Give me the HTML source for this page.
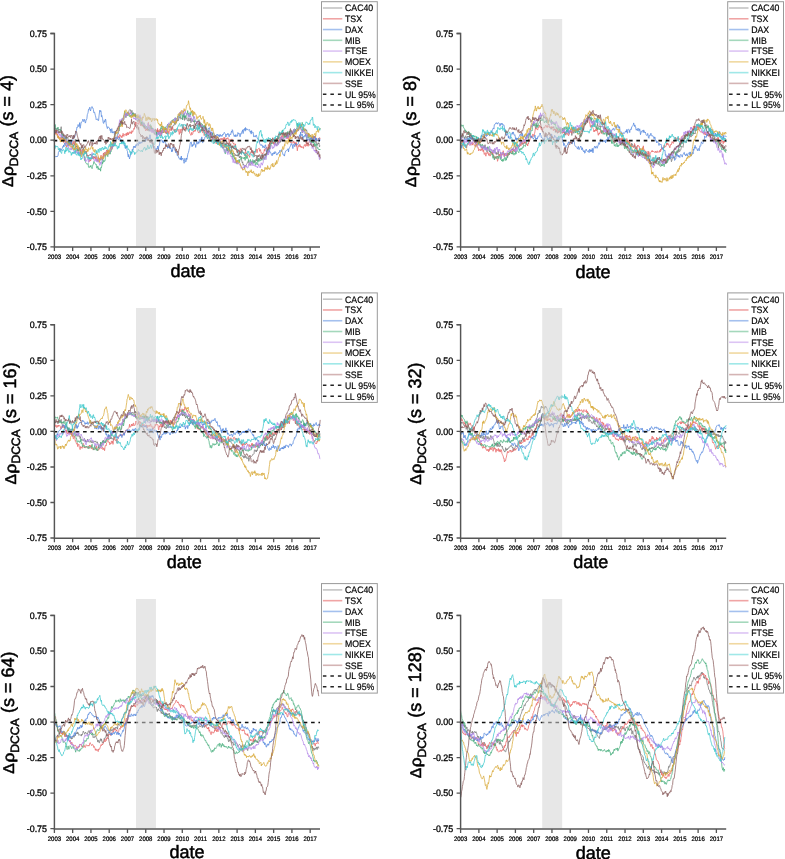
<!DOCTYPE html>
<html><head><meta charset="utf-8"><title>DCCA</title>
<style>html,body{margin:0;padding:0;background:#fff;}svg{display:block;}
text{font-family:"Liberation Sans",Arial,sans-serif;text-rendering:geometricPrecision;fill:#000;stroke:#000;stroke-width:0.3px;}
.big{stroke-width:0.5px;}</style></head>
<body><svg width="785" height="859" viewBox="0 0 785 859">
<rect width="785" height="859" fill="#fff"/>
<g transform="translate(0.00,0.00)">
<g fill="none" stroke-width="0.75" stroke-linejoin="round"><path stroke="#7a7a7a" d="M54.4,128.4l0.4,1.5 0.4-0.1 0.4-1.9 0.4,2.9 0.4-1.1 0.4,0.1 0.4,0.3 0.4-2 0.4,0.9 0.4,0.1 0.4,0.8 0.4-0.9 0.4,0.6 0.4,0.2 0.4-0.1 0.4-0.8 0.4-2.2 0.4,7 0.4,4.2 0.4-1.4 0.4,1.4 0.4-1 0.4,2.5 0.4-2.6 0.4,1.6 0.4-2.7 0.4,3.3 0.4-1.6 0.4,4.2 0.4-3.8 0.4,0.4 0.4,0.3 0.5-1.4 0.4,2.2 0.4,3 0.4-2.2 0.4,2.8 0.4,0.8 0.4,0.5 0.4-2.1 0.4,2.3 0.4-3 0.4-1.5 0.4,0.4 0.4,0.3 0.4-0.4 0.4,2.6 0.4,0.8 0.4,1.3 0.4,0.2 0.4-2.5 0.4-3.3 0.4,4.1 0.4,2.3 0.4,1.1 0.4-1.1 0.4,2.8 0.4,2.3 0.4-0.2 0.4-1 0.4,1.2 0.4-3.6 0.4,2.4 0.4-0.8 0.4,2 0.4-3.4 0.4-0.3 0.4,0.6 0.4,1 0.4,2.1 0.4-0.9 0.4,0.5 0.4-3 0.4,5.1 0.4-2.1 0.4,2.6 0.4-0.8 0.4,0.3 0.4,0.7 0.4-1.9 0.4,4.8 0.4-1.1 0.4,0.3 0.4,1.1 0.4-1 0.4,0.4 0.4-0.8 0.4-0.3 0.4,0.7 0.4-1.3 0.4,0.8 0.4-0.3 0.4,1.5 0.4,2.7 0.4-1.2 0.4-1.4 0.5,2.1 0.4-1.6 0.4,1.3 0.4-1.2 0.4,0.2 0.4-0.2 0.4-0.2 0.4-1 0.4,0.8 0.4,2.8 0.4,1 0.4,0.3 0.4-0.6 0.4,1.5 0.4-2 0.4-0.4 0.4,0.3 0.4,0.9 0.4,0 0.4-2.4 0.4,0.3 0.4-0.6 0.4,2.6 0.4-2.4 0.4,0.1 0.4-1.4 0.4-3.3 0.4,2.3 0.4-1.5 0.4,2.2 0.4-1 0.4-0.3 0.4-2.3 0.4,1.9 0.4-0.1 0.4-2.3 0.4-1.7 0.4-0.5 0.4,1.7 0.4-0.7 0.4,1.4 0.4-0.5 0.4-2.9 0.4-0.3 0.4-1.3 0.4,1.8 0.4-3.1 0.4,1 0.4,0.1 0.4-0.6 0.4-2.8 0.4-3.6 0.4-0.3 0.4-5.5 0.4-3.2 0.4,2.5 0.4,0.3 0.4-2.1 0.4-1.4 0.4,0.7 0.4-1.3 0.4,0.5 0.4-2.4 0.4,1.4 0.5,1.9 0.4-3.6 0.4-2.1 0.4-1.7 0.4-1.2 0.4,3.1 0.4-1.5 0.4-0.9 0.4-1.6 0.4,0.2 0.4-2.6 0.4,1.2 0.4-1.2 0.4-1.8 0.4-0.7 0.4-0.7 0.4-1.9 0.4,3.7 0.4-2 0.4-2.7 0.4,2.4 0.4,0.5 0.4-1.9 0.4,0 0.4-2.3 0.4-1.3 0.4-0.5 0.4-0.6 0.4,0.3 0.4,1.5 0.4,1.2 0.4,0.1 0.4-2.2 0.4,2.6 0.4,1.1 0.4-1.4 0.4,2.6 0.4-0.9 0.4,1.3 0.4-1.9 0.4-0.5 0.4,3.7 0.4-2.3 0.4,1.8 0.4-1.1 0.4,5.6 0.4-0.3 0.4,1.1 0.4-1.5 0.4-1.2 0.4,2.1 0.4-1.6 0.4,3.3 0.4,0 0.4,0.7 0.4,2 0.4-3.8 0.4,2.1 0.4-0.2 0.4,2.5 0.4-0.6 0.4,0.2 0.4,0.1 0.4,2.6 0.4-3.4 0.5,3.6 0.4,0 0.4-0.7 0.4,0.8 0.4,1.4 0.4-2.1 0.4,1.1 0.4,1.5 0.4-1.2 0.4-0.5 0.4,2.4 0.4-1.2 0.4,0.7 0.4-3.4 0.4,1.9 0.4-0.7 0.4-0.3 0.4,1 0.4-0.9 0.4,3.1 0.4-1.8 0.4,0.1 0.4,3.5 0.4,1.1 0.4-2 0.4-0.9 0.4-2.6 0.4,1.3 0.4,4.1 0.4-0.4 0.4-1.3 0.4-2.8 0.4,2.3 0.4,1.5 0.4-1.1 0.4,1.4 0.4-0.6 0.4,0.2 0.4-1.5 0.4,1.4 0.4-3.1 0.4,4.2 0.4-2.7 0.4-0.4 0.4,1.6 0.4-0.3 0.4-1.3 0.4,0.1 0.4-1.9 0.4,2.2 0.4,0 0.4-0.2 0.4,0.4 0.4,1.8 0.4-1.3 0.4-4.6 0.4-0.3 0.4-1.3 0.4-0.1 0.4,1 0.4-0.3 0.4-0.9 0.4,2 0.4-1.3 0.5-1 0.4,1.5 0.4,3.2 0.4-3.1 0.4,1 0.4-2.5 0.4-0.3 0.4,0.4 0.4-1.1 0.4-1.5 0.4,1.2 0.4,0.1 0.4-2.8 0.4,1.3 0.4-2.2 0.4,0.5 0.4-1.6 0.4,1.2 0.4-1.3 0.4,0.8 0.4-3.1 0.4,0.8 0.4-0.9 0.4,0.1 0.4-0.6 0.4,2.4 0.4-0.7 0.4-0.5 0.4,0.1 0.4,0.7 0.4-1.7 0.4-2.8 0.4,0 0.4,5.2 0.4,0.9 0.4-4.5 0.4,2.8 0.4,0.6 0.4-0.2 0.4-1.3 0.4-0.4 0.4,3.3 0.4-0.1 0.4,0 0.4,0.6 0.4-3.4 0.4,2.2 0.4,0.8 0.4,0.3 0.4-2.8 0.4,4.5 0.4-1 0.4-1 0.4-1.4 0.4,0.3 0.4,1.9 0.4-0.1 0.4,0.5 0.4-1.5 0.4,3.2 0.4,1.4 0.4,0.5 0.4-1.7 0.4,1.2 0.4,0.8 0.5,0 0.4-0.7 0.4-1.2 0.4-1 0.4,2 0.4,4 0.4-4.2 0.4,2.1 0.4,0.7 0.4-1.7 0.4-0.1 0.4,0.4 0.4-1.2 0.4-0.6 0.4,0.9 0.4,0.1 0.4,1.7 0.4,0.8 0.4,0.3 0.4-1.1 0.4-2 0.4,1.7 0.4,3.7 0.4,0.8 0.4,3.4 0.4-3.9 0.4,2.2 0.4,0.9 0.4-2.4 0.4,1 0.4,1.2 0.4,0.8 0.4-1 0.4,0.9 0.4-2.1 0.4,2.4 0.4-0.5 0.4-0.4 0.4-0.5 0.4,2.4 0.4,5.2 0.4-0.1 0.4,0.9 0.4,1.5 0.4-4.3 0.4-0.2 0.4,2.5 0.4-3.1 0.4,4.4 0.4-1.9 0.4-0.4 0.4,1.8 0.4-0.6 0.4,1.6 0.4,0.2 0.4-0.1 0.4-2.1 0.4,0.4 0.4,1.9 0.4,1.8 0.4-1.5 0.4,0.1 0.4,3.5 0.4-2.5 0.5,2.1 0.4,1.4 0.4-1.2 0.4,0.2 0.4-1.3 0.4-0.1 0.4,2 0.4-1.3 0.4-0.9 0.4-0.5 0.4,5.9 0.4-3.4 0.4,0.7 0.4,1.3 0.4,2.7 0.4-5.2 0.4,4.1 0.4-2.8 0.4,1.4 0.4,2.4 0.4,0.5 0.4-1 0.4-2.2 0.4,3.4 0.4,0.5 0.4,1.2 0.4-1.8 0.4,0.4 0.4,0.4 0.4-0.4 0.4,1.1 0.4,1.7 0.4-1.5 0.4,0 0.4,0.3 0.4,1.2 0.4-0.7 0.4,0.9 0.4-1.8 0.4,1.7 0.4-2.2 0.4,2.9 0.4,1.2 0.4-2 0.4,0.1 0.4,1.1 0.4-0.8 0.4,2.9 0.4,2.3 0.4,1.3 0.4-1.1 0.4,3.4 0.4-0.9 0.4,0.3 0.4,1 0.4,2.3 0.4-2 0.4-0.6 0.4,0.5 0.4-1 0.4-0.7 0.4-0.8 0.4-1.2 0.4-0.2 0.5-1.5 0.4,2.8 0.4-0.8 0.4,0.8 0.4,2.4 0.4-1.1 0.4-1 0.4,0.3 0.4-2.1 0.4,1.2 0.4-1.6 0.4,0.2 0.4,1.6 0.4,0.3 0.4-0.4 0.4-2.5 0.4,1.8 0.4,0.1 0.4-2.2 0.4-0.9 0.4,1.8 0.4-4.9 0.4,2.8 0.4,2.4 0.4-3.2 0.4,0.9 0.4,0.3 0.4-0.1 0.4,1 0.4-2.4 0.4-1.2 0.4,2.5 0.4-0.3 0.4-4.3 0.4,0.8 0.4,2.2 0.4-3.5 0.4,2.2 0.4,0.1 0.4-0.1 0.4-0.8 0.4,0 0.4-1.6 0.4,2.2 0.4-2.7 0.4,1.8 0.4-0.7 0.4-2.1 0.4-0.9 0.4,1.6 0.4-0.7 0.4-1.8 0.4-1.6 0.4-3.5 0.4,3.2 0.4-3.9 0.4-0.6 0.4-0.7 0.4-3.9 0.4,2.5 0.4-2.1 0.4,3.9 0.4-0.5 0.4-1.9 0.4,2.9 0.5-1.2 0.4-0.3 0.4-1.1 0.4,2.9 0.4-0.3 0.4,1.4 0.4-0.2 0.4-3.6 0.4,0.3 0.4,2.3 0.4-3.6 0.4,1.3 0.4,0.6 0.4-1.1 0.4-2 0.4,2.5 0.4-4 0.4,0.1 0.4,1.6 0.4-1.6 0.4,1.6 0.4-1.2 0.4-0.6 0.4,0.1 0.4-2.5 0.4-2.3 0.4,1.6 0.4-2.4 0.4,1.8 0.4,0.2 0.4-0.2 0.4-2.3 0.4,4.9 0.4-4.3 0.4,0.7 0.4,0 0.4-0.3 0.4-2.3 0.4,4.3 0.4-2.4 0.4,3.6 0.4-1.2 0.4-0.5 0.4-1.3 0.4-0.7 0.4-0.5 0.4,1.7 0.4-3.2 0.4,0.5 0.4-1.7 0.4,1 0.4,3.2 0.4-4.5 0.4,1.2 0.4,1.7 0.4-0.9 0.4,0.3 0.4-1.4 0.4-1.6 0.4,2.4 0.4-0.3 0.4-2.1 0.4-1.7 0.4,0.9 0.5,0.5 0.4-1 0.4,2.6 0.4,0.4 0.4-0.8 0.4,3.5 0.4-3.2 0.4,1.8 0.4-0.7 0.4-2.5 0.4,1.3 0.4,0.8 0.4,0.2 0.4-1.7 0.4,0.2 0.4,1.6 0.4-0.8 0.4,1.8 0.4,3.5 0.4,0.9 0.4-0.3 0.4-2.6 0.4,3.9 0.4,0.2 0.4-1 0.4-0.6 0.4-0.8 0.4,4 0.4-1.5 0.4-0.1 0.4,0.4 0.4,1.2 0.4-2.9 0.4,1.4 0.4-0.1 0.4,4.1 0.4-0.5 0.4,0.6 0.4,1 0.4-1.6 0.4,0 0.4,3 0.4,0.6 0.4,0.8 0.4-2.1 0.4-0.5 0.4,1.3 0.4-1.1 0.4,3.9 0.4-1.1 0.4,0.2"/>
<path stroke="#e86a6a" d="M54.4,134.2l0.4,0.7 0.4-0.7 0.4-1.2 0.4,1.2 0.4-4.2 0.4,3.3 0.4,1.5 0.4-0.8 0.4,4.1 0.4-2.3 0.4,0.7 0.4,0.6 0.4,0.9 0.4,0.8 0.4-1.5 0.4,1.3 0.4,0.7 0.4-0.2 0.4-1.1 0.4,2.5 0.4-0.5 0.4-0.8 0.4,3.3 0.4-2.6 0.4-0.9 0.4,0.2 0.4,3.9 0.4-0.8 0.4,2.5 0.4,2.4 0.4-1.6 0.4,0.5 0.5-2 0.4-1.9 0.4,1.8 0.4,1.8 0.4-1.2 0.4-1.7 0.4,1.2 0.4-1.4 0.4,2.9 0.4-1.5 0.4-3.3 0.4,2.2 0.4,2.3 0.4-2.5 0.4,0.4 0.4,0.1 0.4-2.4 0.4,3.2 0.4,0.6 0.4,2 0.4-0.2 0.4,0.8 0.4,1.2 0.4,0.3 0.4,0 0.4,2.5 0.4-3.2 0.4,2.4 0.4-0.2 0.4,0.5 0.4,0.5 0.4-0.5 0.4-0.1 0.4-0.7 0.4,2.1 0.4-0.2 0.4-2.4 0.4,0.2 0.4,2.1 0.4,0 0.4-0.7 0.4-0.4 0.4,2.1 0.4-1.3 0.4,1.5 0.4-2 0.4,1.4 0.4,0.8 0.4,2.3 0.4-0.3 0.4,0.7 0.4,1.8 0.4-0.1 0.4,0.2 0.4,3.5 0.4,0.2 0.4-2 0.4,1.5 0.4-1 0.4-0.6 0.4-1.2 0.4-0.5 0.4-1.1 0.4,1.5 0.5,1.1 0.4-2.5 0.4,0.6 0.4,1 0.4-1.3 0.4,1.9 0.4-1.5 0.4,2.6 0.4-0.6 0.4,1.9 0.4-2.9 0.4-0.7 0.4-1 0.4,2.5 0.4-1 0.4,0.1 0.4,0.8 0.4,0.4 0.4-2.6 0.4-1.8 0.4,0.7 0.4,0.6 0.4,2.9 0.4-1.9 0.4-1.8 0.4-2.2 0.4,3.8 0.4-4.6 0.4-0.1 0.4-0.5 0.4,1.6 0.4,0.8 0.4-2.6 0.4-1.7 0.4,2.2 0.4-1.7 0.4,2 0.4,0 0.4,0.7 0.4-1.6 0.4-0.6 0.4-0.2 0.4-0.5 0.4,0.8 0.4-2 0.4-2.1 0.4,1.5 0.4,0.7 0.4-1.5 0.4-4.6 0.4-0.2 0.4-0.3 0.4-1.6 0.4-0.4 0.4-0.6 0.4,0.8 0.4,0.4 0.4-0.5 0.4-0.5 0.4-1.9 0.4-2.1 0.4,1.9 0.4-1.9 0.4,0.2 0.5,1.5 0.4-3.3 0.4,0.1 0.4,0.1 0.4,1.8 0.4,0.6 0.4-1 0.4,1.5 0.4-2.6 0.4,1.2 0.4-3.1 0.4,2.4 0.4,0.7 0.4-2.1 0.4,0.2 0.4-0.6 0.4-0.1 0.4,1.7 0.4,0.5 0.4-3.1 0.4,2.3 0.4-1.2 0.4-1.9 0.4,2.9 0.4-1.9 0.4,0.6 0.4-0.7 0.4-1.4 0.4,1.4 0.4,0.4 0.4-1.5 0.4,1.7 0.4-3 0.4,1.4 0.4,0.2 0.4-1.4 0.4-1.3 0.4-1.1 0.4,0.9 0.4-3.1 0.4-0.9 0.4-3.4 0.4,2.5 0.4,1.8 0.4-4.1 0.4,1.8 0.4-0.2 0.4,0.3 0.4-0.5 0.4,1 0.4-4.5 0.4,0.4 0.4,2.1 0.4,1.9 0.4,1.4 0.4-0.4 0.4-1.8 0.4,0.1 0.4,2.6 0.4-1.3 0.4,0.4 0.4,0.8 0.4,1.1 0.4,0.5 0.4,0.5 0.5,0.8 0.4,1.7 0.4-1.4 0.4,0.2 0.4,0.3 0.4,0.6 0.4-2 0.4-1 0.4-5.1 0.4,3.5 0.4-0.3 0.4-0.4 0.4,0.6 0.4,1.2 0.4-0.5 0.4-0.5 0.4,4.9 0.4,0.7 0.4-1.5 0.4,0.8 0.4-0.8 0.4,0.9 0.4,0.5 0.4-0.3 0.4-1.7 0.4,0.5 0.4,0.6 0.4,0.2 0.4,0.5 0.4-0.8 0.4,1.2 0.4-3.3 0.4,2.9 0.4,1.2 0.4-2.1 0.4,2 0.4-1.9 0.4-1.4 0.4,4.2 0.4,2.8 0.4-2.3 0.4-1.1 0.4-3.5 0.4-0.8 0.4,3.4 0.4-0.8 0.4,1.3 0.4-3.6 0.4,1.8 0.4,0.5 0.4,0.8 0.4,1.5 0.4-2.5 0.4-2.6 0.4,2.1 0.4,2.6 0.4,0.2 0.4-2.1 0.4,0.5 0.4,2.9 0.4-2.2 0.4-3.4 0.4-0.6 0.4,0.1 0.5,2.4 0.4-1.6 0.4-0.4 0.4,0 0.4-2.2 0.4,3.1 0.4-0.3 0.4,0.7 0.4,1.2 0.4-1.3 0.4,2.8 0.4-3.7 0.4,0.5 0.4,0 0.4,1.2 0.4-0.1 0.4,0.2 0.4-0.2 0.4-1.4 0.4,1.4 0.4,1.5 0.4,2.4 0.4-2.6 0.4-2.9 0.4,2.5 0.4,1.8 0.4-2.6 0.4-1.4 0.4,0.9 0.4-3.4 0.4-2.4 0.4,2.4 0.4-0.3 0.4,0.1 0.4,1.9 0.4,1.4 0.4-0.4 0.4-1.9 0.4,1.7 0.4-2.6 0.4,2.2 0.4-0.6 0.4,0.2 0.4,0.1 0.4,0 0.4,0.6 0.4-0.4 0.4,4.4 0.4,0.4 0.4,0.7 0.4,1.1 0.4-1.2 0.4-1.9 0.4,2.5 0.4-0.6 0.4-0.8 0.4-2.5 0.4,0.9 0.4-0.4 0.4-0.1 0.4-1.3 0.4,1.3 0.4-2.8 0.4,0.4 0.4-1.5 0.5,0.9 0.4,0.2 0.4,2.7 0.4,1.2 0.4-0.1 0.4,0.8 0.4-1.6 0.4-1.1 0.4,1.4 0.4-1.9 0.4,0 0.4,1.4 0.4-2.5 0.4,2.2 0.4,1.7 0.4-0.2 0.4-0.8 0.4,0.4 0.4,3.5 0.4-2.6 0.4-2.9 0.4,1.5 0.4,2.2 0.4,1.3 0.4,2.2 0.4-2.1 0.4,0.5 0.4,0.5 0.4,2.2 0.4-4.7 0.4,1 0.4,3.3 0.4-0.4 0.4,0.2 0.4,2.2 0.4,0.7 0.4-1.6 0.4,0.8 0.4-0.1 0.4-2 0.4,1.5 0.4-0.3 0.4,0.1 0.4-0.5 0.4,0.2 0.4,2.3 0.4-0.8 0.4,1.8 0.4,1.9 0.4-0.9 0.4-2.4 0.4,0.9 0.4,0.3 0.4-2.7 0.4,1.1 0.4,0.3 0.4-1.1 0.4,0.6 0.4-1.7 0.4,1.1 0.4-0.3 0.4-0.9 0.4,1.7 0.4-1.4 0.5-0.1 0.4,3 0.4-3.2 0.4-0.9 0.4,2.1 0.4-2.1 0.4,2.2 0.4,0.7 0.4-0.2 0.4-2 0.4,0.9 0.4-0.2 0.4,0.1 0.4-1.3 0.4,1.6 0.4,1 0.4,1.9 0.4,1.3 0.4-4.1 0.4,2.1 0.4,0.6 0.4-1 0.4,0.1 0.4-2.2 0.4,0.9 0.4,2.7 0.4,0.8 0.4,0.5 0.4-0.9 0.4,3.3 0.4,1.1 0.4-0.4 0.4-3 0.4,5.6 0.4-1.2 0.4,2.3 0.4,1.6 0.4-0.8 0.4-1.7 0.4,0.3 0.4-0.1 0.4,1.2 0.4-0.7 0.4,1.5 0.4-3.4 0.4,1.2 0.4,0.1 0.4,1.1 0.4,0 0.4-0.8 0.4,2.9 0.4-1.1 0.4,0.4 0.4,1.7 0.4-1.4 0.4,2.8 0.4,0.8 0.4-4.5 0.4-0.3 0.4,2.6 0.4-1.2 0.4,1.9 0.4-1 0.4,1.6 0.5,0.1 0.4,0 0.4,0.8 0.4,1.2 0.4-2.4 0.4-2.7 0.4-0.2 0.4,0.6 0.4-3.1 0.4,1.8 0.4,0.2 0.4,1.9 0.4-1.5 0.4,2.5 0.4,0.4 0.4-0.5 0.4-1 0.4-1.6 0.4-0.9 0.4-1.6 0.4-0.2 0.4,3.2 0.4,0.5 0.4-3.4 0.4-0.5 0.4-0.2 0.4-0.3 0.4-0.3 0.4,3.1 0.4,0.2 0.4-1.9 0.4,1.9 0.4,1.9 0.4-0.5 0.4,0 0.4,1.2 0.4-0.9 0.4,0.4 0.4-0.7 0.4-1.3 0.4-2.2 0.4,1.8 0.4-2.6 0.4-0.2 0.4,0.4 0.4-0.5 0.4-1.3 0.4,4.1 0.4-1 0.4-1.9 0.4-3.6 0.4,1.5 0.4,2.1 0.4-2.3 0.4-4 0.4-0.6 0.4,1.1 0.4,0.8 0.4-2.7 0.4,1.6 0.4,0.3 0.4,0.4 0.4-0.4 0.4,1.2 0.4,0.6 0.5-2.8 0.4-0.7 0.4,0.5 0.4-1.7 0.4-0.1 0.4,0.6 0.4,0 0.4-1.7 0.4,0.5 0.4,2.8 0.4-1.2 0.4,1.3 0.4-2 0.4,0.8 0.4-3.4 0.4,2.2 0.4,0 0.4-3.3 0.4,2.2 0.4-3.7 0.4,0.4 0.4,2.7 0.4-2.4 0.4-0.6 0.4,1.2 0.4,0.3 0.4,0.7 0.4,0 0.4-1.4 0.4,0.6 0.4-0.2 0.4,3.2 0.4-2.6 0.4,2.1 0.4,0 0.4-3 0.4,4.8 0.4-1.3 0.4,2.3 0.4-0.2 0.4,1.6 0.4-0.4 0.4,0.7 0.4-0.4 0.4,0.8 0.4-0.3 0.4-0.5 0.4-0.1 0.4-1.5 0.4,2.8 0.4,0 0.4-1.8 0.4,2.6 0.4-1.8 0.4,3.9 0.4-4 0.4,4.2 0.4,4 0.4-2.8 0.4-1.4 0.4-1.2 0.4,1.5 0.4-0.2 0.4-2.4 0.5,0.6 0.4,2.3 0.4-1.1 0.4,1.6 0.4-1.1 0.4,0.6 0.4,0 0.4-0.2 0.4,1.5 0.4-2.2 0.4-1.1 0.4,0.2 0.4-1.1 0.4,2.2 0.4-0.3 0.4-2.2 0.4-4.4 0.4,6.5 0.4-3.3 0.4,1.8 0.4,1.7 0.4-3.4 0.4-0.2 0.4-2.4 0.4,0.2 0.4-1.3 0.4,2.3 0.4,1.4 0.4,0.6 0.4-2.9 0.4-3.5 0.4,2.4 0.4-0.3 0.4-0.9 0.4,0.4 0.4-2.6 0.4,2.1 0.4-2.3 0.4-0.1 0.4,3.3 0.4,1.6 0.4-0.8 0.4,0.9 0.4-0.7 0.4-0.4 0.4-1.2 0.4-0.5 0.4,1.1 0.4-1.4 0.4,0 0.4,1.1"/>
<path stroke="#5588dd" d="M54.4,156l0.4,0.9 0.4,0.1 0.4-0.5 0.4,0.3 0.4-0.1 0.4-0.7 0.4,0.7 0.4-0.7 0.4-0.1 0.4-3.4 0.4-1.1 0.4-0.2 0.4,0.2 0.4-3.2 0.4,0.7 0.4,1.8 0.4-1.3 0.4,0.8 0.4-1.4 0.4-0.9 0.4-1.3 0.4,0.6 0.4-2.2 0.4,1.8 0.4-2.7 0.4-1.2 0.4,1.7 0.4,0.9 0.4-0.9 0.4-1.4 0.4-2.1 0.4,2.8 0.5,0.3 0.4,2.2 0.4-1.5 0.4-2.5 0.4,0 0.4,0.6 0.4-1.6 0.4-0.9 0.4,0.2 0.4,3.2 0.4-2.4 0.4-0.1 0.4-0.6 0.4-1.3 0.4-3.5 0.4-0.4 0.4,0.8 0.4,1.4 0.4-2.2 0.4-0.3 0.4-0.6 0.4-2.7 0.4-1.5 0.4-3.3 0.4,0.4 0.4-1.3 0.4-1.8 0.4,1.1 0.4,1.2 0.4-0.8 0.4-3.4 0.4,5.7 0.4-1.7 0.4-2.7 0.4-1.8 0.4,0.1 0.4-0.7 0.4-0.7 0.4-1.7 0.4,1.8 0.4,0.7 0.4-1.3 0.4-0.9 0.4,1.8 0.4,1.9 0.4-0.9 0.4-2.6 0.4,0.1 0.4-1.2 0.4-3.9 0.4-0.8 0.4-1.4 0.4-3 0.4,0.4 0.4-1.3 0.4-1.2 0.4,2.5 0.4,1.2 0.4-1.6 0.4-2.1 0.4-0.5 0.4-0.3 0.4,1.5 0.4-0.1 0.5,1.7 0.4,3 0.4-0.6 0.4,0.2 0.4,1.9 0.4,1.5 0.4,1.4 0.4,2.6 0.4,0.4 0.4-0.8 0.4-0.1 0.4,0.2 0.4,1.5 0.4-0.5 0.4-4.4 0.4-2.9 0.4-2.8 0.4,1.6 0.4-1.1 0.4,0 0.4,6 0.4-1.3 0.4,1.7 0.4,1.5 0.4,3.2 0.4,1.5 0.4,0.1 0.4-2.9 0.4,1.3 0.4,0 0.4-2.8 0.4,0.9 0.4,3.9 0.4,2 0.4,1.7 0.4,1.1 0.4-1.9 0.4,0.2 0.4,0.3 0.4,0.8 0.4,0.1 0.4,1.2 0.4,1.4 0.4-1.7 0.4,3.8 0.4-3.4 0.4-0.8 0.4,2.1 0.4,2.4 0.4-1 0.4,0.5 0.4-1.1 0.4,0.7 0.4,5.2 0.4-0.4 0.4,0.6 0.4,1.7 0.4-1.9 0.4,0.8 0.4-0.2 0.4-0.8 0.4,1.8 0.4-0.1 0.4,0.8 0.5-0.3 0.4-2.1 0.4,0.9 0.4,2.6 0.4,0.5 0.4-1.7 0.4,3.4 0.4-1.6 0.4-0.4 0.4,0.2 0.4,0.3 0.4,1.3 0.4-0.6 0.4,3.3 0.4-0.5 0.4,3.3 0.4,0.2 0.4-2.9 0.4,2.1 0.4-1.5 0.4,4.4 0.4,1 0.4,3.9 0.4,1.5 0.4-2.6 0.4,2.4 0.4,2.1 0.4-1.7 0.4-1.3 0.4-0.9 0.4-3 0.4,0.7 0.4,0.8 0.4-4.3 0.4,1.2 0.4-0.4 0.4-3.6 0.4,1.1 0.4-0.3 0.4-1 0.4,1.7 0.4-2.2 0.4-0.6 0.4-0.8 0.4,1.9 0.4-2.7 0.4,0.1 0.4,0.5 0.4,1.4 0.4-2.4 0.4-1.5 0.4,2.4 0.4-1.8 0.4,0.1 0.4,1.3 0.4-1.8 0.4,0.8 0.4,0.5 0.4-1.6 0.4-0.9 0.4,0.7 0.4,0.7 0.4-0.5 0.4,0.2 0.4-0.8 0.5,0.9 0.4-2.8 0.4,1.5 0.4-3.4 0.4,2 0.4-1.3 0.4-0.7 0.4,3.2 0.4-1.2 0.4-1.2 0.4,0.8 0.4-0.8 0.4-3.2 0.4,3.7 0.4,0.1 0.4,3 0.4-1 0.4,3.4 0.4,0.3 0.4,0.8 0.4,1.5 0.4,1.1 0.4-1.3 0.4-0.1 0.4,2.2 0.4-0.4 0.4,1.6 0.4,0.4 0.4-0.2 0.4-1.4 0.4,0.7 0.4-3 0.4,1.5 0.4,2.2 0.4-3.9 0.4,0 0.4-2 0.4-2.9 0.4-0.8 0.4-0.3 0.4,0.3 0.4-0.5 0.4,0.6 0.4,2.1 0.4-1.8 0.4,0.1 0.4,2.4 0.4-1 0.4-1.9 0.4,0.9 0.4,1.1 0.4,0.7 0.4,1.4 0.4,0.3 0.4-0.2 0.4,0.8 0.4,3.1 0.4-1.3 0.4,0.8 0.4-2.3 0.4,0.5 0.4,2.3 0.4-0.8 0.4,1.2 0.5-0.6 0.4,1.3 0.4,2.5 0.4-2.1 0.4,1.6 0.4-4.3 0.4,1.1 0.4-1.1 0.4,0.8 0.4,1 0.4,1.7 0.4,0.1 0.4,2 0.4-1.4 0.4,0.2 0.4,2.1 0.4,1.9 0.4-0.4 0.4,0.9 0.4,1 0.4,1.4 0.4-0.4 0.4,0.4 0.4,1.2 0.4-1.8 0.4,2 0.4-3.8 0.4,4.2 0.4-2 0.4,0.7 0.4-0.6 0.4,1.3 0.4,1.9 0.4,1.8 0.4-1.6 0.4-3.4 0.4,2.5 0.4,1.1 0.4-0.2 0.4-3.7 0.4,1.5 0.4-2.1 0.4-2.7 0.4-1.5 0.4-0.8 0.4-1.8 0.4-1.9 0.4-1.5 0.4-3.1 0.4-1.8 0.4,0.2 0.4-0.4 0.4,2.7 0.4,2 0.4-2.1 0.4,1.3 0.4-1.7 0.4,0.3 0.4-2.5 0.4,2.1 0.4-0.2 0.4,0.7 0.4,2.8 0.4-2.9 0.4-1.6 0.5-1.7 0.4,1.3 0.4,1.6 0.4-0.6 0.4-1.8 0.4,1.5 0.4-3.8 0.4,1.1 0.4,1.3 0.4,0.2 0.4-3.3 0.4,1.6 0.4-3.5 0.4,4.5 0.4,1.3 0.4,0 0.4-3.3 0.4,0.7 0.4-0.5 0.4-0.9 0.4-1.9 0.4,0.1 0.4-0.7 0.4,0.4 0.4-1.1 0.4-1.2 0.4-3.2 0.4-0.6 0.4-2 0.4,0.4 0.4-1 0.4-0.2 0.4,1.8 0.4,2.8 0.4,0 0.4,0.2 0.4,0.6 0.4-1.4 0.4,3.2 0.4,0.1 0.4-2.5 0.4,0.6 0.4,0.4 0.4,0.4 0.4,2.7 0.4,1.6 0.4,0.6 0.4-0.5 0.4-2.6 0.4,1 0.4-2.5 0.4,0.9 0.4-0.6 0.4,1.3 0.4,0.5 0.4-1.5 0.4,2 0.4-1.7 0.4-0.8 0.4,1.7 0.4,0.5 0.4-1.1 0.4,0.7 0.4,0.2 0.5-2.1 0.4,0.6 0.4-0.4 0.4-1.3 0.4-0.7 0.4,0.8 0.4,0.3 0.4,0.5 0.4,3.1 0.4-2.3 0.4-0.7 0.4,0.7 0.4,0 0.4-1.6 0.4,0.9 0.4,0.9 0.4,1.8 0.4-1.6 0.4-1.1 0.4-0.1 0.4,0.7 0.4-2.1 0.4-1.4 0.4,1.3 0.4-2.8 0.4,0.8 0.4,2.5 0.4,1.4 0.4,1.2 0.4,1 0.4-1.5 0.4-0.2 0.4,1.8 0.4-2.1 0.4,1.8 0.4-0.3 0.4-0.1 0.4,0.1 0.4-3.6 0.4,0.8 0.4,0.6 0.4-0.7 0.4,2.4 0.4,1.1 0.4-0.1 0.4-3.1 0.4,0.7 0.4-0.8 0.4-2 0.4,0.2 0.4-1.8 0.4,3.8 0.4-3 0.4-1.5 0.4,0.6 0.4-1.3 0.4,2.8 0.4-3.7 0.4,2.8 0.4-0.6 0.4-1.1 0.4,0.9 0.4,0.1 0.4-0.3 0.5,0.8 0.4,0 0.4-0.3 0.4-0.3 0.4,2.5 0.4,0.5 0.4-1.5 0.4,3.1 0.4-3.5 0.4,1.6 0.4,0.7 0.4-0.2 0.4-0.4 0.4,4.4 0.4,0.1 0.4-0.7 0.4-0.3 0.4,1.3 0.4-0.9 0.4-1.2 0.4,0.2 0.4,1.8 0.4,0.8 0.4,1 0.4,0 0.4,1.2 0.4,0.3 0.4,0.6 0.4,2.3 0.4,1.1 0.4,0.6 0.4-0.1 0.4,0.9 0.4-1.1 0.4,0.5 0.4,0.2 0.4,2.3 0.4-1.3 0.4-0.3 0.4,1.8 0.4,0.2 0.4-1.4 0.4-1.8 0.4,0.2 0.4,2.9 0.4,4 0.4-1.3 0.4,3.5 0.4-0.7 0.4-1.3 0.4,0 0.4-2.1 0.4,2.3 0.4-1.8 0.4,1.5 0.4,0.6 0.4,0 0.4,1.4 0.4,1.1 0.4,0.7 0.4-0.3 0.4-2.5 0.4,1.3 0.4-0.8 0.4-1.2 0.5,1.7 0.4-2.4 0.4,0.6 0.4-0.3 0.4,1.6 0.4,0.5 0.4,1.1 0.4-1.3 0.4-0.1 0.4,0.3 0.4-1.5 0.4-0.5 0.4,0.6 0.4-2.2 0.4-0.3 0.4,0.8 0.4,1 0.4-0.3 0.4-1.9 0.4,1.7 0.4,1.2 0.4,1.7 0.4,0.8 0.4-0.1 0.4-0.4 0.4,1.5 0.4-2.6 0.4-1.4 0.4-1 0.4-0.1 0.4-0.7 0.4-0.2 0.4-0.1 0.4,0 0.4-1.4 0.4,3.4 0.4-2.7 0.4-0.7 0.4-1.3 0.4-0.6 0.4-0.9 0.4-1.5 0.4-0.9 0.4,1.4 0.4-0.3 0.4,1.5 0.4,2.6 0.4-4.1 0.4,0 0.4,0.1 0.4,2 0.4-1.5 0.4-2 0.4,1.8 0.4-0.4 0.4,0.7 0.4-0.2 0.4-0.3 0.4,0.4 0.4-1.1 0.4-1.2 0.4-2.9 0.4-3 0.4-2.2 0.5,1.7 0.4-4.4 0.4,3.3 0.4,0.2 0.4-1.1 0.4-0.5 0.4,2.2 0.4,2.9 0.4-2.7 0.4,0.2 0.4,0.7 0.4-1.8 0.4-0.1 0.4,0.6 0.4-1.8 0.4,2.3 0.4,3.1 0.4,1.5 0.4-1.8 0.4,0.7 0.4,0 0.4-0.2 0.4,0.4 0.4-0.9 0.4,1.6 0.4-2.6 0.4,0.9 0.4-0.4 0.4-1.2 0.4,1.8 0.4,0.6 0.4-1.5 0.4,1.6 0.4-1.7 0.4-1.8 0.4,0.2 0.4-0.1 0.4,0.1 0.4,3.7 0.4-2.5 0.4,2.8 0.4-2.5 0.4,2.4 0.4-0.1 0.4,0.1 0.4,0.5 0.4-0.4 0.4-2.7 0.4,2.7 0.4,0.1 0.4-1.3"/>
<path stroke="#4cb080" d="M54.4,125.1l0.4,2.7 0.4-3.3 0.4,3.2 0.4,0.5 0.4,1.3 0.4-1.2 0.4,0.1 0.4,0.1 0.4-1.5 0.4,3.8 0.4,0.8 0.4,0.9 0.4,0.3 0.4-2.3 0.4-1.1 0.4,2.2 0.4-1.2 0.4,1.6 0.4,5.8 0.4-3.7 0.4,1.3 0.4-1.2 0.4,2 0.4,1.4 0.4,2.5 0.4-1.7 0.4-1.7 0.4,0.3 0.4,1.2 0.4,0.6 0.4,1.3 0.4,2.2 0.5-0.9 0.4,1.3 0.4,0.6 0.4-1.3 0.4,2.1 0.4,1.2 0.4-1.4 0.4,0.1 0.4-0.6 0.4,1 0.4,0.1 0.4,0 0.4,3.9 0.4-1.8 0.4,0 0.4-1.8 0.4,5 0.4-1.5 0.4-0.5 0.4-1 0.4,1.5 0.4,0.1 0.4,1.1 0.4,1.8 0.4-1.2 0.4-1.1 0.4,0.6 0.4,0.5 0.4,2.5 0.4,1.1 0.4-1 0.4,2.8 0.4-4.4 0.4,4.2 0.4-3.3 0.4,1.8 0.4-2.2 0.4,1.9 0.4,0.9 0.4,1.1 0.4-1.2 0.4,1.5 0.4,4.7 0.4-3.9 0.4,4.7 0.4,1.4 0.4,0.2 0.4,0.8 0.4,0.6 0.4,0 0.4-0.3 0.4-0.6 0.4,3.8 0.4,0.4 0.4,0 0.4-0.7 0.4-1 0.4,1.2 0.4-1.8 0.4,2.1 0.4,0.3 0.4,1 0.4-2.1 0.4-2 0.5-0.3 0.4-2.8 0.4,1.2 0.4,0 0.4,1.1 0.4,0.2 0.4,0.4 0.4-0.4 0.4,4 0.4-0.2 0.4,0.1 0.4-2 0.4,3.7 0.4-1.9 0.4,1.1 0.4,1.1 0.4-0.8 0.4-0.6 0.4,2.7 0.4-4.1 0.4,0.6 0.4-2 0.4-3.7 0.4,1.8 0.4-4.2 0.4,2.6 0.4-0.1 0.4-1.6 0.4,0.9 0.4-0.4 0.4-3.5 0.4-2.1 0.4-1 0.4,0.7 0.4-1.1 0.4,0.2 0.4,2.5 0.4-4.4 0.4,2 0.4-0.5 0.4,0 0.4-1.7 0.4,2.1 0.4-3.2 0.4,0.8 0.4-1.4 0.4-2 0.4-1.2 0.4,0.1 0.4-1 0.4-3.1 0.4,2.9 0.4-1.2 0.4-2.5 0.4,1.9 0.4-1.4 0.4,0 0.4-3.1 0.4-0.8 0.4-1.9 0.4-2.8 0.4-0.7 0.4,0.4 0.4-4 0.5-1.3 0.4-1.4 0.4-0.3 0.4-2.8 0.4,0.5 0.4-1.3 0.4-3.3 0.4-0.7 0.4-0.9 0.4,1.3 0.4,0.7 0.4-4 0.4-0.3 0.4-2.8 0.4-2.2 0.4,0.8 0.4,0.5 0.4,1.4 0.4-0.8 0.4,0.7 0.4-0.5 0.4,0.7 0.4-1.8 0.4,3.1 0.4,0.3 0.4,0.7 0.4,0.3 0.4-1.9 0.4,0.5 0.4,1.5 0.4-1.2 0.4,0.6 0.4-2.4 0.4,2.6 0.4-0.8 0.4-2.6 0.4,2.3 0.4-0.1 0.4,0.7 0.4,0.6 0.4-2.1 0.4,3 0.4-0.3 0.4-0.6 0.4,2.6 0.4-1 0.4-1.3 0.4,1.7 0.4-2.3 0.4,0.8 0.4,1 0.4-1.7 0.4,0.4 0.4,3.6 0.4,1.2 0.4,1.4 0.4,1.6 0.4-1.8 0.4-0.9 0.4,1.7 0.4-0.2 0.4,3.9 0.4-4.5 0.4,1.5 0.4,1.1 0.5,0.9 0.4,1.7 0.4-0.5 0.4-1.1 0.4,1.5 0.4-0.2 0.4,0.8 0.4-1.2 0.4,0.1 0.4-0.4 0.4,3.5 0.4-2.7 0.4-1.9 0.4-1.1 0.4,0.5 0.4,2.2 0.4,1.7 0.4-1.5 0.4,0.5 0.4,2 0.4,1.2 0.4-0.1 0.4,0.1 0.4-0.1 0.4-1.1 0.4,0.2 0.4,1.9 0.4,2.9 0.4-3 0.4,3.9 0.4-1 0.4-1.5 0.4,0.8 0.4,0.1 0.4,0.3 0.4-2.8 0.4,0.2 0.4,0.1 0.4-0.3 0.4-4.2 0.4,1.5 0.4-3.2 0.4,0.8 0.4-0.8 0.4,3.2 0.4,3.3 0.4-0.1 0.4-0.4 0.4,0.2 0.4-5 0.4-0.1 0.4,3.2 0.4-3.3 0.4-0.5 0.4-0.5 0.4,0.4 0.4-2.3 0.4,1.6 0.4-0.5 0.4,0 0.4-0.4 0.4-0.2 0.4-1 0.4-1.9 0.5,2.7 0.4,0 0.4-2.1 0.4-0.5 0.4-1.8 0.4,1 0.4-1.8 0.4,0.4 0.4,1 0.4,0.9 0.4,2 0.4-5.8 0.4,3.1 0.4-0.7 0.4-1.5 0.4,0.9 0.4-1.5 0.4-1.6 0.4,1 0.4-0.2 0.4-2.8 0.4,0.8 0.4,1.1 0.4,1 0.4-4.6 0.4,2.1 0.4-0.2 0.4,0.5 0.4,0.9 0.4,4 0.4-5.2 0.4-0.7 0.4,2.7 0.4-3.6 0.4,4.5 0.4-1.5 0.4,1.9 0.4-2.4 0.4,1.1 0.4-3.1 0.4-0.1 0.4,0.2 0.4-3.1 0.4,3.1 0.4-0.6 0.4,3.4 0.4-1.9 0.4-0.7 0.4-1.5 0.4,2.8 0.4-2 0.4-2.2 0.4,1.8 0.4,0.2 0.4,2.7 0.4,0.8 0.4-0.3 0.4,0.5 0.4,3.5 0.4,2 0.4-0.7 0.4-0.7 0.4,0.8 0.4,0.6 0.4-0.3 0.5-0.4 0.4,0.9 0.4-1.5 0.4,0.9 0.4-0.5 0.4-1.7 0.4,3.2 0.4,0.3 0.4,2.8 0.4-0.7 0.4-0.7 0.4-1.2 0.4,0.4 0.4,1 0.4,1 0.4-0.4 0.4,1.1 0.4-0.1 0.4,2.3 0.4-2.4 0.4-0.8 0.4,1.4 0.4,0.1 0.4,3 0.4-1.4 0.4,3.1 0.4,2.8 0.4,1.3 0.4-1.2 0.4,1.2 0.4-1.1 0.4,1.3 0.4,2.9 0.4-1.7 0.4-0.8 0.4,1.8 0.4-1.4 0.4-2.8 0.4-0.8 0.4,2.7 0.4-0.6 0.4,2.8 0.4-0.6 0.4,3.5 0.4-0.5 0.4-2.2 0.4,1.8 0.4,1.6 0.4-2.2 0.4,1.1 0.4-1.6 0.4,4.1 0.4,0.9 0.4,1 0.4-0.5 0.4-1.2 0.4-1.3 0.4-0.1 0.4,3.9 0.4-0.9 0.4-1.6 0.4,0.6 0.4,0.1 0.4,1.9 0.5,2.5 0.4-1 0.4-0.3 0.4,1.7 0.4,0.4 0.4,1.9 0.4,2.8 0.4-0.1 0.4-3.4 0.4-0.1 0.4,0.6 0.4-2 0.4,2.1 0.4-1 0.4,1.7 0.4-1.6 0.4,0.6 0.4-2.3 0.4,1.7 0.4,1.9 0.4,2 0.4-1.3 0.4-2.1 0.4,4.1 0.4-1.1 0.4,3.8 0.4-0.1 0.4-2 0.4,2.3 0.4,1.5 0.4-1.6 0.4,2.3 0.4-1.5 0.4,4.5 0.4-1.6 0.4,2.1 0.4,1 0.4-3 0.4-1 0.4,1.4 0.4-0.9 0.4-1.3 0.4,3.1 0.4-2.7 0.4-0.2 0.4-1 0.4-1.4 0.4,2.1 0.4-1.6 0.4-0.2 0.4,0.6 0.4,0.5 0.4,0 0.4-1.2 0.4,1.2 0.4-1.5 0.4,3.3 0.4-2.3 0.4-3.5 0.4,2 0.4,2 0.4-3.3 0.4,1.7 0.4,1.8 0.5,0.4 0.4,2.2 0.4-0.6 0.4,0.7 0.4-0.9 0.4-1.2 0.4,3.6 0.4-1.7 0.4,2.5 0.4-2.7 0.4-1.3 0.4,0 0.4,0.1 0.4,2.8 0.4-1.4 0.4-0.7 0.4,1.3 0.4,2.2 0.4,0.8 0.4-1.8 0.4-0.8 0.4,1.7 0.4,0.9 0.4-0.6 0.4-4.2 0.4,1.2 0.4-2.9 0.4,3 0.4-0.6 0.4-0.5 0.4,0.3 0.4,0.1 0.4-1.5 0.4-0.6 0.4,1.7 0.4-1.3 0.4-0.5 0.4,0.2 0.4-0.7 0.4-0.8 0.4,0.5 0.4,1.9 0.4-3 0.4,0.7 0.4-0.4 0.4-1.2 0.4-1.1 0.4-1.7 0.4-3 0.4,1 0.4-1.7 0.4,1 0.4-0.3 0.4-0.4 0.4-1.9 0.4-1.4 0.4-0.4 0.4-2.9 0.4,1.1 0.4-2 0.4-0.8 0.4-2 0.4,0.3 0.4,0.1 0.4,1.5 0.5,0.4 0.4-0.2 0.4,1 0.4-1.5 0.4,0.8 0.4,0.1 0.4-1.7 0.4-1.6 0.4,1 0.4-2.2 0.4,1.5 0.4,0.1 0.4-3.2 0.4,0.3 0.4-0.8 0.4-1.3 0.4,1.4 0.4-1.9 0.4,0.2 0.4-1.1 0.4-2.5 0.4,4.4 0.4-1.3 0.4,2.5 0.4,0.7 0.4,1.3 0.4-1.6 0.4,1.1 0.4-1 0.4,2 0.4-1.6 0.4-1 0.4-2.6 0.4-1.3 0.4,4.2 0.4,1.2 0.4-2.4 0.4-0.2 0.4-3.1 0.4,0.4 0.4-1.1 0.4,2.9 0.4-1.4 0.4,0.1 0.4-0.1 0.4,2.3 0.4-0.6 0.4-0.8 0.4-3.3 0.4,2.3 0.4-2.3 0.4,2.2 0.4,0.6 0.4-1.4 0.4-1.8 0.4-0.2 0.4-1.2 0.4-4.7 0.4,4.1 0.4,0 0.4,3.6 0.4-1.6 0.4-0.7 0.4-0.6 0.5-0.6 0.4-1.8 0.4-0.6 0.4-0.4 0.4,1.2 0.4-3.4 0.4,2.4 0.4-0.4 0.4,2.2 0.4,3.1 0.4,0.5 0.4,0.8 0.4,1.6 0.4,1.7 0.4,2 0.4,0.5 0.4-1.1 0.4,1.8 0.4,0.9 0.4-2.1 0.4-0.2 0.4,2.1 0.4-0.5 0.4,1.9 0.4,1.8 0.4-1.9 0.4,2.9 0.4-1 0.4,1.2 0.4-0.7 0.4,1.1 0.4,0.1 0.4-2.4 0.4,2.6 0.4-1.4 0.4,0.8 0.4,3.3 0.4-2.5 0.4,1.7 0.4,1.2 0.4-2.2 0.4,0 0.4,4.1 0.4,0 0.4-0.7 0.4,1.7 0.4,0.1 0.4-0.3 0.4,0.8 0.4-0.8 0.4,1"/>
<path stroke="#b488e8" d="M54.4,130.2l0.4,0.4 0.4,1.6 0.4-0.2 0.4,0.3 0.4,0.6 0.4-1.5 0.4,2.2 0.4-2 0.4-0.1 0.4,1 0.4,0.3 0.4,2.7 0.4-0.5 0.4-1.2 0.4,2.2 0.4-0.3 0.4,1.5 0.4-2.6 0.4,1.2 0.4,0.8 0.4,0.2 0.4-0.7 0.4,1.7 0.4-1 0.4,0.7 0.4,0 0.4,3.4 0.4,1.4 0.4-2.7 0.4,1.7 0.4-1.8 0.4,4 0.5-0.1 0.4,4.3 0.4-0.6 0.4,1.1 0.4,0 0.4,1.7 0.4-0.3 0.4,0.1 0.4-2 0.4,2.4 0.4-2.3 0.4-2 0.4,2.2 0.4,0.7 0.4,1.7 0.4-0.2 0.4,3.1 0.4-0.7 0.4-0.1 0.4-1.5 0.4,2 0.4,0 0.4-0.6 0.4-1.6 0.4,3 0.4-1.2 0.4,0.3 0.4-0.9 0.4,2.2 0.4-2.1 0.4,1.9 0.4-0.3 0.4,0.3 0.4,1.1 0.4-1.1 0.4-0.6 0.4-3.3 0.4,4.2 0.4,0 0.4,1.5 0.4,0.3 0.4,0.9 0.4,2.4 0.4-1.2 0.4,1.2 0.4,2.4 0.4-1.4 0.4,0.3 0.4-0.3 0.4-1.4 0.4-0.7 0.4,1.2 0.4,3 0.4-1.5 0.4-2.6 0.4,0.1 0.4-0.9 0.4,1.8 0.4-2.1 0.4-0.4 0.4-1.2 0.4-3.2 0.4,4.7 0.4-0.8 0.5,1.2 0.4,1.3 0.4,1.6 0.4,1.1 0.4-1.2 0.4-1.3 0.4,1.7 0.4,0.4 0.4-2.6 0.4,3.5 0.4-0.9 0.4,0.9 0.4-0.3 0.4-2.2 0.4,2.7 0.4,1.8 0.4,1.3 0.4-1.7 0.4-1.9 0.4,2.5 0.4-2.6 0.4-0.5 0.4-4 0.4,0.4 0.4,0.3 0.4-0.7 0.4,0.4 0.4-3.3 0.4,0.7 0.4-1.2 0.4,0.1 0.4-1.7 0.4-0.6 0.4,2.2 0.4-1 0.4,0 0.4,2.2 0.4-1.6 0.4-0.1 0.4,0 0.4-0.7 0.4-0.1 0.4-0.8 0.4-2 0.4-1.9 0.4,0.8 0.4-0.3 0.4-2 0.4-2 0.4,0.5 0.4,1.9 0.4-3.2 0.4,0.1 0.4-0.9 0.4-0.2 0.4,0.1 0.4-1.2 0.4-3.3 0.4,0.2 0.4-1.1 0.4,0.1 0.4-1.9 0.4-2.3 0.4-5.6 0.5-3.2 0.4-3.4 0.4-1.3 0.4,1.7 0.4-0.5 0.4-1 0.4-0.9 0.4,0.3 0.4,1.1 0.4-2.4 0.4,2 0.4,0.5 0.4-3.2 0.4-1.5 0.4-2.7 0.4,2.1 0.4,1 0.4-2.3 0.4-1 0.4,1.8 0.4,1.4 0.4-2.3 0.4-0.7 0.4-0.6 0.4-0.1 0.4,2.4 0.4-1.6 0.4,1.3 0.4-2.4 0.4,2 0.4-1 0.4,1.8 0.4,1.1 0.4,0.5 0.4-0.1 0.4,0.8 0.4,1.3 0.4,0.7 0.4-1.3 0.4,1 0.4-0.7 0.4,2 0.4-2.2 0.4-1.5 0.4,3.3 0.4-2.1 0.4-2 0.4,0 0.4,2.5 0.4,1.2 0.4-1.9 0.4,0.4 0.4-3 0.4,1.7 0.4,1.5 0.4-0.5 0.4,1.4 0.4,0.4 0.4,1.2 0.4,0.8 0.4,3.4 0.4-0.9 0.4-0.3 0.4,2.4 0.4-1.5 0.5,0.4 0.4,1.6 0.4-0.1 0.4,2.7 0.4-1.5 0.4-0.5 0.4,0 0.4-3.8 0.4,5.4 0.4-0.7 0.4-1.6 0.4,3 0.4,1.6 0.4-2.4 0.4,3.2 0.4-1.1 0.4-0.5 0.4,2.8 0.4-1.7 0.4-2.4 0.4,4 0.4-4.4 0.4,2.3 0.4,0.9 0.4-0.2 0.4,2.2 0.4-0.3 0.4,2.3 0.4,0 0.4,1.4 0.4-1.5 0.4-2 0.4-1.1 0.4,2.2 0.4-2.2 0.4-0.2 0.4,3.6 0.4-3.7 0.4,1.1 0.4,1 0.4-0.1 0.4,1.8 0.4-4.4 0.4,0.5 0.4-1.7 0.4,1.7 0.4-0.7 0.4-1.2 0.4,1.8 0.4,0.1 0.4-2 0.4,1.1 0.4,0.6 0.4-0.6 0.4-1.8 0.4-1.6 0.4-3.2 0.4,1.1 0.4-1 0.4-1.8 0.4,1.9 0.4-0.3 0.4,0.8 0.4-1.9 0.5-0.9 0.4-0.8 0.4-1.1 0.4,1.8 0.4-0.8 0.4,0.1 0.4,0.6 0.4-0.3 0.4-0.3 0.4-3.6 0.4,4.5 0.4-3.4 0.4-1.2 0.4,0.7 0.4,0.2 0.4,1.3 0.4-1.2 0.4-1.4 0.4,0.3 0.4-1.2 0.4-1.5 0.4-0.7 0.4-2 0.4,1.1 0.4-1.9 0.4,1.1 0.4,0.5 0.4,1 0.4-2.9 0.4,0.4 0.4-1.4 0.4,1 0.4,2.4 0.4,1.7 0.4-2.6 0.4,0.5 0.4-2.7 0.4,2.6 0.4-0.1 0.4,1.3 0.4,0.5 0.4,0 0.4-1.5 0.4,3.6 0.4,0.3 0.4-0.7 0.4-2.1 0.4,2.8 0.4-2.4 0.4,1.7 0.4-0.2 0.4,3.4 0.4-1.9 0.4,3.6 0.4-0.3 0.4-1.1 0.4-1.4 0.4-2.8 0.4,2.3 0.4-1.4 0.4,1.8 0.4,0.5 0.4,2.2 0.4,0.1 0.4,1.3 0.5,1.5 0.4-3 0.4,1.3 0.4-0.6 0.4-0.9 0.4,0 0.4,3.4 0.4-0.3 0.4,0 0.4,2.2 0.4,0.2 0.4-1.4 0.4,2.9 0.4-2.8 0.4,2.1 0.4,0.4 0.4,0.8 0.4-1.2 0.4,1.7 0.4-0.3 0.4,1.8 0.4-0.6 0.4-0.3 0.4,1.2 0.4-0.2 0.4,2.8 0.4,0.2 0.4-2.1 0.4,3.3 0.4-1.3 0.4,1.4 0.4,0.1 0.4,2.4 0.4-1.9 0.4,0.1 0.4-3.1 0.4,0.3 0.4,3.1 0.4-0.5 0.4,1.6 0.4,1.9 0.4-2.4 0.4,0.9 0.4-0.1 0.4,2 0.4-2.4 0.4,1 0.4-0.5 0.4,2.9 0.4,1.9 0.4-2.2 0.4-0.9 0.4,2.3 0.4-2.5 0.4,0.8 0.4,0 0.4,4.2 0.4-4.6 0.4,4.6 0.4,0.5 0.4-1.4 0.4,0.9 0.4,3.1 0.4,0.4 0.5-1.3 0.4-1.6 0.4,5.5 0.4,0.7 0.4,1.1 0.4,0.6 0.4,0 0.4-0.8 0.4-2.8 0.4,2.3 0.4-0.5 0.4,2.6 0.4-0.8 0.4,2.2 0.4-2.7 0.4-2 0.4,2.8 0.4,0.7 0.4,0.9 0.4,0.7 0.4-0.1 0.4,2.2 0.4-1.2 0.4,1.5 0.4,2 0.4-2.1 0.4,5.3 0.4-2.7 0.4-1 0.4,3.7 0.4-0.8 0.4,1.5 0.4-2.7 0.4,2.6 0.4-1.5 0.4,0.3 0.4-0.9 0.4,2.6 0.4-1.5 0.4,0.7 0.4,1.1 0.4-0.1 0.4,0.5 0.4-0.6 0.4,2.2 0.4-0.4 0.4,2.6 0.4-0.6 0.4-0.5 0.4,2 0.4-1.4 0.4-0.9 0.4,1.3 0.4,0.2 0.4-3.3 0.4,1.8 0.4-1.6 0.4,0.6 0.4,1.2 0.4,0 0.4-1.3 0.4,2.2 0.4,0 0.4-0.1 0.5-1.1 0.4-3.1 0.4,1.4 0.4-1.9 0.4-1.2 0.4,0.4 0.4,1 0.4,0.6 0.4-2.4 0.4,4.2 0.4-3 0.4,1.7 0.4,1 0.4,0.1 0.4-1 0.4,0.5 0.4,0.9 0.4,0.6 0.4-1.4 0.4,1.2 0.4,0.7 0.4-0.3 0.4-0.3 0.4,1.6 0.4-1.7 0.4-0.3 0.4-2.2 0.4,1.9 0.4,0.5 0.4,1.7 0.4-0.6 0.4-2.5 0.4-2.1 0.4,1.4 0.4,0.1 0.4,1 0.4-2.4 0.4,0 0.4-4.9 0.4,1.6 0.4-1.9 0.4-1 0.4,0.5 0.4-1.2 0.4,3.8 0.4-3.3 0.4-1 0.4-1.1 0.4,0.2 0.4-3.9 0.4,4.3 0.4-1.3 0.4-3.7 0.4-0.3 0.4-0.7 0.4,0.2 0.4-2.3 0.4-1.4 0.4-0.2 0.4,0.5 0.4,2.9 0.4-0.3 0.4-1.5 0.4,1.4 0.4-0.9 0.5-3.6 0.4,2.7 0.4-1 0.4-2.4 0.4,1 0.4,0.9 0.4,1.3 0.4-1.4 0.4,0.4 0.4-0.3 0.4-2.2 0.4,0.6 0.4,0 0.4-3.7 0.4,1.1 0.4-2.9 0.4,1 0.4-2.3 0.4,1.7 0.4-0.4 0.4-0.6 0.4,1.5 0.4,0.8 0.4,1.1 0.4-0.1 0.4-1.3 0.4-0.9 0.4-0.7 0.4-0.1 0.4,1 0.4-0.6 0.4-3 0.4,1.3 0.4,0.3 0.4,1.5 0.4-4.3 0.4,1 0.4,1.7 0.4,0.1 0.4,0 0.4-0.6 0.4-3.5 0.4,0.3 0.4,0.8 0.4-2.3 0.4,2.2 0.4,0.3 0.4-0.7 0.4-3.1 0.4,0.1 0.4-1.5 0.4,2.7 0.4,1 0.4,0.2 0.4,0.6 0.4-1.8 0.4-1.9 0.4,0.8 0.4-0.2 0.4,1.2 0.4-0.7 0.4-4.4 0.4,0.2 0.4,1.2 0.5-3.5 0.4,0.2 0.4,0.7 0.4,1.2 0.4,2.6 0.4,3.6 0.4-1.4 0.4,0.6 0.4,0.8 0.4-1.6 0.4,2.6 0.4-0.1 0.4,0 0.4-0.2 0.4-0.1 0.4,4 0.4-3.2 0.4,3.4 0.4,0.7 0.4-0.1 0.4,1.2 0.4,0.7 0.4-0.2 0.4,1.7 0.4,1 0.4,1 0.4,0.6 0.4-1 0.4,0.7 0.4,3 0.4,2.2 0.4-1.4 0.4-1.3 0.4,1.6 0.4,2 0.4,1.7 0.4-1 0.4,1.4 0.4-1.5 0.4,2.8 0.4-1.2 0.4,1.1 0.4-2.1 0.4,3.4 0.4-1.1 0.4,0.7 0.4,2.8 0.4-0.5 0.4,3.6 0.4,0.2 0.4-2.2"/>
<path stroke="#d8aa3a" d="M54.4,129.7l0.4,3.5 0.4-1 0.4,0.1 0.4,0.6 0.4,0.3 0.4,1 0.4,2 0.4-0.4 0.4,2 0.4-1.7 0.4,2.7 0.4-1.1 0.4,2.3 0.4-0.6 0.4,2.7 0.4-3.3 0.4,3.2 0.4-1.2 0.4,1 0.4-3.1 0.4-1 0.4,0.7 0.4,1.2 0.4,1 0.4-0.7 0.4-0.8 0.4,0.2 0.4,1.8 0.4,0.9 0.4-0.2 0.4,0.5 0.4-0.9 0.5,1.1 0.4,1.6 0.4,0.7 0.4-0.4 0.4-0.7 0.4,0.8 0.4,2.6 0.4,0 0.4-0.8 0.4,0 0.4,0.9 0.4,0.2 0.4-1.2 0.4,3.1 0.4-0.8 0.4,0.9 0.4,0.6 0.4-1.3 0.4-0.7 0.4,2.5 0.4-7.8 0.4,0.8 0.4,1.5 0.4-1.4 0.4,0.8 0.4,3.9 0.4-2.8 0.4,0.8 0.4,3.2 0.4,0.7 0.4,0.8 0.4,0.1 0.4,0.9 0.4,2.8 0.4,2 0.4-0.8 0.4-2 0.4-3.4 0.4,3.2 0.4,0.6 0.4-0.8 0.4-4.3 0.4,3 0.4-0.8 0.4-2.6 0.4-1.6 0.4,2.5 0.4-0.5 0.4,0.8 0.4,1.6 0.4-2.3 0.4,2 0.4-3.6 0.4,1 0.4,0.5 0.4-0.3 0.4,0.2 0.4,0 0.4-1.8 0.4-1.1 0.4,0 0.4,1.2 0.4,1.7 0.4-1.9 0.5,4 0.4-0.7 0.4-0.1 0.4,1.8 0.4-3 0.4,1 0.4,0.8 0.4,0.6 0.4,2.5 0.4-0.9 0.4,0.1 0.4,1.3 0.4,1.5 0.4,1.5 0.4,1.9 0.4,2.9 0.4-3 0.4-1.4 0.4-1.5 0.4,1.1 0.4-0.7 0.4-0.5 0.4,2.3 0.4,0.2 0.4-1.9 0.4,2 0.4-1.7 0.4-3.2 0.4,0.5 0.4,0.4 0.4,0.2 0.4-1.8 0.4-1.5 0.4,0.3 0.4,3 0.4-3 0.4,0.8 0.4-3.3 0.4,3.8 0.4-0.3 0.4-2.4 0.4-0.4 0.4-2.3 0.4-2.8 0.4-1.7 0.4-1.2 0.4,2.5 0.4-0.4 0.4-1.6 0.4-3.4 0.4,1.2 0.4-1.9 0.4-2.5 0.4-1.1 0.4,0.3 0.4-3.1 0.4,0 0.4-0.4 0.4,1.6 0.4-2.1 0.4,0.4 0.4,0.8 0.4-1.7 0.4-3.9 0.5,0.3 0.4-0.4 0.4,0 0.4-0.4 0.4-0.2 0.4,0.2 0.4-3.2 0.4,1 0.4,2.3 0.4-5.8 0.4-1.1 0.4-2.4 0.4-2.3 0.4-0.3 0.4-4.3 0.4,1.1 0.4-1.3 0.4-0.7 0.4,0.5 0.4,0.7 0.4,2.3 0.4-1 0.4-0.2 0.4,1.6 0.4,0.2 0.4-0.3 0.4,2 0.4,0.2 0.4-0.1 0.4,1.8 0.4,0 0.4,0.9 0.4-2.8 0.4,1.7 0.4-1.7 0.4,1.4 0.4-2.5 0.4-0.3 0.4,2.3 0.4-2.1 0.4,0.2 0.4,0.2 0.4,0.3 0.4,2.9 0.4-1.3 0.4-0.6 0.4,2 0.4-3.6 0.4,1.4 0.4,2.3 0.4-0.3 0.4,0.6 0.4-0.9 0.4,0.9 0.4-0.4 0.4,2 0.4,0.8 0.4-0.6 0.4-0.4 0.4-3.1 0.4,1.5 0.4-1.4 0.4-0.3 0.4-3.1 0.4,1 0.5,1.1 0.4,2.1 0.4,3.3 0.4-3.3 0.4,0.1 0.4,2.6 0.4-0.6 0.4-3 0.4,2.1 0.4-1.4 0.4,2.3 0.4-2.2 0.4,1.7 0.4,0.7 0.4-1.9 0.4,2.7 0.4,1.3 0.4-2 0.4,0.3 0.4-2.1 0.4,0.2 0.4,0.9 0.4,0.4 0.4,1.1 0.4-2.6 0.4,0.6 0.4,1.1 0.4-0.2 0.4-0.9 0.4,0 0.4,1.8 0.4-1.1 0.4,3.5 0.4,0.7 0.4-0.5 0.4,1.4 0.4,0.7 0.4-1.1 0.4,2.1 0.4-1.9 0.4,0.9 0.4-3.4 0.4,4.8 0.4-0.4 0.4,0.1 0.4,2.9 0.4-3 0.4,6.2 0.4-3.1 0.4-1.6 0.4,1.8 0.4-1.4 0.4,0.5 0.4,0.6 0.4-0.3 0.4,1.8 0.4,0.5 0.4,0.3 0.4-3.5 0.4-1.8 0.4-1.8 0.4,0.6 0.4,1.3 0.4-2.9 0.5-0.4 0.4,1.8 0.4-1.7 0.4-2.7 0.4,1 0.4,1.3 0.4-2 0.4,2.3 0.4-0.9 0.4-0.4 0.4,0.7 0.4-1.2 0.4,2.2 0.4,0.3 0.4-3.4 0.4,0.8 0.4-2.5 0.4-1.9 0.4-2.6 0.4-0.4 0.4-0.4 0.4,2.5 0.4-0.7 0.4-2.6 0.4,1.2 0.4-0.8 0.4-2.3 0.4-0.4 0.4,2.4 0.4,1 0.4-0.4 0.4-2.3 0.4,0.9 0.4-3.3 0.4,2.4 0.4-1.2 0.4,0.1 0.4,0.5 0.4-1.9 0.4-2.9 0.4,0.1 0.4-1 0.4-0.1 0.4-0.6 0.4-3.3 0.4,2.4 0.4,2.4 0.4,2.5 0.4,1.6 0.4-1.8 0.4,3.6 0.4,0 0.4-0.6 0.4,1.9 0.4-2.3 0.4,5.6 0.4-0.4 0.4-4.3 0.4,3.4 0.4-2.6 0.4,0.6 0.4,1.7 0.4-0.3 0.4,0.6 0.4,2.8 0.5,1.9 0.4-2.7 0.4,0.9 0.4,0.2 0.4-0.5 0.4-1.4 0.4,0.6 0.4-0.2 0.4-1.2 0.4,3 0.4-0.3 0.4,1.7 0.4-0.6 0.4-0.8 0.4-0.4 0.4-1.4 0.4,1.3 0.4,4.5 0.4,1.2 0.4-3.7 0.4,3.6 0.4,3.1 0.4-2.7 0.4,1.5 0.4,0.3 0.4-3.1 0.4,0.6 0.4-0.3 0.4,2.1 0.4-0.1 0.4,1.7 0.4-2.7 0.4,1 0.4-0.1 0.4,3.6 0.4-0.3 0.4,0.2 0.4,3 0.4-1 0.4-2.1 0.4,1.8 0.4,2.7 0.4,0.1 0.4,5.3 0.4-1.7 0.4,2.5 0.4,0.5 0.4,0.2 0.4-1.5 0.4,1.1 0.4-2.9 0.4,0.4 0.4,1.8 0.4,0.5 0.4,3.2 0.4,0.7 0.4,2.8 0.4-1.5 0.4-2.1 0.4,0.8 0.4,2.5 0.4-2.2 0.4-2.1 0.4,0.2 0.5,1.2 0.4,3.6 0.4-0.1 0.4-0.6 0.4,1.5 0.4-2.3 0.4,2.6 0.4-2 0.4,0.6 0.4,0.8 0.4,1.3 0.4-1.6 0.4-0.2 0.4,1.2 0.4-0.6 0.4,3.9 0.4-5 0.4,3.6 0.4,1.7 0.4,2.9 0.4-0.9 0.4-0.6 0.4-0.9 0.4,0.3 0.4-1.8 0.4,0.1 0.4,2.4 0.4-0.5 0.4,3.8 0.4,0.9 0.4,0.8 0.4,0.3 0.4,1.9 0.4-1.8 0.4,5.1 0.4-2.6 0.4,0.8 0.4,1 0.4-1.5 0.4,2.5 0.4,0.1 0.4-1.1 0.4,0.3 0.4,1.5 0.4,0.1 0.4,2.3 0.4-0.2 0.4,1.4 0.4,1.2 0.4-0.1 0.4,1.9 0.4-1 0.4,0.9 0.4-0.6 0.4-0.3 0.4-1.2 0.4,1.8 0.4,1.1 0.4,1.6 0.4,0 0.4-1.5 0.4,1.6 0.4-0.3 0.4,3.7 0.5-4.7 0.4,1 0.4,0.8 0.4-1.4 0.4-1 0.4,0.6 0.4,0.9 0.4-2.5 0.4,3.1 0.4-0.7 0.4-0.1 0.4,1.3 0.4-1.8 0.4-0.2 0.4,2 0.4,0.9 0.4-0.9 0.4,2.1 0.4,0.4 0.4,0 0.4-2 0.4,1.8 0.4,1.3 0.4-1.6 0.4-1 0.4,2.2 0.4-3 0.4,2.5 0.4-0.4 0.4-0.3 0.4-1.9 0.4-0.7 0.4-2.1 0.4-1.4 0.4,1.3 0.4-0.9 0.4,2.2 0.4-1.4 0.4,0.3 0.4-0.7 0.4,1.4 0.4-3.7 0.4-0.5 0.4,2.2 0.4-0.1 0.4-0.2 0.4-1.5 0.4,2.1 0.4-4.1 0.4,0.9 0.4,2.4 0.4,0.1 0.4-1.2 0.4,1.9 0.4-0.4 0.4-0.9 0.4-2.1 0.4-1.7 0.4-0.2 0.4,0.1 0.4,2.1 0.4-3.4 0.4,2 0.4,1.8 0.4,0 0.5-1.7 0.4,0.1 0.4-2.8 0.4,2.2 0.4-1.6 0.4-2.7 0.4,3.3 0.4-1.2 0.4-0.8 0.4-1.8 0.4-1.5 0.4-1.5 0.4-0.4 0.4-2.3 0.4,2.1 0.4-4 0.4-0.3 0.4-0.1 0.4-1.1 0.4-1 0.4-2 0.4-1.4 0.4,2.9 0.4,0 0.4-2.2 0.4-2.7 0.4,1.1 0.4-4.8 0.4,0.4 0.4-0.8 0.4,0.5 0.4,2.6 0.4,0.2 0.4,0.5 0.4-4.4 0.4,2.5 0.4-2.9 0.4,2.9 0.4-4.1 0.4-2.2 0.4,3.2 0.4-0.5 0.4-1.5 0.4,0.2 0.4,1.2 0.4-1.4 0.4-2.3 0.4-1.1 0.4,3 0.4-1.4 0.4,0.1 0.4-2.5 0.4,1.3 0.4-2.2 0.4,2.3 0.4-4.5 0.4,2 0.4-1 0.4-1.7 0.4,0.4 0.4,0.6 0.4-1.1 0.4-2.7 0.4-1.9 0.5,1.1 0.4,0.7 0.4-0.1 0.4-1.5 0.4,2.2 0.4,0.5 0.4,0.6 0.4-0.4 0.4-0.2 0.4,0.1 0.4,2.8 0.4,0.2 0.4-0.6 0.4,0.6 0.4,0.6 0.4,2.4 0.4,0 0.4,0.1 0.4,0.1 0.4-0.4 0.4,0.1 0.4-0.3 0.4,3.6 0.4-2.9 0.4,2.7 0.4-1.2 0.4,1.1 0.4,0.2 0.4,0.6 0.4-1.8 0.4-1.3 0.4,4.2 0.4-2.3 0.4-0.6 0.4-0.3 0.4-0.7 0.4,0.1 0.4-1.3 0.4,3.2 0.4,0 0.4-4.9 0.4,0.1 0.4,0.5 0.4-0.6 0.4-1.8 0.4,1.5 0.4,1.2 0.4-3.6 0.4,0.9 0.4-0.1 0.4-1.6"/>
<path stroke="#3cc8cc" d="M54.4,147.8l0.4,0.6 0.4,0 0.4-2.8 0.4,1.5 0.4-0.6 0.4,0.5 0.4-0.4 0.4-0.2 0.4,0.7 0.4,2.9 0.4-0.2 0.4-1.4 0.4,1.5 0.4,1.6 0.4-0.8 0.4,1.5 0.4,0.8 0.4,0.5 0.4-2.5 0.4-1 0.4,0.6 0.4-1 0.4-0.2 0.4,0.9 0.4,0.7 0.4,2.7 0.4-3.5 0.4,1.7 0.4-4.8 0.4,4.1 0.4-0.9 0.4,0.2 0.5-2.5 0.4,0 0.4,3 0.4,1.4 0.4-0.6 0.4-1.1 0.4,1.6 0.4-0.2 0.4-0.1 0.4,3.4 0.4-1.9 0.4,0.8 0.4-2.1 0.4,1.1 0.4-1.1 0.4,1.2 0.4,0.5 0.4-1.9 0.4-1.6 0.4-0.8 0.4,4.5 0.4-0.1 0.4,1 0.4,0.4 0.4-1.1 0.4-0.7 0.4-1.4 0.4,3.2 0.4-1.8 0.4,2.2 0.4,0.3 0.4-1.1 0.4,2.1 0.4,2.9 0.4-1 0.4-0.9 0.4,0.6 0.4-2.3 0.4-0.6 0.4-1.3 0.4,0.4 0.4-1.8 0.4,1.3 0.4-3.2 0.4,0.8 0.4,1.9 0.4-1.2 0.4,2.3 0.4,2.7 0.4-0.3 0.4,0.6 0.4,0 0.4-1.4 0.4,2.8 0.4-1.9 0.4,1.6 0.4-1.6 0.4,1.8 0.4-0.8 0.4-0.8 0.4,1.4 0.4-4.3 0.4-0.1 0.4,0.2 0.5-1.5 0.4,1.4 0.4-1.2 0.4,0.8 0.4,1.1 0.4-0.3 0.4-1.8 0.4-3.1 0.4,2.6 0.4,0.1 0.4-0.3 0.4-1.7 0.4-1.9 0.4,0.9 0.4,2.6 0.4-3.8 0.4-0.5 0.4,0.9 0.4-0.6 0.4,2.5 0.4-3.1 0.4,0.3 0.4-0.6 0.4-0.6 0.4,2.6 0.4-1.1 0.4,1.1 0.4-1.8 0.4,0.8 0.4-2.4 0.4,1.1 0.4,1.3 0.4-1.4 0.4,0.9 0.4,1 0.4,0.5 0.4,0 0.4-1.7 0.4-1.8 0.4-0.5 0.4-1.2 0.4,1.1 0.4,1.4 0.4-5.5 0.4,2.3 0.4,1.9 0.4-1.2 0.4-0.8 0.4,2.2 0.4-0.8 0.4-0.3 0.4,1.2 0.4-0.8 0.4,1 0.4-2.5 0.4,1.2 0.4,1.3 0.4-0.9 0.4,0 0.4,1.5 0.4,2.4 0.4-0.8 0.4-2.5 0.4,2.2 0.5-0.5 0.4-4.2 0.4-0.1 0.4,0.6 0.4-0.7 0.4,0.9 0.4-2.6 0.4,2.3 0.4-1.2 0.4-0.9 0.4,2.5 0.4-2 0.4-1 0.4,3.2 0.4-1.1 0.4-0.4 0.4,3.6 0.4,1.7 0.4-1.3 0.4,0.3 0.4-1.7 0.4,2 0.4,0.3 0.4,1.7 0.4-0.4 0.4,1.1 0.4,0.1 0.4,2.1 0.4-1 0.4,3.6 0.4-1.2 0.4-1.8 0.4,0.4 0.4-1.6 0.4-0.9 0.4,1.9 0.4-0.1 0.4-0.1 0.4,1 0.4,2 0.4-2.1 0.4,0.8 0.4-0.3 0.4,0 0.4-0.6 0.4-1.5 0.4,0.4 0.4-0.8 0.4-1.1 0.4,0.5 0.4,1 0.4,0 0.4-0.4 0.4,0.3 0.4,0.6 0.4-0.2 0.4-0.9 0.4,0.4 0.4,1.3 0.4-1.4 0.4-1.2 0.4,0 0.4-1.6 0.4,0.3 0.4-0.9 0.5,0.9 0.4,2.3 0.4-1.3 0.4-0.8 0.4,1.6 0.4-1.7 0.4-2.9 0.4,0 0.4,3.4 0.4,0 0.4-1.3 0.4,1.2 0.4-1.4 0.4-1.2 0.4-1.2 0.4,1.5 0.4,2.2 0.4-1.6 0.4-1.6 0.4-1.9 0.4,0.2 0.4,0.4 0.4,0.6 0.4-0.2 0.4-0.7 0.4-2.5 0.4-1.1 0.4-2.3 0.4,0.5 0.4-1.4 0.4,2.1 0.4-2.3 0.4,0.7 0.4,1.1 0.4-1.8 0.4-0.9 0.4-1 0.4,1.5 0.4,1.8 0.4-1.4 0.4-0.6 0.4-1.3 0.4,3.1 0.4-1.3 0.4,2.4 0.4-1 0.4-0.3 0.4-0.2 0.4-0.6 0.4-0.7 0.4-0.5 0.4,3.7 0.4-2.3 0.4-1.1 0.4,0.5 0.4,0.2 0.4-3.9 0.4,1.4 0.4,0.8 0.4,3.9 0.4-2.1 0.4,0.6 0.4-1.3 0.4,0.2 0.5-4.1 0.4,1 0.4,1.3 0.4,0.8 0.4-3.8 0.4,2.3 0.4,0.1 0.4-1.4 0.4-0.2 0.4-3 0.4,1.9 0.4-0.5 0.4,1.8 0.4-1.2 0.4,0.7 0.4-3.7 0.4,1.5 0.4-2.9 0.4-0.1 0.4-1.7 0.4-0.6 0.4-0.4 0.4-0.6 0.4,2.9 0.4-0.6 0.4,0.4 0.4,0 0.4-2.2 0.4,0.4 0.4,3.9 0.4-1.7 0.4-0.2 0.4-2.2 0.4,0.5 0.4,0.1 0.4,0.3 0.4-0.4 0.4,1.4 0.4-1.4 0.4,3.9 0.4-0.9 0.4,1.3 0.4,0.7 0.4,0.6 0.4,1.3 0.4-2.5 0.4-0.3 0.4,1.3 0.4-1.9 0.4-2.6 0.4,4.1 0.4-1.3 0.4,1.4 0.4,1.1 0.4-1.7 0.4-0.8 0.4,2.1 0.4-1.9 0.4-2.7 0.4,2.8 0.4-0.3 0.4,0.2 0.4,1 0.4,0.2 0.4-0.7 0.5-2.4 0.4-1.6 0.4,5.5 0.4-0.8 0.4-2.3 0.4,1.8 0.4-2.8 0.4,3.2 0.4,2.9 0.4-2.9 0.4-0.1 0.4-0.5 0.4,1.4 0.4-4.3 0.4,1.4 0.4,0.7 0.4,3.2 0.4-0.9 0.4,2.3 0.4-0.9 0.4,3.3 0.4,0.1 0.4-1.4 0.4,2.4 0.4-1.2 0.4,1.2 0.4,2.6 0.4-0.7 0.4-1.5 0.4-0.2 0.4-0.1 0.4,1.9 0.4,0.9 0.4,1.7 0.4,0.1 0.4,0.9 0.4-0.1 0.4,0.2 0.4-2 0.4-0.7 0.4,3.6 0.4,1 0.4-0.5 0.4-1.1 0.4,0.6 0.4-2 0.4,0.5 0.4-0.1 0.4-1 0.4,2.5 0.4-0.5 0.4-0.1 0.4,2.4 0.4-1.5 0.4-0.5 0.4-0.1 0.4-2.1 0.4,1.5 0.4,1 0.4-0.6 0.4,5 0.4-3.1 0.4-1 0.4-0.4 0.5,0.3 0.4,0 0.4,1.2 0.4-0.6 0.4,0.6 0.4,0.7 0.4,1.6 0.4-2.8 0.4,1.7 0.4-1.8 0.4,2.6 0.4-0.9 0.4,0.7 0.4-0.7 0.4,0.8 0.4,0.5 0.4-1.6 0.4,4 0.4-1.1 0.4-0.8 0.4-0.8 0.4,1.2 0.4-0.5 0.4-0.6 0.4-0.8 0.4,2.4 0.4-1.6 0.4,2 0.4-1.6 0.4-0.3 0.4-0.4 0.4,1.2 0.4-2.3 0.4,1.8 0.4,1.2 0.4,0.8 0.4,1.5 0.4-1.1 0.4,1.6 0.4,2.6 0.4-0.6 0.4,0.8 0.4-0.6 0.4,0.1 0.4-1.5 0.4,1.9 0.4-1.1 0.4,2 0.4-4.2 0.4,1.8 0.4,0.9 0.4-0.9 0.4,1.4 0.4-0.8 0.4,2.4 0.4,0.2 0.4-1.4 0.4,0.6 0.4-0.7 0.4-0.5 0.4,0.6 0.4-0.9 0.4,0 0.4-2.2 0.5,1.5 0.4-1 0.4,3.6 0.4-0.1 0.4-1.5 0.4,0.4 0.4,0.1 0.4,0.3 0.4-0.3 0.4,1.7 0.4-1 0.4,1.1 0.4,1.6 0.4-1.6 0.4,0 0.4-3.1 0.4-1.6 0.4,1.3 0.4-2.7 0.4-1.6 0.4-3.6 0.4-0.6 0.4-2.9 0.4,2 0.4-1.2 0.4-1.2 0.4-4 0.4-1.4 0.4-3.4 0.4,0.5 0.4-0.4 0.4-1.6 0.4,2.2 0.4,3.9 0.4-2 0.4,3.4 0.4,0 0.4,0.6 0.4,3.6 0.4-1.7 0.4,2.3 0.4-1.7 0.4-1.7 0.4,3.5 0.4,0 0.4-1.4 0.4-2.7 0.4,1.7 0.4,0.1 0.4-0.2 0.4-2.7 0.4,1.2 0.4-0.3 0.4,0.7 0.4-0.2 0.4-0.7 0.4,2.7 0.4-1.2 0.4,0.7 0.4-0.3 0.4,0.8 0.4-0.6 0.4,1 0.4-0.4 0.4-1.7 0.5,0.6 0.4-2.5 0.4,2.3 0.4-3.7 0.4,0.3 0.4,0.3 0.4,0.6 0.4-1.2 0.4,1.2 0.4,1.1 0.4-0.6 0.4-2.2 0.4-3.6 0.4,3.2 0.4-2.5 0.4,2.5 0.4-2.3 0.4-0.2 0.4,0.3 0.4-2 0.4,2.1 0.4-1 0.4-0.4 0.4-1.3 0.4-1.2 0.4-0.5 0.4-0.2 0.4,0.4 0.4-2.2 0.4-1.9 0.4,0 0.4,0.3 0.4-1.2 0.4-1.7 0.4,0.5 0.4,1.5 0.4,1.9 0.4-1 0.4,0.2 0.4-2.8 0.4,0.2 0.4-1.2 0.4,1.3 0.4-2.4 0.4,0.2 0.4,1 0.4-1.4 0.4-0.6 0.4,0.9 0.4,0.1 0.4-0.3 0.4,0.2 0.4-0.1 0.4,0.7 0.4,0.6 0.4,1.8 0.4,2.3 0.4-0.7 0.4,1.1 0.4-1.9 0.4,2.7 0.4-4.3 0.4,2.9 0.4-1.6 0.5-1 0.4,4.2 0.4-1.4 0.4,1.5 0.4-0.5 0.4,0.1 0.4,3.5 0.4-2.7 0.4-3.4 0.4,0.7 0.4,0.4 0.4,1.3 0.4-1 0.4-1.9 0.4-0.4 0.4-1.3 0.4,0.6 0.4-0.2 0.4,1.1 0.4-0.2 0.4,1.4 0.4,0.4 0.4-1.6 0.4-0.2 0.4,1.3 0.4-3.1 0.4-1.4 0.4-0.3 0.4,0.1 0.4,0 0.4-2.3 0.4-0.4 0.4,4.4 0.4,4.1 0.4-1.4 0.4,0 0.4,0.6 0.4,3.3 0.4-2.4 0.4,0.3 0.4,0.5 0.4,1.1 0.4,1.1 0.4,1.5 0.4-3.8 0.4,0.5 0.4,0.2 0.4,0.2 0.4,1.4 0.4,1.7 0.4-2.1"/>
<path stroke="#8a5c5c" d="M54.4,130.9l0.4,0.3 0.4-1 0.4,2.9 0.4-2.9 0.4,2.4 0.4-2.2 0.4,0.4 0.4-0.6 0.4,0.4 0.4,2.5 0.4-0.2 0.4-1.5 0.4,1 0.4-0.2 0.4,0.9 0.4-0.8 0.4-2 0.4,3.2 0.4-2.4 0.4,2.5 0.4-0.8 0.4,0.6 0.4,2.8 0.4-1.6 0.4,0.9 0.4-0.3 0.4,0 0.4,1 0.4-0.2 0.4,2 0.4-3.5 0.4,0.8 0.5-1 0.4,2 0.4,0.9 0.4-0.9 0.4,0.6 0.4-1.4 0.4,1.2 0.4,0.9 0.4-2.5 0.4,0.7 0.4-0.4 0.4,1.7 0.4,2 0.4-2 0.4-1.9 0.4,3.7 0.4-3.3 0.4,1.6 0.4-2.6 0.4-0.6 0.4-3.1 0.4,1.1 0.4-0.2 0.4,1.5 0.4,2.7 0.4,0.8 0.4,2.1 0.4,0.1 0.4,2.4 0.4-0.5 0.4,2.5 0.4,0.1 0.4,1.1 0.4-1.2 0.4,2.6 0.4,2.2 0.4-3.4 0.4,3 0.4-2.7 0.4-0.1 0.4-0.5 0.4,1.7 0.4,1.4 0.4-1.2 0.4,0.8 0.4-0.8 0.4-1.3 0.4,0 0.4-0.8 0.4-0.6 0.4-1.9 0.4,0.1 0.4-1.3 0.4,2 0.4,0.6 0.4,2.4 0.4-1.7 0.4-2.1 0.4-0.1 0.4,0.9 0.4,0.6 0.4,3 0.4-3.7 0.4,0.9 0.5,0.9 0.4-0.5 0.4-1.1 0.4,1.2 0.4-1.1 0.4,1.3 0.4-1.4 0.4-0.9 0.4-0.6 0.4,3.2 0.4-3.4 0.4-0.9 0.4,0.6 0.4-1.4 0.4-1.5 0.4-1.2 0.4-0.2 0.4,2.7 0.4-3.4 0.4,3.8 0.4-1.8 0.4-2.4 0.4,2.2 0.4,1.9 0.4-0.1 0.4,0 0.4,0.9 0.4,0.2 0.4,1.5 0.4,1.1 0.4-1.7 0.4,3.1 0.4-0.4 0.4-1.8 0.4-2.2 0.4,2.5 0.4-0.8 0.4-4.6 0.4,1.2 0.4-0.9 0.4,2.1 0.4-0.1 0.4-1.4 0.4,1.7 0.4-1.3 0.4,1.4 0.4,0.2 0.4-0.7 0.4-0.8 0.4-0.3 0.4,1.8 0.4-2.2 0.4,1.2 0.4-0.6 0.4-1.2 0.4-5.3 0.4-0.1 0.4-1.2 0.4-0.2 0.4-0.2 0.4-2.2 0.4,0.4 0.4-1.9 0.4-0.3 0.5,0.6 0.4-3.6 0.4,0.3 0.4-0.3 0.4-2.2 0.4,2.4 0.4-2.8 0.4,3 0.4-1.6 0.4,2.7 0.4-2.3 0.4,0.4 0.4,0.9 0.4-0.8 0.4-1.6 0.4,3.6 0.4-0.9 0.4,0.2 0.4,0.4 0.4,3 0.4-0.3 0.4-0.4 0.4,0.1 0.4,0.8 0.4-0.3 0.4,0.7 0.4,0.3 0.4,0 0.4-1.5 0.4-2.9 0.4-0.5 0.4-4.4 0.4,4.6 0.4,0.4 0.4-2.2 0.4-0.2 0.4,0 0.4-0.6 0.4,2.9 0.4,0.7 0.4-0.3 0.4,1.7 0.4,0.8 0.4-0.2 0.4,1.5 0.4-3.5 0.4,0.6 0.4,1.5 0.4,2.7 0.4-2.3 0.4,4.6 0.4,1.7 0.4,0.1 0.4,0.3 0.4,1 0.4,1.8 0.4-1 0.4,0.3 0.4-1 0.4,3.7 0.4-1.8 0.4-0.6 0.4,1.5 0.4,1.2 0.4-1.5 0.5,1.3 0.4-1.4 0.4,1.2 0.4-1.3 0.4-0.9 0.4,2 0.4,1.9 0.4,0.2 0.4-1.4 0.4,1.8 0.4-0.5 0.4,1.3 0.4,0.9 0.4-0.2 0.4-1 0.4,0.7 0.4-3 0.4,3.1 0.4,1.5 0.4-1.4 0.4,0.8 0.4,4.9 0.4,1.2 0.4,3.2 0.4,0.7 0.4,0.4 0.4-4.1 0.4,3.7 0.4-2.9 0.4,0.8 0.4-0.7 0.4,1.9 0.4-1.5 0.4-1.1 0.4,0.1 0.4,5 0.4-2.4 0.4,1.7 0.4-0.3 0.4-1.7 0.4,3.7 0.4-2.9 0.4-0.8 0.4,0.2 0.4-2.1 0.4,0.6 0.4-2.8 0.4,1 0.4-1.4 0.4,0.8 0.4,0.2 0.4-4.2 0.4,2.1 0.4-1.6 0.4,2.1 0.4-0.5 0.4,0.4 0.4-0.4 0.4-2.7 0.4-0.1 0.4,1.3 0.4,2.4 0.4,0.8 0.4-5.2 0.5,1.4 0.4-1.1 0.4,1.1 0.4-0.5 0.4,1.5 0.4,0.7 0.4,1.4 0.4-3.4 0.4,1.6 0.4,1 0.4,1 0.4,0 0.4,3.5 0.4-0.8 0.4-1.5 0.4,3.2 0.4,0.3 0.4-1.4 0.4,4.3 0.4-3.5 0.4-2.7 0.4-0.2 0.4-3.4 0.4-0.8 0.4-3 0.4-1.9 0.4-4.1 0.4-2.1 0.4-1.7 0.4-2.1 0.4-1 0.4-1.5 0.4,2.5 0.4,0.4 0.4-1 0.4,1.9 0.4,0.2 0.4-0.3 0.4-2.1 0.4-2.2 0.4-2.6 0.4-0.8 0.4,2 0.4,0.5 0.4,1.6 0.4-0.7 0.4-1.9 0.4,0.9 0.4-1.7 0.4,2.9 0.4-0.8 0.4-0.1 0.4,0 0.4-0.7 0.4,0.6 0.4-0.7 0.4-0.4 0.4,1.5 0.4,2.7 0.4-3.2 0.4,2 0.4-2.1 0.4-2.1 0.4,0.5 0.4-0.6 0.5-1.7 0.4-0.3 0.4-0.6 0.4,0.5 0.4,0.4 0.4-0.4 0.4,3.6 0.4-3.2 0.4,1.2 0.4,2.3 0.4,1.2 0.4,0.7 0.4,1.5 0.4,2.3 0.4-3.9 0.4,1.6 0.4,0.4 0.4,2 0.4,0.1 0.4-1.2 0.4-0.4 0.4-2.3 0.4-0.8 0.4,2.4 0.4,2.1 0.4,0.7 0.4-0.2 0.4,1 0.4,0.1 0.4-2.2 0.4,0.9 0.4,0 0.4,1.5 0.4,0.2 0.4,0.4 0.4,4.2 0.4,0.6 0.4-2.3 0.4,2.2 0.4-1.3 0.4,0 0.4-0.1 0.4-0.8 0.4,1.6 0.4,0.4 0.4-2.2 0.4-0.6 0.4,2.3 0.4,1 0.4-0.2 0.4-0.6 0.4,0.2 0.4,0.1 0.4-0.6 0.4,2 0.4,1.5 0.4-1.4 0.4,0.5 0.4,2 0.4,1.3 0.4-0.3 0.4,0 0.4,0.7 0.4-0.7 0.5,1.3 0.4-1.1 0.4-1 0.4-0.7 0.4,2.4 0.4,0.4 0.4,0.1 0.4-0.6 0.4,1.1 0.4-2.5 0.4-1.1 0.4,2.8 0.4-1.2 0.4,1 0.4,1.8 0.4-2.7 0.4,0.2 0.4,2 0.4,0.9 0.4-0.2 0.4-2.2 0.4,4 0.4,1.1 0.4-2.9 0.4,1.7 0.4-1.6 0.4,0 0.4,2.1 0.4,0.8 0.4,0.4 0.4-1.3 0.4,0.7 0.4,0.9 0.4-0.7 0.4,0.2 0.4,0.3 0.4,2.9 0.4,1 0.4-2.5 0.4,0.1 0.4-0.5 0.4,2.1 0.4,2.1 0.4-3.3 0.4,1 0.4,0.7 0.4,0.5 0.4-2.6 0.4-2.5 0.4,0.4 0.4-0.5 0.4,0 0.4,1.3 0.4-0.3 0.4-0.6 0.4,1.1 0.4-0.5 0.4,2 0.4-2.5 0.4-1.1 0.4,0.7 0.4-0.2 0.4-0.4 0.4-1.5 0.5,0.9 0.4-0.6 0.4-0.6 0.4,0.9 0.4-0.2 0.4,3.4 0.4-1.9 0.4-0.4 0.4,3 0.4,1.9 0.4-1.9 0.4-0.3 0.4,1.7 0.4-0.4 0.4,2.9 0.4,1.8 0.4,0.1 0.4-1 0.4-0.1 0.4-0.2 0.4,0.6 0.4,0.1 0.4-0.6 0.4,2.1 0.4-0.7 0.4-1.3 0.4,1.5 0.4-2.1 0.4,0.2 0.4-0.2 0.4,2.1 0.4,2.1 0.4-0.5 0.4,0.8 0.4-1.2 0.4-3.2 0.4,3.5 0.4-1.4 0.4-1.5 0.4,0 0.4-1.4 0.4-0.1 0.4,0.9 0.4-0.3 0.4-0.9 0.4,0.1 0.4-2 0.4-1.1 0.4-1.9 0.4,0.8 0.4-2.3 0.4,1.6 0.4-3.9 0.4-2.2 0.4,1.6 0.4-3.3 0.4,0.7 0.4-1.6 0.4-1.2 0.4,2.3 0.4-2 0.4-1.6 0.4,1.4 0.4-0.1 0.4,0.5 0.5,1.9 0.4-1.3 0.4-0.6 0.4,0.9 0.4,0.9 0.4-2.8 0.4,2.9 0.4-1.6 0.4,0.6 0.4-4.8 0.4-0.3 0.4-1.7 0.4,0.3 0.4,0.4 0.4,0.2 0.4,0.2 0.4-0.1 0.4-1.8 0.4,1.1 0.4-0.5 0.4-0.4 0.4,2 0.4-0.8 0.4-2 0.4,1.3 0.4,0.4 0.4,1.8 0.4-2.7 0.4-0.2 0.4,2.4 0.4,1 0.4,0.3 0.4-3.7 0.4,0.4 0.4-0.2 0.4-0.1 0.4,0.2 0.4,2.1 0.4-2.1 0.4-3 0.4-1.5 0.4,2.7 0.4,0.1 0.4-0.9 0.4,2.8 0.4,0.2 0.4,0.1 0.4,0.5 0.4,3 0.4-1.3 0.4-0.6 0.4,1 0.4,2.8 0.4-2.9 0.4,1.4 0.4-0.3 0.4,1.2 0.4-1.6 0.4-0.5 0.4-0.2 0.4,2.5 0.4-1.1 0.4,0.8 0.4,1.1 0.5-0.3 0.4-2.8 0.4,0.2 0.4,2.8 0.4,0.1 0.4-2.4 0.4,3.2 0.4-0.7 0.4-0.1 0.4,2.2 0.4,0 0.4-0.6 0.4,0.1 0.4-0.4 0.4,0.9 0.4,1.4 0.4,0.4 0.4,0.1 0.4,0.2 0.4-1 0.4,1.1 0.4,0.6 0.4,0.2 0.4,0.3 0.4,0.1 0.4-0.1 0.4-1.2 0.4,1 0.4,0.8 0.4-0.9 0.4,1.5 0.4,0.8 0.4-0.6 0.4-2.4 0.4,2.8 0.4-0.3 0.4,0.3 0.4,0 0.4,0 0.4,0.9 0.4,3.3 0.4-1 0.4,1.4 0.4,3 0.4-0.6 0.4,0.3 0.4-2.6 0.4,2 0.4,3.3 0.4-2.2 0.4,3.9"/></g>
<line x1="53.65" y1="140.6" x2="320.0" y2="140.6" stroke="#111" stroke-width="1.55" stroke-dasharray="3.6 3.755"/>
<rect x="136.0" y="18.00" width="19.95" height="228.30" fill="#d3d3d3" fill-opacity="0.55"/>
<path d="M50.4,33.5H54.4V247.0H320.0" fill="none" stroke="#555" stroke-width="1.45"/>
<path d="M50.4,33.5H54.4M50.4,69.1H54.4M50.4,104.6H54.4M50.4,140.2H54.4M50.4,175.8H54.4M50.4,211.3H54.4M50.4,246.8H54.4M54.40,247.0V251.0M72.67,247.0V251.0M90.94,247.0V251.0M109.21,247.0V251.0M127.48,247.0V251.0M145.75,247.0V251.0M164.02,247.0V251.0M182.29,247.0V251.0M200.56,247.0V251.0M218.83,247.0V251.0M237.10,247.0V251.0M255.37,247.0V251.0M273.64,247.0V251.0M291.91,247.0V251.0M310.18,247.0V251.0" stroke="#555" stroke-width="1.3" fill="none"/>
<text transform="translate(47,36.75) scale(1,1.06)" text-anchor="end" font-size="8.9">0.75</text>
<text transform="translate(47,72.30) scale(1,1.06)" text-anchor="end" font-size="8.9">0.50</text>
<text transform="translate(47,107.85) scale(1,1.06)" text-anchor="end" font-size="8.9">0.25</text>
<text transform="translate(47,143.40) scale(1,1.06)" text-anchor="end" font-size="8.9">0.00</text>
<text transform="translate(47,178.95) scale(1,1.06)" text-anchor="end" font-size="8.9">-0.25</text>
<text transform="translate(47,214.50) scale(1,1.06)" text-anchor="end" font-size="8.9">-0.50</text>
<text transform="translate(47,250.05) scale(1,1.06)" text-anchor="end" font-size="8.9">-0.75</text>
<text transform="translate(54.40,258.9) scale(0.5,0.54)" text-anchor="middle" font-size="12" style="stroke-width:0.45px">2003</text>
<text transform="translate(72.67,258.9) scale(0.5,0.54)" text-anchor="middle" font-size="12" style="stroke-width:0.45px">2004</text>
<text transform="translate(90.94,258.9) scale(0.5,0.54)" text-anchor="middle" font-size="12" style="stroke-width:0.45px">2005</text>
<text transform="translate(109.21,258.9) scale(0.5,0.54)" text-anchor="middle" font-size="12" style="stroke-width:0.45px">2006</text>
<text transform="translate(127.48,258.9) scale(0.5,0.54)" text-anchor="middle" font-size="12" style="stroke-width:0.45px">2007</text>
<text transform="translate(145.75,258.9) scale(0.5,0.54)" text-anchor="middle" font-size="12" style="stroke-width:0.45px">2008</text>
<text transform="translate(164.02,258.9) scale(0.5,0.54)" text-anchor="middle" font-size="12" style="stroke-width:0.45px">2009</text>
<text transform="translate(182.29,258.9) scale(0.5,0.54)" text-anchor="middle" font-size="12" style="stroke-width:0.45px">2010</text>
<text transform="translate(200.56,258.9) scale(0.5,0.54)" text-anchor="middle" font-size="12" style="stroke-width:0.45px">2011</text>
<text transform="translate(218.83,258.9) scale(0.5,0.54)" text-anchor="middle" font-size="12" style="stroke-width:0.45px">2012</text>
<text transform="translate(237.10,258.9) scale(0.5,0.54)" text-anchor="middle" font-size="12" style="stroke-width:0.45px">2013</text>
<text transform="translate(255.37,258.9) scale(0.5,0.54)" text-anchor="middle" font-size="12" style="stroke-width:0.45px">2014</text>
<text transform="translate(273.64,258.9) scale(0.5,0.54)" text-anchor="middle" font-size="12" style="stroke-width:0.45px">2015</text>
<text transform="translate(291.91,258.9) scale(0.5,0.54)" text-anchor="middle" font-size="12" style="stroke-width:0.45px">2016</text>
<text transform="translate(310.18,258.9) scale(0.5,0.54)" text-anchor="middle" font-size="12" style="stroke-width:0.45px">2017</text>
<text x="188.1" y="276.8" text-anchor="middle" font-size="18" class="big">date</text>
<text transform="translate(13.00,187.07) rotate(-90)" font-size="15.5" class="big">&#916;</text>
<text transform="translate(13.00,176.00) rotate(-90) scale(1.12,1)" font-size="15.5" class="big">&#961;</text>
<text transform="translate(17.80,166.20) rotate(-90)" font-size="12.1" class="big">DCCA</text>
<text transform="translate(13.00,126.50) rotate(-90)" font-size="18" class="big">(s = 4)</text>
<rect x="321.5" y="1.7" width="55.8" height="109.5" fill="#fff" stroke="#999" stroke-width="1"/>
<line x1="322.9" x2="342.3" y1="8.00" y2="8.00" stroke="#c4c4c4" stroke-width="1.6"/>
<text transform="translate(345,11.40) scale(1,1.07)" font-size="8.75" style="stroke-width:0.18px">CAC40</text>
<line x1="322.9" x2="342.3" y1="18.77" y2="18.77" stroke="#f0a4a4" stroke-width="1.6"/>
<text transform="translate(345,22.17) scale(1,1.07)" font-size="8.75" style="stroke-width:0.18px">TSX</text>
<line x1="322.9" x2="342.3" y1="29.54" y2="29.54" stroke="#a4c0ee" stroke-width="1.6"/>
<text transform="translate(345,32.94) scale(1,1.07)" font-size="8.75" style="stroke-width:0.18px">DAX</text>
<line x1="322.9" x2="342.3" y1="40.31" y2="40.31" stroke="#a4d8bc" stroke-width="1.6"/>
<text transform="translate(345,43.71) scale(1,1.07)" font-size="8.75" style="stroke-width:0.18px">MIB</text>
<line x1="322.9" x2="342.3" y1="51.08" y2="51.08" stroke="#dcc4f4" stroke-width="1.6"/>
<text transform="translate(345,54.48) scale(1,1.07)" font-size="8.75" style="stroke-width:0.18px">FTSE</text>
<line x1="322.9" x2="342.3" y1="61.85" y2="61.85" stroke="#f0d8a0" stroke-width="1.6"/>
<text transform="translate(345,65.25) scale(1,1.07)" font-size="8.75" style="stroke-width:0.18px">MOEX</text>
<line x1="322.9" x2="342.3" y1="72.62" y2="72.62" stroke="#a0e8e8" stroke-width="1.6"/>
<text transform="translate(345,76.02) scale(1,1.07)" font-size="8.75" style="stroke-width:0.18px">NIKKEI</text>
<line x1="322.9" x2="342.3" y1="83.39" y2="83.39" stroke="#d4b4b4" stroke-width="1.6"/>
<text transform="translate(345,86.79) scale(1,1.07)" font-size="8.75" style="stroke-width:0.18px">SSE</text>
<line x1="322.9" x2="342.3" y1="94.16" y2="94.16" stroke="#222" stroke-width="1.5" stroke-dasharray="3.5 4"/>
<text transform="translate(345,97.56) scale(1,1.07)" font-size="8.75" style="stroke-width:0.18px">UL 95%</text>
<line x1="322.9" x2="342.3" y1="104.93" y2="104.93" stroke="#222" stroke-width="1.5" stroke-dasharray="3.5 4"/>
<text transform="translate(345,108.33) scale(1,1.07)" font-size="8.75" style="stroke-width:0.18px">LL 95%</text>
</g>
<g transform="translate(406.20,0.00)">
<g fill="none" stroke-width="0.75" stroke-linejoin="round"><path stroke="#7a7a7a" d="M54.4,139.2l0.4-3.5 0.4,1.2 0.4-1.1 0.4-2.6 0.4,4.4 0.4-0.9 0.4-1.4 0.4,1.3 0.4,1.9 0.4-1.1 0.4,1.3 0.4-2.2 0.4-0.8 0.4,1.7 0.4,0.2 0.4,1.1 0.4-2.5 0.4,0.9 0.4-0.2 0.4-0.9 0.4,1.2 0.4-0.2 0.4,1 0.4-0.7 0.4,0.9 0.4,1.1 0.4-1.7 0.4,1.7 0.4-3.2 0.4,1.7 0.4,0 0.4,0.6 0.5,0.7 0.4,1.1 0.4-2.1 0.4,0.9 0.4,0.3 0.4,0.5 0.4,0.9 0.4,1.2 0.4,1 0.4,0.3 0.4-2.2 0.4,1 0.4-0.8 0.4,1.7 0.4,0.1 0.4,0.9 0.4,1.7 0.4,0.7 0.4,1.1 0.4-0.3 0.4,1.2 0.4-1.3 0.4,1.5 0.4-1.2 0.4,0.8 0.4-2.7 0.4,0.9 0.4,1 0.4-2.6 0.4,3.6 0.4,0.1 0.4,1.2 0.4,1 0.4,1.6 0.4-5.2 0.4,0.9 0.4,1.3 0.4,0.5 0.4,0.8 0.4,1.3 0.4-1.3 0.4,2 0.4-0.5 0.4-0.5 0.4,1.2 0.4,0.6 0.4-1 0.4,2.7 0.4-5 0.4,0.3 0.4-0.5 0.4,1 0.4-0.3 0.4,2.6 0.4,0.3 0.4-1.1 0.4,2.3 0.4-2 0.4,0.9 0.4,0.8 0.4-1.8 0.4-1.6 0.4,4.7 0.4,0 0.5-0.3 0.4-0.9 0.4-0.6 0.4-1.6 0.4,2.6 0.4,0.1 0.4-0.6 0.4-1.5 0.4-0.4 0.4,1.6 0.4-0.4 0.4,1.8 0.4-0.2 0.4-1.6 0.4,0.6 0.4-0.7 0.4,0.2 0.4-0.2 0.4,1.5 0.4,1.6 0.4,1.1 0.4-2.7 0.4-1.2 0.4-0.6 0.4,1.8 0.4-1.9 0.4-1.9 0.4,0.7 0.4-1.8 0.4-0.4 0.4,0 0.4-1 0.4,1.3 0.4-0.8 0.4,1.4 0.4-2 0.4-2.1 0.4-0.1 0.4-0.8 0.4,0.5 0.4,2.8 0.4-0.4 0.4-1.4 0.4,0.1 0.4,0 0.4-2.1 0.4,0.7 0.4-0.8 0.4,0.1 0.4,0.4 0.4-0.7 0.4-1.1 0.4-1.7 0.4,1.4 0.4-0.6 0.4-1.2 0.4,3 0.4-0.5 0.4-0.8 0.4,1.2 0.4-1.1 0.4,0 0.4-2 0.4,2 0.5-3.9 0.4-1.1 0.4,0.6 0.4-2.3 0.4-1.7 0.4,1.1 0.4,0.3 0.4,1.5 0.4-3.2 0.4-0.2 0.4,0.4 0.4-2.1 0.4-3.7 0.4,1.1 0.4-2.4 0.4-1.1 0.4,0.1 0.4-1.4 0.4-1.7 0.4,0.7 0.4,0.8 0.4-3.5 0.4,1.4 0.4,0.6 0.4,1.5 0.4,1.9 0.4,1.7 0.4-2.8 0.4-1.3 0.4,1.9 0.4-4.8 0.4-2.2 0.4,1.7 0.4-3.3 0.4-1.2 0.4-1 0.4,1.1 0.4,2 0.4-1.2 0.4,1.8 0.4-4 0.4,0.2 0.4,0 0.4-0.5 0.4-0.1 0.4,0.1 0.4,3.1 0.4-1.8 0.4,1.2 0.4-0.4 0.4,1 0.4-0.4 0.4,1.9 0.4,1.5 0.4-3.4 0.4,2.3 0.4,0.7 0.4,3.3 0.4,0.8 0.4-0.9 0.4,1.5 0.4,1 0.4,0.7 0.4,0.8 0.4,1.2 0.5-0.2 0.4-2 0.4,0.8 0.4-0.4 0.4-0.6 0.4,0.7 0.4-1.1 0.4,1.8 0.4,1.4 0.4-0.6 0.4,3.3 0.4-2.6 0.4,0.7 0.4,1.2 0.4-0.3 0.4,1.9 0.4-2.2 0.4-0.4 0.4,0.2 0.4,1.2 0.4-1.3 0.4,1 0.4-3 0.4,1.4 0.4-1.5 0.4,1.7 0.4-0.4 0.4-0.1 0.4-1.4 0.4-0.5 0.4,3.6 0.4,0.9 0.4-0.9 0.4,3 0.4-2.7 0.4,2.7 0.4,0.6 0.4-1.6 0.4-3.8 0.4,2.3 0.4-0.6 0.4-1.1 0.4,0.9 0.4,1.6 0.4,0.7 0.4,0.6 0.4-3.3 0.4,0.9 0.4-1.4 0.4,1.7 0.4-0.3 0.4,3.7 0.4-2.4 0.4-3.7 0.4,1.1 0.4,0 0.4,2.8 0.4-1.9 0.4-2.2 0.4-0.5 0.4,2.6 0.4-1.8 0.4,0.9 0.4-0.7 0.5-0.3 0.4-0.6 0.4,3.2 0.4-1.1 0.4-3.2 0.4-0.7 0.4,3 0.4-1 0.4-1.1 0.4,1.8 0.4,0.2 0.4-2.1 0.4-2.2 0.4-0.4 0.4,0 0.4-1.2 0.4,0.1 0.4-1.7 0.4-1.7 0.4,2 0.4,0.9 0.4,1.1 0.4-1.3 0.4-2.5 0.4,0.3 0.4-1.2 0.4,1.7 0.4-2.9 0.4-0.2 0.4-1.4 0.4,1.2 0.4-0.1 0.4-1.1 0.4,1.3 0.4,1.9 0.4-1.6 0.4,1.9 0.4,2.2 0.4-1.3 0.4,0 0.4,1.2 0.4,2.4 0.4-1.9 0.4,0.2 0.4,2.4 0.4,1.1 0.4,0 0.4,0.2 0.4,1.7 0.4-1 0.4-1.9 0.4-2.6 0.4,2.9 0.4-0.5 0.4,0.4 0.4,0.7 0.4-1.2 0.4,0.5 0.4,1.6 0.4-2.1 0.4,0.8 0.4,0.2 0.4-0.4 0.4,0.2 0.4-0.3 0.5,0.7 0.4,2.4 0.4-1.5 0.4-1.2 0.4,0.8 0.4,2.8 0.4-0.9 0.4,2.3 0.4,0.6 0.4,3 0.4-4.6 0.4-1.1 0.4,2.3 0.4-1.8 0.4-0.9 0.4,0.1 0.4,2.2 0.4,0.1 0.4,1 0.4-0.4 0.4,5.2 0.4,0 0.4-0.6 0.4,0.9 0.4-1.2 0.4-0.4 0.4,0.3 0.4,3.6 0.4-1.1 0.4,0.2 0.4-1.7 0.4,1.2 0.4,2.1 0.4,0 0.4-1.7 0.4,0.7 0.4,1.5 0.4,0.7 0.4-1.7 0.4,0.1 0.4-1.7 0.4,0.8 0.4,2.1 0.4,0.9 0.4-0.6 0.4-1 0.4,0.7 0.4-1.6 0.4,0.5 0.4-1 0.4,1.1 0.4,3.3 0.4-4 0.4,2.4 0.4,0.8 0.4-0.1 0.4-0.2 0.4-0.2 0.4,1.3 0.4,0.5 0.4-3.2 0.4-0.7 0.4,3.1 0.4-0.3 0.5,0.6 0.4,2.4 0.4-1.3 0.4-0.2 0.4,2.4 0.4-0.3 0.4-0.4 0.4-3.2 0.4,2.3 0.4-0.9 0.4,1.1 0.4,1.7 0.4,0.4 0.4-0.7 0.4-2.3 0.4,2.9 0.4,1.6 0.4-1.6 0.4-0.7 0.4-0.3 0.4,5.1 0.4-1.5 0.4,1.1 0.4,1.5 0.4,0.7 0.4,1.5 0.4,0.9 0.4-2.1 0.4-1.2 0.4,1 0.4-1.4 0.4,2.1 0.4-1.4 0.4,1.3 0.4,0.6 0.4-1.2 0.4,1 0.4-0.1 0.4,1.4 0.4,0.8 0.4,2.1 0.4-1.6 0.4,0.9 0.4,1.1 0.4,1.1 0.4-0.2 0.4-2.2 0.4,1.3 0.4-1 0.4,1 0.4,1.4 0.4,0.7 0.4-1.7 0.4,1.7 0.4-0.1 0.4,0 0.4-1 0.4,0.7 0.4,0.4 0.4-2.9 0.4-0.9 0.4,0.7 0.4-0.6 0.4,3.7 0.5,0.9 0.4-1.4 0.4,0 0.4,1.3 0.4-0.9 0.4,2.6 0.4,0.2 0.4-0.2 0.4-0.4 0.4,1.3 0.4-2 0.4-1.6 0.4,4.2 0.4,0 0.4,0.8 0.4,0.4 0.4-0.4 0.4-0.9 0.4-1 0.4-0.5 0.4-0.7 0.4,0.6 0.4-2 0.4,0 0.4,0.7 0.4-0.4 0.4-0.3 0.4,0.3 0.4,1.2 0.4-1.5 0.4,1.3 0.4-0.6 0.4-0.8 0.4-2.4 0.4,0.7 0.4,0.3 0.4-2 0.4-0.4 0.4,0.9 0.4,0.1 0.4-0.1 0.4-0.2 0.4,3.3 0.4-1 0.4-1.6 0.4-1.5 0.4,0.1 0.4-1.1 0.4,1.7 0.4,0.2 0.4-1.7 0.4,0.2 0.4-2.1 0.4-1.6 0.4,1.6 0.4-3.1 0.4-1.1 0.4,0.4 0.4,1.9 0.4-3.1 0.4,1.7 0.4-2.5 0.4,2.4 0.4,0 0.4-0.8 0.5-0.6 0.4-1.8 0.4-2.1 0.4,0.3 0.4,0.4 0.4-0.1 0.4,0.5 0.4-3.4 0.4-3.4 0.4,1.3 0.4-0.2 0.4-0.5 0.4,0 0.4,1.3 0.4,0.4 0.4-2.9 0.4-0.4 0.4,1.1 0.4-0.5 0.4-0.8 0.4,0.2 0.4-1.2 0.4-0.5 0.4-1.4 0.4-0.6 0.4,0.5 0.4,0.8 0.4-1.7 0.4-0.7 0.4,0.8 0.4,0 0.4-0.9 0.4-2 0.4,1.4 0.4-0.7 0.4-0.4 0.4,1 0.4-2.7 0.4-0.6 0.4,0 0.4-1.5 0.4,0.1 0.4,0.6 0.4,0.4 0.4-1.7 0.4-1.6 0.4,0.4 0.4-1.3 0.4-1.2 0.4,1.3 0.4,0.4 0.4-3.4 0.4,0.5 0.4,0.6 0.4-2.8 0.4-0.9 0.4-0.3 0.4,0.2 0.4-0.7 0.4,1.9 0.4-0.8 0.4,2.1 0.4,1.9 0.4,1 0.5-0.4 0.4-0.8 0.4,1.5 0.4,0.1 0.4,1.4 0.4,1.3 0.4,0.5 0.4,0.6 0.4,0.1 0.4-0.4 0.4,0.4 0.4,2.7 0.4,0.1 0.4,0.2 0.4,1.9 0.4-0.4 0.4-2.1 0.4,1.9 0.4,1.5 0.4-1 0.4,1.1 0.4-0.1 0.4,5.7 0.4,1 0.4-1.4 0.4,0.1 0.4,0.2 0.4,1 0.4,0.9 0.4,1.4 0.4,3.2 0.4-2.2 0.4-1.1 0.4-0.7 0.4,0.8 0.4-2.1 0.4,1.1 0.4,0.4 0.4,0.3 0.4,1.4 0.4,2.2 0.4-1.4 0.4,1.6 0.4,1.3 0.4-2.8 0.4-0.5 0.4,2.6 0.4,0.5 0.4-0.5 0.4,0.5 0.4,1.5"/>
<path stroke="#e86a6a" d="M54.4,140.2l0.4,1.4 0.4,0.9 0.4-1.1 0.4-1.6 0.4,3.2 0.4-0.6 0.4-2.1 0.4,1.4 0.4-0.2 0.4,2.4 0.4,1.9 0.4-0.8 0.4,1.9 0.4-1.8 0.4,3.1 0.4-2.7 0.4-0.2 0.4-2.3 0.4,1.7 0.4-1 0.4-1.4 0.4,0.7 0.4-1.4 0.4,2.5 0.4,0.2 0.4,1 0.4-2.2 0.4-0.1 0.4-0.7 0.4,2.8 0.4-2.6 0.4,1.2 0.5,0.7 0.4,0.8 0.4-0.4 0.4,1.6 0.4-1.8 0.4,0.6 0.4-0.5 0.4-0.7 0.4,0.2 0.4,2.1 0.4,1.9 0.4-0.4 0.4,3.2 0.4-1.4 0.4,0.1 0.4-0.5 0.4,1.1 0.4,0.6 0.4-2.1 0.4,1.5 0.4-0.4 0.4-2.2 0.4,2.9 0.4,1 0.4-1.8 0.4,3 0.4,1.7 0.4-0.5 0.4-1.4 0.4,2.2 0.4,1.4 0.4-2.5 0.4-1 0.4,0.9 0.4-1.3 0.4-0.3 0.4,1.5 0.4,1.9 0.4-2.1 0.4,1.8 0.4,1 0.4-0.1 0.4-2.3 0.4-1.8 0.4,1.5 0.4-0.7 0.4,0.3 0.4-0.2 0.4,1.5 0.4,0.4 0.4,3.3 0.4-1.5 0.4,2.8 0.4-1 0.4-1.5 0.4,1.5 0.4-1.9 0.4-0.5 0.4,1.9 0.4,3.5 0.4-1.1 0.4-2.3 0.4-0.6 0.4-2.5 0.5-0.7 0.4,1.7 0.4-1.3 0.4,1.7 0.4,1.7 0.4-3.5 0.4,1 0.4-1.6 0.4,0 0.4-3.1 0.4,1.9 0.4,2.2 0.4,2.1 0.4-3.2 0.4,2.3 0.4-0.4 0.4-0.4 0.4,0.1 0.4,0.5 0.4,0.1 0.4-3.1 0.4,2.7 0.4-0.6 0.4-0.7 0.4-0.9 0.4-0.9 0.4,0.5 0.4-0.2 0.4-1.1 0.4-1 0.4,2.2 0.4,1.3 0.4-1.7 0.4-1.9 0.4-1.6 0.4,2.2 0.4-1.1 0.4-0.7 0.4,2.7 0.4-2.1 0.4-1 0.4,0.2 0.4-0.7 0.4,1.1 0.4-0.9 0.4-1 0.4-0.8 0.4-0.3 0.4-0.3 0.4-0.2 0.4,1 0.4-2.9 0.4-0.1 0.4,2 0.4-1.3 0.4-1.1 0.4-1.2 0.4,1.5 0.4-0.8 0.4-1.7 0.4-0.1 0.4-2.2 0.4,3.5 0.4,0 0.5,0.7 0.4-1.6 0.4,0.9 0.4,2.1 0.4-0.1 0.4-0.5 0.4,1.9 0.4-2.7 0.4,0.7 0.4-5 0.4,2.7 0.4-1.4 0.4-1.1 0.4-2.3 0.4-1.2 0.4,0.3 0.4,1.4 0.4,0.1 0.4-1.6 0.4-2 0.4,1.5 0.4,1.1 0.4-0.6 0.4-2.3 0.4-1.7 0.4-3.1 0.4-0.7 0.4,1.1 0.4-0.8 0.4,0.5 0.4,0.7 0.4,0.5 0.4-2.4 0.4-0.1 0.4,0.4 0.4-2.8 0.4,0.8 0.4,1 0.4-0.4 0.4,1.3 0.4,1.5 0.4-0.5 0.4,0.4 0.4,1.9 0.4-2 0.4-1.5 0.4-0.3 0.4,0.5 0.4,0.1 0.4-1.1 0.4-1.1 0.4-0.6 0.4-0.2 0.4,2.2 0.4-0.7 0.4,1.1 0.4-2.1 0.4,0 0.4,0.8 0.4,0.9 0.4,0 0.4,0.1 0.4,0.8 0.4-0.4 0.4-1 0.5-0.1 0.4,1.4 0.4-1.3 0.4,0.3 0.4,2.5 0.4,1.2 0.4-1.8 0.4,0.4 0.4,0.2 0.4,0.7 0.4,0.3 0.4-1.3 0.4,1 0.4,2 0.4-4 0.4,0.7 0.4,2.1 0.4-0.2 0.4,2.2 0.4-0.6 0.4-0.6 0.4-1.8 0.4-1.7 0.4,3.7 0.4-1 0.4-1 0.4,1.8 0.4,1.7 0.4-1.5 0.4,0.5 0.4-1.2 0.4,1.1 0.4-0.1 0.4,2.8 0.4,0.1 0.4-0.4 0.4-2.3 0.4,1.5 0.4-0.5 0.4,0 0.4,0.9 0.4-1.1 0.4,1.9 0.4,0.7 0.4-2 0.4-0.1 0.4-1.8 0.4,0.5 0.4-0.3 0.4-1.3 0.4,1.1 0.4,1.4 0.4-2.7 0.4-2.3 0.4-0.5 0.4-1.3 0.4,0.8 0.4,1.1 0.4,0.5 0.4,1.3 0.4,0.7 0.4,0.6 0.4-2.5 0.4,1.6 0.5-1 0.4-1.1 0.4,1.6 0.4,0.9 0.4-0.1 0.4,0.6 0.4-0.6 0.4,2.9 0.4-1.6 0.4,0.3 0.4-2.7 0.4,0.2 0.4,1.8 0.4-1.5 0.4-4.1 0.4,1.4 0.4-1.6 0.4-0.6 0.4-1.5 0.4,0.9 0.4,0.4 0.4-3 0.4-0.3 0.4-2.2 0.4-2 0.4,1.8 0.4-3.9 0.4,1.3 0.4,0.9 0.4,0.6 0.4,2.3 0.4,2.4 0.4-0.1 0.4,3.2 0.4,1 0.4-2 0.4,1.4 0.4,0 0.4-2.3 0.4,3 0.4,0.9 0.4,1 0.4,2.6 0.4-1.9 0.4,1.6 0.4-1.5 0.4,0.5 0.4-1.7 0.4,2.2 0.4-1.3 0.4-1.4 0.4,2.2 0.4,2.9 0.4,1.8 0.4-1.9 0.4-0.4 0.4,1.2 0.4-1.9 0.4,0.3 0.4-2.7 0.4,0.4 0.4,2.5 0.4,1 0.4-2.4 0.4,0.7 0.5-2 0.4,2.5 0.4-2 0.4-1.6 0.4,0 0.4-0.3 0.4,0.5 0.4-0.5 0.4,1.4 0.4,2.3 0.4-0.1 0.4,0.1 0.4-1.2 0.4-0.9 0.4-0.4 0.4,1.9 0.4,0.5 0.4,0.5 0.4-0.2 0.4,0.7 0.4-0.6 0.4,2 0.4-1.8 0.4,2.5 0.4,1.1 0.4-0.3 0.4-1.2 0.4-0.5 0.4,0.2 0.4,0 0.4,1.2 0.4,0.2 0.4,0.2 0.4-0.5 0.4,2.2 0.4-0.1 0.4-0.1 0.4-0.4 0.4-0.7 0.4,1.1 0.4,1.5 0.4,0.1 0.4,0.4 0.4-1.2 0.4,1.1 0.4-1.5 0.4,2.2 0.4,0.7 0.4-1.6 0.4-1.4 0.4,2.3 0.4-0.2 0.4,1 0.4,0.4 0.4-2.7 0.4,0.9 0.4,0.2 0.4,0.3 0.4,2.1 0.4-3.9 0.4,2.2 0.4,2 0.4-1.9 0.4-0.3 0.5,1.9 0.4,1 0.4-1.4 0.4,2.4 0.4,2.2 0.4-0.1 0.4,0 0.4,0.4 0.4-0.4 0.4,0.5 0.4-1 0.4,0.4 0.4,0.3 0.4-0.7 0.4-2.5 0.4,1 0.4,1 0.4,2.2 0.4,1.6 0.4-1.2 0.4,1.7 0.4-2.6 0.4-2.1 0.4,1.4 0.4-0.9 0.4,0.4 0.4,0.4 0.4,3.6 0.4,0.2 0.4,2.2 0.4-1.6 0.4-0.8 0.4-0.2 0.4-1.7 0.4,1.6 0.4,0.3 0.4-4.2 0.4,3.2 0.4,1.6 0.4-0.8 0.4,1.5 0.4-0.2 0.4,3.1 0.4-2.7 0.4,1.7 0.4-0.4 0.4,0.5 0.4,1.1 0.4-3.4 0.4,3.1 0.4-2.4 0.4,2.4 0.4,2.5 0.4-2.8 0.4-0.9 0.4-0.7 0.4-0.4 0.4-1.1 0.4,1.3 0.4-1.4 0.4,1.2 0.4-0.5 0.4,0.4 0.4,0.5 0.5,0 0.4,0 0.4-1 0.4,1.4 0.4-1.1 0.4,0.3 0.4,1 0.4-2 0.4,0.6 0.4,0.5 0.4,0.3 0.4-0.2 0.4,0.2 0.4-1.9 0.4,1.7 0.4-2.8 0.4,1.2 0.4-1.6 0.4-1.3 0.4,1.6 0.4-0.2 0.4-1.2 0.4,0.3 0.4-1.7 0.4-1.3 0.4,2.7 0.4-1.2 0.4-0.2 0.4,0.4 0.4-1 0.4-2.6 0.4,1.9 0.4-2.1 0.4,1.5 0.4-0.3 0.4-0.2 0.4,2.3 0.4-0.1 0.4,1.7 0.4-1.4 0.4-1.9 0.4-0.5 0.4,0.6 0.4-2.2 0.4-0.9 0.4,1.5 0.4,0 0.4,0.4 0.4-1.7 0.4-0.1 0.4-1 0.4-0.2 0.4-3.1 0.4,2.4 0.4-1.6 0.4-0.1 0.4,0.5 0.4-0.1 0.4-1 0.4,3.6 0.4-2.9 0.4-0.1 0.4,1.3 0.4,0.1 0.4-0.2 0.5,2.6 0.4-3.6 0.4-1.6 0.4,0.6 0.4-0.5 0.4-0.3 0.4-1 0.4-0.5 0.4,1.3 0.4,1.4 0.4,0 0.4,0.4 0.4-2.9 0.4-1.3 0.4,0.2 0.4,0.9 0.4-0.1 0.4-0.6 0.4-0.2 0.4-3.1 0.4,1.1 0.4-1 0.4-0.2 0.4,0.6 0.4,2.4 0.4-2.5 0.4,0.2 0.4-0.1 0.4,1.6 0.4-2.6 0.4-2.3 0.4,0.5 0.4-2.7 0.4,2.6 0.4-1.2 0.4-1 0.4,1.4 0.4-1.3 0.4-0.1 0.4,1.8 0.4-1.8 0.4,0.2 0.4,2 0.4-3.3 0.4,1.9 0.4-2.1 0.4,3.6 0.4,2.4 0.4-0.1 0.4,0.5 0.4,0.8 0.4-0.1 0.4-0.3 0.4-0.2 0.4,1.5 0.4-1 0.4,1 0.4-0.5 0.4,1.8 0.4,0 0.4-2.9 0.4,1.6 0.4,1.9 0.4-2.2 0.5-0.7 0.4,1 0.4,3 0.4-2.9 0.4,2.4 0.4-2.3 0.4,3.2 0.4-0.9 0.4,0.3 0.4-0.2 0.4,0.3 0.4,1.9 0.4,2.7 0.4-2.3 0.4,2.2 0.4-3.3 0.4,2.2 0.4-1.3 0.4,1.6 0.4-0.7 0.4-0.6 0.4,1.6 0.4,1.9 0.4-2.8 0.4,2 0.4-1.7 0.4,1.5 0.4-2.8 0.4-0.6 0.4,2.3 0.4-2.3 0.4,4 0.4,0.9 0.4,0.6 0.4,0.1 0.4-0.4 0.4-0.4 0.4,0.4 0.4-2.8 0.4,1.1 0.4-0.1 0.4,1.4 0.4,1.5 0.4-2.7 0.4,1.5 0.4-1.6 0.4,0.1 0.4,1 0.4-1.4 0.4,0.8 0.4-2"/>
<path stroke="#5588dd" d="M54.4,148.3l0.4-1.1 0.4-2.3 0.4,3.4 0.4-2.2 0.4-0.7 0.4,0.7 0.4-2.7 0.4-1.8 0.4-1.6 0.4-1.7 0.4,0.4 0.4,0.9 0.4-0.1 0.4-0.1 0.4-0.6 0.4,1.5 0.4-1.5 0.4-1.1 0.4,0.3 0.4,0.7 0.4,1.2 0.4-3.8 0.4,1.1 0.4,1.3 0.4,0.5 0.4-1.8 0.4,1 0.4,1.2 0.4,0.5 0.4,0.5 0.4-1.7 0.4-0.6 0.5,3.3 0.4-1.9 0.4,1.4 0.4-1.4 0.4,1.7 0.4,1.1 0.4-1.7 0.4,0.4 0.4,1.1 0.4,1.1 0.4-3 0.4,0.9 0.4,2.4 0.4-4.1 0.4,0.6 0.4-1.6 0.4,0.1 0.4-0.1 0.4,0.3 0.4-3.5 0.4,1.6 0.4-0.2 0.4-0.2 0.4-2.3 0.4,0.5 0.4,1 0.4,2.4 0.4-3.5 0.4-1.1 0.4,1.7 0.4,1.2 0.4,0.3 0.4-3 0.4,2.2 0.4-0.5 0.4-0.6 0.4,0 0.4-2.1 0.4,0.3 0.4,3 0.4-0.3 0.4-2 0.4-0.2 0.4-1.4 0.4-0.9 0.4,1.8 0.4-2.6 0.4-1.1 0.4-0.8 0.4-0.5 0.4,1.2 0.4-4.3 0.4,0 0.4-0.8 0.4-0.5 0.4,0.4 0.4-1.3 0.4,0.7 0.4-0.1 0.4,1 0.4-1.4 0.4-0.2 0.4,0.2 0.4,0.5 0.5,1 0.4,2 0.4-2.5 0.4,0.8 0.4-1.5 0.4,1 0.4,0.6 0.4-1.2 0.4,1.2 0.4,0.7 0.4-0.7 0.4,0.5 0.4,2.6 0.4,1.7 0.4,2.7 0.4-0.2 0.4,3.1 0.4,0.5 0.4-1.7 0.4,0.7 0.4-0.5 0.4,0.3 0.4,3.8 0.4-2.1 0.4,1.2 0.4,0.8 0.4,1.1 0.4-0.8 0.4-2.4 0.4-2.2 0.4,0 0.4-0.4 0.4-1.1 0.4,2 0.4-2.4 0.4,1.2 0.4,1.5 0.4,0.7 0.4-0.6 0.4,1.3 0.4,3.6 0.4-1.9 0.4,2.7 0.4-2.4 0.4,1.5 0.4-1.4 0.4,1.4 0.4,0 0.4-2.6 0.4-0.6 0.4-0.3 0.4-1.5 0.4,0.9 0.4-1.6 0.4,0.3 0.4,0.6 0.4,1.7 0.4-3 0.4,3.1 0.4,0 0.4,0.6 0.4-1.2 0.4,1 0.4-0.8 0.5,2.1 0.4-0.3 0.4-0.7 0.4,1.2 0.4-4 0.4,1 0.4,0.6 0.4-2.7 0.4,1.6 0.4-1.5 0.4,0.9 0.4-0.3 0.4-0.1 0.4,1.3 0.4,2.4 0.4,0.2 0.4-1.9 0.4,1.2 0.4,0.7 0.4,0.2 0.4,0.9 0.4-0.8 0.4-0.3 0.4-1.2 0.4-1.5 0.4,1.4 0.4,3.1 0.4-1.4 0.4,0.7 0.4-0.9 0.4,1.2 0.4-2.4 0.4-0.3 0.4,0.7 0.4-0.7 0.4-1.7 0.4-0.4 0.4-1.4 0.4,1.6 0.4,0.6 0.4,2.4 0.4,0.1 0.4,0.3 0.4,0.1 0.4,0 0.4,2.5 0.4-1.2 0.4-0.7 0.4,1.4 0.4-3.2 0.4-1.1 0.4-0.4 0.4,0.7 0.4,1.3 0.4-1.9 0.4,1.2 0.4,2.9 0.4-0.1 0.4-0.2 0.4-1.3 0.4,1.3 0.4-2.5 0.4,2.8 0.4-2.5 0.4-0.5 0.5-2.7 0.4,0.8 0.4,3 0.4-0.6 0.4,1 0.4-0.7 0.4,0.2 0.4,0.1 0.4-2.4 0.4,0.5 0.4,0.9 0.4,0.6 0.4-0.4 0.4,3.8 0.4-2.1 0.4,1.8 0.4-3.2 0.4,2.4 0.4-0.5 0.4-1.6 0.4,2.2 0.4-1.2 0.4-1.1 0.4-0.4 0.4-1 0.4,0.3 0.4,0.9 0.4,1.3 0.4,1.9 0.4,2.2 0.4,0 0.4,3 0.4-2.2 0.4,1.3 0.4,0.6 0.4,1.9 0.4,0.8 0.4-2.4 0.4,0.1 0.4-0.3 0.4-0.3 0.4-1.9 0.4-0.2 0.4-1.2 0.4,2 0.4-1.6 0.4,0.6 0.4-0.2 0.4,0 0.4-0.2 0.4,0 0.4-0.6 0.4,2.3 0.4-2.2 0.4-1.1 0.4,1 0.4-1.7 0.4,1.1 0.4,3.4 0.4,1.1 0.4,0.6 0.4,0.2 0.4,0.7 0.4-0.1 0.5,0.4 0.4,1.6 0.4-1 0.4-1.7 0.4,2.4 0.4,0.9 0.4-1.6 0.4-0.3 0.4-0.8 0.4-0.9 0.4,0.6 0.4,2.1 0.4,1.1 0.4-2.2 0.4,1.4 0.4,2 0.4-0.2 0.4,1 0.4-1.3 0.4,2.6 0.4-0.3 0.4-1.2 0.4-2.1 0.4-0.5 0.4,1.7 0.4,0.3 0.4,0.1 0.4,0.5 0.4-0.9 0.4-0.2 0.4,2.1 0.4-3.5 0.4,1.2 0.4,1.2 0.4-1.9 0.4,2 0.4-1.8 0.4,1.3 0.4-2.9 0.4,4 0.4,0.6 0.4-3.8 0.4-0.9 0.4-0.9 0.4-1.2 0.4,0.7 0.4,1.4 0.4-1.6 0.4-0.3 0.4,0.1 0.4,1.9 0.4-1.1 0.4-1.2 0.4-1.1 0.4-2.2 0.4,0.3 0.4,1.4 0.4-2.3 0.4-0.2 0.4-3 0.4,1.3 0.4,0.6 0.4,0 0.4,1.2 0.4-0.3 0.5,0 0.4-0.2 0.4-1.2 0.4,1.3 0.4-0.6 0.4-0.4 0.4,2.4 0.4-2.8 0.4-0.9 0.4,2 0.4-0.5 0.4-1.5 0.4-2.4 0.4,3 0.4-1.6 0.4,0.1 0.4-3.4 0.4-1.5 0.4-0.8 0.4-0.1 0.4-1.9 0.4,0.6 0.4-1.4 0.4-0.6 0.4,0.5 0.4-1.7 0.4,0.3 0.4,1.2 0.4,0.8 0.4-0.7 0.4-1.4 0.4-1.8 0.4-0.5 0.4,0.4 0.4,1.6 0.4-2.3 0.4-1.1 0.4,1.4 0.4-0.2 0.4,2.4 0.4,0.1 0.4-1.7 0.4,3.9 0.4,0.7 0.4,0.6 0.4-0.1 0.4,2.2 0.4-1.2 0.4,1 0.4,0.8 0.4-1.7 0.4,0.1 0.4,0.1 0.4,0.4 0.4-0.6 0.4-1.3 0.4,0.3 0.4-1 0.4,1.2 0.4-2.6 0.4,3.8 0.4-0.1 0.4-3.4 0.4-0.6 0.5,0.4 0.4,0.5 0.4,2.6 0.4-2.4 0.4-1.2 0.4,0.2 0.4,0.4 0.4-2.7 0.4-0.4 0.4-0.5 0.4-0.3 0.4-1 0.4-1.8 0.4,2.2 0.4,1.3 0.4-1.5 0.4,2 0.4,0 0.4,3.2 0.4-0.6 0.4-0.3 0.4,1.5 0.4-1.8 0.4-0.8 0.4,0.9 0.4,2.2 0.4-0.8 0.4-1.6 0.4,2.2 0.4,3.7 0.4-1.7 0.4-1.4 0.4,0.5 0.4-1.5 0.4-0.1 0.4,0.1 0.4,1.9 0.4-2.6 0.4,1.5 0.4-0.1 0.4,1.6 0.4-0.9 0.4,1.5 0.4,1.2 0.4,0.5 0.4,0.5 0.4-0.9 0.4-1.4 0.4,1.6 0.4,2.9 0.4,0.4 0.4-2.4 0.4-0.9 0.4,0.2 0.4,0.1 0.4-2.1 0.4,2.2 0.4,0.6 0.4,0 0.4-0.3 0.4,0.1 0.4,1.3 0.4-0.1 0.4,1.8 0.5-1.8 0.4-0.1 0.4,3.8 0.4,0.4 0.4-0.6 0.4,2.3 0.4-1.4 0.4,0.8 0.4-0.5 0.4,1.4 0.4,0.5 0.4,1.9 0.4-2 0.4,0.7 0.4,0.2 0.4,0 0.4-0.3 0.4,1.2 0.4,3.1 0.4,1 0.4-0.5 0.4-1.4 0.4,2.6 0.4-0.3 0.4,0.1 0.4,1 0.4-0.4 0.4,4.9 0.4-0.9 0.4,2.4 0.4-0.8 0.4,0.1 0.4,1.2 0.4-1.8 0.4-0.5 0.4-0.1 0.4-1.3 0.4,2.4 0.4-0.8 0.4,0.7 0.4,2.6 0.4-1.3 0.4-0.3 0.4,0.6 0.4-2.1 0.4,0.2 0.4-1.1 0.4,2.9 0.4-0.5 0.4,0.3 0.4,3.1 0.4-0.3 0.4-1.2 0.4,0.1 0.4-3.8 0.4,0.5 0.4-2.2 0.4,2 0.4,0.9 0.4-1.3 0.4,2 0.4-1.5 0.4,0.6 0.4,1.4 0.4-2.2 0.5-0.9 0.4,0 0.4,1.3 0.4,0.6 0.4,0.7 0.4-2.3 0.4-0.4 0.4-0.8 0.4-1 0.4-0.2 0.4,2.2 0.4-0.4 0.4,1.6 0.4-0.8 0.4,0.3 0.4-1.6 0.4,0.7 0.4,1.8 0.4-1.8 0.4-1.2 0.4-0.2 0.4-0.3 0.4-0.3 0.4,2.9 0.4-3.4 0.4,2.7 0.4,1.6 0.4-0.7 0.4-0.6 0.4-2.1 0.4-0.5 0.4,1.5 0.4-4.8 0.4,1.3 0.4-3.1 0.4,1.1 0.4-3 0.4,3 0.4-0.8 0.4,0.1 0.4,0.8 0.4,1.2 0.4,1.1 0.4-1.7 0.4-0.5 0.4,0.2 0.4,2.2 0.4-2 0.4-3.1 0.4,0.5 0.4-0.5 0.4-2.6 0.4-1.4 0.4,1.4 0.4,0.4 0.4,0.3 0.4-1.2 0.4-1.8 0.4-0.9 0.4-0.5 0.4-3.6 0.4,1.4 0.4-0.2 0.4,0.5 0.5-0.4 0.4-3.2 0.4,1.7 0.4-0.3 0.4-0.1 0.4-2 0.4-2 0.4,0.1 0.4-2.5 0.4,0 0.4,0 0.4,0.1 0.4,1.1 0.4-0.6 0.4,1.8 0.4,1.4 0.4-1.2 0.4,2.9 0.4-1.1 0.4,0.3 0.4,0 0.4,0.2 0.4,2.2 0.4-2.9 0.4,1.8 0.4,1.6 0.4-2.1 0.4,0.7 0.4-1.2 0.4-0.6 0.4,1.6 0.4-0.8 0.4-1.5 0.4-1.1 0.4,3 0.4,2.3 0.4,0.5 0.4-0.6 0.4-0.6 0.4,3.1 0.4-0.1 0.4,0.7 0.4-4.7 0.4,3.2 0.4-1.9 0.4-0.5 0.4,0.1 0.4,0.1 0.4,0 0.4,0.1 0.4,0.8"/>
<path stroke="#4cb080" d="M54.4,123.9l0.4,1.3 0.4,0 0.4,1.2 0.4-0.2 0.4-0.2 0.4-1.1 0.4,1.8 0.4,1.4 0.4,0.6 0.4,0.1 0.4,1.9 0.4-0.8 0.4,2.2 0.4-1.3 0.4,1 0.4,0.8 0.4-0.1 0.4,0.7 0.4-1.7 0.4,3.5 0.4-3.2 0.4,0.7 0.4,1.5 0.4-0.7 0.4,0.1 0.4-0.3 0.4,2.6 0.4,1.1 0.4-1.6 0.4,3.1 0.4-1.9 0.4-1.1 0.5,0.9 0.4-0.4 0.4,1.1 0.4-0.9 0.4,0 0.4,0.5 0.4,2.1 0.4-2.1 0.4,3 0.4,0.9 0.4,1.8 0.4-1.1 0.4,3.8 0.4-4.2 0.4,0.9 0.4,2.4 0.4,2.3 0.4-1.8 0.4,0.7 0.4,1.2 0.4-1.4 0.4-0.9 0.4,2 0.4,0.7 0.4,0.7 0.4-0.4 0.4,0.8 0.4-0.9 0.4,3.2 0.4-0.6 0.4-1.4 0.4-0.2 0.4,1 0.4-0.6 0.4-1.2 0.4-0.6 0.4,1.2 0.4,0 0.4,1.1 0.4,0.5 0.4,2.3 0.4,0.1 0.4-0.2 0.4,2.5 0.4,0.5 0.4-0.1 0.4-0.1 0.4,2.7 0.4,1.3 0.4-3.1 0.4,0.2 0.4,4.5 0.4-1.6 0.4,0 0.4-0.5 0.4-1.3 0.4,1.1 0.4,0.9 0.4-1.2 0.4-1.4 0.4,1.4 0.4,1.2 0.4-2.4 0.4-0.1 0.5-0.1 0.4,2.4 0.4,1.1 0.4-2.9 0.4,2.5 0.4,1.9 0.4-0.8 0.4,1.2 0.4-2.3 0.4,2.2 0.4-1.2 0.4-1.8 0.4,0 0.4-1 0.4,3.3 0.4-1.2 0.4-1.8 0.4,2.6 0.4-2.3 0.4-1.8 0.4,0.3 0.4-1.1 0.4-1.8 0.4-0.8 0.4,0.6 0.4-1 0.4,0.5 0.4-0.1 0.4-0.2 0.4,1.5 0.4-0.5 0.4-0.4 0.4,1.1 0.4-3.2 0.4,1.5 0.4,1.8 0.4,0.9 0.4-1.9 0.4,0.6 0.4,0.5 0.4-3.5 0.4,3.2 0.4-3.2 0.4-0.2 0.4-0.3 0.4,0.3 0.4,1.1 0.4,0.2 0.4,0.7 0.4-1.5 0.4-2.4 0.4,1.5 0.4-1.6 0.4,0.7 0.4-1.2 0.4,1.1 0.4,0 0.4-2 0.4-0.5 0.4,0.8 0.4-2.4 0.4-0.3 0.4,0.5 0.4,0.4 0.5,0.7 0.4-1.8 0.4-1.6 0.4,0 0.4-2.7 0.4,0.7 0.4-0.3 0.4,0.5 0.4-1.6 0.4-2.3 0.4-1.5 0.4-0.7 0.4-1.4 0.4,0.3 0.4-3 0.4-0.1 0.4-0.4 0.4,0.4 0.4-3.6 0.4-3.3 0.4,0.9 0.4,0.9 0.4-0.7 0.4-0.6 0.4,1.2 0.4,0.1 0.4-1.7 0.4-1.3 0.4,1.9 0.4,3.1 0.4-1 0.4-1.9 0.4,1.6 0.4-2 0.4-1.3 0.4-0.9 0.4-0.2 0.4-0.5 0.4-1.5 0.4-0.4 0.4,0.1 0.4,0.4 0.4,0.6 0.4-1 0.4-1.3 0.4,1.6 0.4-0.1 0.4,2.1 0.4,0.8 0.4-1.5 0.4,0.1 0.4,0.2 0.4-1.2 0.4,2.2 0.4-2 0.4-1.1 0.4,1.7 0.4-0.8 0.4,0.5 0.4,0.1 0.4-1.2 0.4,0.7 0.4,1.4 0.4,0.3 0.4-1.4 0.5-1.3 0.4,4.3 0.4-2.4 0.4-0.2 0.4,1.8 0.4,0.4 0.4-1.1 0.4,2.5 0.4-0.1 0.4-1.9 0.4,1.1 0.4,2.4 0.4,2.3 0.4-0.8 0.4-0.7 0.4,1.4 0.4,1 0.4,0.9 0.4-4 0.4,1.1 0.4,1.1 0.4,1.6 0.4-1.9 0.4,5.3 0.4-5 0.4,4.1 0.4-3.1 0.4,0.6 0.4-0.5 0.4,1 0.4-1.6 0.4,0.2 0.4-2.6 0.4,3.1 0.4,0 0.4-2.4 0.4-1 0.4,1.4 0.4,1.2 0.4-2.6 0.4,1.6 0.4,2.5 0.4-1.5 0.4,3.4 0.4,0.6 0.4-1.2 0.4-0.7 0.4-0.5 0.4-1.5 0.4,0.7 0.4-1.6 0.4-0.8 0.4,0.5 0.4,1.7 0.4-2.2 0.4,0 0.4,2.6 0.4-0.2 0.4,1.5 0.4,0.4 0.4,1.1 0.4-1.9 0.4-1 0.4-0.9 0.5,3.6 0.4,0 0.4-0.2 0.4,1.8 0.4-0.5 0.4-0.7 0.4,0.7 0.4,0.4 0.4,1.3 0.4,1.7 0.4-4.2 0.4,1.4 0.4-1.4 0.4-2.3 0.4-1.5 0.4,0.4 0.4-1.9 0.4-2.8 0.4-0.6 0.4-1.9 0.4,1.9 0.4-2.2 0.4-2.8 0.4,1.5 0.4-2.2 0.4,3.2 0.4-1.9 0.4-2.6 0.4-1.3 0.4-0.6 0.4,2.1 0.4-0.1 0.4,0.9 0.4,0.6 0.4-1.5 0.4-0.8 0.4,3.6 0.4-2.4 0.4,0.3 0.4,0.4 0.4,0.7 0.4,2.5 0.4-1.2 0.4,1 0.4,1.3 0.4,0.7 0.4,0.6 0.4,2.5 0.4-0.2 0.4,1.8 0.4,1.1 0.4-1.8 0.4,2.3 0.4-2.6 0.4,1.1 0.4-0.3 0.4,1.3 0.4,0.6 0.4-1.9 0.4,1.9 0.4-0.1 0.4,2.8 0.4-0.7 0.4-1.4 0.4,0.9 0.5,2.8 0.4-0.8 0.4-0.8 0.4,1.7 0.4-1.2 0.4-0.3 0.4-0.7 0.4,2 0.4,0.7 0.4,1.5 0.4-3.5 0.4,1.5 0.4-2 0.4,1.5 0.4-2.1 0.4,1.4 0.4-0.4 0.4,3.4 0.4,0.6 0.4-0.5 0.4,2.8 0.4,4.4 0.4-3.7 0.4,2 0.4,1.8 0.4-0.8 0.4-0.2 0.4,1.1 0.4,2.4 0.4-1 0.4-0.6 0.4,0.9 0.4,1.3 0.4-2.4 0.4-1.5 0.4,1.7 0.4,2.3 0.4-2 0.4,1.8 0.4-1.4 0.4-0.1 0.4,0.2 0.4-1.1 0.4-0.5 0.4-1.1 0.4,2.7 0.4-0.3 0.4-0.4 0.4-4.3 0.4,1.6 0.4,1.8 0.4,1.3 0.4-1 0.4,4.2 0.4,0.8 0.4-4.9 0.4,3.8 0.4,0.6 0.4-0.1 0.4-2 0.4,2.6 0.4,1.4 0.4,0 0.4,0.4 0.5,0.6 0.4-1.1 0.4-0.7 0.4-1.5 0.4,1.5 0.4,0.9 0.4,1.9 0.4,1.2 0.4-1.4 0.4-0.2 0.4,0.7 0.4-1.1 0.4,0.6 0.4-0.8 0.4,1.7 0.4-0.5 0.4-0.5 0.4-0.3 0.4,0.3 0.4,1.8 0.4,1 0.4,0.1 0.4-0.5 0.4-2 0.4,1.3 0.4-1.1 0.4,2.3 0.4-0.9 0.4-1.9 0.4,2.5 0.4-0.4 0.4-0.7 0.4,1.5 0.4-1.9 0.4,2.7 0.4,0.6 0.4-1.4 0.4-0.3 0.4,0.3 0.4,0.4 0.4,0.5 0.4-0.6 0.4,2 0.4,0.6 0.4,1.1 0.4-0.9 0.4,1.3 0.4-0.5 0.4-0.1 0.4,0.1 0.4-0.4 0.4,1.2 0.4,1 0.4,3.3 0.4-1.1 0.4-0.1 0.4,1.9 0.4,0.9 0.4-0.8 0.4-1.4 0.4,0 0.4-0.9 0.4-1.4 0.4-1.6 0.5,2.3 0.4,0.4 0.4-0.3 0.4,1.7 0.4-1.4 0.4-1.6 0.4-1.1 0.4-0.1 0.4,1.9 0.4,1.7 0.4,0 0.4,0.1 0.4-2.2 0.4,0.6 0.4,1.4 0.4,0.4 0.4,1.6 0.4,1.1 0.4-1 0.4-0.7 0.4,1.4 0.4-1.1 0.4-0.8 0.4,1.7 0.4,1.1 0.4-2.6 0.4-0.2 0.4-1.5 0.4,1.5 0.4-1.6 0.4-0.8 0.4,1.4 0.4-2.5 0.4,0.9 0.4-2.3 0.4,1.1 0.4-0.9 0.4-2.9 0.4,1.5 0.4-1.3 0.4-1.5 0.4-1.9 0.4,0.5 0.4,0.3 0.4-2.8 0.4,1.4 0.4-0.9 0.4-1.5 0.4,1.3 0.4-0.1 0.4,0.5 0.4,1.7 0.4,1.2 0.4-2.9 0.4,0.6 0.4-0.6 0.4-0.5 0.4,0.3 0.4-1.2 0.4-0.3 0.4-3 0.4,1.1 0.4-4 0.4,0 0.4,2.7 0.5-2.7 0.4-0.1 0.4-2.5 0.4,0.5 0.4,1.6 0.4-2.3 0.4-0.5 0.4-0.7 0.4-1 0.4-1.7 0.4-2.7 0.4,1.6 0.4,2.5 0.4-1.6 0.4-2.7 0.4,0.8 0.4-0.8 0.4,2 0.4-0.3 0.4-0.6 0.4-2.6 0.4,2.7 0.4-0.4 0.4-1.8 0.4,0.1 0.4-1.3 0.4,1.3 0.4,1.1 0.4-0.1 0.4-2.4 0.4-2.2 0.4,3.9 0.4-3.4 0.4-0.1 0.4-0.6 0.4-1.8 0.4,3.1 0.4-1.5 0.4,0.7 0.4-3.1 0.4-3 0.4,1.9 0.4-0.5 0.4-0.2 0.4-0.7 0.4-1.2 0.4,1.2 0.4,1.1 0.4,0.7 0.4-1.9 0.4,0 0.4,0.4 0.4,1.3 0.4-1 0.4,2.6 0.4-0.1 0.4,0.5 0.4,0.1 0.4-1.1 0.4-1.1 0.4-1.2 0.4,1 0.4-0.4 0.4,2.4 0.5-1.6 0.4,1.7 0.4-1.2 0.4-0.9 0.4,1.6 0.4-2.1 0.4,2.4 0.4,0.8 0.4,1.1 0.4,1.6 0.4-1.3 0.4,3.4 0.4-0.6 0.4,1.4 0.4,0.7 0.4-0.4 0.4,2.1 0.4,3.2 0.4-0.9 0.4-0.7 0.4,0.7 0.4,2.3 0.4,0.3 0.4,0.6 0.4-1.2 0.4,0.3 0.4-2.1 0.4-0.1 0.4,0.8 0.4,1.3 0.4,0.8 0.4,1.8 0.4,1 0.4-0.3 0.4,1.1 0.4,0.9 0.4,0.3 0.4,0.2 0.4,2.5 0.4-0.9 0.4,0.8 0.4,0.1 0.4-0.6 0.4-1.4 0.4,2.2 0.4,1.3 0.4,0.3 0.4-1.7 0.4,2.5 0.4,0.3 0.4-0.6"/>
<path stroke="#b488e8" d="M54.4,140.6l0.4-1.3 0.4-2.6 0.4,1.8 0.4,0.1 0.4,0.4 0.4,0.6 0.4,1.2 0.4-0.7 0.4,3.1 0.4-1.2 0.4-0.3 0.4-0.3 0.4,1.2 0.4-2.9 0.4,2.6 0.4-1.8 0.4,1.5 0.4-0.9 0.4,1.7 0.4-0.7 0.4,1.6 0.4-0.4 0.4,2.3 0.4-0.7 0.4-2.2 0.4-1.2 0.4,1.3 0.4,1.2 0.4-0.7 0.4-1.1 0.4-1.7 0.4,0.2 0.5-0.8 0.4,0.8 0.4,0.5 0.4,1.1 0.4-2 0.4,7 0.4-5.4 0.4,4.3 0.4-3 0.4,0.5 0.4,1.2 0.4,0.5 0.4-0.5 0.4-1.2 0.4,0.2 0.4,1.3 0.4,0.5 0.4,0.7 0.4,1.2 0.4-1.7 0.4,1.6 0.4,0 0.4,0.8 0.4-2.6 0.4,3.2 0.4,0.6 0.4-0.9 0.4,0.6 0.4-2.9 0.4,3.8 0.4-1.7 0.4,1.8 0.4-3.1 0.4,1.8 0.4,0 0.4,1.1 0.4,0.3 0.4,0.6 0.4,0 0.4-4.7 0.4,1.2 0.4,1.1 0.4,1.7 0.4-1.1 0.4,1.8 0.4-1.3 0.4,1.9 0.4-0.7 0.4,2.2 0.4-1.7 0.4,1.2 0.4-2.3 0.4-2 0.4,5.5 0.4-4.8 0.4,0.9 0.4-2.3 0.4,1.2 0.4-1.7 0.4,1.6 0.4,3.3 0.4-2.5 0.4,1.2 0.4-0.1 0.5-1.5 0.4,2.5 0.4,1.7 0.4-0.7 0.4,6.1 0.4-4.2 0.4-1 0.4,0.5 0.4-1.3 0.4-0.6 0.4,1.9 0.4,2.8 0.4-0.6 0.4-0.3 0.4-0.2 0.4-2.1 0.4,1.7 0.4-0.5 0.4-1.5 0.4-1.4 0.4-0.9 0.4-0.3 0.4,1.6 0.4-1.2 0.4-0.7 0.4-0.8 0.4,2.1 0.4-0.9 0.4-1.2 0.4,1.5 0.4-0.8 0.4-1.9 0.4,0 0.4,0 0.4,0.6 0.4,1.1 0.4-1.2 0.4,2.5 0.4,0.2 0.4-0.4 0.4-1.8 0.4,2.7 0.4-4.5 0.4,2.2 0.4,0.8 0.4-1 0.4-2.2 0.4-0.3 0.4,1.2 0.4-2.5 0.4-0.3 0.4-1.7 0.4-2.2 0.4,1.3 0.4-0.4 0.4-0.5 0.4,0.2 0.4-0.5 0.4,0.6 0.4-0.3 0.4-1.5 0.4-1.3 0.4,2.8 0.4-1.3 0.5,0.4 0.4-1 0.4-1.6 0.4-1.3 0.4,1.9 0.4-2.3 0.4,0.2 0.4-2.6 0.4-0.9 0.4-1 0.4-0.7 0.4-0.3 0.4,0.3 0.4-4 0.4-2.1 0.4,0.9 0.4-1.1 0.4,0.5 0.4,0.4 0.4-3.3 0.4-0.1 0.4-1.9 0.4,2.2 0.4,0 0.4-1 0.4-1 0.4-0.8 0.4-0.2 0.4,0.8 0.4-1.2 0.4,1.2 0.4-1.5 0.4-0.6 0.4,0.2 0.4-0.5 0.4-3.3 0.4-0.2 0.4,1.6 0.4-3.9 0.4,2.9 0.4-0.4 0.4-0.5 0.4,1.2 0.4-1.8 0.4-1.1 0.4-0.3 0.4,1.2 0.4,0.1 0.4,1.1 0.4,0.7 0.4,0.9 0.4,1.3 0.4-0.7 0.4,2.6 0.4-1 0.4,0.7 0.4,3.1 0.4-1.4 0.4-0.7 0.4-0.7 0.4-1.8 0.4,0.1 0.4,2.2 0.4,0.8 0.4,0.7 0.5,2.9 0.4-1.6 0.4,0.2 0.4-1.6 0.4,1.5 0.4-1.4 0.4,0.4 0.4,0.9 0.4,0.4 0.4-1.3 0.4,0.3 0.4,1.3 0.4-2.7 0.4,1.3 0.4-0.1 0.4,3.6 0.4,0.6 0.4-1.4 0.4,2.8 0.4-1.2 0.4,0.7 0.4-0.8 0.4,0.3 0.4,2.2 0.4-2.1 0.4,2.8 0.4,2.3 0.4-0.3 0.4-0.8 0.4,1.1 0.4-3 0.4,2.2 0.4,0.5 0.4-3 0.4,2.7 0.4,0.1 0.4-0.5 0.4,1 0.4,1 0.4-0.3 0.4-0.8 0.4,0.4 0.4-1.7 0.4-1 0.4,2.2 0.4,1.7 0.4-3.5 0.4,0.8 0.4-0.1 0.4,0.1 0.4-1 0.4-1.9 0.4,3.9 0.4-0.9 0.4,0.2 0.4,0.2 0.4,0.1 0.4-2.7 0.4-1.4 0.4,0.6 0.4-1.7 0.4,2.2 0.4,1.5 0.4-2.5 0.5-2.6 0.4,2 0.4-0.6 0.4-0.8 0.4,0.7 0.4,1.4 0.4-2.7 0.4,0.1 0.4,1.6 0.4-3.3 0.4,0.6 0.4-1.6 0.4,2.7 0.4-1.9 0.4-1.3 0.4-0.3 0.4-0.3 0.4-0.1 0.4-2.1 0.4,3.6 0.4-0.9 0.4-1.7 0.4-0.4 0.4-1 0.4,2.2 0.4,0.2 0.4-2.1 0.4-0.6 0.4,0.3 0.4-1 0.4,1.6 0.4-0.9 0.4,2.1 0.4-1.1 0.4,2.7 0.4-0.4 0.4,1.6 0.4-1.8 0.4,2.2 0.4,0.9 0.4-3.6 0.4,2.3 0.4,1.8 0.4-4.7 0.4,0.8 0.4,0.6 0.4-0.7 0.4-0.9 0.4,0.5 0.4,2.2 0.4-3.4 0.4,1 0.4,1.6 0.4,0.8 0.4,0 0.4-0.2 0.4,1.8 0.4,0.4 0.4-1.6 0.4,0.3 0.4,0.4 0.4-2 0.4,1.5 0.4,0.4 0.4,3 0.5-0.8 0.4,4.6 0.4,0 0.4,0.9 0.4-2.2 0.4,2.8 0.4-4.4 0.4,1.8 0.4,2.2 0.4-1.2 0.4,1.3 0.4-0.3 0.4-0.8 0.4,4 0.4-2.5 0.4-1.3 0.4-1.4 0.4,0.3 0.4,1.9 0.4,0.6 0.4-2.6 0.4,4.5 0.4-0.7 0.4-0.9 0.4,0.6 0.4,3.2 0.4-0.5 0.4-2.3 0.4,0.6 0.4,1.2 0.4-1.7 0.4-0.1 0.4,0.3 0.4,2.7 0.4,3.3 0.4,0.9 0.4,0.7 0.4,0.3 0.4-0.1 0.4-1.8 0.4,3.5 0.4-1.5 0.4,0.9 0.4-3 0.4,4.3 0.4-2.8 0.4,0.1 0.4,1.5 0.4-2.4 0.4,0.3 0.4,1.2 0.4,0 0.4-2 0.4,3.9 0.4-1.6 0.4,1.2 0.4-1.4 0.4,1.5 0.4,0.2 0.4,0.4 0.4,1.3 0.4,0 0.4,1 0.4,0.4 0.5,0.2 0.4,1.2 0.4,0.5 0.4,0.9 0.4-0.5 0.4,1.4 0.4-0.1 0.4,2.2 0.4,0.8 0.4,0.3 0.4,0 0.4,0.7 0.4-0.4 0.4-3.9 0.4,1.9 0.4-0.6 0.4,1.6 0.4-0.3 0.4,1.2 0.4-0.4 0.4,0.5 0.4,0.4 0.4-0.9 0.4,2.2 0.4,0.9 0.4-3.2 0.4-0.4 0.4,0.3 0.4,1 0.4,1.4 0.4-1.2 0.4,1.7 0.4,0.5 0.4,0.3 0.4-0.2 0.4,0.9 0.4-0.8 0.4-0.1 0.4-0.2 0.4-0.3 0.4,2.4 0.4-2.1 0.4,0.7 0.4,1.1 0.4-0.3 0.4,2.3 0.4-1.2 0.4-1.5 0.4,3.8 0.4,0.2 0.4,1.1 0.4,0.2 0.4-2 0.4-1.7 0.4,1.8 0.4,0.4 0.4,1.8 0.4-0.9 0.4,4.2 0.4,0.1 0.4-0.6 0.4,1.5 0.4-1 0.4-2.5 0.5,1.5 0.4-3 0.4-1.4 0.4-0.2 0.4-0.2 0.4-2.8 0.4,0.8 0.4,0 0.4,0.8 0.4-2.6 0.4,0.2 0.4,1.3 0.4,1.5 0.4,0.6 0.4,1 0.4-1.8 0.4-1.2 0.4,3.8 0.4-1.3 0.4,1.7 0.4-0.5 0.4,1.5 0.4-1.3 0.4-2.1 0.4-0.4 0.4,3.3 0.4-2.9 0.4,0.3 0.4-0.3 0.4,0.1 0.4-1.7 0.4-3.1 0.4,2.6 0.4-1.3 0.4,0 0.4-1.2 0.4-2.8 0.4,1.8 0.4,0.9 0.4-0.5 0.4-1.7 0.4,1.5 0.4-2.9 0.4,3.5 0.4-2.2 0.4,1.7 0.4-0.9 0.4-1.4 0.4-2.7 0.4-2 0.4,0.3 0.4,0 0.4-0.4 0.4,1.7 0.4-3.8 0.4,0.9 0.4-0.9 0.4,0.5 0.4-0.5 0.4-1.1 0.4,2.8 0.4-2.4 0.4,0.1 0.4-3.8 0.4,0.9 0.5-1.1 0.4-2.9 0.4-1.1 0.4,2.9 0.4-3.3 0.4,0.4 0.4-1.7 0.4-0.3 0.4-3.6 0.4,0 0.4,2.5 0.4,0.4 0.4-3.8 0.4,2.7 0.4-1.1 0.4-0.8 0.4-0.6 0.4,1.6 0.4-2.2 0.4,1.9 0.4-1.6 0.4-0.3 0.4,1.8 0.4-2.5 0.4-0.1 0.4-2.7 0.4,1.9 0.4-2 0.4,2.5 0.4,2.8 0.4-1.2 0.4-0.1 0.4,0.3 0.4,0.2 0.4-1.9 0.4-0.2 0.4,0.5 0.4-1.9 0.4,0.6 0.4-3.2 0.4,0.9 0.4-0.8 0.4-0.1 0.4-1.7 0.4,2.5 0.4,0.6 0.4,0.6 0.4-0.5 0.4,0.1 0.4,0 0.4,1 0.4-0.1 0.4,3.4 0.4-0.7 0.4,0.2 0.4,2 0.4-1.1 0.4,2 0.4-0.3 0.4-1.5 0.4-1.8 0.4,1.2 0.4,2 0.4-1.4 0.5,1.6 0.4-0.2 0.4-2.2 0.4,1.4 0.4-0.8 0.4,3.1 0.4-2.5 0.4,1.8 0.4-0.6 0.4,2.7 0.4,3.7 0.4-1.3 0.4-1.8 0.4,3.8 0.4-1.8 0.4,1.1 0.4-0.8 0.4,0.4 0.4,2.8 0.4-0.1 0.4-1.8 0.4,1.3 0.4,1.4 0.4,0.9 0.4-1.7 0.4,1.3 0.4,3.4 0.4,1 0.4,0.4 0.4,2 0.4-0.6 0.4-1.9 0.4,2.5 0.4,0.4 0.4,1.8 0.4-2.2 0.4-0.4 0.4,0.5 0.4,1.4 0.4,0.8 0.4,4.6 0.4-3.8 0.4,1.1 0.4,5.2 0.4-0.3 0.4,2.7 0.4,1.9 0.4-1 0.4-0.3 0.4,0 0.4,2.1"/>
<path stroke="#d8aa3a" d="M54.4,143.3l0.4-0.9 0.4,0.4 0.4,2.2 0.4-0.2 0.4-0.6 0.4,1.9 0.4,0.7 0.4,2.2 0.4-0.6 0.4,0.7 0.4,1.5 0.4-0.6 0.4-0.3 0.4-0.8 0.4,0.1 0.4,2.7 0.4,2.5 0.4-2.1 0.4,1.7 0.4-0.2 0.4,0.6 0.4,0.6 0.4-0.6 0.4-0.9 0.4,1.4 0.4-1.4 0.4-0.3 0.4,0.5 0.4-0.6 0.4-0.1 0.4,0 0.4-2.2 0.5-0.4 0.4-0.5 0.4-1.6 0.4-1 0.4-1.7 0.4,1 0.4-1.5 0.4-0.9 0.4,1 0.4-2 0.4-1.7 0.4,0.7 0.4,0.4 0.4-3.6 0.4,5.3 0.4-3.7 0.4,1.8 0.4,0.3 0.4-0.8 0.4-0.5 0.4-0.3 0.4-1.9 0.4-1.4 0.4-2.2 0.4,1.7 0.4-0.5 0.4,0.4 0.4-3.7 0.4-0.9 0.4,0.5 0.4,1.2 0.4,0.5 0.4,0.4 0.4-1 0.4-1.2 0.4,1.8 0.4-2.2 0.4,2 0.4,0.5 0.4,0.7 0.4-1.5 0.4,0.6 0.4,0.3 0.4,0.8 0.4-0.4 0.4-0.7 0.4,1.7 0.4-4.2 0.4,3.3 0.4-1.4 0.4-0.1 0.4,1.2 0.4-1.5 0.4,0.7 0.4-1.4 0.4,1.9 0.4,0 0.4-0.7 0.4,1.2 0.4-0.7 0.4,0.7 0.4,0.8 0.4,2.7 0.4,0.7 0.5-0.4 0.4-0.3 0.4,2.9 0.4,0.1 0.4,0.2 0.4,2.3 0.4-2.5 0.4,0.4 0.4,0.2 0.4-0.3 0.4,0.1 0.4,3.2 0.4,0.5 0.4,1.2 0.4-0.2 0.4,0.2 0.4-0.7 0.4,2.4 0.4-3.6 0.4,2.8 0.4,0.4 0.4-0.9 0.4,1.4 0.4,1.1 0.4-2.2 0.4,0.5 0.4,0.8 0.4-1.1 0.4-0.7 0.4-0.3 0.4,0.5 0.4-2.3 0.4,0.4 0.4-3.3 0.4,1.4 0.4-0.4 0.4,2.9 0.4-1 0.4-3.2 0.4,1.9 0.4-1 0.4,3.7 0.4-2.6 0.4-2.4 0.4,1.5 0.4-0.7 0.4-1.8 0.4-2.2 0.4,0.6 0.4-0.4 0.4-0.1 0.4-0.5 0.4,1.6 0.4-3.5 0.4,2.3 0.4-0.9 0.4-0.3 0.4,1.6 0.4-2.5 0.4,3.4 0.4-2.9 0.4-0.2 0.4-2.1 0.4,1.9 0.5-1.5 0.4-1.5 0.4,2 0.4-1.6 0.4-3.5 0.4-0.9 0.4,3.1 0.4-1.7 0.4-2.8 0.4,0.8 0.4-0.5 0.4,0.2 0.4,1.5 0.4-0.2 0.4-3 0.4-2.6 0.4-1.2 0.4-0.6 0.4-4.2 0.4-2.3 0.4-2.1 0.4-1.4 0.4-1.6 0.4-1.2 0.4,1 0.4-4.8 0.4,1.8 0.4,2 0.4,1.4 0.4-3.1 0.4-0.1 0.4,0.3 0.4-1.9 0.4,2.8 0.4-0.4 0.4,0.3 0.4-1.3 0.4,1.1 0.4-1.8 0.4-0.7 0.4,0.2 0.4,0.3 0.4-2.6 0.4,2.5 0.4-0.4 0.4,2.6 0.4,0.8 0.4,2.1 0.4,0.9 0.4-0.9 0.4,2.2 0.4-0.8 0.4,5.3 0.4-1 0.4-0.4 0.4,2.5 0.4-0.5 0.4,4.4 0.4-2.4 0.4-1.1 0.4-0.5 0.4-1.4 0.4-1.2 0.4-2.6 0.4,1.4 0.5-6 0.4,1.6 0.4-2.2 0.4,2.3 0.4-0.3 0.4,2.7 0.4-2.8 0.4,0.2 0.4,2.4 0.4,0.2 0.4,1.9 0.4-3.1 0.4,0.2 0.4-0.2 0.4,2.5 0.4-2.2 0.4,2.2 0.4-1.5 0.4,1.6 0.4,1.2 0.4-0.1 0.4,1.7 0.4-0.3 0.4-1.9 0.4,0.3 0.4,0.7 0.4,0 0.4,0.3 0.4,0.6 0.4,2.3 0.4-1.3 0.4-0.5 0.4,1.1 0.4-1.8 0.4,0.9 0.4,1.4 0.4,2 0.4,1.5 0.4,2 0.4-0.9 0.4-2.1 0.4,1.7 0.4-0.8 0.4,4.2 0.4,1.4 0.4-1.2 0.4,0.7 0.4,0.9 0.4,0.2 0.4,0.5 0.4-3 0.4,1.5 0.4,1.8 0.4,1.1 0.4,0.4 0.4-0.9 0.4-0.4 0.4-2 0.4,1.9 0.4,0.9 0.4-0.5 0.4,0.2 0.4-1.6 0.4,1.3 0.5,0.9 0.4,2.7 0.4-4 0.4-1.4 0.4,0.2 0.4,0 0.4,0.1 0.4-0.2 0.4-0.9 0.4-0.9 0.4,0.1 0.4-1.7 0.4,0.5 0.4,0.5 0.4-3.8 0.4,0.1 0.4-1.2 0.4-1 0.4-1.4 0.4,0.2 0.4-1.9 0.4-0.3 0.4-2.6 0.4,1 0.4,0.2 0.4-0.9 0.4,0.2 0.4-0.5 0.4-1.9 0.4,1.5 0.4-1.2 0.4-2.1 0.4,0.2 0.4,1 0.4,0.7 0.4,1.1 0.4,1.1 0.4,0.7 0.4-1.5 0.4,1.6 0.4-2.2 0.4,2.3 0.4-0.4 0.4,3.7 0.4-1 0.4,1.2 0.4-1 0.4,0.1 0.4,2 0.4,0.8 0.4-2.8 0.4,0.6 0.4-0.9 0.4,1.7 0.4-1.6 0.4-1 0.4,0.7 0.4,0 0.4,1.1 0.4,1.1 0.4,2.4 0.4,1.2 0.4-0.4 0.4,1.3 0.4-3 0.5-2 0.4-0.8 0.4,0.8 0.4,1.9 0.4,2 0.4-2.4 0.4-1.7 0.4-2.5 0.4,0.8 0.4,0.3 0.4-0.4 0.4,1 0.4-2.8 0.4,2.8 0.4,3.5 0.4,0.9 0.4-1 0.4,1.5 0.4-2.6 0.4,1.2 0.4,1.7 0.4,0.4 0.4,1.2 0.4,0.6 0.4-1.4 0.4-0.8 0.4-1.3 0.4,0.6 0.4-0.9 0.4,4.6 0.4-1.1 0.4,0.6 0.4-1.6 0.4,2.7 0.4,2.3 0.4-0.6 0.4,0.5 0.4-0.8 0.4,3.6 0.4-0.8 0.4-2.7 0.4,3.6 0.4,0.8 0.4-0.8 0.4-0.1 0.4,1.9 0.4-1.3 0.4,0.3 0.4,1.7 0.4,2.8 0.4,0.6 0.4,0.4 0.4,1.7 0.4,0.5 0.4-0.1 0.4-0.6 0.4,1.1 0.4-0.6 0.4,1.3 0.4-1.2 0.4,1.7 0.4,0.9 0.4,1.6 0.4-1.3 0.5-1.3 0.4,1.7 0.4,0.1 0.4-0.1 0.4,2.6 0.4-0.5 0.4-0.2 0.4,1.1 0.4,3.4 0.4-0.8 0.4,2.3 0.4,0.4 0.4-1.2 0.4-1.6 0.4-0.3 0.4,2.2 0.4-0.4 0.4,1.3 0.4-2.4 0.4,0.6 0.4-1.3 0.4,2.3 0.4,0.2 0.4,1.3 0.4-0.6 0.4-1.6 0.4,0.4 0.4-2.2 0.4,1.2 0.4-2.1 0.4,2.2 0.4,3.5 0.4-4.5 0.4,1.7 0.4-3.8 0.4,1.5 0.4,1.6 0.4-0.4 0.4,2.2 0.4,0.6 0.4,0.3 0.4,3.6 0.4-1.3 0.4,3 0.4-1.5 0.4,2 0.4,1 0.4,0.5 0.4-0.1 0.4-1.2 0.4,2.5 0.4-0.2 0.4,2.3 0.4-1.3 0.4,4.2 0.4-0.6 0.4,3.3 0.4,4.7 0.4-2 0.4,1.7 0.4-2 0.4,2.4 0.4,1.2 0.4-0.6 0.5,0.8 0.4,0.6 0.4,1.9 0.4-3.4 0.4,1.6 0.4,0.1 0.4,1.3 0.4-0.6 0.4,0.9 0.4-0.2 0.4,2.5 0.4,0.5 0.4,1.1 0.4-1.8 0.4,2 0.4-1.2 0.4,0.4 0.4,0.9 0.4-0.6 0.4,0.7 0.4-3.9 0.4-1.1 0.4,2.1 0.4,0.8 0.4-1.6 0.4-0.5 0.4,1.7 0.4-0.7 0.4-0.7 0.4,2.8 0.4-0.3 0.4-3.4 0.4,1.5 0.4,2.1 0.4-1.7 0.4-0.6 0.4-0.1 0.4-1.2 0.4,1.8 0.4-2.5 0.4,1.3 0.4-2.4 0.4,1.3 0.4,1.9 0.4-4 0.4,2.7 0.4,0.2 0.4-1.2 0.4-2.1 0.4,0.9 0.4-0.4 0.4-0.1 0.4-0.9 0.4,1.7 0.4-2 0.4-1.3 0.4-0.8 0.4,0.5 0.4-2.6 0.4,2 0.4-0.2 0.4-3.3 0.4,1.3 0.4-3.5 0.4-0.3 0.5-0.5 0.4,1.2 0.4-3.2 0.4,1.8 0.4-0.5 0.4-0.8 0.4-0.6 0.4,0.6 0.4-1.4 0.4,0.8 0.4-1.4 0.4-1.1 0.4,0 0.4-0.7 0.4,0.8 0.4-2.7 0.4,0.7 0.4-1.5 0.4,1.2 0.4-2.5 0.4,1.2 0.4-0.4 0.4,0.8 0.4-1.5 0.4,0.6 0.4-2.4 0.4,1.5 0.4,0 0.4-2.7 0.4-4.1 0.4-2.3 0.4-2.3 0.4-3.2 0.4-0.6 0.4-1.1 0.4,1.7 0.4-1.6 0.4-3.2 0.4,1.5 0.4-1.9 0.4,0.5 0.4-3.4 0.4-0.1 0.4-3.7 0.4,0.6 0.4-2 0.4-0.1 0.4-0.7 0.4-0.9 0.4,3 0.4-3.9 0.4-2.2 0.4,2.2 0.4-2.5 0.4,2.4 0.4-2.5 0.4,0.5 0.4-2.1 0.4-0.9 0.4-0.1 0.4,1.6 0.4-0.2 0.4-0.4 0.4-0.6 0.5-0.4 0.4,2.5 0.4-1.3 0.4-2.2 0.4,1.4 0.4-0.7 0.4,0.8 0.4,0.5 0.4,0.2 0.4,2.8 0.4,0.4 0.4,0.5 0.4,1.6 0.4,0.9 0.4,1.3 0.4,2.1 0.4-1.2 0.4,1.3 0.4,1.9 0.4-0.5 0.4,0.6 0.4-1.8 0.4,0.9 0.4-0.3 0.4-1.1 0.4,0.9 0.4-0.1 0.4,0.6 0.4,1.9 0.4-2.4 0.4,2.2 0.4-0.4 0.4-0.7 0.4-0.7 0.4,0.4 0.4,1.9 0.4-0.6 0.4,0.7 0.4,1.1 0.4-1.2 0.4,1.5 0.4-3.3 0.4,2.2 0.4-0.2 0.4-0.8 0.4-0.9 0.4,1.9 0.4-1.6 0.4-0.8 0.4,1.4 0.4-0.2"/>
<path stroke="#3cc8cc" d="M54.4,143.2l0.4-0.4 0.4,0.6 0.4-0.3 0.4,0.6 0.4-0.1 0.4,1.6 0.4-3.2 0.4,2 0.4,1.4 0.4,1.1 0.4-2.8 0.4,2.8 0.4,1.4 0.4-1.3 0.4-0.9 0.4-1.8 0.4,0.5 0.4-1.4 0.4,0.2 0.4-0.2 0.4-3.4 0.4-2 0.4-0.3 0.4-1.5 0.4-0.8 0.4,1.4 0.4-1.2 0.4,1.2 0.4,0 0.4,1.2 0.4-2.6 0.4,1.9 0.5-0.6 0.4,4.2 0.4-0.6 0.4-1 0.4,2.9 0.4-2.3 0.4,0.4 0.4-0.9 0.4-0.2 0.4-1.3 0.4,1.5 0.4-1.8 0.4,2.2 0.4,0.5 0.4,1.1 0.4-1.3 0.4,0.2 0.4-2.3 0.4-2.1 0.4-0.1 0.4-0.8 0.4-1.8 0.4-3.3 0.4,2 0.4-1.7 0.4,2 0.4,1.6 0.4-2 0.4,0.4 0.4,0 0.4,2.1 0.4-1.3 0.4,0.2 0.4-2.5 0.4-0.2 0.4,2.9 0.4-1.2 0.4,2.1 0.4,0.7 0.4-2.2 0.4,0.6 0.4-0.8 0.4,0.2 0.4-2 0.4,1.1 0.4,0.7 0.4,1.7 0.4,0.4 0.4-1.6 0.4,2.2 0.4,1.9 0.4-2.4 0.4-1.2 0.4,0.7 0.4-1.6 0.4-0.3 0.4-0.8 0.4-0.8 0.4,3.1 0.4-4.1 0.4-2.2 0.4,1.4 0.4,0.5 0.4,0.4 0.5-1 0.4,1.3 0.4-1.9 0.4-0.2 0.4,0.8 0.4-0.5 0.4,0.7 0.4-2.9 0.4,4.6 0.4-0.9 0.4-0.7 0.4-0.9 0.4,3.8 0.4,0 0.4-2.2 0.4,2.6 0.4,1.5 0.4-1.4 0.4-1.1 0.4,0.9 0.4,1.7 0.4,0.1 0.4-0.4 0.4-0.5 0.4-0.7 0.4-0.1 0.4,0.8 0.4,2.9 0.4,1.1 0.4,0.9 0.4-0.4 0.4,1.5 0.4,3.3 0.4-1.8 0.4,1.4 0.4,1.3 0.4-0.6 0.4,2.7 0.4-2.6 0.4,1.1 0.4-1.4 0.4,1.1 0.4,1.1 0.4,1.7 0.4-2.7 0.4,2.5 0.4-0.2 0.4,1.1 0.4,2.8 0.4,0.1 0.4,0.8 0.4-0.1 0.4,0.7 0.4,0.7 0.4-0.8 0.4,0.6 0.4,1.8 0.4-1.6 0.4,0.5 0.4-0.2 0.4,1.1 0.4,1.6 0.4-0.7 0.4,1.3 0.5,0.4 0.4,1.2 0.4,2.9 0.4-1.5 0.4,1 0.4,2 0.4,1.1 0.4,0.7 0.4,0.8 0.4,0.7 0.4-3.1 0.4,1.6 0.4-1.9 0.4-1.5 0.4,0.2 0.4-1.9 0.4-0.6 0.4-0.5 0.4,0 0.4-2.5 0.4-1.5 0.4,0 0.4,3 0.4-0.7 0.4-1.4 0.4-1.5 0.4,0.5 0.4-1.3 0.4-0.2 0.4-0.1 0.4-0.3 0.4-3.4 0.4-0.3 0.4,0.1 0.4-0.9 0.4-3.9 0.4,2.2 0.4,1.2 0.4-0.7 0.4-1.1 0.4-1.9 0.4,0 0.4,0 0.4-2.1 0.4,1.5 0.4-0.5 0.4-0.1 0.4,1.4 0.4,1.1 0.4-3.6 0.4,0.4 0.4-0.4 0.4,1.4 0.4-1 0.4-0.4 0.4-1.6 0.4,0.7 0.4-0.5 0.4,2.6 0.4-0.6 0.4-0.5 0.4,0.6 0.4,0.1 0.4-1.6 0.4,0.3 0.5-1.1 0.4,2.9 0.4,0.1 0.4,3.4 0.4-4.1 0.4,0.9 0.4,0.9 0.4-1.6 0.4-1.2 0.4,0.8 0.4,1.2 0.4-0.2 0.4-0.7 0.4,2.1 0.4-1.4 0.4-1.2 0.4-0.8 0.4-1.2 0.4-2.5 0.4,1.9 0.4-1.2 0.4-0.6 0.4,0 0.4,0.4 0.4,1.2 0.4-2.7 0.4,0.7 0.4,0.2 0.4,2 0.4-1.4 0.4-2.3 0.4,2.8 0.4,0.7 0.4-2.9 0.4-1.3 0.4-1.1 0.4,0.8 0.4-1.2 0.4-1.6 0.4-0.7 0.4,2.2 0.4,0.4 0.4-3.7 0.4,0.4 0.4-1.9 0.4,2.3 0.4-4.7 0.4-2.3 0.4,1.3 0.4,2.3 0.4,0.5 0.4-1.4 0.4,2.3 0.4,1.2 0.4-1.6 0.4,0.3 0.4,2.4 0.4-1.9 0.4-0.4 0.4-0.1 0.4,0.2 0.4,1.5 0.4,2.7 0.4,0.1 0.5,1 0.4,0.4 0.4-2.2 0.4,0.9 0.4-1 0.4,0.6 0.4,1.1 0.4-1.1 0.4-4.1 0.4,2 0.4-1.8 0.4-0.2 0.4,0.6 0.4,3.3 0.4-0.2 0.4-0.4 0.4-1.4 0.4,2.7 0.4-0.2 0.4-0.8 0.4,0.8 0.4-0.5 0.4,0.1 0.4,0.5 0.4-0.6 0.4,0.1 0.4-0.2 0.4,1 0.4-0.3 0.4-0.4 0.4,1.8 0.4-2 0.4,0.1 0.4-2.2 0.4,0.4 0.4,0.8 0.4-4 0.4-1 0.4,1.1 0.4-0.7 0.4,1.1 0.4-1.9 0.4,0.7 0.4,1.3 0.4-2.9 0.4-0.3 0.4-2.6 0.4-0.5 0.4-1 0.4,2.5 0.4-4 0.4,4.9 0.4-2.5 0.4-0.1 0.4-1.4 0.4,2.2 0.4,1 0.4-0.6 0.4,1.3 0.4-0.7 0.4,1.5 0.4,1.5 0.4-0.7 0.4,0.2 0.4,0.6 0.5-0.1 0.4-1.6 0.4,0.4 0.4,0 0.4-0.9 0.4,1.1 0.4-2.6 0.4,3.5 0.4,2.8 0.4-0.6 0.4,1.4 0.4-0.3 0.4-2.2 0.4,1.4 0.4,1 0.4-0.6 0.4,0.6 0.4,1.5 0.4,2.1 0.4,1.2 0.4-1.5 0.4,3.2 0.4,1.1 0.4-1.8 0.4,0 0.4,2.1 0.4,0.7 0.4-0.3 0.4-0.4 0.4-1 0.4,0.2 0.4,0.7 0.4,1 0.4-4.1 0.4,5 0.4-2.3 0.4,0.5 0.4-0.4 0.4,2 0.4-0.5 0.4-1.4 0.4-0.4 0.4-2.8 0.4,0.5 0.4,2.1 0.4-1 0.4,2.8 0.4-1.6 0.4-1 0.4,1.6 0.4-1.4 0.4,2.8 0.4,2.3 0.4-2.3 0.4,1 0.4-0.1 0.4,1.3 0.4,3 0.4,0.7 0.4-1.4 0.4,0.3 0.4,1.3 0.4-0.4 0.4,0.2 0.5,1.5 0.4,0.1 0.4,1.3 0.4,0 0.4,1.8 0.4-1.6 0.4,2.9 0.4,0.6 0.4-0.7 0.4,1.4 0.4-0.6 0.4,1.4 0.4-0.5 0.4-0.2 0.4-1.4 0.4-0.1 0.4,0.4 0.4,1.9 0.4-2.2 0.4,0.5 0.4,1.8 0.4,3.2 0.4-2.9 0.4-0.5 0.4-0.9 0.4-1 0.4,0.1 0.4-1.7 0.4,1.9 0.4,0.1 0.4,0.6 0.4,2.7 0.4-3.4 0.4,1.1 0.4,0.2 0.4-1.3 0.4,1.4 0.4-1.3 0.4,1.9 0.4,2.5 0.4-1.7 0.4-1.8 0.4,2.6 0.4-1.3 0.4,2.1 0.4-0.3 0.4,4 0.4,0.2 0.4-2.7 0.4,2.7 0.4-2.5 0.4-0.1 0.4,0.1 0.4,0 0.4-0.3 0.4,3.2 0.4,1 0.4,0.9 0.4-1.4 0.4,1.3 0.4-1.2 0.4,1.6 0.4-0.8 0.4-2.5 0.5-0.1 0.4,1.7 0.4-0.9 0.4-3.2 0.4,5 0.4,0.3 0.4-2.8 0.4,3.2 0.4-1.9 0.4-1.7 0.4,0.4 0.4,0.3 0.4,1.2 0.4,0.1 0.4,1.4 0.4-1.5 0.4,0.7 0.4-2.3 0.4,1.5 0.4-4.8 0.4,0.3 0.4-2.4 0.4-1.5 0.4-4.3 0.4-0.2 0.4-2.1 0.4-0.9 0.4-0.2 0.4-1.6 0.4,1.3 0.4-4.9 0.4,2.3 0.4-1 0.4-0.3 0.4-0.4 0.4-0.2 0.4,1.3 0.4-3.9 0.4,2.4 0.4-2.2 0.4,1.8 0.4-0.5 0.4-1.3 0.4,0.3 0.4-2.1 0.4,1.6 0.4,1.1 0.4-0.6 0.4,0.3 0.4,2.1 0.4,0.7 0.4-2.2 0.4,1.4 0.4,1 0.4-0.2 0.4-0.2 0.4,0.6 0.4,0.9 0.4-1.4 0.4-3 0.4,4.6 0.4,1 0.4-0.2 0.4,0.7 0.4,1.3 0.5,0.4 0.4-0.2 0.4,0 0.4-0.1 0.4-1.4 0.4-0.4 0.4-0.2 0.4-0.4 0.4,1 0.4-1.3 0.4-1.2 0.4,2.7 0.4,0.6 0.4-0.6 0.4-0.7 0.4-1.5 0.4,0.2 0.4-2.6 0.4,1.2 0.4-2 0.4-0.4 0.4-2.9 0.4,0.1 0.4-0.3 0.4,0.9 0.4,0 0.4,1.1 0.4-1.1 0.4-1.2 0.4-0.4 0.4-1.6 0.4,0.1 0.4-1.7 0.4-0.9 0.4,0.9 0.4-0.5 0.4-1.5 0.4,1.7 0.4,0 0.4,0.2 0.4-3.1 0.4-1.6 0.4-0.8 0.4,1.9 0.4,0 0.4-1.2 0.4,2.4 0.4-0.3 0.4-2 0.4,3.1 0.4-2 0.4-0.6 0.4,1.1 0.4-0.7 0.4-0.1 0.4,2.7 0.4,2.6 0.4,0.6 0.4-0.1 0.4-1.3 0.4-1.1 0.4-0.9 0.4,0.3 0.4-0.2 0.5,2.7 0.4-0.1 0.4,1.1 0.4,0 0.4-0.9 0.4,0.1 0.4-0.1 0.4-2.7 0.4,1.2 0.4-1.9 0.4,0.1 0.4,4.3 0.4-1.3 0.4,2.4 0.4,0.8 0.4-3.4 0.4,1.5 0.4,2.4 0.4,0.3 0.4,1.1 0.4-0.1 0.4-0.7 0.4,1 0.4-1.5 0.4-0.7 0.4,1.6 0.4,0.7 0.4,1 0.4-4.8 0.4,3.6 0.4-1.3 0.4,1.2 0.4,1.2 0.4-3 0.4,3.2 0.4-1 0.4,2 0.4-0.1 0.4,0.1 0.4,1.5 0.4-2.3 0.4,0.7 0.4-0.4 0.4,1.3 0.4,1.7 0.4-2.9 0.4,1.1 0.4-0.9 0.4,1.3 0.4,0.8 0.4,1.9"/>
<path stroke="#8a5c5c" d="M54.4,137.9l0.4-2.3 0.4,0.5 0.4,0.2 0.4-0.3 0.4-2 0.4,1.4 0.4-3 0.4-1.4 0.4-0.6 0.4,2.5 0.4,0.3 0.4-0.5 0.4-0.8 0.4-0.3 0.4,0.7 0.4,2.7 0.4-1.4 0.4-1.2 0.4,1.1 0.4-1.7 0.4,1.1 0.4,0.7 0.4,3.9 0.4-2.6 0.4-0.7 0.4,1.6 0.4,0.1 0.4,0.7 0.4,0.6 0.4,2.1 0.4-0.9 0.4,1.2 0.5,1.6 0.4-1.5 0.4,3.2 0.4,0.5 0.4-3.5 0.4,1.7 0.4,1.1 0.4-0.5 0.4-3.2 0.4,1.7 0.4,1.3 0.4-0.9 0.4-2.9 0.4,1.3 0.4,1.8 0.4,1.7 0.4-1.8 0.4-2.6 0.4,1 0.4,2.2 0.4-3.5 0.4,0.8 0.4,0.3 0.4-0.2 0.4-0.7 0.4-2 0.4-0.1 0.4,2 0.4-1.3 0.4,1.3 0.4,0.6 0.4,0.3 0.4-0.7 0.4,1.7 0.4,2.4 0.4,1.1 0.4-0.3 0.4,0.2 0.4-1.3 0.4-0.2 0.4-0.2 0.4,1.3 0.4-0.3 0.4,0.4 0.4-0.4 0.4,0 0.4-0.5 0.4,1.7 0.4-1.8 0.4,0.5 0.4,1.3 0.4-2.7 0.4-0.4 0.4,1.5 0.4-1 0.4-0.5 0.4,0.2 0.4-2.6 0.4,0.2 0.4,1.7 0.4-0.7 0.4,0.1 0.4-0.9 0.4,1.6 0.5-3 0.4,1.6 0.4,1.6 0.4-2 0.4-1.3 0.4,0.1 0.4-1.1 0.4,1 0.4,1.8 0.4-0.9 0.4,0.2 0.4-1.2 0.4,0.9 0.4-1.8 0.4-1 0.4-2.1 0.4-3 0.4,2 0.4,0.3 0.4,0.3 0.4-1.2 0.4,0 0.4-1.5 0.4-0.5 0.4-1.4 0.4-0.9 0.4,1 0.4-0.8 0.4-0.1 0.4,1 0.4,0.5 0.4,0.4 0.4-1 0.4-1.3 0.4,1.5 0.4-0.2 0.4,1.3 0.4-2.1 0.4,2.2 0.4,0 0.4-0.1 0.4-1 0.4-1.4 0.4,2.5 0.4,0.7 0.4-0.2 0.4,1.8 0.4-0.9 0.4-2 0.4,3.7 0.4-0.5 0.4,0.4 0.4-1.9 0.4,0.4 0.4,2.2 0.4-0.3 0.4-3.4 0.4,0.1 0.4,0.4 0.4-1.9 0.4-0.6 0.4-3.3 0.4,1.1 0.4-1.1 0.5-1.7 0.4-2.4 0.4-1.8 0.4-0.4 0.4-1.1 0.4-0.5 0.4,1.9 0.4-2.5 0.4,3.8 0.4-1.5 0.4,0.3 0.4,0 0.4,0.1 0.4,1.6 0.4,1.8 0.4-0.6 0.4-1.6 0.4-0.4 0.4-0.2 0.4-2.4 0.4,1.9 0.4,0.8 0.4-2.1 0.4,2.7 0.4-0.8 0.4-2 0.4,1.1 0.4-0.8 0.4,2.5 0.4-0.7 0.4-0.6 0.4,0.4 0.4,1.5 0.4-2.2 0.4-0.9 0.4,1.5 0.4,0.5 0.4,0.2 0.4,2.1 0.4,3.2 0.4,2.3 0.4-0.7 0.4,1.8 0.4,3.2 0.4,0.2 0.4-1 0.4,2.5 0.4,0.7 0.4,2.3 0.4-1 0.4-3.1 0.4,4.2 0.4-3.2 0.4-0.2 0.4,2 0.4,0.4 0.4-1.4 0.4-0.3 0.4,0.4 0.4-2.4 0.4,2.2 0.4-1.1 0.4,2.5 0.4-1.4 0.4,0.2 0.5,4.3 0.4-2.8 0.4,0.2 0.4,1.6 0.4,0.2 0.4,1.6 0.4-0.9 0.4,1.4 0.4,0.4 0.4,1.3 0.4,4.8 0.4-1.2 0.4,3.1 0.4-3.3 0.4,1.8 0.4-0.9 0.4,0 0.4,2.6 0.4-1.1 0.4,1.4 0.4-1.2 0.4,3.7 0.4,1.8 0.4-1.6 0.4,2.9 0.4,0.5 0.4-0.4 0.4,0.4 0.4-1.2 0.4-0.2 0.4-0.8 0.4-0.4 0.4-3.2 0.4-1.8 0.4,4.8 0.4-4.7 0.4,3.7 0.4,2.6 0.4-1.5 0.4,0.8 0.4-2.8 0.4-2.9 0.4,0.1 0.4-2.3 0.4-1.2 0.4-0.1 0.4,0.7 0.4-3.2 0.4,1.5 0.4-0.9 0.4,1.6 0.4-1.7 0.4,0.2 0.4-0.4 0.4,0.1 0.4-3.3 0.4,1.2 0.4-1.1 0.4-0.5 0.4,1.1 0.4-3.7 0.4,1.6 0.4,1.7 0.4-2 0.5,4 0.4-1.1 0.4-0.3 0.4-1.5 0.4,1.8 0.4-1.5 0.4,2 0.4-5.6 0.4-0.4 0.4,0.5 0.4,1.5 0.4-1.2 0.4-0.3 0.4-2.7 0.4-1.8 0.4-2.6 0.4,2.5 0.4-1.8 0.4-2.9 0.4-0.2 0.4-0.9 0.4-1.5 0.4,1 0.4-2.6 0.4-0.8 0.4-0.4 0.4,2.6 0.4-5.8 0.4,0 0.4,1.5 0.4-1.4 0.4,0.1 0.4-3 0.4,1.7 0.4-2.7 0.4-1.3 0.4,0.8 0.4,2.1 0.4-2.7 0.4-1 0.4-0.7 0.4,3.2 0.4,0.1 0.4,0 0.4,1.5 0.4-1.1 0.4,1.7 0.4-0.1 0.4-1.3 0.4,0.3 0.4,2.1 0.4,1 0.4-2.3 0.4,2.3 0.4-2.7 0.4,1.4 0.4,0.4 0.4,1.6 0.4-3.7 0.4,2.4 0.4,1.9 0.4,1.7 0.4,0.2 0.4,2.3 0.4-0.8 0.5,2.3 0.4-0.5 0.4-1.5 0.4,1 0.4,2.7 0.4,2.6 0.4-1.1 0.4,0.3 0.4,1.6 0.4,0.7 0.4,1.6 0.4-1.1 0.4,3.3 0.4,0.3 0.4-1.1 0.4,1 0.4,0 0.4-1.7 0.4,0.1 0.4,1.1 0.4-0.6 0.4,2.3 0.4-0.6 0.4,1.9 0.4,2.6 0.4,0.6 0.4,1.6 0.4-1.2 0.4,2.4 0.4-0.1 0.4-0.6 0.4-0.9 0.4-0.3 0.4-2.3 0.4,2.1 0.4,0.4 0.4-1.8 0.4-0.3 0.4-2.4 0.4,1.3 0.4,2.6 0.4-1.1 0.4,2.4 0.4,3.1 0.4-1.1 0.4-0.4 0.4-0.9 0.4,1.1 0.4-1.8 0.4,1.4 0.4,2.1 0.4-1.8 0.4-0.5 0.4-0.5 0.4,3.5 0.4-2.3 0.4,2.2 0.4,0.7 0.4-0.7 0.4-0.2 0.4,1.9 0.4-1.7 0.4,1.2 0.4,1.7 0.5,0.6 0.4,3.2 0.4-1.4 0.4,0.9 0.4,1.7 0.4,0.7 0.4-0.6 0.4,0.8 0.4-0.4 0.4,2.2 0.4-2.1 0.4-0.2 0.4,1.6 0.4,1.9 0.4-0.5 0.4-1.5 0.4,2.7 0.4-3.1 0.4-1.6 0.4-1 0.4-0.9 0.4,1.2 0.4-2.4 0.4-0.1 0.4,2.5 0.4,0.7 0.4,1.6 0.4-1.5 0.4-2.6 0.4,0.8 0.4,1.7 0.4-0.1 0.4,0.6 0.4-1 0.4-1.4 0.4,1.2 0.4,0.1 0.4,2.1 0.4-1.9 0.4,0.3 0.4,0.7 0.4,1.3 0.4-2 0.4,2.2 0.4,0.7 0.4-2.3 0.4,2 0.4-0.2 0.4-0.9 0.4-0.7 0.4,3 0.4,1.1 0.4,2.7 0.4-0.5 0.4,0.8 0.4,2.4 0.4-1.1 0.4-0.1 0.4-1 0.4,0 0.4,0.1 0.4-0.1 0.4,3.2 0.4-3.1 0.5-0.1 0.4,1.2 0.4-1.7 0.4,1.2 0.4-3 0.4,2.5 0.4-2.3 0.4-2.1 0.4,1.8 0.4-0.1 0.4,0 0.4,0.2 0.4-2.6 0.4,2.2 0.4,0.7 0.4,0 0.4,0.8 0.4-0.2 0.4,0.9 0.4,0.4 0.4,0.4 0.4-3.2 0.4,0.2 0.4,2 0.4-2.1 0.4,1.7 0.4-1.3 0.4-0.9 0.4,4.6 0.4,0 0.4-3 0.4-0.8 0.4-1.4 0.4-0.3 0.4-1.9 0.4,1.5 0.4,0.6 0.4,0.7 0.4-2.4 0.4-2.2 0.4,0.9 0.4,0.2 0.4-2.8 0.4,1.2 0.4-1.7 0.4-0.2 0.4,0.6 0.4,1.2 0.4-0.6 0.4-3.7 0.4,0.7 0.4-2.2 0.4,1.7 0.4-0.6 0.4-0.7 0.4-1.6 0.4,1 0.4-0.7 0.4-1 0.4,1.3 0.4-2 0.4,0.1 0.4,0.4 0.4-2.6 0.4,2.2 0.5-2.1 0.4-2.1 0.4,2.4 0.4-3.4 0.4-1.2 0.4,0.9 0.4-1.7 0.4,0 0.4-0.1 0.4,1.7 0.4-4.1 0.4,0.4 0.4,1 0.4-2.5 0.4,1.7 0.4-1.3 0.4-0.4 0.4,1.8 0.4-4.4 0.4,2 0.4,0.3 0.4,0.5 0.4,1.4 0.4,0.4 0.4-1.3 0.4-4 0.4,2.2 0.4-1.9 0.4-0.4 0.4-0.4 0.4-0.5 0.4-1 0.4,1.2 0.4-2 0.4-0.1 0.4-2.5 0.4-2.9 0.4-0.2 0.4-0.8 0.4-1.9 0.4,0.5 0.4-0.9 0.4,0.8 0.4,0.2 0.4,0 0.4-1.8 0.4,0.8 0.4,1.1 0.4,0 0.4,0.8 0.4,0.4 0.4,1 0.4-0.5 0.4-2 0.4,1.4 0.4,1.4 0.4-3.1 0.4,2.3 0.4,0.5 0.4-0.8 0.4,2.4 0.4,1.2 0.4-0.5 0.4,1.6 0.5,3.3 0.4,0.9 0.4,0.4 0.4,1.8 0.4-1.6 0.4,2.1 0.4-0.3 0.4,2.9 0.4-2.1 0.4,1.8 0.4,1.8 0.4-3.6 0.4,1.7 0.4-0.5 0.4,1.1 0.4-0.2 0.4-0.7 0.4,0.2 0.4,0.9 0.4,0.2 0.4,2 0.4,1.7 0.4-0.6 0.4-0.6 0.4,1.3 0.4-1.5 0.4-0.2 0.4,1 0.4,0.9 0.4,0.7 0.4-1.2 0.4-0.8 0.4,3.5 0.4,0.9 0.4-0.5 0.4,0.1 0.4,0.9 0.4,2.1 0.4-1.7 0.4,2.1 0.4,0.1 0.4-2.1 0.4,1.8 0.4,2.3 0.4-1.3 0.4,0.6 0.4-0.2 0.4-1.8 0.4-0.6 0.4,0.6 0.4-0.1"/></g>
<line x1="53.65" y1="140.6" x2="320.0" y2="140.6" stroke="#111" stroke-width="1.55" stroke-dasharray="3.6 3.755"/>
<rect x="136.0" y="19.00" width="19.95" height="227.30" fill="#d3d3d3" fill-opacity="0.55"/>
<path d="M50.4,33.5H54.4V247.0H320.0" fill="none" stroke="#555" stroke-width="1.45"/>
<path d="M50.4,33.5H54.4M50.4,69.1H54.4M50.4,104.6H54.4M50.4,140.2H54.4M50.4,175.8H54.4M50.4,211.3H54.4M50.4,246.8H54.4M54.40,247.0V251.0M72.67,247.0V251.0M90.94,247.0V251.0M109.21,247.0V251.0M127.48,247.0V251.0M145.75,247.0V251.0M164.02,247.0V251.0M182.29,247.0V251.0M200.56,247.0V251.0M218.83,247.0V251.0M237.10,247.0V251.0M255.37,247.0V251.0M273.64,247.0V251.0M291.91,247.0V251.0M310.18,247.0V251.0" stroke="#555" stroke-width="1.3" fill="none"/>
<text transform="translate(47,36.75) scale(1,1.06)" text-anchor="end" font-size="8.9">0.75</text>
<text transform="translate(47,72.30) scale(1,1.06)" text-anchor="end" font-size="8.9">0.50</text>
<text transform="translate(47,107.85) scale(1,1.06)" text-anchor="end" font-size="8.9">0.25</text>
<text transform="translate(47,143.40) scale(1,1.06)" text-anchor="end" font-size="8.9">0.00</text>
<text transform="translate(47,178.95) scale(1,1.06)" text-anchor="end" font-size="8.9">-0.25</text>
<text transform="translate(47,214.50) scale(1,1.06)" text-anchor="end" font-size="8.9">-0.50</text>
<text transform="translate(47,250.05) scale(1,1.06)" text-anchor="end" font-size="8.9">-0.75</text>
<text transform="translate(54.40,258.9) scale(0.5,0.54)" text-anchor="middle" font-size="12" style="stroke-width:0.45px">2003</text>
<text transform="translate(72.67,258.9) scale(0.5,0.54)" text-anchor="middle" font-size="12" style="stroke-width:0.45px">2004</text>
<text transform="translate(90.94,258.9) scale(0.5,0.54)" text-anchor="middle" font-size="12" style="stroke-width:0.45px">2005</text>
<text transform="translate(109.21,258.9) scale(0.5,0.54)" text-anchor="middle" font-size="12" style="stroke-width:0.45px">2006</text>
<text transform="translate(127.48,258.9) scale(0.5,0.54)" text-anchor="middle" font-size="12" style="stroke-width:0.45px">2007</text>
<text transform="translate(145.75,258.9) scale(0.5,0.54)" text-anchor="middle" font-size="12" style="stroke-width:0.45px">2008</text>
<text transform="translate(164.02,258.9) scale(0.5,0.54)" text-anchor="middle" font-size="12" style="stroke-width:0.45px">2009</text>
<text transform="translate(182.29,258.9) scale(0.5,0.54)" text-anchor="middle" font-size="12" style="stroke-width:0.45px">2010</text>
<text transform="translate(200.56,258.9) scale(0.5,0.54)" text-anchor="middle" font-size="12" style="stroke-width:0.45px">2011</text>
<text transform="translate(218.83,258.9) scale(0.5,0.54)" text-anchor="middle" font-size="12" style="stroke-width:0.45px">2012</text>
<text transform="translate(237.10,258.9) scale(0.5,0.54)" text-anchor="middle" font-size="12" style="stroke-width:0.45px">2013</text>
<text transform="translate(255.37,258.9) scale(0.5,0.54)" text-anchor="middle" font-size="12" style="stroke-width:0.45px">2014</text>
<text transform="translate(273.64,258.9) scale(0.5,0.54)" text-anchor="middle" font-size="12" style="stroke-width:0.45px">2015</text>
<text transform="translate(291.91,258.9) scale(0.5,0.54)" text-anchor="middle" font-size="12" style="stroke-width:0.45px">2016</text>
<text transform="translate(310.18,258.9) scale(0.5,0.54)" text-anchor="middle" font-size="12" style="stroke-width:0.45px">2017</text>
<text x="186.8" y="278.3" text-anchor="middle" font-size="18" class="big">date</text>
<text transform="translate(9.40,187.17) rotate(-90)" font-size="15.5" class="big">&#916;</text>
<text transform="translate(9.40,176.10) rotate(-90) scale(1.12,1)" font-size="15.5" class="big">&#961;</text>
<text transform="translate(14.20,166.30) rotate(-90)" font-size="12.1" class="big">DCCA</text>
<text transform="translate(9.40,126.60) rotate(-90)" font-size="18" class="big">(s = 8)</text>
<rect x="321.5" y="1.7" width="55.8" height="109.5" fill="#fff" stroke="#999" stroke-width="1"/>
<line x1="322.9" x2="342.3" y1="8.00" y2="8.00" stroke="#c4c4c4" stroke-width="1.6"/>
<text transform="translate(345,11.40) scale(1,1.07)" font-size="8.75" style="stroke-width:0.18px">CAC40</text>
<line x1="322.9" x2="342.3" y1="18.77" y2="18.77" stroke="#f0a4a4" stroke-width="1.6"/>
<text transform="translate(345,22.17) scale(1,1.07)" font-size="8.75" style="stroke-width:0.18px">TSX</text>
<line x1="322.9" x2="342.3" y1="29.54" y2="29.54" stroke="#a4c0ee" stroke-width="1.6"/>
<text transform="translate(345,32.94) scale(1,1.07)" font-size="8.75" style="stroke-width:0.18px">DAX</text>
<line x1="322.9" x2="342.3" y1="40.31" y2="40.31" stroke="#a4d8bc" stroke-width="1.6"/>
<text transform="translate(345,43.71) scale(1,1.07)" font-size="8.75" style="stroke-width:0.18px">MIB</text>
<line x1="322.9" x2="342.3" y1="51.08" y2="51.08" stroke="#dcc4f4" stroke-width="1.6"/>
<text transform="translate(345,54.48) scale(1,1.07)" font-size="8.75" style="stroke-width:0.18px">FTSE</text>
<line x1="322.9" x2="342.3" y1="61.85" y2="61.85" stroke="#f0d8a0" stroke-width="1.6"/>
<text transform="translate(345,65.25) scale(1,1.07)" font-size="8.75" style="stroke-width:0.18px">MOEX</text>
<line x1="322.9" x2="342.3" y1="72.62" y2="72.62" stroke="#a0e8e8" stroke-width="1.6"/>
<text transform="translate(345,76.02) scale(1,1.07)" font-size="8.75" style="stroke-width:0.18px">NIKKEI</text>
<line x1="322.9" x2="342.3" y1="83.39" y2="83.39" stroke="#d4b4b4" stroke-width="1.6"/>
<text transform="translate(345,86.79) scale(1,1.07)" font-size="8.75" style="stroke-width:0.18px">SSE</text>
<line x1="322.9" x2="342.3" y1="94.16" y2="94.16" stroke="#222" stroke-width="1.5" stroke-dasharray="3.5 4"/>
<text transform="translate(345,97.56) scale(1,1.07)" font-size="8.75" style="stroke-width:0.18px">UL 95%</text>
<line x1="322.9" x2="342.3" y1="104.93" y2="104.93" stroke="#222" stroke-width="1.5" stroke-dasharray="3.5 4"/>
<text transform="translate(345,108.33) scale(1,1.07)" font-size="8.75" style="stroke-width:0.18px">LL 95%</text>
</g>
<g transform="translate(0.00,291.20)">
<g fill="none" stroke-width="0.75" stroke-linejoin="round"><path stroke="#7a7a7a" d="M54.4,128.7l0.4,1.9 0.4,1 0.4-0.1 0.4-1.3 0.4-0.4 0.4,1.4 0.4,0 0.4,0.8 0.4,0.7 0.4-2.2 0.4-1 0.4,1.7 0.4-2.4 0.4,0.1 0.4,1.6 0.4-1.4 0.4-1 0.4,4.1 0.4-1.2 0.4,4.6 0.4-0.8 0.4-0.9 0.4,0.5 0.4,0.9 0.4,1.6 0.4-0.9 0.4-1 0.4,0.1 0.4-1.1 0.4,1.3 0.4,0.7 0.4,0.4 0.5,0.4 0.4,0.7 0.4,0.8 0.4-0.8 0.4,1.9 0.4-0.6 0.4,0.7 0.4,1.3 0.4-0.3 0.4,3.4 0.4-0.9 0.4,0.5 0.4-1.4 0.4,3.3 0.4-2.2 0.4-0.5 0.4-1.4 0.4-2 0.4,0.7 0.4,0.8 0.4-0.3 0.4,3.9 0.4-1.4 0.4,1.8 0.4,0.4 0.4-1 0.4-1.5 0.4,1.8 0.4,1 0.4-0.3 0.4-0.8 0.4,3 0.4-1.9 0.4,2.1 0.4,0.8 0.4,0.8 0.4-1 0.4,0.4 0.4,0.9 0.4,0.4 0.4-1 0.4-1.1 0.4-0.5 0.4,1.7 0.4,1.8 0.4-1.9 0.4,1.8 0.4-0.9 0.4,1.2 0.4-0.7 0.4-2.5 0.4,1.4 0.4,1.3 0.4,0 0.4,0.5 0.4-0.6 0.4,0.6 0.4-0.7 0.4-1.2 0.4,2.6 0.4-0.5 0.4-1.2 0.4,0.6 0.4,1.4 0.5-0.9 0.4-1.1 0.4,0 0.4,0.2 0.4,0.6 0.4-0.6 0.4-0.5 0.4,1.8 0.4,0.3 0.4-0.3 0.4-0.9 0.4,2.3 0.4,0.6 0.4,3.4 0.4-2.5 0.4-0.7 0.4-0.1 0.4,0.4 0.4-3.1 0.4,3.2 0.4-0.4 0.4,1.8 0.4-2.2 0.4-3 0.4-0.6 0.4-0.8 0.4,3.2 0.4-1.4 0.4-0.2 0.4-0.4 0.4,0.9 0.4-0.7 0.4-2.7 0.4-0.4 0.4,0.2 0.4,0.3 0.4-1.1 0.4,0.8 0.4-3.7 0.4,0.5 0.4,2.4 0.4-0.3 0.4,0.6 0.4,0.9 0.4-2.4 0.4,1.6 0.4,0.8 0.4-0.1 0.4-0.3 0.4,0.1 0.4,1.7 0.4-4 0.4-0.1 0.4,1.7 0.4-1.3 0.4,0.7 0.4-0.3 0.4-2.7 0.4-0.6 0.4-1.7 0.4-3.3 0.4,1.6 0.4,1.4 0.4-0.5 0.5,0.6 0.4-0.7 0.4,0.6 0.4-1.1 0.4-0.1 0.4-1.5 0.4,0.1 0.4-2.6 0.4-2.8 0.4-2 0.4-3 0.4,3.4 0.4-0.7 0.4-0.8 0.4-2.4 0.4,0.6 0.4-1.5 0.4,1.1 0.4-2.5 0.4,0.9 0.4-1.1 0.4-3.2 0.4-0.2 0.4,2.1 0.4,0.1 0.4-0.9 0.4-1.2 0.4,0.3 0.4-0.3 0.4,1 0.4,0.7 0.4-1.7 0.4,0.4 0.4-0.3 0.4-0.5 0.4,1.6 0.4-0.6 0.4-0.7 0.4-0.4 0.4,0.2 0.4,0.6 0.4-1.6 0.4,1.8 0.4-0.9 0.4,1.3 0.4,1 0.4-0.6 0.4,1 0.4-3 0.4,2.5 0.4-1.7 0.4,2.4 0.4,0.8 0.4,0 0.4,0.9 0.4-0.3 0.4,0.6 0.4-0.3 0.4,0.5 0.4-1 0.4,0.6 0.4,1.1 0.4,1 0.4-3.2 0.4,2.1 0.5-1.3 0.4-1.6 0.4,2.3 0.4-1.3 0.4,2.8 0.4-2.3 0.4,1.1 0.4-0.9 0.4,2.5 0.4,1.5 0.4-0.1 0.4-1 0.4,1.7 0.4,0.6 0.4,0.2 0.4-1.4 0.4,1.2 0.4-0.3 0.4-1.1 0.4,0 0.4-0.7 0.4,1 0.4-0.8 0.4,0.6 0.4,0.1 0.4-0.1 0.4,0.5 0.4-0.1 0.4,2.5 0.4-3.5 0.4,2.6 0.4-0.6 0.4-0.6 0.4-1.5 0.4,2.8 0.4-0.1 0.4,0.3 0.4,0.8 0.4-2 0.4,1 0.4,0.2 0.4-0.1 0.4,1.8 0.4-3.4 0.4-0.6 0.4,2.2 0.4,2.1 0.4,1.2 0.4,1.8 0.4-1.1 0.4-0.2 0.4,0.4 0.4,2 0.4-0.3 0.4-2.2 0.4-1.7 0.4,1.3 0.4,0.2 0.4-2.8 0.4,0.8 0.4,0.2 0.4,0 0.4-1 0.4-0.4 0.5-0.6 0.4,0 0.4-1.4 0.4,0.8 0.4-1.2 0.4-0.9 0.4-1.6 0.4-0.9 0.4,0 0.4,0 0.4,0.2 0.4,0.3 0.4-1.1 0.4,0.7 0.4,1.3 0.4-0.6 0.4,0.2 0.4-0.3 0.4-1.7 0.4,0.3 0.4-0.6 0.4-1.1 0.4-0.5 0.4,1.2 0.4-1.1 0.4,0.4 0.4-1.6 0.4-0.5 0.4-1.9 0.4,5.1 0.4-1.8 0.4,1.3 0.4-1 0.4-0.5 0.4,2.3 0.4-1.8 0.4,2.3 0.4,1.4 0.4-1.6 0.4,0.5 0.4-0.5 0.4-0.2 0.4,2.2 0.4-0.4 0.4,3.1 0.4-0.5 0.4-2.8 0.4,3.1 0.4,0 0.4,2.4 0.4-2.1 0.4,1.5 0.4-0.4 0.4,0.6 0.4,0.3 0.4-0.6 0.4-1.2 0.4-1.2 0.4-0.4 0.4,2.7 0.4,0.1 0.4,0.6 0.4-0.9 0.4,2.4 0.4-1 0.5,0.3 0.4,0.3 0.4-1.2 0.4,1.6 0.4-0.5 0.4,1.5 0.4,0.4 0.4-1.1 0.4,0.8 0.4,1.6 0.4,0 0.4-1.4 0.4,2.2 0.4-2.4 0.4-0.4 0.4,1.5 0.4,1.2 0.4,2.8 0.4,0.4 0.4,0.4 0.4-2.5 0.4,4.5 0.4,0.5 0.4-2.7 0.4-1.4 0.4,1.8 0.4,2.2 0.4,1.6 0.4,2.2 0.4-2.9 0.4-1.1 0.4,0.8 0.4,0.2 0.4-0.5 0.4,1.4 0.4,0 0.4-2.3 0.4,2.5 0.4-1.2 0.4,2.3 0.4,0.8 0.4,0 0.4,0.6 0.4,0 0.4-0.9 0.4,1.2 0.4,0.9 0.4-2.4 0.4,2.1 0.4,2.2 0.4-2.5 0.4-1.7 0.4,2.1 0.4,1.4 0.4-1.8 0.4-0.1 0.4,1.3 0.4-2.4 0.4,0.4 0.4,0.9 0.4-1.7 0.4,0.4 0.4,2.2 0.4,0.8 0.5-0.5 0.4,0 0.4,1.2 0.4,0.1 0.4-1.7 0.4,0.3 0.4,1.2 0.4-1.1 0.4-1.8 0.4,2.9 0.4,2.8 0.4-1 0.4-1.5 0.4,1.7 0.4-1.5 0.4-2.8 0.4-0.3 0.4,1.4 0.4,1.1 0.4,0.2 0.4-0.1 0.4,0.6 0.4,0.7 0.4,0.7 0.4,0.5 0.4,0.1 0.4-0.1 0.4,3.2 0.4-0.5 0.4,1.4 0.4-1.7 0.4,3.4 0.4-1.2 0.4,0.3 0.4-1.5 0.4-0.7 0.4,2.8 0.4-1.8 0.4,2.3 0.4-0.6 0.4,0.3 0.4,1.1 0.4-0.8 0.4,0.3 0.4,1.1 0.4,0.5 0.4,1.8 0.4,1 0.4,0.9 0.4,0.1 0.4,0.7 0.4-0.8 0.4,1.7 0.4,0.8 0.4-2.3 0.4,0.9 0.4,1.1 0.4-2 0.4,0.1 0.4,0.9 0.4,1.7 0.4-0.3 0.4,0.3 0.4-1.3 0.5,0.2 0.4,3.8 0.4-2.5 0.4,0.2 0.4-1.2 0.4-0.6 0.4-0.5 0.4-0.1 0.4-0.3 0.4-0.2 0.4-0.6 0.4-1.2 0.4,0.1 0.4-0.2 0.4-0.4 0.4-3.5 0.4-0.6 0.4,1.6 0.4-0.1 0.4-1 0.4,1.7 0.4-2 0.4,0.8 0.4-2.2 0.4-0.6 0.4-0.1 0.4-4 0.4,0.9 0.4-1.1 0.4,0.3 0.4-1 0.4,0.9 0.4,0.4 0.4-0.7 0.4,0 0.4,2.5 0.4-3.3 0.4,0 0.4,1.1 0.4,0 0.4-1.8 0.4-1.2 0.4-0.9 0.4-1.4 0.4,2.2 0.4-1.2 0.4-2.1 0.4,1.8 0.4,1 0.4-2.8 0.4,1.1 0.4-1 0.4-2.1 0.4,2.7 0.4-4.5 0.4,1.6 0.4,1.9 0.4-1.2 0.4,0.5 0.4-0.7 0.4,2.2 0.4-2 0.4-1.4 0.4,1.4 0.4-2.1 0.5,1.7 0.4-0.9 0.4-0.4 0.4-0.8 0.4-1 0.4-0.6 0.4-2.1 0.4-0.4 0.4,1.4 0.4-0.1 0.4-1.1 0.4,0.7 0.4,2.9 0.4-3.2 0.4-2.2 0.4-0.3 0.4-2.1 0.4,4.7 0.4-1 0.4-1.7 0.4,0.6 0.4-2.3 0.4,1 0.4,1.2 0.4-2.1 0.4-1 0.4-0.4 0.4-1 0.4-1.1 0.4-0.8 0.4,1 0.4-0.8 0.4,2.1 0.4-4.8 0.4,0.6 0.4-2.5 0.4,1.6 0.4-1.4 0.4-0.1 0.4-0.5 0.4,0.3 0.4,0.6 0.4-0.5 0.4,0.7 0.4-1.1 0.4,0.5 0.4-0.5 0.4,0.3 0.4,0.8 0.4,0.2 0.4,1.4 0.4-0.8 0.4,2.3 0.4,3.2 0.4-1.2 0.4,1.2 0.4,0.8 0.4,0.8 0.4-3.8 0.4-0.7 0.4,1.1 0.4,0.5 0.4,1.2 0.4-0.6 0.5,1.7 0.4,1.6 0.4,0.4 0.4-1 0.4,1.2 0.4-1.3 0.4,0.8 0.4,1.2 0.4-1.8 0.4-0.9 0.4,3.5 0.4,1.9 0.4-1.5 0.4,1.4 0.4-1.5 0.4,3.2 0.4,1.4 0.4-0.5 0.4-2.6 0.4,0.9 0.4,1.4 0.4,0.7 0.4-0.7 0.4,0 0.4-3.1 0.4,0.7 0.4-0.7 0.4,1.3 0.4,2.5 0.4-0.5 0.4,1.1 0.4,0.6 0.4-1.3 0.4,2.4 0.4,0.1 0.4-0.1 0.4,0.9 0.4-0.9 0.4,0.8 0.4-0.6 0.4,0.8 0.4-0.6 0.4,1.1 0.4,0.1 0.4-0.7 0.4-1.2 0.4-2.8 0.4,0.2 0.4,1.6 0.4-0.9 0.4,0.9"/>
<path stroke="#e86a6a" d="M54.4,133.7l0.4,1.4 0.4,0.6 0.4-2.1 0.4,0.4 0.4,0.2 0.4,2.2 0.4-0.7 0.4-1.4 0.4,1.2 0.4-1.7 0.4,1.2 0.4-0.4 0.4-0.2 0.4-0.1 0.4,1.4 0.4,2.3 0.4-0.4 0.4-2 0.4-0.9 0.4-0.2 0.4,2 0.4-2.7 0.4,0.2 0.4,2.3 0.4,1.1 0.4-0.3 0.4,1 0.4,1.8 0.4-0.5 0.4,2 0.4-2.7 0.4,3.9 0.5-0.8 0.4,0.6 0.4-3.3 0.4,1.7 0.4,2.1 0.4-0.4 0.4-0.2 0.4-2.1 0.4,3 0.4-1.4 0.4,0.8 0.4,0.9 0.4-0.2 0.4,1.4 0.4,3 0.4-0.3 0.4-1.5 0.4-1.3 0.4,3 0.4,2.4 0.4-0.6 0.4,2 0.4,1.1 0.4,0.6 0.4-1.2 0.4,3.5 0.4-1.7 0.4-0.6 0.4-0.3 0.4,3.4 0.4,0.4 0.4,1.8 0.4-3.1 0.4,1.3 0.4-0.6 0.4-0.3 0.4,1.5 0.4-2.7 0.4-1 0.4-1.3 0.4,1 0.4,3.6 0.4-0.6 0.4-0.8 0.4,1.5 0.4-0.5 0.4-0.2 0.4,0.2 0.4-1 0.4-0.2 0.4,0.3 0.4,1.3 0.4-0.3 0.4,1.1 0.4-3.8 0.4,0.8 0.4,1.1 0.4-1.3 0.4,1.2 0.4-1.4 0.4,3.5 0.4-1.3 0.4,1.1 0.4,1.1 0.5-0.3 0.4,0 0.4,0.4 0.4-0.4 0.4-2.2 0.4,0.7 0.4,1 0.4-0.4 0.4-2.6 0.4,2.4 0.4,1.9 0.4,0.6 0.4-1.5 0.4-0.2 0.4,0.4 0.4-1.4 0.4,0.7 0.4-1.7 0.4-0.4 0.4,1.3 0.4,0.2 0.4,0.4 0.4-0.4 0.4-1 0.4,2.6 0.4-0.8 0.4-1.2 0.4,0.9 0.4,1.9 0.4-3.7 0.4-1.6 0.4-0.2 0.4,0.6 0.4-3 0.4-0.3 0.4-0.9 0.4-1.5 0.4,1.2 0.4,0.2 0.4,1.2 0.4-0.6 0.4,2.7 0.4-1 0.4-0.9 0.4,1 0.4-2.8 0.4,0.2 0.4,1.6 0.4-1.7 0.4,3.2 0.4-4.1 0.4-0.4 0.4,0 0.4-2.8 0.4,1.8 0.4,1.8 0.4,0 0.4-1.3 0.4,0.2 0.4,3.5 0.4-3.3 0.4-1.4 0.4-2.3 0.4,0.1 0.5-0.7 0.4-0.5 0.4,0 0.4,0.6 0.4-0.5 0.4-0.9 0.4,1 0.4,1 0.4-0.8 0.4,0.2 0.4-1.9 0.4,0 0.4-0.9 0.4,1.5 0.4-1.7 0.4,0.1 0.4-2.4 0.4-0.3 0.4,1.2 0.4-0.4 0.4,0 0.4-0.8 0.4-1.3 0.4-0.4 0.4-0.4 0.4-0.3 0.4-3.3 0.4,2.9 0.4-0.2 0.4-0.1 0.4-1.5 0.4-1.3 0.4,2 0.4-1.6 0.4,1.2 0.4-2.4 0.4-0.2 0.4,2.7 0.4-0.9 0.4,0.4 0.4-0.2 0.4-2.5 0.4-1.6 0.4,0.6 0.4-0.1 0.4,2 0.4,1.2 0.4-0.2 0.4-1.7 0.4,0 0.4-0.1 0.4-1.6 0.4,0 0.4,2.2 0.4-0.9 0.4,2.4 0.4,1.3 0.4-0.2 0.4-3 0.4,3.1 0.4-1.4 0.4,0.1 0.4,0 0.4-0.1 0.4,1.4 0.5,0.9 0.4-1 0.4,0.1 0.4-1.2 0.4,2.3 0.4,0.9 0.4-2.6 0.4,0.8 0.4-0.7 0.4,1.1 0.4-0.4 0.4-0.9 0.4,1.2 0.4-2.7 0.4,0.4 0.4,1.5 0.4,0.7 0.4-0.5 0.4,2.9 0.4-1 0.4,1.2 0.4,0.3 0.4-2.7 0.4,1.3 0.4-2 0.4-1.7 0.4,2 0.4-1.8 0.4,0.4 0.4-0.4 0.4,0.3 0.4-0.2 0.4,0.4 0.4,4 0.4,1 0.4-2.6 0.4-1.4 0.4,1.2 0.4-2.9 0.4,0.8 0.4,0.8 0.4,1.2 0.4-3.1 0.4,2.2 0.4,0.9 0.4-1.6 0.4-0.2 0.4,0.1 0.4-1.5 0.4-0.3 0.4-0.5 0.4-1.6 0.4,2.2 0.4-2.1 0.4,0.5 0.4,2.3 0.4-1.7 0.4-2.3 0.4,2 0.4-0.3 0.4,2.2 0.4-2 0.4-0.7 0.4,0.6 0.5-2.1 0.4,3.3 0.4-0.3 0.4,0.7 0.4,0.1 0.4-2.1 0.4,3.3 0.4-1.1 0.4-0.2 0.4,0 0.4-0.3 0.4-0.5 0.4,0.2 0.4-2.7 0.4-3.3 0.4,1.1 0.4-1.8 0.4,0.8 0.4-3.4 0.4-1.1 0.4-0.4 0.4,0.9 0.4-3.4 0.4-0.5 0.4,1 0.4,1.7 0.4-1.1 0.4-0.9 0.4-1.2 0.4,0.7 0.4,0.4 0.4,1.5 0.4-2.2 0.4,1.1 0.4-0.1 0.4-3.3 0.4,1.9 0.4,0 0.4,0.5 0.4,1.4 0.4,0.9 0.4-1.5 0.4,2.3 0.4,0.8 0.4,1 0.4-0.3 0.4,2.4 0.4-1.2 0.4-0.8 0.4,1.2 0.4,3.3 0.4,2.1 0.4-1.4 0.4,0.5 0.4-0.2 0.4,1.4 0.4-2.2 0.4,2 0.4,0.5 0.4-1.2 0.4,3.2 0.4,0.1 0.4,1.3 0.4-0.5 0.4,3 0.5,0.2 0.4,1.5 0.4-4.1 0.4,3.5 0.4-0.6 0.4,2.1 0.4-0.2 0.4-0.7 0.4,0.9 0.4-1.6 0.4-0.6 0.4-0.2 0.4-0.1 0.4-1 0.4,1.8 0.4-1.5 0.4,0.5 0.4,1.1 0.4,0.3 0.4,1.9 0.4,1.7 0.4-0.5 0.4,1.3 0.4-0.6 0.4,1.6 0.4,2.4 0.4,0.3 0.4-0.7 0.4,0.5 0.4-0.7 0.4,0.2 0.4,0.5 0.4,1.4 0.4,0.6 0.4-0.3 0.4-1.2 0.4-0.5 0.4,0.2 0.4,1.3 0.4-0.8 0.4,1.9 0.4-1.4 0.4,0.2 0.4-2.2 0.4,0.3 0.4-1.3 0.4-0.4 0.4,2.8 0.4-2.4 0.4,0.1 0.4,2 0.4-0.8 0.4,0.8 0.4,1.2 0.4-0.9 0.4-1.7 0.4,2.2 0.4,0.9 0.4-1.2 0.4,1.9 0.4,0.6 0.4,1.9 0.4-1.5 0.4-0.4 0.5-0.6 0.4,1.7 0.4-0.1 0.4-0.9 0.4,0.5 0.4-1.4 0.4,1.5 0.4-1.3 0.4,2.1 0.4-1.1 0.4,0.6 0.4-1.5 0.4-1.3 0.4-0.8 0.4-0.8 0.4,3 0.4,1.2 0.4,1.3 0.4-2.2 0.4-2 0.4,0.6 0.4-0.5 0.4,2.2 0.4,0.6 0.4,0 0.4,0.2 0.4-1.5 0.4-2 0.4,0.1 0.4-0.2 0.4,0.1 0.4,2.2 0.4-1.1 0.4,1.6 0.4,0.1 0.4-1.3 0.4,0.1 0.4,0.1 0.4-0.7 0.4,1.2 0.4,0.8 0.4-0.3 0.4,3.1 0.4-2.3 0.4,0.7 0.4,0 0.4,2.1 0.4-1.4 0.4,3 0.4-1.5 0.4,2.4 0.4-2.4 0.4,0.7 0.4-1.3 0.4,1.9 0.4-0.4 0.4-0.6 0.4,0.7 0.4-1.2 0.4-0.9 0.4,1.3 0.4,0.4 0.4-0.3 0.4,1.5 0.5,0.4 0.4-0.5 0.4-1.1 0.4,1.7 0.4,0.9 0.4-1.1 0.4-0.8 0.4,1.3 0.4-2.9 0.4,1.7 0.4-1.8 0.4,2.6 0.4-0.7 0.4,0.9 0.4-1.4 0.4,0.7 0.4-0.7 0.4,0 0.4,2.7 0.4-0.2 0.4-4.5 0.4,0.9 0.4,2.8 0.4-0.5 0.4-2 0.4,1.3 0.4,0.6 0.4-1.3 0.4,0.3 0.4-0.2 0.4-0.8 0.4,0.8 0.4-2.2 0.4,1.3 0.4-3.8 0.4,1.7 0.4-2.5 0.4-0.6 0.4-2.1 0.4,2.8 0.4-1.3 0.4-0.7 0.4,0.1 0.4-0.2 0.4,0.3 0.4-2.3 0.4,2.8 0.4-2.4 0.4,2.6 0.4,1.1 0.4-0.6 0.4-0.6 0.4-0.7 0.4-3.2 0.4,0.4 0.4,1.1 0.4,0.8 0.4-1.8 0.4-1.3 0.4-0.4 0.4,1.8 0.4-2.4 0.4,0.8 0.4,0.2 0.4-0.1 0.5-0.3 0.4,0.7 0.4-2.1 0.4,2.6 0.4,0.7 0.4-3 0.4-1.8 0.4-0.9 0.4,0.2 0.4,0.6 0.4-0.5 0.4,0.4 0.4-0.4 0.4-0.3 0.4,1 0.4-0.7 0.4-1 0.4,0.6 0.4-3.6 0.4-0.5 0.4-3 0.4,2.3 0.4-1.7 0.4-0.2 0.4,2.4 0.4-0.6 0.4-2.8 0.4,1.9 0.4-1.7 0.4-0.2 0.4-1 0.4,0.1 0.4,0.7 0.4-0.7 0.4,1.2 0.4,0.9 0.4-1.5 0.4,2.9 0.4-2.9 0.4-1.6 0.4-0.8 0.4-0.2 0.4-1.5 0.4-0.4 0.4,1.9 0.4-0.6 0.4,1.6 0.4,1.1 0.4-1.2 0.4-1.4 0.4,0.8 0.4,0 0.4,4.4 0.4-3 0.4-1 0.4-0.8 0.4,3.2 0.4,1.4 0.4-0.1 0.4,1.8 0.4-0.9 0.4,2.5 0.4-0.1 0.4,1.7 0.5-1.8 0.4,0.7 0.4-0.1 0.4-0.4 0.4,3 0.4,0 0.4,0.7 0.4-0.4 0.4-0.9 0.4,0.3 0.4,0.9 0.4,1.8 0.4-0.3 0.4-2.5 0.4,1.5 0.4-1 0.4-0.2 0.4,1.1 0.4,1.2 0.4-0.3 0.4-0.2 0.4,1.1 0.4,0.1 0.4-0.3 0.4,2.7 0.4-2.5 0.4,1.3 0.4,0.6 0.4,0.1 0.4,2.1 0.4,0.1 0.4,0.4 0.4,2 0.4,0.6 0.4,1.3 0.4,1 0.4-1.2 0.4,2.5 0.4,0.5 0.4,0.5 0.4-0.6 0.4,0.5 0.4-2.5 0.4,0.9 0.4-1.8 0.4-2.2 0.4-0.4 0.4-0.1 0.4-0.3 0.4-1.7 0.4,0.4"/>
<path stroke="#5588dd" d="M54.4,146.3l0.4-0.6 0.4-0.2 0.4,2 0.4-1 0.4-2 0.4-0.8 0.4-1.2 0.4,1.5 0.4-2.7 0.4-0.3 0.4-1.2 0.4-0.5 0.4-0.2 0.4,0 0.4-0.7 0.4-0.1 0.4-0.9 0.4-0.2 0.4-0.5 0.4-2.3 0.4,0.3 0.4-1.4 0.4,0.4 0.4,1.3 0.4-0.8 0.4,2.4 0.4-0.5 0.4,1 0.4-2.8 0.4,1 0.4,0.6 0.4,2.4 0.5-2.3 0.4,3 0.4-2 0.4,2 0.4-0.8 0.4,0.4 0.4,0.8 0.4-1.1 0.4-0.4 0.4,3.1 0.4-0.7 0.4-2.2 0.4-0.4 0.4,0.6 0.4,0.9 0.4-1.3 0.4-0.3 0.4-1.6 0.4,0.3 0.4-1.8 0.4-1.7 0.4,4.3 0.4-3.7 0.4,0.6 0.4,3.2 0.4-2.1 0.4,0.8 0.4-2.4 0.4-1.4 0.4-0.3 0.4,0.2 0.4-1.1 0.4,0.5 0.4-0.4 0.4,0.5 0.4-0.3 0.4-0.2 0.4-2.1 0.4,0.4 0.4,1.1 0.4-0.6 0.4,0.4 0.4,1.4 0.4,1.6 0.4-0.1 0.4-1.6 0.4,1.1 0.4-0.6 0.4,0.8 0.4-2.3 0.4,1 0.4,1.8 0.4-0.9 0.4-1 0.4-0.6 0.4,0.2 0.4,0.9 0.4-2.9 0.4,1.1 0.4,1.3 0.4,0.4 0.4,1.9 0.4-0.4 0.4-0.6 0.5,1 0.4,0.7 0.4-0.5 0.4,1.6 0.4,2.2 0.4-2.1 0.4-1.2 0.4,0.8 0.4,2.7 0.4-3 0.4-1 0.4,0.7 0.4,3.5 0.4-0.9 0.4-2.8 0.4,1.8 0.4-1.4 0.4,2.9 0.4-1.5 0.4-1.2 0.4,4 0.4,0.1 0.4-0.5 0.4-0.9 0.4-1.6 0.4,2 0.4-1.3 0.4,2.4 0.4,1.6 0.4-0.7 0.4,1.4 0.4,1.2 0.4,1 0.4-1.3 0.4,2.4 0.4,0.7 0.4,1.2 0.4-3.1 0.4-0.3 0.4,2.4 0.4-1.8 0.4-0.1 0.4,0.6 0.4,0 0.4-5.1 0.4,2.7 0.4-0.7 0.4,1.9 0.4-0.4 0.4-1.1 0.4-0.8 0.4-0.2 0.4,0.4 0.4-0.7 0.4,0.3 0.4,0.9 0.4,1.7 0.4,2.4 0.4,0 0.4,1.1 0.4-1.1 0.4-0.2 0.4,1.9 0.4-1.1 0.5-1.1 0.4-0.2 0.4,0 0.4-2.4 0.4,2.1 0.4-1.3 0.4,1 0.4,2 0.4-2.1 0.4-0.8 0.4,0.1 0.4,0.2 0.4-2.3 0.4,2.7 0.4-2.3 0.4-0.6 0.4-1.1 0.4,0.2 0.4-1.1 0.4-0.9 0.4,1 0.4-0.9 0.4,2.7 0.4-0.7 0.4-1 0.4-1.3 0.4,2.4 0.4,0.5 0.4-1.7 0.4,1.2 0.4-0.5 0.4-0.2 0.4-0.2 0.4-1.2 0.4-0.7 0.4-0.1 0.4,2 0.4-1.2 0.4-0.1 0.4,1 0.4-2.3 0.4,0.1 0.4,0 0.4,1.6 0.4,0.8 0.4,0.5 0.4-1.7 0.4,0.5 0.4-0.2 0.4-1.4 0.4,0.8 0.4,0.5 0.4-2.9 0.4-1.8 0.4,0.4 0.4,1.9 0.4-0.7 0.4-0.6 0.4,0.7 0.4-0.4 0.4-0.9 0.4-0.7 0.4,2.3 0.4-0.2 0.4-0.7 0.5,1 0.4-1.8 0.4,0 0.4,0.7 0.4,1.9 0.4,2.3 0.4-1.1 0.4-0.4 0.4,1.9 0.4,0.8 0.4,1.6 0.4-0.8 0.4-3.6 0.4,3.2 0.4-2.6 0.4,1.6 0.4-1 0.4,0 0.4-1.5 0.4,2.9 0.4,1.8 0.4-1.2 0.4-1.1 0.4-1 0.4,0 0.4,1.9 0.4-0.3 0.4-0.3 0.4-0.6 0.4,1.3 0.4-0.4 0.4,3.1 0.4,0.3 0.4,1.8 0.4,1.3 0.4-2.2 0.4,2.1 0.4,2.3 0.4-2.6 0.4-1.4 0.4,1.7 0.4-0.6 0.4-2.9 0.4-0.1 0.4,0.8 0.4-0.8 0.4-1.3 0.4-1.4 0.4,2.4 0.4-0.1 0.4,0.1 0.4,0.2 0.4-2.4 0.4,1.9 0.4-0.7 0.4,0.2 0.4-0.7 0.4-0.4 0.4,0.2 0.4,0.1 0.4,0.5 0.4,1.7 0.4-0.4 0.4,0.6 0.5-2.5 0.4,0 0.4-1 0.4,2 0.4,0.1 0.4,0.1 0.4-0.5 0.4,0.4 0.4-2.6 0.4,0.8 0.4,0.6 0.4,1 0.4-0.3 0.4,0 0.4-1.1 0.4-1.5 0.4,0.7 0.4-2.3 0.4,1 0.4-0.7 0.4-0.9 0.4-1.5 0.4,1.4 0.4-1.3 0.4,1.3 0.4-1.2 0.4-1.5 0.4,0.3 0.4-1.4 0.4,1.2 0.4,0.4 0.4,0.8 0.4,0.3 0.4-0.1 0.4-0.2 0.4-1.2 0.4,3.9 0.4-2.2 0.4,0.4 0.4-0.5 0.4-1.3 0.4-0.2 0.4,3.3 0.4-1.8 0.4-1.3 0.4,0.2 0.4-0.2 0.4-2.9 0.4,0.7 0.4-0.1 0.4,0.8 0.4-1.3 0.4-0.2 0.4,0.4 0.4,0 0.4,2.1 0.4-3.7 0.4,1.8 0.4-0.7 0.4-0.5 0.4,1.6 0.4-0.5 0.4,1.1 0.4-1.9 0.4,0.5 0.5-0.7 0.4,0.9 0.4,0.7 0.4-2.1 0.4,2.2 0.4-1.3 0.4,2.6 0.4-1.5 0.4-1.6 0.4,0.8 0.4-1.2 0.4,1.5 0.4,0.5 0.4,1.4 0.4,0 0.4-1 0.4,0.9 0.4-1.6 0.4-0.3 0.4,1.7 0.4-0.6 0.4-0.9 0.4-0.6 0.4,0.4 0.4-0.4 0.4-0.7 0.4,0.1 0.4,2 0.4-1.2 0.4,0.7 0.4-1.2 0.4-0.1 0.4,1.8 0.4-1.4 0.4-0.8 0.4,0.9 0.4-1.9 0.4,0.7 0.4-1.6 0.4,0.4 0.4-0.2 0.4-0.2 0.4,1.1 0.4-1 0.4-0.9 0.4-0.8 0.4,1.4 0.4,1.7 0.4,0.6 0.4,0.9 0.4-1.4 0.4,1.4 0.4,2.9 0.4,0.5 0.4-0.4 0.4-0.5 0.4,1.1 0.4-1.1 0.4,2.9 0.4-0.3 0.4,3.3 0.4-1.1 0.4,2.9 0.4-4 0.5,1.7 0.4-2.4 0.4,1.4 0.4,1.1 0.4-0.5 0.4,1.2 0.4-1.4 0.4,0.1 0.4-2.5 0.4,2.4 0.4,0.9 0.4-0.9 0.4,4.2 0.4-1.5 0.4,1.1 0.4,0 0.4,1 0.4,0.9 0.4-0.9 0.4,0.4 0.4-0.6 0.4,0.2 0.4-0.9 0.4,0.1 0.4,2.5 0.4-0.4 0.4-1.6 0.4-0.7 0.4-1.5 0.4,1 0.4,0.3 0.4,0.9 0.4-1 0.4-1.1 0.4-0.7 0.4,0.9 0.4-1.8 0.4,1.1 0.4-1.9 0.4,3.8 0.4-1.5 0.4,0 0.4,3.1 0.4-0.4 0.4-0.3 0.4-0.6 0.4,0.1 0.4-1.9 0.4,0.5 0.4-0.2 0.4-1.4 0.4,1.3 0.4-1.7 0.4,1.8 0.4-1.8 0.4,1.7 0.4-1.7 0.4,0.2 0.4,0.2 0.4-1.2 0.4,2.9 0.4-2.7 0.4,1 0.4-0.8 0.5-1.7 0.4-0.2 0.4,1.8 0.4,0.7 0.4-0.5 0.4-1 0.4,2.5 0.4,0.4 0.4,0 0.4,1 0.4,1 0.4-0.6 0.4,1.9 0.4-1.1 0.4,2.4 0.4,0.6 0.4,0.7 0.4,1.6 0.4-0.7 0.4-2.2 0.4,1.6 0.4,0.5 0.4,0.2 0.4,1.2 0.4,0.9 0.4-1.6 0.4,0.6 0.4,2.9 0.4,0 0.4,0.9 0.4,1.4 0.4-1.5 0.4-1.8 0.4,2 0.4-0.8 0.4-0.8 0.4-0.3 0.4,0.8 0.4-2.3 0.4,4.2 0.4-1 0.4,1.7 0.4-0.9 0.4,1 0.4-2 0.4-0.9 0.4,2.5 0.4,0.3 0.4,1.7 0.4,1.1 0.4,0.1 0.4,1.2 0.4,0.5 0.4-2.9 0.4,0.5 0.4,0.3 0.4,1.4 0.4-0.7 0.4-2.7 0.4,1.1 0.4-0.4 0.4,0.6 0.4-3.1 0.4,2.6 0.4-1.3 0.5,2.6 0.4-0.4 0.4-1.1 0.4-0.9 0.4,0.5 0.4,1 0.4,3.4 0.4-1.8 0.4-0.7 0.4-3.1 0.4,1.7 0.4-0.5 0.4,4.3 0.4-1.4 0.4,1 0.4-1.5 0.4-1.1 0.4,0.9 0.4-0.3 0.4-1.4 0.4,1.8 0.4-1.6 0.4,1.7 0.4-1.3 0.4-1.9 0.4,2.3 0.4-1.7 0.4,1.3 0.4-2.7 0.4,0 0.4,0.2 0.4,0.2 0.4,0.9 0.4-0.8 0.4,0.6 0.4,1.3 0.4-1.9 0.4-0.3 0.4-1 0.4-0.5 0.4,0.7 0.4-0.4 0.4,2.1 0.4-1.5 0.4-0.3 0.4-0.4 0.4,0.1 0.4-2.7 0.4-0.8 0.4-0.8 0.4-2.3 0.4,0.8 0.4-0.9 0.4-1 0.4-0.1 0.4-2.1 0.4-1.1 0.4-3.7 0.4,1.8 0.4-3.3 0.4,0 0.4,0.4 0.4,1 0.4-1.7 0.5-1.2 0.4,1.6 0.4-1.9 0.4-1.8 0.4,2.8 0.4-0.8 0.4-1.4 0.4,0.9 0.4-1.6 0.4,1 0.4-2.1 0.4,3.5 0.4-3.3 0.4,2.7 0.4-0.4 0.4-2 0.4-1 0.4-0.5 0.4,1.2 0.4-0.2 0.4-0.7 0.4,0.6 0.4,1.5 0.4,1.4 0.4,0.1 0.4-1.1 0.4-1.5 0.4,1.1 0.4,0.5 0.4,2.1 0.4-2 0.4,0.5 0.4,0.4 0.4,0.4 0.4-2.6 0.4,1.2 0.4,0.8 0.4-1 0.4-0.7 0.4-0.8 0.4-0.8 0.4,2.4 0.4,0.1 0.4,0.7 0.4,0 0.4-1 0.4,0.7 0.4-1.7 0.4,0.3 0.4,1.8 0.4-0.9"/>
<path stroke="#4cb080" d="M54.4,124.9l0.4,0 0.4,2.3 0.4-0.9 0.4,0 0.4,0.4 0.4,0.2 0.4-1 0.4-0.1 0.4,2.6 0.4-0.1 0.4,1.3 0.4,1.9 0.4-0.5 0.4-0.7 0.4-0.6 0.4,2.2 0.4-1.3 0.4,0.5 0.4,0.3 0.4-0.7 0.4,0.8 0.4-0.8 0.4,1.5 0.4-2.6 0.4,2 0.4,1 0.4,0.5 0.4,0.7 0.4-3.3 0.4,1 0.4,2.6 0.4,1 0.5,3.5 0.4,1.9 0.4-2.8 0.4-1.4 0.4,1 0.4-0.3 0.4,1.4 0.4,1.2 0.4-0.5 0.4,0 0.4-1 0.4-0.8 0.4,1.7 0.4,0 0.4,0.7 0.4,0.4 0.4-1.1 0.4,3.1 0.4,2.4 0.4-0.4 0.4-0.2 0.4,3.3 0.4-0.4 0.4,2.9 0.4,1.6 0.4-0.6 0.4-1.3 0.4,0.8 0.4-0.3 0.4,1.3 0.4-0.1 0.4-1.6 0.4,0.9 0.4-2.6 0.4,4.6 0.4-0.8 0.4,0.1 0.4,3.6 0.4,0.4 0.4-0.9 0.4-0.7 0.4,0 0.4,0.3 0.4,2 0.4-0.5 0.4-0.5 0.4-0.6 0.4,1 0.4-0.5 0.4,1.1 0.4,0.1 0.4,1 0.4-2.5 0.4,0.4 0.4,0.7 0.4,0.9 0.4-0.8 0.4,0.7 0.4-0.1 0.4-0.7 0.4-1.5 0.4-1.6 0.4,2.6 0.4,1.4 0.5-0.4 0.4,2.3 0.4-1.9 0.4-2.8 0.4,1.2 0.4,1.2 0.4,1.5 0.4,0.9 0.4-1.6 0.4,1.9 0.4-0.6 0.4,0.6 0.4-2.9 0.4,0.5 0.4-0.8 0.4,0.3 0.4-1.3 0.4-1.1 0.4,1.1 0.4-4.1 0.4,1.3 0.4,0.7 0.4-1.8 0.4-1.6 0.4,1.3 0.4-1 0.4,1.7 0.4-0.1 0.4-1.1 0.4,0.4 0.4,1 0.4-2.3 0.4,0.7 0.4-2.7 0.4,0.6 0.4,0.4 0.4-1.9 0.4,0.5 0.4,1.4 0.4-1.5 0.4,1.1 0.4-2.3 0.4,0.9 0.4-4.1 0.4,0.2 0.4-0.2 0.4,2.3 0.4-3.5 0.4,0 0.4-0.2 0.4-0.7 0.4-0.5 0.4-1.3 0.4,0.2 0.4-1 0.4-0.4 0.4-1.3 0.4-0.9 0.4,0.8 0.4,1.4 0.4-2 0.4,0.6 0.4,0.6 0.4,2.5 0.5-0.9 0.4-2.9 0.4,2.7 0.4,0.1 0.4,0.2 0.4-1.5 0.4-2.4 0.4-0.4 0.4-1.4 0.4,0.2 0.4-1.1 0.4,3 0.4-2.3 0.4-1.8 0.4-2.3 0.4-1.9 0.4,0.3 0.4-0.9 0.4-0.8 0.4,1.9 0.4-1 0.4-0.6 0.4-1.3 0.4-0.7 0.4-1 0.4-0.8 0.4-0.4 0.4,2.6 0.4-2.4 0.4,1 0.4,0.7 0.4-1.1 0.4,1.8 0.4-0.8 0.4,1.2 0.4,0.1 0.4-0.8 0.4-0.1 0.4-0.5 0.4,2.5 0.4,0 0.4,0.2 0.4,1.3 0.4,0 0.4-2 0.4,1.2 0.4-0.5 0.4,1.1 0.4-1 0.4,1.5 0.4,0.7 0.4-1.5 0.4,2.2 0.4-1.4 0.4-0.3 0.4-0.3 0.4,1.3 0.4-1.1 0.4,1.1 0.4-0.9 0.4-2.7 0.4,0.8 0.4,0 0.4,0.7 0.4,1.5 0.5-1.2 0.4,1 0.4,0.8 0.4-0.6 0.4-1.4 0.4,1.6 0.4,2.9 0.4-2.1 0.4-0.5 0.4-1 0.4,0.1 0.4-0.2 0.4-1.2 0.4,0.1 0.4,0.2 0.4-0.5 0.4,1.2 0.4,0.8 0.4,2 0.4-0.4 0.4,0.1 0.4,1.9 0.4-1.2 0.4-0.8 0.4-1 0.4,1.2 0.4-0.6 0.4,0.3 0.4,0.4 0.4-1.2 0.4-0.9 0.4-1.9 0.4,2.3 0.4,0.3 0.4,0.6 0.4-0.2 0.4,3.4 0.4,0.4 0.4-1.1 0.4,0 0.4,1.2 0.4-0.9 0.4,0.7 0.4-0.2 0.4,0.8 0.4,0.3 0.4-0.2 0.4,0.3 0.4-1 0.4,0 0.4,1.5 0.4,0.1 0.4,0 0.4,0.2 0.4,1.1 0.4,0 0.4,1.6 0.4-3.1 0.4,0.7 0.4,2.5 0.4-0.6 0.4-0.4 0.4,0.6 0.4-0.3 0.5,0.6 0.4-0.4 0.4,0.6 0.4,1.1 0.4,1.6 0.4-1.3 0.4-1 0.4-2.2 0.4,2.4 0.4-0.5 0.4-0.6 0.4-0.2 0.4-0.7 0.4-1.5 0.4-1.4 0.4-1.8 0.4-0.5 0.4,0.9 0.4-0.9 0.4-3.2 0.4,1.4 0.4-3.1 0.4-0.9 0.4-1 0.4,0.7 0.4-1.2 0.4,0.8 0.4-2 0.4-2.9 0.4,1.1 0.4-0.9 0.4,2.7 0.4,0.3 0.4-1.4 0.4,2.3 0.4-1.8 0.4,0.2 0.4,1 0.4,2 0.4,0.8 0.4-0.1 0.4,2 0.4-2.2 0.4,0 0.4,0.8 0.4-0.5 0.4,0.4 0.4,0.4 0.4,1.2 0.4-1.5 0.4,5.7 0.4-0.8 0.4-0.3 0.4-0.4 0.4,1.2 0.4,1.9 0.4-0.2 0.4,0.3 0.4,2 0.4,0.6 0.4-0.9 0.4,2.9 0.4-3.3 0.4-0.1 0.4,1.2 0.5-1.7 0.4,3.4 0.4-3 0.4,1.1 0.4,2.7 0.4-1.2 0.4,1.4 0.4-1 0.4-0.2 0.4,3.4 0.4-0.6 0.4,0 0.4,0.8 0.4,1.1 0.4,0.2 0.4,0.7 0.4-0.5 0.4,3.7 0.4-2.4 0.4,1.3 0.4,0.4 0.4,0.3 0.4-0.3 0.4,1.3 0.4,1 0.4-1.1 0.4-0.8 0.4,1.5 0.4,0.7 0.4,1.7 0.4,0.3 0.4,3.8 0.4,0.3 0.4,2.9 0.4-1.2 0.4-1.1 0.4,2.9 0.4-0.8 0.4-1.6 0.4-1 0.4-1.4 0.4,1.2 0.4-0.1 0.4,0.8 0.4-1.4 0.4,0.2 0.4,0.3 0.4,0.6 0.4-1.8 0.4,0.4 0.4-1.9 0.4,1.4 0.4,0.1 0.4,0.5 0.4,2.2 0.4-1.1 0.4,0.6 0.4-2.3 0.4-1.7 0.4-0.5 0.4-0.3 0.4,2.4 0.4-0.1 0.4-0.7 0.5-0.8 0.4-1.2 0.4-0.8 0.4,1 0.4,0.4 0.4,0.5 0.4-0.8 0.4,2.2 0.4-0.5 0.4,1 0.4,0.6 0.4-0.2 0.4,3.5 0.4-4.7 0.4,3.5 0.4,0.2 0.4,1.6 0.4,2.3 0.4-0.8 0.4-1.1 0.4,1.8 0.4-0.3 0.4,1.8 0.4-1.3 0.4,0.5 0.4,0.3 0.4,0.9 0.4,1.7 0.4,1.1 0.4-1.6 0.4-0.7 0.4,3.4 0.4-1.1 0.4-0.1 0.4,2.4 0.4-2 0.4-0.2 0.4,2.1 0.4-0.2 0.4-1.4 0.4-1.1 0.4,0.1 0.4-3 0.4,1.5 0.4,1.5 0.4,2.1 0.4-4 0.4,1.1 0.4-3 0.4,0.6 0.4-0.7 0.4-0.3 0.4,0.9 0.4-2.3 0.4,0.7 0.4-1 0.4,1.5 0.4,1.1 0.4-0.5 0.4,0.6 0.4-0.2 0.4-1.3 0.4,0.8 0.4,1.1 0.5-0.1 0.4-1.6 0.4-1.1 0.4,2.1 0.4-0.5 0.4-0.1 0.4-0.5 0.4,0.5 0.4-3.3 0.4,1.7 0.4-3.3 0.4-0.2 0.4-0.3 0.4-0.2 0.4,2.8 0.4-2.5 0.4,0.4 0.4-0.1 0.4-0.1 0.4,0.7 0.4-1.3 0.4,2.3 0.4-1.2 0.4,0.6 0.4,2.1 0.4-0.6 0.4-1.9 0.4,2.2 0.4-0.1 0.4-2.7 0.4,1 0.4-3.5 0.4,1.5 0.4,0.7 0.4-2.1 0.4,1.9 0.4-2.1 0.4-0.2 0.4-0.6 0.4-1.1 0.4-1.9 0.4-1.1 0.4,2.9 0.4-2.4 0.4-2.1 0.4-0.5 0.4-0.5 0.4-1.5 0.4,2.3 0.4-0.5 0.4-2.4 0.4,1.2 0.4-2.6 0.4,1.7 0.4,0.2 0.4,0.2 0.4-1.7 0.4,1 0.4,1.7 0.4-4 0.4-0.7 0.4,1 0.4,0.5 0.4-2.6 0.4-0.7 0.5,1.1 0.4-0.2 0.4-1.1 0.4-0.4 0.4-0.5 0.4,1.5 0.4-0.3 0.4-1.5 0.4,0.7 0.4-1.4 0.4,1.7 0.4,0.1 0.4-1.1 0.4-1.2 0.4-1.8 0.4,0.9 0.4,1.3 0.4-0.6 0.4-1.6 0.4-1.3 0.4-0.9 0.4,0.1 0.4-0.4 0.4,0.3 0.4-0.1 0.4,1.8 0.4,0.5 0.4-1.4 0.4-0.2 0.4-1 0.4-0.3 0.4-2.2 0.4,1.2 0.4-0.9 0.4-1.2 0.4,1.8 0.4,0 0.4-1.7 0.4-0.9 0.4-3 0.4-0.9 0.4-0.1 0.4-0.2 0.4-0.8 0.4,2.9 0.4,0 0.4,1.8 0.4-2.1 0.4,1.1 0.4-0.4 0.4,1.4 0.4,1.1 0.4-2.8 0.4-1.1 0.4,4.5 0.4-4.7 0.4,2.7 0.4,0.9 0.4-1.4 0.4,1.6 0.4,1.7 0.4-1.7 0.4,1.7 0.4,1.2 0.5,1.9 0.4,0.5 0.4-1.5 0.4,2 0.4-1.2 0.4-1.2 0.4-1.2 0.4,0.8 0.4,0.4 0.4,4.2 0.4-2.3 0.4,3.3 0.4-1.9 0.4,0.9 0.4,1.2 0.4-1.9 0.4-1.4 0.4,0.3 0.4-0.9 0.4-0.2 0.4,1.7 0.4,0.7 0.4-1.5 0.4,3.4 0.4-2.4 0.4-0.2 0.4,3.1 0.4-1.9 0.4,1.7 0.4,1.4 0.4-0.8 0.4,3 0.4-2.6 0.4,1.5 0.4,0.9 0.4,0.6 0.4,0.3 0.4-0.2 0.4,1.1 0.4,1.6 0.4-0.4 0.4,0 0.4,2.5 0.4-0.7 0.4-0.1 0.4,0.2 0.4,2 0.4-1.2 0.4-1.7 0.4,2.2 0.4,0.3"/>
<path stroke="#b488e8" d="M54.4,145.9l0.4,0.7 0.4-0.6 0.4,0.8 0.4,0.6 0.4,2.1 0.4-3 0.4-0.5 0.4-1.1 0.4-1.4 0.4,0.1 0.4-0.3 0.4,2.4 0.4-2.1 0.4-1.5 0.4,1 0.4-0.5 0.4-0.7 0.4,0.3 0.4,1 0.4,0.1 0.4-0.8 0.4,0.6 0.4-1.8 0.4-0.1 0.4-0.6 0.4,0 0.4-1.6 0.4,1 0.4,2.3 0.4,1.6 0.4,1.4 0.4-1.5 0.5,0.6 0.4-2 0.4-0.3 0.4,1.1 0.4,0.8 0.4-0.7 0.4-3.6 0.4,1 0.4-1.4 0.4,1.4 0.4,1.3 0.4-0.6 0.4,2 0.4-1.6 0.4,1.9 0.4-2.2 0.4-0.6 0.4-1.6 0.4,2.3 0.4,0.1 0.4,0.7 0.4,1.4 0.4,1 0.4-1 0.4-3.3 0.4,1.1 0.4,3.2 0.4-3 0.4,1.1 0.4-0.6 0.4,0.7 0.4,0.5 0.4,0.4 0.4,0.2 0.4-1 0.4,1.7 0.4,0.7 0.4,0.5 0.4,0.9 0.4,1.5 0.4,0.9 0.4,0.7 0.4-2.3 0.4,1.6 0.4,2.9 0.4-0.1 0.4,1.6 0.4-3.3 0.4,0.3 0.4-2.1 0.4,1.4 0.4,0 0.4-0.7 0.4,0.6 0.4-1.7 0.4,0.8 0.4-1.4 0.4-0.2 0.4,0.2 0.4-1.1 0.4,1.7 0.4,1.9 0.4-0.5 0.4-0.8 0.5,2.4 0.4-0.3 0.4,1 0.4,1.1 0.4,1.1 0.4-1.8 0.4,3 0.4-0.4 0.4-1.6 0.4,0.6 0.4-0.7 0.4-0.9 0.4,0.8 0.4-0.1 0.4,0.6 0.4,1.9 0.4,0.5 0.4-0.5 0.4-0.8 0.4,2.3 0.4-3.9 0.4,0.6 0.4-1.2 0.4-0.9 0.4,1.4 0.4,1.2 0.4-3.2 0.4-1 0.4-1.5 0.4-2.1 0.4-0.3 0.4,1 0.4-0.3 0.4,1.2 0.4-0.5 0.4-1.7 0.4,1.4 0.4-1.1 0.4,1.4 0.4,0.1 0.4-1.7 0.4,1.2 0.4-1.5 0.4-2.9 0.4,0.1 0.4-1.4 0.4,0.7 0.4,0.7 0.4-2.7 0.4,0.9 0.4-1.6 0.4-0.6 0.4-1.5 0.4-0.3 0.4,1.5 0.4-3.2 0.4-0.8 0.4-0.5 0.4-1 0.4,1.4 0.4-0.6 0.4-0.4 0.4,1 0.4-0.3 0.5-2.2 0.4,2.1 0.4-0.5 0.4-1.2 0.4,1.8 0.4-1.2 0.4-1.5 0.4,2.3 0.4-1.2 0.4-1.8 0.4-2.7 0.4,0.6 0.4-0.8 0.4,0.3 0.4-3 0.4,0.6 0.4,0.8 0.4-1.3 0.4-1.5 0.4,0.2 0.4-1.3 0.4,0.8 0.4-0.1 0.4-1.5 0.4,2.4 0.4-1.5 0.4,0.2 0.4-2 0.4,0.7 0.4-0.7 0.4,2.4 0.4,1.2 0.4,0.4 0.4-0.4 0.4-1 0.4,0.8 0.4,1 0.4-1.4 0.4,1.9 0.4-1.2 0.4,0 0.4-0.2 0.4-0.6 0.4-0.1 0.4,0.1 0.4,0.4 0.4,0.6 0.4-1.5 0.4-2.9 0.4,0.9 0.4,1.1 0.4,2.2 0.4,2.7 0.4-1.7 0.4,0.6 0.4-0.4 0.4,0.2 0.4,1.7 0.4-1 0.4-0.4 0.4,0.9 0.4,1 0.4,2.1 0.4,0.7 0.4-3.8 0.5,1.5 0.4,3.8 0.4-3.7 0.4,0.8 0.4-2.4 0.4,1.4 0.4,1.8 0.4,0.8 0.4-0.4 0.4,0 0.4,0.2 0.4-0.1 0.4,1.2 0.4-1.7 0.4-0.5 0.4,0.3 0.4-1.9 0.4-0.9 0.4,1.6 0.4,1.3 0.4-1.9 0.4,1.8 0.4,0.7 0.4-1.9 0.4,1.8 0.4-1.7 0.4-1.8 0.4,0.1 0.4,3 0.4-2.4 0.4-0.4 0.4,0.9 0.4,0.6 0.4,1.1 0.4-0.4 0.4,0.3 0.4-1.4 0.4-0.2 0.4,0.6 0.4,1 0.4-2.5 0.4,0 0.4,0.1 0.4,2.5 0.4,0.8 0.4,3.3 0.4-2.4 0.4-0.2 0.4-1.3 0.4,0.5 0.4-1.7 0.4,0 0.4-0.3 0.4,2.5 0.4,0.5 0.4,0.7 0.4,2.6 0.4,0 0.4,0.4 0.4,1.3 0.4-0.5 0.4-1 0.4-0.4 0.4,0.7 0.5-0.2 0.4,0 0.4,0.7 0.4-1.7 0.4-0.3 0.4-0.3 0.4-0.3 0.4-1 0.4,1.2 0.4-2.1 0.4-3 0.4,0.9 0.4-2 0.4,1.1 0.4-1.2 0.4-0.4 0.4-1 0.4-2.8 0.4,2 0.4,0.3 0.4-1.6 0.4,2.1 0.4-1.6 0.4-1.4 0.4-0.6 0.4,1.6 0.4-3.1 0.4,0.3 0.4,0.8 0.4-0.9 0.4,0.6 0.4,1 0.4-1.4 0.4,1 0.4,1.1 0.4-0.8 0.4-0.7 0.4-0.6 0.4,2.6 0.4-0.8 0.4,0.6 0.4,0.5 0.4,0.5 0.4,0.9 0.4-2.9 0.4-0.1 0.4,1.6 0.4,1.2 0.4,1.5 0.4-0.2 0.4,2.7 0.4-0.7 0.4-1 0.4,3.2 0.4-1.9 0.4-1.1 0.4,2.4 0.4-0.1 0.4-0.1 0.4-0.9 0.4,2.9 0.4,1.3 0.4-0.2 0.4-0.6 0.4-0.5 0.5,0.3 0.4-0.6 0.4,0.9 0.4-1.3 0.4,2.4 0.4,0 0.4,0 0.4-1.6 0.4,2.9 0.4,0 0.4,0 0.4,1.5 0.4-0.4 0.4-1.7 0.4,0.9 0.4-1.8 0.4,2.7 0.4,2 0.4-0.6 0.4-1 0.4,0.4 0.4,1.4 0.4-1.2 0.4-1.6 0.4,2.8 0.4,1.4 0.4,0.7 0.4-0.9 0.4,3.4 0.4-2.5 0.4,0.8 0.4,0.9 0.4,1.2 0.4,0.5 0.4,0.8 0.4,0.8 0.4,0.8 0.4,1.1 0.4-0.4 0.4,0.3 0.4-0.4 0.4-2.3 0.4,0.3 0.4,2.2 0.4-0.4 0.4-0.6 0.4,0.7 0.4-1.5 0.4,0 0.4,2.7 0.4-1.7 0.4-0.2 0.4,1.1 0.4,0.6 0.4,1.2 0.4,1.4 0.4-0.3 0.4-1.8 0.4,2.3 0.4-1.1 0.4-2.1 0.4,0.7 0.4,1.6 0.4-1.9 0.5,2.1 0.4-0.4 0.4-2.5 0.4,1.9 0.4,0.9 0.4,0.6 0.4,1.7 0.4-0.1 0.4,2.4 0.4,0.3 0.4,1.6 0.4,0.6 0.4-1.1 0.4-1.5 0.4,1.7 0.4,0.1 0.4-1.8 0.4,2.3 0.4-2.1 0.4,0.1 0.4,0.5 0.4,0.3 0.4,1.9 0.4-1 0.4,0.3 0.4-1.3 0.4,0.8 0.4,0 0.4,0.8 0.4-0.4 0.4,1 0.4,3.1 0.4-1.9 0.4,1.1 0.4-0.1 0.4-1.9 0.4-3.2 0.4,3.6 0.4-1.2 0.4-1.5 0.4-1.5 0.4,1.9 0.4,2.1 0.4,0.5 0.4-2.2 0.4,2.5 0.4-1.6 0.4-1.5 0.4,1.9 0.4-2.9 0.4,3.1 0.4-0.3 0.4-0.7 0.4-2.3 0.4-0.4 0.4,1.6 0.4,2.7 0.4-0.4 0.4,1 0.4-2 0.4-2.7 0.4,0.5 0.4-0.7 0.4-1 0.5,2.5 0.4,0.8 0.4,2.2 0.4-1.2 0.4-0.5 0.4-1.2 0.4-0.2 0.4-1.4 0.4,0.9 0.4-0.2 0.4,1.1 0.4,0.4 0.4-1.3 0.4-0.1 0.4,1.6 0.4-2.4 0.4,0.4 0.4-0.8 0.4-0.5 0.4-1.8 0.4,3.3 0.4-4.1 0.4,1.7 0.4,0.8 0.4,0 0.4-1.8 0.4,2.5 0.4,2.6 0.4-3.7 0.4,0.3 0.4,0.6 0.4-1.7 0.4-2.5 0.4,1.2 0.4,1.9 0.4-0.9 0.4-3.7 0.4-1.2 0.4-2.3 0.4,0.5 0.4-1.9 0.4-0.6 0.4,0.9 0.4-2 0.4,1.9 0.4,0 0.4-1.2 0.4,0.1 0.4-3.2 0.4,0.6 0.4-0.8 0.4-1.4 0.4,1 0.4-0.6 0.4,0 0.4-0.7 0.4,2 0.4-3 0.4,1.6 0.4-0.8 0.4-1.1 0.4,1.4 0.4,0.4 0.4-2.6 0.4,1.6 0.5,2.5 0.4-4 0.4,1.4 0.4-1.5 0.4,0.2 0.4,0.4 0.4-2.5 0.4-2 0.4,2.3 0.4-1.3 0.4,1.7 0.4,0.7 0.4-0.3 0.4,0.2 0.4-1.6 0.4-0.4 0.4,0.6 0.4-1.8 0.4,1.7 0.4,0.2 0.4-0.5 0.4-2.2 0.4-0.9 0.4,0.3 0.4-0.9 0.4-1.1 0.4,0.7 0.4,0.7 0.4,0.4 0.4-1.7 0.4-2.5 0.4,0.9 0.4-1.9 0.4,2 0.4-0.7 0.4-1.4 0.4-0.5 0.4-1.3 0.4-0.8 0.4,1.8 0.4,3.2 0.4,0.5 0.4-2 0.4,0.4 0.4,1 0.4,1.1 0.4-2.5 0.4-0.2 0.4,1.1 0.4,3.2 0.4-3.4 0.4,1.6 0.4,1.3 0.4-0.3 0.4-0.5 0.4-1.8 0.4,1.2 0.4,2.9 0.4-0.7 0.4,1.9 0.4-3.4 0.4,2.2 0.4,0 0.4,0.5 0.5-0.6 0.4,3.2 0.4-0.4 0.4,1.4 0.4,0.6 0.4,1.7 0.4-2.6 0.4,1.7 0.4-0.8 0.4-0.3 0.4,2.2 0.4,0.4 0.4-0.8 0.4-0.6 0.4,0.7 0.4,3.5 0.4-1.2 0.4-1.1 0.4-1.5 0.4,3.3 0.4,0.6 0.4-1.6 0.4,0 0.4,1 0.4,1.6 0.4,0.2 0.4,0 0.4,1.5 0.4-1.5 0.4,2.1 0.4,4 0.4-2.2 0.4,5.6 0.4,0.1 0.4,1.5 0.4,1.3 0.4,2 0.4,0 0.4,1.2 0.4-0.4 0.4,0.9 0.4-0.1 0.4,0.8 0.4,1.6 0.4,2 0.4,1 0.4-0.6 0.4,1.2 0.4,1.2 0.4,2.7 0.4,0.5"/>
<path stroke="#d8aa3a" d="M54.4,148.1l0.4-1 0.4,5.1 0.4,1 0.4,0.8 0.4-1.3 0.4,0.9 0.4,1.7 0.4,2.6 0.4-0.3 0.4-0.3 0.4-1.9 0.4,0.4 0.4,0.2 0.4,0.3 0.4-1.5 0.4,3 0.4-2.4 0.4,0.6 0.4-0.2 0.4-1.4 0.4,1.5 0.4,0.4 0.4-1.2 0.4,2.5 0.4-2.1 0.4,0.4 0.4-1.9 0.4-1.2 0.4,1.9 0.4-0.8 0.4-1.5 0.4-0.7 0.5-1.5 0.4,0.1 0.4-1.6 0.4,0.9 0.4,0.6 0.4-1.2 0.4,0.6 0.4-3.3 0.4-1.4 0.4-0.3 0.4,0.3 0.4-3.4 0.4,0.1 0.4-1.5 0.4,0.7 0.4-1 0.4-2.2 0.4,1.8 0.4-3.9 0.4-2.9 0.4-0.1 0.4-1.4 0.4,1 0.4-2.3 0.4-1.3 0.4-2.2 0.4-2.1 0.4,0.3 0.4-1.9 0.4,2.6 0.4-1.8 0.4,0.3 0.4-0.7 0.4-0.2 0.4-0.9 0.4-1.9 0.4-1.3 0.4,1.8 0.4,0.9 0.4-3.7 0.4-0.5 0.4,0.5 0.4-0.3 0.4-0.5 0.4,2.2 0.4,1.6 0.4-1.1 0.4,1.4 0.4-0.6 0.4,1.8 0.4,1.1 0.4,1.6 0.4,1.1 0.4,1.2 0.4,1 0.4,3 0.4,1.4 0.4-3.4 0.4,1.8 0.4,0.1 0.4,1.3 0.4-1.5 0.4-0.2 0.4,2 0.5,1.8 0.4,0.2 0.4,0.2 0.4,0.8 0.4,0.8 0.4-1.3 0.4,0.5 0.4,0.9 0.4-1.6 0.4,1.4 0.4-1.3 0.4-1.2 0.4-0.1 0.4-3 0.4,0.1 0.4-1.7 0.4,0.2 0.4-0.2 0.4-1.4 0.4-0.6 0.4,0 0.4,0.1 0.4,0.5 0.4-2.3 0.4-0.3 0.4-0.5 0.4-1.7 0.4-1.9 0.4-3.1 0.4,0.1 0.4-0.9 0.4,0 0.4-1.7 0.4,1.9 0.4,1.2 0.4,2.9 0.4,0.6 0.4,5 0.4,1.2 0.4,2.1 0.4,1.2 0.4-2 0.4,1.2 0.4,3.7 0.4-0.8 0.4-0.3 0.4,0.5 0.4,1.1 0.4,0.9 0.4,2.4 0.4,1.3 0.4-1.1 0.4-1.8 0.4-1.1 0.4,2.4 0.4-1.5 0.4,1.4 0.4-2.2 0.4,1.1 0.4-2.5 0.4-1.1 0.4-2.6 0.4,1.7 0.4-3 0.5-0.2 0.4,1.1 0.4-0.2 0.4-1.7 0.4-0.4 0.4-2.8 0.4,0.8 0.4,0.4 0.4,0 0.4-2.1 0.4-0.2 0.4,1.1 0.4-3.1 0.4-0.1 0.4-3.2 0.4-0.5 0.4,1.5 0.4-2.7 0.4-3.1 0.4-2.4 0.4-3.7 0.4-0.6 0.4-2.2 0.4-1.8 0.4,1.4 0.4,1.1 0.4,1.6 0.4,1.6 0.4-2.8 0.4-0.2 0.4,0 0.4,1.7 0.4,0.3 0.4-1 0.4,0.9 0.4,0.7 0.4,0.7 0.4-0.2 0.4,3.4 0.4,0.3 0.4,2.5 0.4-1.1 0.4,1.6 0.4-0.1 0.4,0.5 0.4,5 0.4,1.9 0.4,0.2 0.4,1.4 0.4,1.8 0.4-2.3 0.4,0 0.4-0.4 0.4,0.1 0.4,1.6 0.4,0.2 0.4-2.4 0.4,0.5 0.4-0.2 0.4-1.8 0.4,0.5 0.4,1.5 0.4-1.5 0.4,1.4 0.4,0.3 0.5-0.2 0.4,1.3 0.4-2.4 0.4-2.8 0.4,1.8 0.4-0.6 0.4-3.3 0.4,1.6 0.4-1.5 0.4-1 0.4-0.3 0.4,0.6 0.4-0.9 0.4,1.2 0.4-2 0.4,1.1 0.4-1 0.4-0.3 0.4,1.8 0.4,1.5 0.4,1 0.4,0.1 0.4,0.8 0.4,0.3 0.4-0.5 0.4-0.6 0.4,3.1 0.4-2.1 0.4-1.1 0.4,2.6 0.4-1.5 0.4-0.3 0.4,1.5 0.4,1.1 0.4-1.7 0.4,1.6 0.4-1.8 0.4,2.7 0.4-1 0.4,1.8 0.4-1.3 0.4-0.2 0.4-0.1 0.4,0.6 0.4,0.2 0.4-1.3 0.4,2.5 0.4-2.6 0.4,2.8 0.4,1.1 0.4-1.7 0.4,3.3 0.4-1.6 0.4-1.9 0.4,1.2 0.4,2.7 0.4-0.6 0.4,3.1 0.4,0.1 0.4-2.1 0.4,2.1 0.4,1.3 0.4-1.1 0.4,2.1 0.5,0.2 0.4-1.2 0.4-0.2 0.4,0.2 0.4,1.1 0.4,0.8 0.4,1.4 0.4-3.3 0.4,0.1 0.4-4.9 0.4-2.3 0.4-0.8 0.4-0.8 0.4,0.6 0.4-2.7 0.4-1.3 0.4-3.8 0.4-0.4 0.4,0.4 0.4-3.9 0.4,0.2 0.4-0.7 0.4,0.7 0.4,0.1 0.4,1.3 0.4-1.7 0.4,2.1 0.4-1.6 0.4-2.4 0.4-0.9 0.4-2 0.4,2.8 0.4,1.3 0.4,2.4 0.4-0.4 0.4,1.9 0.4,0.9 0.4-0.2 0.4,0.3 0.4,2.3 0.4-2.1 0.4,1.1 0.4,0.1 0.4-2 0.4,1.9 0.4,3 0.4-0.3 0.4,1.3 0.4,0 0.4,0.6 0.4-0.6 0.4,0.4 0.4,1.5 0.4,0.6 0.4,2.7 0.4-1.8 0.4-1.5 0.4,0.6 0.4-0.2 0.4,0.6 0.4-0.5 0.4,1.1 0.4-1.1 0.4,2 0.4,0.8 0.5,3.3 0.4,0.9 0.4-0.8 0.4-1.9 0.4,0.9 0.4-0.7 0.4,0.1 0.4-0.5 0.4,2.2 0.4-2.4 0.4,0 0.4,1.1 0.4-2.7 0.4,4.2 0.4-1.4 0.4,1.8 0.4-1.2 0.4,0.3 0.4,1 0.4,0.5 0.4-1.5 0.4,2.6 0.4-2.1 0.4,0.9 0.4,1.3 0.4,1.9 0.4,0.5 0.4-0.2 0.4,1.1 0.4,1.4 0.4-2.5 0.4,0.6 0.4-1.4 0.4,4.3 0.4-0.8 0.4,0.6 0.4,3.1 0.4-0.2 0.4-0.4 0.4,0.5 0.4,2.9 0.4-1.6 0.4,0.7 0.4,1.5 0.4-0.5 0.4,0.1 0.4-3.6 0.4,2.2 0.4-0.2 0.4-0.9 0.4,1.7 0.4-0.5 0.4-0.9 0.4,3.6 0.4-1.4 0.4-0.7 0.4-0.5 0.4,2.6 0.4,0.4 0.4,0.1 0.4,0.2 0.4-0.3 0.4,0.4 0.4,1.9 0.5-1 0.4,1.8 0.4,0.6 0.4-0.8 0.4,1.5 0.4-0.3 0.4,0.9 0.4,0.1 0.4-0.8 0.4,3.5 0.4-1.1 0.4-0.5 0.4,0.2 0.4,0.7 0.4-0.7 0.4,1.2 0.4,3.1 0.4-0.2 0.4-0.3 0.4,1.8 0.4,0.5 0.4-1.9 0.4-0.3 0.4-0.3 0.4-1.3 0.4-0.7 0.4-1.1 0.4-0.2 0.4,2.9 0.4,1.8 0.4,1.9 0.4,1 0.4,0.9 0.4-1.8 0.4,0.3 0.4-1.9 0.4,3.8 0.4-1.5 0.4,0.6 0.4,3.2 0.4-0.7 0.4,0.6 0.4,1.9 0.4,0.4 0.4,0.2 0.4,0.9 0.4-1.2 0.4,2.9 0.4-1.4 0.4,1.9 0.4,1.6 0.4,0.1 0.4,1.9 0.4,0.1 0.4-0.2 0.4,2.9 0.4-1.7 0.4,2.2 0.4-1.1 0.4,2.7 0.4-0.2 0.4,1.4 0.4,0 0.4,1.3 0.5-1.1 0.4,2.5 0.4-0.6 0.4-0.2 0.4,1.6 0.4,2.5 0.4-1.9 0.4-1.7 0.4-1 0.4-0.4 0.4,3.4 0.4-1 0.4-2 0.4,0.5 0.4-0.6 0.4,1.6 0.4-2.7 0.4,2.1 0.4-0.4 0.4,3.4 0.4-1.2 0.4-1.3 0.4,1.3 0.4,0.3 0.4-1.5 0.4,1.3 0.4,0.8 0.4-0.6 0.4-0.8 0.4,0.2 0.4,0.6 0.4,0.3 0.4-1.3 0.4-0.7 0.4,2.6 0.4-2.8 0.4-0.1 0.4,1.5 0.4,0.5 0.4-1.8 0.4,1.4 0.4,4.4 0.4-1.3 0.4,1.4 0.4-0.3 0.4,0.6 0.4-0.2 0.4-1 0.4,0.1 0.4-3.3 0.4-0.8 0.4-2.7 0.4-4.5 0.4-2.4 0.4-4 0.4,0.4 0.4,0.2 0.4-1.4 0.4-1 0.4-0.2 0.4,1.3 0.4,0.3 0.4-0.7 0.4-0.8 0.4,0.9 0.5-1.1 0.4-2 0.4-0.1 0.4-1.8 0.4-4.4 0.4,0 0.4,1 0.4,0.8 0.4-2.1 0.4-1.5 0.4,0.1 0.4-2.3 0.4,0.2 0.4-1.6 0.4-1.1 0.4-3 0.4-1.3 0.4-1.6 0.4,1.1 0.4-2.5 0.4-0.7 0.4-0.5 0.4-2.9 0.4-1.5 0.4-1.1 0.4-3.5 0.4,0.9 0.4-2.5 0.4,0.3 0.4-2 0.4-0.4 0.4-2.2 0.4-1.4 0.4-3.2 0.4-0.8 0.4,1.1 0.4,0.6 0.4-1.1 0.4,1 0.4-2.7 0.4-0.5 0.4,1.4 0.4-0.9 0.4,1.1 0.4-1.2 0.4-1 0.4,1.1 0.4-1.8 0.4-2.4 0.4-0.8 0.4,0.6 0.4,1.2 0.4,0 0.4-2.8 0.4-1.5 0.4-0.6 0.4,1.7 0.4-3 0.4,0 0.4-0.8 0.4,0.2 0.4-2 0.4-2.7 0.4,0.3 0.5-0.2 0.4,1.2 0.4,0.4 0.4-0.1 0.4,2.8 0.4,0.2 0.4-1.3 0.4,0.6 0.4,2.4 0.4,1.6 0.4-3.9 0.4,5.2 0.4,2.6 0.4,0 0.4,1.8 0.4,2.8 0.4-1.5 0.4,1.9 0.4,3 0.4,3.1 0.4-0.7 0.4,1.6 0.4,1.1 0.4,0.5 0.4,0.1 0.4,1.3 0.4,1.5 0.4-2.1 0.4,2.6 0.4-0.6 0.4,0.7 0.4,1.8 0.4-0.6 0.4,3.3 0.4,0.9 0.4-0.2 0.4,0 0.4,0.7 0.4,0.2 0.4,0.1 0.4,0.1 0.4,2.5 0.4,0.5 0.4-2.2 0.4,3.9 0.4,2.3 0.4-2.5 0.4,0.9 0.4,1.6 0.4-2.2 0.4,0"/>
<path stroke="#3cc8cc" d="M54.4,145.1l0.4,0.4 0.4,1.2 0.4-2.8 0.4,1 0.4,1.3 0.4,2 0.4-0.1 0.4-1.3 0.4-0.1 0.4-0.2 0.4-0.7 0.4,0.3 0.4-1.3 0.4-0.1 0.4,0.3 0.4,0.3 0.4,1.3 0.4-1.8 0.4-0.1 0.4-1.6 0.4-1.7 0.4-2.5 0.4,1.7 0.4-2.6 0.4,0.5 0.4-1.1 0.4-0.1 0.4,0 0.4-2.3 0.4-2.4 0.4,0.6 0.4-1.4 0.5-1.1 0.4-1.4 0.4-0.2 0.4-2.3 0.4-2.5 0.4,4.2 0.4,0 0.4,2.6 0.4,1.6 0.4,1.2 0.4-0.3 0.4,0.5 0.4,3.8 0.4-5 0.4,0.3 0.4,0.2 0.4-2.2 0.4,1.5 0.4-1.6 0.4-1.6 0.4,1.4 0.4-2.7 0.4-0.7 0.4-0.5 0.4-0.1 0.4-1.6 0.4,1.5 0.4-2.1 0.4-3.1 0.4-2.8 0.4-2.7 0.4-3 0.4,3.3 0.4,0.4 0.4-1.3 0.4,0.1 0.4-2.4 0.4,1.6 0.4,0 0.4,2.2 0.4-3.9 0.4,3.9 0.4-1.1 0.4,1.6 0.4-0.1 0.4,0.9 0.4-1.9 0.4,2 0.4,1.6 0.4,0.3 0.4,2.1 0.4-1.3 0.4-1.2 0.4,1.8 0.4,0.7 0.4,2.6 0.4-2 0.4,2.5 0.4,0.9 0.4-0.7 0.4-0.2 0.4-1 0.4,3 0.4-1.2 0.5-2.9 0.4,1.6 0.4,1.7 0.4-0.8 0.4,1.1 0.4,2.2 0.4,2.7 0.4-1.6 0.4,2.2 0.4,0.3 0.4-0.2 0.4,0.2 0.4-1.6 0.4,1.7 0.4-0.6 0.4-0.5 0.4,0 0.4,0.3 0.4,0.2 0.4,0.6 0.4-2.1 0.4,2.4 0.4-1.1 0.4,2.4 0.4-2.5 0.4,3 0.4,0.2 0.4-1.7 0.4-0.2 0.4,0.6 0.4-0.1 0.4,2.6 0.4,1.7 0.4-3.7 0.4,4.1 0.4-0.2 0.4-0.3 0.4-0.5 0.4,0.3 0.4-0.4 0.4,3 0.4,0 0.4-0.6 0.4,2.2 0.4,0.1 0.4,0.4 0.4,1 0.4,1.2 0.4,0 0.4,0.4 0.4-0.3 0.4,0.4 0.4-1.3 0.4,0.1 0.4,0.1 0.4-1 0.4-0.5 0.4,4.5 0.4,1.4 0.4,3.9 0.4-0.1 0.4-0.9 0.4-1.6 0.4,1.6 0.5,0.9 0.4-1.1 0.4,0.5 0.4-0.4 0.4,2.1 0.4,1.2 0.4,1.2 0.4-0.7 0.4,0.4 0.4,0.9 0.4,0.8 0.4,0.2 0.4,1.4 0.4-1.1 0.4-2.2 0.4,0 0.4,1.4 0.4-3.3 0.4,0.5 0.4,0.2 0.4-1.3 0.4-3.1 0.4,2.6 0.4,1.1 0.4,0.3 0.4-1.3 0.4-1.1 0.4-0.9 0.4-2 0.4-2.3 0.4,0 0.4-2 0.4-1.2 0.4-0.1 0.4,2.1 0.4-0.9 0.4-2.6 0.4,1.2 0.4,0.9 0.4-1.9 0.4,0.3 0.4-1.1 0.4-1.3 0.4-1.6 0.4,2.1 0.4,0.1 0.4-1.5 0.4,0.4 0.4,0.8 0.4-2.4 0.4,1.3 0.4-3.2 0.4-0.5 0.4-1.9 0.4,1.3 0.4,0.6 0.4-2.1 0.4-1.8 0.4,1 0.4-0.5 0.4,0.6 0.4-0.2 0.4-1.9 0.4,0 0.4,1.5 0.5-1.4 0.4-0.9 0.4-1.7 0.4,0.9 0.4,0.6 0.4-1.5 0.4-0.4 0.4,0.5 0.4,0 0.4-0.1 0.4-1.4 0.4,0.8 0.4-1.8 0.4-2.5 0.4,2.2 0.4,0.6 0.4-0.2 0.4,0.6 0.4-1.8 0.4,1.9 0.4-0.2 0.4,1.1 0.4,1.9 0.4-3 0.4,0.4 0.4-1.7 0.4,0.6 0.4,0 0.4,0.1 0.4,2.2 0.4-0.5 0.4-2.4 0.4,2.4 0.4,2.4 0.4-2.3 0.4-1.8 0.4,1 0.4-1.7 0.4,0.6 0.4-1 0.4-0.4 0.4,2.2 0.4-0.9 0.4,0.3 0.4-0.8 0.4,0.5 0.4,0 0.4,0 0.4,0.6 0.4,1.2 0.4,0 0.4,0.9 0.4-0.3 0.4,1.8 0.4-2.8 0.4,1.3 0.4,0.1 0.4,2.6 0.4,0.8 0.4,0 0.4,0.1 0.4,0.7 0.4,1.4 0.4,1.7 0.5,0.1 0.4,1.2 0.4-0.5 0.4,0.2 0.4-1 0.4,1.9 0.4,0.6 0.4-0.4 0.4,0 0.4-0.1 0.4-1.5 0.4,1.5 0.4-2.1 0.4-0.6 0.4,1.3 0.4-1.8 0.4,3.1 0.4,0.5 0.4-2.6 0.4,1.5 0.4-0.6 0.4-2 0.4-0.8 0.4-0.8 0.4,0.4 0.4-0.2 0.4,1.8 0.4,0.1 0.4,0.2 0.4,0.8 0.4-2.1 0.4-2.5 0.4,1 0.4,1.7 0.4,0.1 0.4-1.5 0.4,0.9 0.4-2.7 0.4-1.4 0.4,0.3 0.4-0.2 0.4,0.1 0.4,2.1 0.4,0.8 0.4,0.8 0.4-2.2 0.4,3.7 0.4-2.2 0.4,0.1 0.4-0.3 0.4-3.3 0.4,1.1 0.4,0.5 0.4-1.3 0.4,0.5 0.4-0.7 0.4,0.5 0.4,1 0.4-0.5 0.4,2.5 0.4-0.3 0.4,1.2 0.4-2.8 0.4,0.2 0.4-0.9 0.5,0.3 0.4,0.6 0.4-1.4 0.4,0.9 0.4-3.2 0.4-0.7 0.4,0.8 0.4-0.9 0.4,0.4 0.4-1.9 0.4,2 0.4,3.5 0.4,0.5 0.4,1.5 0.4-1.4 0.4,0.6 0.4-0.4 0.4,0.5 0.4-0.5 0.4-1.5 0.4,2.8 0.4,0.2 0.4,4.5 0.4-1.7 0.4,0.6 0.4-1.4 0.4-0.9 0.4,0.3 0.4,0.8 0.4,0.4 0.4,2.3 0.4-2.4 0.4,1.5 0.4,1.4 0.4-1.1 0.4,1 0.4,0.2 0.4,1.3 0.4,0.7 0.4,3.4 0.4-1.1 0.4-2 0.4-0.8 0.4,1.1 0.4,1.9 0.4-0.2 0.4,2.9 0.4-0.5 0.4,2 0.4-1.3 0.4,1.6 0.4-1.5 0.4-0.9 0.4-1.3 0.4-1 0.4,0.9 0.4,0.9 0.4-1.9 0.4,3.3 0.4-2.2 0.4,1.8 0.4,0 0.4,1.1 0.4-0.5 0.5,0.8 0.4-1 0.4-0.1 0.4,0.3 0.4-0.8 0.4,1.3 0.4-1.2 0.4,2 0.4,2.1 0.4,2.9 0.4-2 0.4,0.6 0.4,1.5 0.4-2.1 0.4-0.6 0.4-0.7 0.4,1.4 0.4-0.8 0.4-0.9 0.4-0.7 0.4,1.9 0.4,0.8 0.4-0.6 0.4-1.8 0.4,1.4 0.4-0.5 0.4,0 0.4,0.4 0.4,0.2 0.4,1.7 0.4,1.2 0.4-1.1 0.4-0.1 0.4-0.5 0.4-3.7 0.4,1.8 0.4,2.6 0.4-3.3 0.4,1.2 0.4,0.2 0.4-2.7 0.4,0.9 0.4,0.3 0.4,1.6 0.4,1.7 0.4-0.2 0.4,2.2 0.4-1.2 0.4-3.6 0.4,2.7 0.4,1.2 0.4-2.8 0.4-1.1 0.4,2.1 0.4,0.9 0.4,1.6 0.4-2.2 0.4,0.7 0.4-1.1 0.4-0.1 0.4,1.3 0.4-0.5 0.4-1.1 0.4-2 0.5,1.3 0.4-0.8 0.4,0.2 0.4,0.1 0.4,0 0.4,1.3 0.4,0.4 0.4-1.3 0.4-1.3 0.4,0.1 0.4,0.7 0.4-0.5 0.4,0.6 0.4-1.1 0.4-0.6 0.4-0.8 0.4,0.9 0.4,0 0.4,1.7 0.4-0.3 0.4-0.6 0.4-1.3 0.4,0.1 0.4-0.2 0.4-1.5 0.4,0.4 0.4,0.2 0.4-0.6 0.4,0.3 0.4,1.1 0.4-1.1 0.4-1.1 0.4,0.1 0.4,0.6 0.4-2.1 0.4-4.9 0.4-0.8 0.4-1.8 0.4-2.8 0.4-4.3 0.4,2.8 0.4-2.9 0.4,0.2 0.4,1.4 0.4-2.7 0.4,2.3 0.4,0.6 0.4-0.2 0.4,0.7 0.4,1.6 0.4-1 0.4,1.7 0.4-1.9 0.4-2.6 0.4,0.9 0.4,2 0.4-0.7 0.4,1.1 0.4,1.1 0.4-1.4 0.4,1.4 0.4,0.8 0.4-0.7 0.4,0.8 0.4-1.9 0.5,2.3 0.4-1.5 0.4,1.4 0.4,2.2 0.4,1.1 0.4-2.5 0.4,0.9 0.4-0.4 0.4,0.2 0.4,0.8 0.4,0.8 0.4-2.2 0.4,2.3 0.4-0.9 0.4,0.4 0.4-1.9 0.4,0.4 0.4-1.2 0.4-1.6 0.4,3.3 0.4-1.6 0.4-1.1 0.4-0.1 0.4-2.9 0.4-2.2 0.4,1.9 0.4-1.8 0.4,4.1 0.4-3.2 0.4,3 0.4-2.3 0.4,0.6 0.4-0.4 0.4,1.6 0.4,0.2 0.4-1.2 0.4-0.8 0.4-0.7 0.4-2.1 0.4,1.1 0.4-0.6 0.4,0.7 0.4,0.4 0.4-0.5 0.4-0.7 0.4-1.8 0.4,0.9 0.4-0.1 0.4-1 0.4,2 0.4-1 0.4-0.4 0.4,1.1 0.4,1.6 0.4,0.7 0.4,2.7 0.4-1.9 0.4,1.4 0.4,0.8 0.4,0.9 0.4-1.1 0.4,0.6 0.4-0.3 0.4,2.3 0.5-0.3 0.4,2.4 0.4,1.5 0.4-1.1 0.4,1.4 0.4,2 0.4,1.5 0.4,0.6 0.4,3.2 0.4-1 0.4,1.4 0.4,0.4 0.4,1.5 0.4,1.6 0.4,3.2 0.4,2.4 0.4-0.9 0.4,1.7 0.4-4.3 0.4-1.1 0.4-2 0.4,2.4 0.4,0.3 0.4-1 0.4,1.9 0.4,0 0.4-1.1 0.4-1.1 0.4,1.8 0.4,0.4 0.4-0.3 0.4-0.6 0.4,1.9 0.4-1.3 0.4-0.6 0.4-1.3 0.4,0 0.4,0 0.4-0.2 0.4-2.6 0.4,1.6 0.4-0.4 0.4-0.8 0.4-0.2 0.4,2.2 0.4-3.3 0.4,1.1 0.4,1.2 0.4-0.9 0.4-0.4 0.4-1.5"/>
<path stroke="#8a5c5c" d="M54.4,129.7l0.4-0.3 0.4,2.7 0.4-2 0.4-2 0.4,1.5 0.4,0.8 0.4-0.5 0.4,1.4 0.4-1.7 0.4,1.6 0.4-2.2 0.4-0.9 0.4-1.3 0.4-2.4 0.4,0.8 0.4,0.6 0.4-2 0.4,1.9 0.4-2.1 0.4,1.9 0.4-0.1 0.4-0.2 0.4-0.3 0.4,3.2 0.4-1.6 0.4,1.6 0.4,1.9 0.4-1.9 0.4,1.4 0.4-1.1 0.4,0.8 0.4,0.4 0.5-0.2 0.4,0.6 0.4-2.5 0.4,1.1 0.4,1.3 0.4,2.6 0.4-3.2 0.4,1.7 0.4-1 0.4,1.6 0.4,0.5 0.4-0.3 0.4-2.5 0.4,1.6 0.4-0.3 0.4,0.9 0.4,0.1 0.4-2.4 0.4,0.6 0.4-3.5 0.4,3.7 0.4-3.2 0.4,0.1 0.4-2 0.4,1.8 0.4,0 0.4-0.2 0.4,0.6 0.4-0.1 0.4,1.5 0.4-0.1 0.4-3.1 0.4,4.4 0.4-0.8 0.4,2.6 0.4,2 0.4-0.4 0.4,0.6 0.4,1 0.4,0.9 0.4-1.6 0.4,0.6 0.4,0 0.4-0.1 0.4,2.4 0.4-0.9 0.4-1.2 0.4,1.7 0.4,0.5 0.4-1.9 0.4-0.1 0.4,1.6 0.4,0.1 0.4,0.2 0.4-1.9 0.4-0.5 0.4-0.6 0.4-0.2 0.4,1.5 0.4-3.6 0.4,0.8 0.4-0.2 0.4-1.1 0.4-0.2 0.5,1.5 0.4-1.9 0.4-0.3 0.4,1.1 0.4-1.1 0.4,1.4 0.4-1.1 0.4,0.2 0.4-0.4 0.4-0.8 0.4,1.1 0.4,0.4 0.4-0.8 0.4,2.1 0.4-0.7 0.4,1 0.4,0.7 0.4,0.5 0.4-0.1 0.4,1 0.4,1.1 0.4,1.9 0.4-1.3 0.4,1 0.4,1.1 0.4,1.9 0.4-2.3 0.4-4.4 0.4,1.9 0.4,0.6 0.4-3.1 0.4-0.3 0.4-2.2 0.4,0.9 0.4-1.3 0.4,0.2 0.4,0.7 0.4,2.4 0.4-2.2 0.4-0.4 0.4,0.3 0.4-0.1 0.4,0 0.4-2.1 0.4-1.4 0.4,0.6 0.4-0.7 0.4-2.7 0.4,0.1 0.4-1.1 0.4-1.6 0.4-0.8 0.4-1.1 0.4-0.2 0.4-0.4 0.4,1 0.4,0.7 0.4-0.2 0.4,1.6 0.4-1.9 0.4,3.6 0.4-0.4 0.4,1.4 0.4,0.5 0.5,0.7 0.4,1.6 0.4-1.1 0.4-0.6 0.4,0.1 0.4-3 0.4-0.4 0.4,1.6 0.4-0.2 0.4-0.6 0.4-1.8 0.4-2.2 0.4,0.9 0.4,1.7 0.4,0.8 0.4,1.5 0.4-2.6 0.4,0.7 0.4,1.6 0.4,1.6 0.4,0.2 0.4-3 0.4-1.4 0.4-0.7 0.4-2.6 0.4,0.6 0.4-0.3 0.4,1.2 0.4,0 0.4-4.2 0.4-0.2 0.4-1.5 0.4,3 0.4-2.7 0.4,0 0.4,0.3 0.4-1.8 0.4,3.2 0.4,0.8 0.4,4.3 0.4,1.7 0.4-0.3 0.4,2.9 0.4-0.4 0.4,2.6 0.4-0.9 0.4,0.3 0.4,0.7 0.4,2 0.4,0.8 0.4,1.6 0.4,1.2 0.4,1.4 0.4-0.6 0.4,0.1 0.4,0.7 0.4-0.3 0.4,0.6 0.4,0.3 0.4-0.1 0.4,0.5 0.4,2.4 0.4-1.1 0.4,2.1 0.4-0.1 0.5,2 0.4-0.4 0.4,0.5 0.4,1.2 0.4,0.2 0.4-1.5 0.4,3 0.4-0.7 0.4,1.2 0.4-1.2 0.4-0.3 0.4,0.5 0.4,1.8 0.4,0.9 0.4-0.9 0.4,0.5 0.4,0.7 0.4-0.4 0.4,1.4 0.4,0.9 0.4-0.9 0.4,5.2 0.4-0.1 0.4,1.1 0.4-0.2 0.4-2.2 0.4,1.3 0.4-0.3 0.4-0.1 0.4,2.8 0.4-1.5 0.4-2.6 0.4-2.8 0.4-0.8 0.4-0.6 0.4-1 0.4-1.6 0.4-1.4 0.4-0.7 0.4-3.4 0.4-1.9 0.4-0.8 0.4,0.1 0.4-2 0.4,0.1 0.4-2.5 0.4-2.9 0.4,0.6 0.4,2.5 0.4-1.4 0.4-1.1 0.4,0.1 0.4,1.6 0.4-1.9 0.4-0.3 0.4,1.4 0.4-0.1 0.4,1.3 0.4-2.6 0.4,1.9 0.4,0 0.4,2 0.4,0.2 0.4-0.6 0.5,0.4 0.4-2.7 0.4,0.1 0.4,1.6 0.4-3.1 0.4-1 0.4,0.9 0.4,0.1 0.4-1.3 0.4-1.1 0.4-1.3 0.4-1.9 0.4-1.1 0.4,0.1 0.4-1.2 0.4-1.5 0.4,1.5 0.4-0.7 0.4,1.4 0.4,0.6 0.4-1.9 0.4-0.8 0.4-2.4 0.4-1.4 0.4-4.4 0.4-2 0.4-2.8 0.4-1.5 0.4-0.6 0.4,1.7 0.4-0.7 0.4,0.6 0.4-1.7 0.4-1.4 0.4,0.7 0.4-1.8 0.4-3.1 0.4,0.8 0.4-0.8 0.4-0.7 0.4,0.1 0.4-0.3 0.4,1.7 0.4,0.7 0.4-0.5 0.4-0.9 0.4,2.1 0.4-1.3 0.4-1.9 0.4,2.4 0.4-1.2 0.4,2.2 0.4-1 0.4,0.8 0.4,0.3 0.4,2.8 0.4,1 0.4-0.7 0.4,2.1 0.4,0 0.4,0.2 0.4,1.3 0.4,1.3 0.4,2.5 0.4,1.5 0.5-0.8 0.4,1.2 0.4,2.9 0.4,1.3 0.4,2.2 0.4,1.4 0.4,0.5 0.4-1.2 0.4-1.6 0.4,4 0.4-1.6 0.4-0.3 0.4,2.8 0.4,0 0.4,0.7 0.4,1.1 0.4-1.4 0.4,0.9 0.4-1.6 0.4-0.2 0.4-1.5 0.4,1.4 0.4,1.5 0.4,1.8 0.4,1.1 0.4,1.9 0.4-0.8 0.4-1.7 0.4,1.5 0.4,1.1 0.4-0.7 0.4,1.5 0.4,0.5 0.4,2.9 0.4,0.7 0.4,0.8 0.4,0.1 0.4-1.1 0.4,1.2 0.4,1.1 0.4-1.1 0.4,1.3 0.4,1.4 0.4-1.3 0.4,2.5 0.4-1.2 0.4,0.3 0.4,0.7 0.4-0.8 0.4,0.7 0.4,0.1 0.4,0.5 0.4,1.8 0.4,0.4 0.4,0.8 0.4-1.3 0.4-0.1 0.4,0.7 0.4,0.9 0.4,0.3 0.4,2.8 0.4-0.4 0.4,4 0.4,0.6 0.5-0.2 0.4,1 0.4,1.7 0.4-1.2 0.4,4.5 0.4-0.7 0.4,2.9 0.4,1.2 0.4,1.1 0.4,1.1 0.4,1.4 0.4,0.2 0.4,0.2 0.4,1.9 0.4-2.1 0.4-0.3 0.4-3.3 0.4-3.1 0.4-0.3 0.4,1.2 0.4-0.5 0.4-0.7 0.4,1.3 0.4-0.8 0.4-2.5 0.4-0.3 0.4,0.2 0.4,1.4 0.4-2.8 0.4,3.3 0.4-0.6 0.4-1.6 0.4,3.1 0.4-1.1 0.4-1.6 0.4-1.9 0.4,2.7 0.4-0.3 0.4-1.5 0.4,1 0.4,1 0.4-0.3 0.4-0.3 0.4,0.5 0.4,0.5 0.4,2.1 0.4-1.2 0.4-0.2 0.4,0.5 0.4,1.4 0.4,0 0.4,2 0.4-0.5 0.4,2.7 0.4,0.2 0.4-0.1 0.4,1.2 0.4-0.7 0.4,0.1 0.4-0.1 0.4-1.3 0.4,0.3 0.4,0.4 0.4,1.9 0.5,0.2 0.4,0.3 0.4,0.5 0.4-1.1 0.4-1 0.4,2.4 0.4,0.4 0.4,3.5 0.4,0.5 0.4-0.2 0.4,0.2 0.4-0.4 0.4-1.8 0.4,0.3 0.4,3.3 0.4-1 0.4-1.1 0.4,1.7 0.4-0.4 0.4,0.9 0.4-2.4 0.4-1.1 0.4,1.6 0.4-0.5 0.4-4.3 0.4-0.1 0.4-1.8 0.4-0.9 0.4-1.7 0.4-0.2 0.4-1.9 0.4,2.2 0.4-0.3 0.4-1.4 0.4,2.4 0.4-1.9 0.4,0.7 0.4-1.6 0.4,2 0.4,0.7 0.4-4.1 0.4-2 0.4,2.9 0.4-3.8 0.4-0.4 0.4-0.1 0.4-1.4 0.4,0 0.4,1 0.4-1 0.4-0.2 0.4-1.3 0.4-0.9 0.4,1.9 0.4-2.7 0.4-2.4 0.4,1.1 0.4,0.2 0.4-1.7 0.4-0.3 0.4,1.5 0.4,0.8 0.4,2.4 0.4,1.2 0.4-1.1 0.5-1.9 0.4-1.9 0.4,0.8 0.4-1.3 0.4-1.6 0.4-0.8 0.4-2.1 0.4-0.2 0.4-2.1 0.4,0.1 0.4-2.5 0.4,0.6 0.4-1.7 0.4-1.8 0.4,0.1 0.4-2.4 0.4-1.6 0.4-1.1 0.4,1.1 0.4,0.1 0.4,0.6 0.4-0.3 0.4,1.3 0.4,1.8 0.4-2 0.4-1.2 0.4-3.7 0.4-0.8 0.4-2.2 0.4-1.3 0.4-0.7 0.4,0.1 0.4-1.7 0.4-0.7 0.4-0.4 0.4-1.5 0.4,0.2 0.4-3.7 0.4-0.1 0.4-1.1 0.4,0.1 0.4-1.3 0.4,0.1 0.4-3.2 0.4,0.1 0.4-0.5 0.4-0.7 0.4,0.1 0.4,0.3 0.4-2.5 0.4-0.4 0.4,1.2 0.4-4.8 0.4,1.8 0.4,2 0.4,2.6 0.4,2.1 0.4,1.3 0.4,2.6 0.4,0 0.4,1.8 0.4,1.5 0.4,2.3 0.4,0.3 0.5-2.1 0.4,1.6 0.4,2.4 0.4,0.1 0.4,2.8 0.4-2.2 0.4-0.3 0.4,1.6 0.4,0.5 0.4-0.1 0.4,0.9 0.4,0.8 0.4-0.3 0.4,1.2 0.4-0.6 0.4-0.2 0.4,0.8 0.4,3 0.4-1.6 0.4,4.7 0.4,1.1 0.4,0.9 0.4,0.2 0.4,2.9 0.4,1.1 0.4-0.8 0.4,1.7 0.4-0.6 0.4-1.6 0.4,0.4 0.4-1.2 0.4,0.7 0.4,0.7 0.4,2.7 0.4,2.9 0.4,0.3 0.4-1.7 0.4-0.3 0.4,2.5 0.4-0.8 0.4,1.2 0.4-4.1 0.4,0.1 0.4,1.3 0.4,0.4 0.4-1.9 0.4-4.7 0.4-0.1 0.4-2.2 0.4-2 0.4-3.9"/></g>
<line x1="53.65" y1="140.6" x2="320.0" y2="140.6" stroke="#111" stroke-width="1.55" stroke-dasharray="3.6 3.755"/>
<rect x="136.0" y="16.80" width="19.95" height="229.50" fill="#d3d3d3" fill-opacity="0.55"/>
<path d="M50.4,33.5H54.4V247.0H320.0" fill="none" stroke="#555" stroke-width="1.45"/>
<path d="M50.4,33.5H54.4M50.4,69.1H54.4M50.4,104.6H54.4M50.4,140.2H54.4M50.4,175.8H54.4M50.4,211.3H54.4M50.4,246.8H54.4M54.40,247.0V251.0M72.67,247.0V251.0M90.94,247.0V251.0M109.21,247.0V251.0M127.48,247.0V251.0M145.75,247.0V251.0M164.02,247.0V251.0M182.29,247.0V251.0M200.56,247.0V251.0M218.83,247.0V251.0M237.10,247.0V251.0M255.37,247.0V251.0M273.64,247.0V251.0M291.91,247.0V251.0M310.18,247.0V251.0" stroke="#555" stroke-width="1.3" fill="none"/>
<text transform="translate(47,36.75) scale(1,1.06)" text-anchor="end" font-size="8.9">0.75</text>
<text transform="translate(47,72.30) scale(1,1.06)" text-anchor="end" font-size="8.9">0.50</text>
<text transform="translate(47,107.85) scale(1,1.06)" text-anchor="end" font-size="8.9">0.25</text>
<text transform="translate(47,143.40) scale(1,1.06)" text-anchor="end" font-size="8.9">0.00</text>
<text transform="translate(47,178.95) scale(1,1.06)" text-anchor="end" font-size="8.9">-0.25</text>
<text transform="translate(47,214.50) scale(1,1.06)" text-anchor="end" font-size="8.9">-0.50</text>
<text transform="translate(47,250.05) scale(1,1.06)" text-anchor="end" font-size="8.9">-0.75</text>
<text transform="translate(54.40,258.9) scale(0.5,0.54)" text-anchor="middle" font-size="12" style="stroke-width:0.45px">2003</text>
<text transform="translate(72.67,258.9) scale(0.5,0.54)" text-anchor="middle" font-size="12" style="stroke-width:0.45px">2004</text>
<text transform="translate(90.94,258.9) scale(0.5,0.54)" text-anchor="middle" font-size="12" style="stroke-width:0.45px">2005</text>
<text transform="translate(109.21,258.9) scale(0.5,0.54)" text-anchor="middle" font-size="12" style="stroke-width:0.45px">2006</text>
<text transform="translate(127.48,258.9) scale(0.5,0.54)" text-anchor="middle" font-size="12" style="stroke-width:0.45px">2007</text>
<text transform="translate(145.75,258.9) scale(0.5,0.54)" text-anchor="middle" font-size="12" style="stroke-width:0.45px">2008</text>
<text transform="translate(164.02,258.9) scale(0.5,0.54)" text-anchor="middle" font-size="12" style="stroke-width:0.45px">2009</text>
<text transform="translate(182.29,258.9) scale(0.5,0.54)" text-anchor="middle" font-size="12" style="stroke-width:0.45px">2010</text>
<text transform="translate(200.56,258.9) scale(0.5,0.54)" text-anchor="middle" font-size="12" style="stroke-width:0.45px">2011</text>
<text transform="translate(218.83,258.9) scale(0.5,0.54)" text-anchor="middle" font-size="12" style="stroke-width:0.45px">2012</text>
<text transform="translate(237.10,258.9) scale(0.5,0.54)" text-anchor="middle" font-size="12" style="stroke-width:0.45px">2013</text>
<text transform="translate(255.37,258.9) scale(0.5,0.54)" text-anchor="middle" font-size="12" style="stroke-width:0.45px">2014</text>
<text transform="translate(273.64,258.9) scale(0.5,0.54)" text-anchor="middle" font-size="12" style="stroke-width:0.45px">2015</text>
<text transform="translate(291.91,258.9) scale(0.5,0.54)" text-anchor="middle" font-size="12" style="stroke-width:0.45px">2016</text>
<text transform="translate(310.18,258.9) scale(0.5,0.54)" text-anchor="middle" font-size="12" style="stroke-width:0.45px">2017</text>
<text x="184.3" y="277.0" text-anchor="middle" font-size="18" class="big">date</text>
<text transform="translate(15.50,193.27) rotate(-90)" font-size="15.5" class="big">&#916;</text>
<text transform="translate(15.50,182.20) rotate(-90) scale(1.12,1)" font-size="15.5" class="big">&#961;</text>
<text transform="translate(20.30,172.40) rotate(-90)" font-size="12.1" class="big">DCCA</text>
<text transform="translate(15.50,132.70) rotate(-90)" font-size="18" class="big">(s = 16)</text>
<rect x="321.5" y="1.7" width="55.8" height="109.5" fill="#fff" stroke="#999" stroke-width="1"/>
<line x1="322.9" x2="342.3" y1="8.00" y2="8.00" stroke="#c4c4c4" stroke-width="1.6"/>
<text transform="translate(345,11.40) scale(1,1.07)" font-size="8.75" style="stroke-width:0.18px">CAC40</text>
<line x1="322.9" x2="342.3" y1="18.77" y2="18.77" stroke="#f0a4a4" stroke-width="1.6"/>
<text transform="translate(345,22.17) scale(1,1.07)" font-size="8.75" style="stroke-width:0.18px">TSX</text>
<line x1="322.9" x2="342.3" y1="29.54" y2="29.54" stroke="#a4c0ee" stroke-width="1.6"/>
<text transform="translate(345,32.94) scale(1,1.07)" font-size="8.75" style="stroke-width:0.18px">DAX</text>
<line x1="322.9" x2="342.3" y1="40.31" y2="40.31" stroke="#a4d8bc" stroke-width="1.6"/>
<text transform="translate(345,43.71) scale(1,1.07)" font-size="8.75" style="stroke-width:0.18px">MIB</text>
<line x1="322.9" x2="342.3" y1="51.08" y2="51.08" stroke="#dcc4f4" stroke-width="1.6"/>
<text transform="translate(345,54.48) scale(1,1.07)" font-size="8.75" style="stroke-width:0.18px">FTSE</text>
<line x1="322.9" x2="342.3" y1="61.85" y2="61.85" stroke="#f0d8a0" stroke-width="1.6"/>
<text transform="translate(345,65.25) scale(1,1.07)" font-size="8.75" style="stroke-width:0.18px">MOEX</text>
<line x1="322.9" x2="342.3" y1="72.62" y2="72.62" stroke="#a0e8e8" stroke-width="1.6"/>
<text transform="translate(345,76.02) scale(1,1.07)" font-size="8.75" style="stroke-width:0.18px">NIKKEI</text>
<line x1="322.9" x2="342.3" y1="83.39" y2="83.39" stroke="#d4b4b4" stroke-width="1.6"/>
<text transform="translate(345,86.79) scale(1,1.07)" font-size="8.75" style="stroke-width:0.18px">SSE</text>
<line x1="322.9" x2="342.3" y1="94.16" y2="94.16" stroke="#222" stroke-width="1.5" stroke-dasharray="3.5 4"/>
<text transform="translate(345,97.56) scale(1,1.07)" font-size="8.75" style="stroke-width:0.18px">UL 95%</text>
<line x1="322.9" x2="342.3" y1="104.93" y2="104.93" stroke="#222" stroke-width="1.5" stroke-dasharray="3.5 4"/>
<text transform="translate(345,108.33) scale(1,1.07)" font-size="8.75" style="stroke-width:0.18px">LL 95%</text>
</g>
<g transform="translate(406.20,291.20)">
<g fill="none" stroke-width="0.75" stroke-linejoin="round"><path stroke="#7a7a7a" d="M54.4,132.7l0.4-1.4 0.4,0.8 0.4-1.2 0.4,1 0.4-0.3 0.4,0.4 0.4,1.3 0.4,0.1 0.4,1.4 0.4-0.1 0.4,0.3 0.4,0.4 0.4-0.2 0.4,3 0.4-2.4 0.4,1.1 0.4-0.5 0.4,3.2 0.4,0 0.4-0.1 0.4-0.4 0.4,1.2 0.4-2.3 0.4,2.2 0.4-1.7 0.4-0.5 0.4-0.4 0.4-1.7 0.4,1 0.4,3.1 0.4,0.3 0.5-1.3 0.4,0.9 0.4,1.1 0.4-1.4 0.4,2.9 0.4-1.8 0.4,0 0.4,0.3 0.4,1.2 0.4-0.3 0.4,0.6 0.4,1 0.4-0.3 0.4,1.7 0.4,1.5 0.4-0.8 0.4-1.6 0.4,0.1 0.4,2.7 0.4-2.8 0.4,0.2 0.4,1.6 0.4,1.5 0.4-1.1 0.4-1 0.4-0.2 0.4,3.1 0.4-1.2 0.4,1.1 0.4-3 0.4,1.2 0.4-1.3 0.4,0.9 0.4,0.1 0.4,2 0.4-0.5 0.4-2.2 0.4,1.8 0.4-0.3 0.4,1.6 0.4-1.4 0.4,0.1 0.4-1 0.4-1.8 0.4,0.5 0.4,1.7 0.4,0.7 0.4,0.1 0.4-0.6 0.4,0.4 0.4,1.9 0.4,0.9 0.4,3.2 0.4-0.8 0.4,1.6 0.4-0.2 0.4-0.5 0.4-0.9 0.4,2.9 0.4-0.7 0.4-2.6 0.4,3.8 0.5-1.5 0.4-1 0.4,2 0.4,0.2 0.4-0.1 0.4-2.5 0.4,2 0.4,0.6 0.4,0.4 0.4-0.1 0.4-0.7 0.4,2.9 0.4,0 0.4,1.6 0.4,0.7 0.4-0.3 0.4,1.1 0.4-0.8 0.4-3.6 0.4,0.6 0.4,2.1 0.4-1.3 0.4,0.9 0.4-1.5 0.4,0.5 0.4-0.5 0.4-1.1 0.4,0.3 0.4-0.5 0.4-1.1 0.4,0 0.4,0.4 0.4-1.3 0.4,0.9 0.4,0.9 0.4,0.7 0.4-0.7 0.4,4 0.4-1.9 0.4-0.7 0.4,0.7 0.4,0.2 0.4-2.4 0.4-1.5 0.4,0.1 0.4,1.1 0.4-0.5 0.4-0.2 0.4-0.3 0.4-2.7 0.4-1.1 0.4,0.1 0.4-1.5 0.4,0.4 0.4,2.8 0.4-0.6 0.4-1.5 0.4-1.6 0.4,1.7 0.4-1.1 0.4-0.4 0.4-2.6 0.5,2.1 0.4-1.2 0.4,0.8 0.4-1.8 0.4-0.7 0.4-0.2 0.4-0.7 0.4-1.2 0.4-3.2 0.4,2.4 0.4-1.2 0.4,0.8 0.4-0.9 0.4-0.5 0.4-0.4 0.4,0.1 0.4-0.3 0.4-2 0.4-1.9 0.4,0.8 0.4-2.8 0.4,0.7 0.4,0.6 0.4-0.5 0.4-2.7 0.4,0.9 0.4-0.1 0.4,1.5 0.4-2.6 0.4,0.1 0.4-0.1 0.4-1.3 0.4-2.1 0.4-1.7 0.4-0.2 0.4-0.6 0.4-3.9 0.4,0.6 0.4-0.7 0.4-0.8 0.4-2.5 0.4,2.9 0.4-1 0.4-2.3 0.4-1.1 0.4-2.3 0.4,0.3 0.4,0.8 0.4,0.6 0.4-1.4 0.4,1.1 0.4-0.5 0.4,2.1 0.4-2.5 0.4-0.2 0.4,0.8 0.4-1.4 0.4,1.9 0.4-0.4 0.4,1 0.4,1.3 0.4,1 0.5,1.8 0.4,1.2 0.4-1 0.4,1 0.4,0.6 0.4,1.1 0.4,0.4 0.4-1.7 0.4-0.6 0.4,1 0.4-1.2 0.4,1.5 0.4-1.3 0.4,2.4 0.4,0.3 0.4,0.3 0.4,1.4 0.4-0.2 0.4,2.7 0.4-0.6 0.4,1.2 0.4,0 0.4-1.5 0.4,0.1 0.4-1 0.4,1.1 0.4,1.3 0.4-1.1 0.4,0.3 0.4-1.3 0.4-0.3 0.4,1.3 0.4-2 0.4,1.9 0.4,0.3 0.4,0.4 0.4-1.1 0.4,0.5 0.4-0.2 0.4,1.2 0.4-1.6 0.4,1 0.4-2.6 0.4,4.3 0.4-0.4 0.4,0.1 0.4,1.6 0.4-1.6 0.4-2.4 0.4,4.7 0.4-1 0.4,0.2 0.4-1.8 0.4,0.2 0.4,0.1 0.4-1.2 0.4-1.4 0.4,2.4 0.4-2.4 0.4,2.1 0.4-1.5 0.4,0.5 0.5-0.3 0.4,0 0.4,0.5 0.4,0.5 0.4-2.4 0.4,1.4 0.4,0.6 0.4-1.7 0.4,2.5 0.4-0.2 0.4-0.2 0.4-2.3 0.4,2.6 0.4-2 0.4,1.1 0.4-2.8 0.4,1.5 0.4-1.2 0.4,0.7 0.4-1.8 0.4,2.1 0.4,1.6 0.4-3.2 0.4,0.9 0.4-0.5 0.4-2.2 0.4,2.1 0.4,0.4 0.4,0.9 0.4-0.5 0.4-1.2 0.4-0.4 0.4,0.2 0.4,1.5 0.4,0.1 0.4-2.3 0.4,1 0.4,0.2 0.4,2.8 0.4,0.7 0.4,0.6 0.4-2.1 0.4,0.2 0.4,0.4 0.4,0.8 0.4,0.6 0.4,1.5 0.4,0.2 0.4-0.2 0.4,0.5 0.4-1.8 0.4,0.6 0.4-1.3 0.4,2.2 0.4,1.1 0.4-0.9 0.4,0.5 0.4,0.6 0.4,1.1 0.4,1.3 0.4-1.3 0.4,1.3 0.5,0.6 0.4,0.1 0.4,1.7 0.4-2.7 0.4,0 0.4,0.3 0.4-1.3 0.4,0 0.4-1.7 0.4,1.3 0.4,2.4 0.4-2.1 0.4,1.4 0.4,1.8 0.4-1 0.4,0.5 0.4,1.4 0.4,2.2 0.4-1.6 0.4-2.1 0.4,0.8 0.4,1.1 0.4-2 0.4,0.1 0.4,0.7 0.4,0.7 0.4-0.7 0.4,0.5 0.4,1.4 0.4-2.1 0.4-0.4 0.4,0 0.4-0.5 0.4,1.7 0.4,0.9 0.4-0.2 0.4,0.9 0.4,1.3 0.4-1.3 0.4,2.1 0.4,0.6 0.4-0.3 0.4,1 0.4-1 0.4,1.4 0.4-0.7 0.4,1 0.4-0.4 0.4,1.5 0.4-1.7 0.4,0.6 0.4,0.2 0.4,1 0.4,0.2 0.4,0.9 0.4-0.3 0.4,0.6 0.4-0.6 0.4-0.7 0.4,1.4 0.4,2.2 0.4-1.7 0.4,0.3 0.5-0.3 0.4,1.6 0.4,1.3 0.4-1.6 0.4,2.5 0.4,0.4 0.4-3.1 0.4-1.3 0.4,2 0.4-0.7 0.4-0.9 0.4,0.8 0.4-1.1 0.4,2.6 0.4-1.1 0.4-0.9 0.4,1.5 0.4-1.3 0.4,1.8 0.4,0.6 0.4-0.7 0.4,1.5 0.4,0.7 0.4-1.9 0.4,1.4 0.4,4.7 0.4-0.8 0.4-1.9 0.4,0.4 0.4-0.1 0.4-1 0.4,2 0.4,0.8 0.4-1.7 0.4-0.4 0.4-1.3 0.4,0.5 0.4,0.4 0.4-0.2 0.4-1.3 0.4,0.8 0.4,1.1 0.4-1.4 0.4,3 0.4,1.9 0.4,0.5 0.4,0.3 0.4,1.2 0.4-0.9 0.4-1.9 0.4,1.9 0.4-2.9 0.4,0.9 0.4,2.9 0.4-0.4 0.4,2.2 0.4-3 0.4,0 0.4-0.7 0.4,0.3 0.4,1.5 0.4,0.2 0.5,0.6 0.4,0.1 0.4-2.1 0.4,1.5 0.4-2.3 0.4,0.8 0.4,0.4 0.4-0.8 0.4,0.7 0.4-1.7 0.4,0.8 0.4-0.6 0.4,1.6 0.4-0.7 0.4-0.7 0.4-0.9 0.4,1.1 0.4-0.4 0.4-1.3 0.4,0.7 0.4-1.1 0.4-1.1 0.4-2.4 0.4,1.5 0.4,0.2 0.4,0.4 0.4,1 0.4,0 0.4-1.4 0.4,1.2 0.4,0.6 0.4-1.8 0.4-0.2 0.4-0.8 0.4,2.5 0.4,0.5 0.4-0.9 0.4,2.6 0.4-2.9 0.4,0.5 0.4-0.5 0.4,1.5 0.4,0.8 0.4,0.2 0.4-1.2 0.4-1.6 0.4,2.9 0.4-4.2 0.4-0.4 0.4,0.2 0.4,2.5 0.4-1.5 0.4,0.1 0.4-1.5 0.4-2.2 0.4-0.1 0.4,0.4 0.4,0.9 0.4-2.4 0.4,1.5 0.4-3.2 0.4,2.9 0.5-2.4 0.4,1.2 0.4-2 0.4,1.8 0.4,0.2 0.4-3 0.4-0.5 0.4-1.7 0.4,1 0.4-3.2 0.4-0.2 0.4,0 0.4,0.8 0.4,0.5 0.4-0.1 0.4,1.5 0.4-1.8 0.4-2.9 0.4-0.1 0.4,0.8 0.4,0.8 0.4-3.5 0.4-0.3 0.4-0.1 0.4,0.9 0.4-0.3 0.4,2 0.4-1.4 0.4,0.8 0.4,0.9 0.4,0.5 0.4-2.1 0.4-0.7 0.4,0.9 0.4-0.8 0.4,0.2 0.4-1.3 0.4-1.1 0.4,0.5 0.4-1.8 0.4,3.5 0.4-1.2 0.4,0.8 0.4-1.2 0.4-0.8 0.4,2.5 0.4,0.3 0.4-0.5 0.4-0.6 0.4,2.1 0.4,0.2 0.4,0.4 0.4-1.6 0.4,1.1 0.4,1.5 0.4-1.2 0.4,0.8 0.4-2.2 0.4,0.7 0.4,1.9 0.4-1.1 0.4-0.5 0.5,1.3 0.4,0.5 0.4-0.7 0.4-0.9 0.4,0 0.4,0.9 0.4-0.8 0.4,2.4 0.4-1.1 0.4-2.8 0.4,0.8 0.4-1.1 0.4,1.5 0.4-1.4 0.4,1.2 0.4,0.1 0.4,1.2 0.4-1.8 0.4,0.8 0.4,0.8 0.4,0.4 0.4,2 0.4-1.1 0.4-0.8 0.4,0.5 0.4-1.2 0.4,0.6 0.4,1.5 0.4-0.1 0.4-0.3 0.4-1.2 0.4,0.4 0.4,2.1 0.4,1.1 0.4,0.7 0.4,0.4 0.4-0.8 0.4-0.1 0.4-1 0.4,1.5 0.4-1.4 0.4,0.1 0.4,1.4 0.4-1.1 0.4,1.2 0.4,1.3 0.4-2.3 0.4,1.7 0.4,0.6 0.4-1.1 0.4-1 0.4,2.7 0.4-1.9 0.4,0.3 0.4,1.7 0.4-0.5 0.4-1.1 0.4,1.4 0.4-1.1 0.4-0.4 0.4,1.2 0.4-0.5 0.5,1.9 0.4,1.3 0.4,0.1 0.4,1.3 0.4,4.1 0.4-2.2 0.4-1.2 0.4,2.3 0.4-1.2"/>
<path stroke="#e86a6a" d="M54.4,128.6l0.4-1.8 0.4,2.5 0.4,0 0.4-1.1 0.4,1.6 0.4,0.3 0.4,1.5 0.4-0.4 0.4,1.9 0.4-1.6 0.4,0.2 0.4,2 0.4,2 0.4-0.5 0.4,0 0.4,0.7 0.4-3.8 0.4-0.8 0.4,0.6 0.4,1.4 0.4-0.3 0.4-0.4 0.4,0.9 0.4-1.8 0.4,1.1 0.4,1.3 0.4,0.4 0.4,0.4 0.4,1.2 0.4-2 0.4,1.9 0.5,1.9 0.4-2.4 0.4,1.9 0.4,2 0.4,1.9 0.4-0.9 0.4,1.7 0.4,0.5 0.4,1.9 0.4,1.4 0.4,0 0.4,1.3 0.4-0.9 0.4,0.9 0.4-0.3 0.4,2.1 0.4,0.5 0.4,1.9 0.4,1.5 0.4,1.2 0.4-2.3 0.4,2.9 0.4,1.3 0.4,1.1 0.4-1.2 0.4-0.8 0.4,1.7 0.4-0.2 0.4-0.9 0.4-0.2 0.4,1.1 0.4,1.5 0.4,0 0.4,0.9 0.4,0.8 0.4-1.3 0.4-0.7 0.4,0.9 0.4,1.9 0.4-2.5 0.4,1.2 0.4-3.1 0.4,1.8 0.4-1.3 0.4,2 0.4-1.5 0.4-1.4 0.4,0.2 0.4,0.6 0.4,3.5 0.4-2.8 0.4,0 0.4-1.2 0.4,2 0.4-1.3 0.4,1.9 0.4,2.4 0.4-1.3 0.4-2 0.4,1.6 0.4-0.2 0.4-0.2 0.5-1.8 0.4,3 0.4-1.8 0.4,1.9 0.4-1.9 0.4,2.5 0.4-0.7 0.4-1.8 0.4,1.7 0.4,2.5 0.4,0.7 0.4,0.9 0.4,0.8 0.4,2.1 0.4-0.2 0.4,3.9 0.4-0.7 0.4-1.4 0.4,0.6 0.4-2.3 0.4-1.1 0.4-2.3 0.4-1.8 0.4-1.6 0.4,1.4 0.4-1.1 0.4,0.7 0.4-0.8 0.4-1 0.4,0.4 0.4-1 0.4,1.9 0.4,0.4 0.4-1.6 0.4,0.3 0.4,0.2 0.4,0.8 0.4-2.7 0.4-0.2 0.4-0.5 0.4,0.6 0.4,1.4 0.4-1.4 0.4,0.9 0.4-1.1 0.4-0.2 0.4-0.1 0.4-0.8 0.4-0.8 0.4-0.9 0.4-0.7 0.4-1.4 0.4-1.9 0.4-0.2 0.4,1.7 0.4-0.7 0.4-0.3 0.4,1.3 0.4-1.5 0.4-0.2 0.4-0.4 0.4,0.7 0.5-1 0.4-2.6 0.4,2.6 0.4-2 0.4,2.1 0.4-1.3 0.4-0.8 0.4,0.2 0.4-1.1 0.4-1 0.4,2.4 0.4-0.8 0.4,0.7 0.4-2.5 0.4-1.3 0.4,1.6 0.4-2.3 0.4,0.5 0.4,1.8 0.4,0.2 0.4-2 0.4-1.4 0.4-1.7 0.4-0.6 0.4,3.4 0.4-4.2 0.4,0.4 0.4,0.6 0.4-1.5 0.4-2 0.4-0.9 0.4,1.4 0.4-1.4 0.4-2.2 0.4-2 0.4-1.4 0.4-0.4 0.4-0.7 0.4,1 0.4-1.9 0.4,0.4 0.4,0.3 0.4,0.2 0.4-1.2 0.4-1.2 0.4,1.3 0.4-3.4 0.4,0.9 0.4-0.9 0.4-1 0.4,1.1 0.4,0.5 0.4,1.3 0.4-0.2 0.4,1.2 0.4-1.9 0.4-0.7 0.4-0.5 0.4-1 0.4,4 0.4-0.3 0.4,1.6 0.5-1.2 0.4-0.8 0.4-0.3 0.4,1.2 0.4-1.3 0.4,0.1 0.4,2.7 0.4-0.2 0.4-0.4 0.4,1.1 0.4-2 0.4-0.2 0.4-0.1 0.4-1.5 0.4,1.9 0.4-2 0.4-0.9 0.4,0.3 0.4-1.3 0.4,0.1 0.4,0.9 0.4-0.8 0.4,0.5 0.4-0.3 0.4,1.2 0.4-1.2 0.4-0.7 0.4,0.6 0.4-1.4 0.4-0.4 0.4-0.2 0.4,1.8 0.4-3.3 0.4,2.6 0.4,1 0.4-0.8 0.4-0.6 0.4,2.5 0.4-0.6 0.4,1.6 0.4,0.2 0.4,2 0.4-2 0.4-0.2 0.4-0.6 0.4-1.1 0.4-0.1 0.4-1.2 0.4-0.9 0.4,1.6 0.4-0.7 0.4,0.3 0.4-1.9 0.4,0.9 0.4,0.8 0.4,2 0.4-2 0.4,0.3 0.4-0.2 0.4-1.3 0.4,0.4 0.4-0.8 0.5-0.6 0.4,0.3 0.4-1.5 0.4,0.2 0.4-0.8 0.4,0.8 0.4-1.4 0.4,0.3 0.4-1.5 0.4-0.6 0.4,2.7 0.4-1.2 0.4,0.2 0.4-2.4 0.4,1.1 0.4,1.6 0.4-2.2 0.4,1.8 0.4-0.2 0.4,0.4 0.4-0.6 0.4-0.8 0.4,0.3 0.4,1.7 0.4-0.1 0.4,0.9 0.4-2.4 0.4-0.5 0.4,1 0.4,0.8 0.4-0.1 0.4-0.1 0.4,0.5 0.4-2 0.4,3 0.4,0.4 0.4-1.8 0.4,2.2 0.4-0.7 0.4,1.3 0.4,0.2 0.4,0.4 0.4,2.1 0.4-0.1 0.4,0.1 0.4,1 0.4-0.4 0.4,1 0.4-0.6 0.4-0.3 0.4-0.7 0.4,1.6 0.4,0.3 0.4-1.5 0.4,1.7 0.4,2.5 0.4-1.7 0.4-0.1 0.4-0.9 0.4-1.3 0.4,1.7 0.4,2.9 0.5,0.8 0.4-1.7 0.4-0.8 0.4-2 0.4,1.3 0.4-1.2 0.4,2.4 0.4,1.3 0.4,0.4 0.4,0.2 0.4-0.7 0.4,0 0.4,2.6 0.4,0.8 0.4-2.6 0.4,2.1 0.4,2.4 0.4-0.9 0.4,1.1 0.4-2.8 0.4,0.9 0.4-0.1 0.4-0.7 0.4,2 0.4-0.5 0.4,0.4 0.4,2.6 0.4-0.6 0.4,1.9 0.4-1.2 0.4-1.2 0.4-0.5 0.4,2.6 0.4,2.5 0.4-2.3 0.4,1.7 0.4,1.5 0.4,2.1 0.4,1.2 0.4-0.6 0.4-1.9 0.4,2.4 0.4,0.4 0.4,0.2 0.4,1.7 0.4,0.1 0.4,0.2 0.4-0.9 0.4,1.2 0.4-0.2 0.4-0.3 0.4,1.5 0.4-1 0.4-0.8 0.4-1.1 0.4,0.8 0.4,0.5 0.4,0.8 0.4-1.9 0.4,0.9 0.4,0.7 0.4,0.6 0.4-1.2 0.5-0.8 0.4-0.2 0.4,1.7 0.4-1.5 0.4-2.5 0.4,1.5 0.4-1.5 0.4,1.3 0.4-2 0.4,1.4 0.4-0.9 0.4,1 0.4,0.8 0.4-1 0.4-0.1 0.4,0.9 0.4-1.7 0.4,1.8 0.4-0.4 0.4,2.7 0.4-0.7 0.4,1 0.4,0 0.4-3 0.4,1.5 0.4,1 0.4,0.5 0.4,0.4 0.4,0.2 0.4-2.3 0.4-0.9 0.4-1.1 0.4,0.5 0.4,1.7 0.4,0.1 0.4-1.3 0.4,2.8 0.4,0.2 0.4,0.3 0.4,0.6 0.4,0.6 0.4,0.5 0.4,0.5 0.4,0.7 0.4,0 0.4,0.4 0.4-1.2 0.4-0.8 0.4,3.4 0.4-1 0.4,1 0.4,2 0.4,1.2 0.4-1.5 0.4-3.6 0.4,1.3 0.4-1.9 0.4-1.3 0.4,3.3 0.4-1 0.4-1.1 0.4,0.5 0.5,1 0.4-1.9 0.4,0.1 0.4-3 0.4,0.6 0.4,2.4 0.4-2.5 0.4,0.9 0.4-2.3 0.4,0.2 0.4-2.4 0.4,2.9 0.4-0.2 0.4-1.4 0.4,1.7 0.4-0.1 0.4,2 0.4-1.6 0.4,0.5 0.4-0.5 0.4,1.3 0.4-3.6 0.4,2.6 0.4,0.9 0.4-2.6 0.4,1.3 0.4,0.1 0.4-1.2 0.4-0.1 0.4-1.3 0.4,0.6 0.4,1.1 0.4,0.6 0.4,2 0.4,1.3 0.4,0.5 0.4,0.7 0.4-0.6 0.4-3.4 0.4,1.8 0.4-2.7 0.4,0.3 0.4-1.4 0.4,0 0.4,0.7 0.4,2.1 0.4-1 0.4,0.4 0.4-2.7 0.4,2.1 0.4-0.9 0.4-2 0.4-1.1 0.4,1.5 0.4-1.4 0.4-0.5 0.4-0.1 0.4,1.7 0.4,0.1 0.4,0.1 0.4-0.4 0.4,0 0.5-0.5 0.4,0.5 0.4-1.9 0.4-0.1 0.4-0.4 0.4-1.3 0.4-1.2 0.4-0.1 0.4-2.5 0.4-1 0.4-0.4 0.4-1.2 0.4-3.3 0.4,0.5 0.4,0 0.4-0.2 0.4-0.7 0.4-0.7 0.4,0.7 0.4,1.6 0.4-2.7 0.4,2.3 0.4-1.3 0.4-0.3 0.4,0.7 0.4,0.4 0.4-1.1 0.4,1.3 0.4-0.4 0.4,0.5 0.4,0.7 0.4,0.2 0.4,1.2 0.4,0.1 0.4-1 0.4,2.1 0.4,0.1 0.4-0.7 0.4,0.9 0.4,2.6 0.4-2.1 0.4-0.8 0.4,1.4 0.4-3.2 0.4-2.6 0.4,1.5 0.4,1 0.4-1 0.4,0.6 0.4-1.3 0.4-2.2 0.4,1.8 0.4-0.8 0.4,1.2 0.4-0.4 0.4-1.2 0.4,1.7 0.4,0.7 0.4-0.9 0.4,0.1 0.4,0.1 0.4,1 0.5,2.2 0.4,0.5 0.4,0.3 0.4-2.3 0.4,4.2 0.4-1 0.4-2.5 0.4,1.6 0.4-0.5 0.4,2.3 0.4,0.1 0.4,1.7 0.4-2 0.4,1.2 0.4-1.8 0.4-0.6 0.4,2.7 0.4-0.4 0.4,3.2 0.4,0.6 0.4,0.1 0.4-1 0.4,0.9 0.4-0.5 0.4-0.1 0.4-0.7 0.4,3.3 0.4-4 0.4-1.4 0.4,1.3 0.4,0.7 0.4,0.6 0.4,2.3 0.4,2 0.4-0.5 0.4,0.9 0.4,3.9 0.4,1.1 0.4-0.7 0.4,1.3 0.4,0.5 0.4,0.7 0.4,1.1 0.4,1.6 0.4,2 0.4-0.7 0.4-1.3 0.4-0.1 0.4-1 0.4,1.4 0.4-2.5 0.4,0.4 0.4-1 0.4,0.7 0.4-0.1 0.4-0.1 0.4,0.2 0.4-1.1 0.4,1 0.4,1 0.4,1 0.4-1.4 0.5,1 0.4,0.7 0.4,0.8 0.4-1.3 0.4,1.8 0.4-0.5 0.4,2.2 0.4-0.7 0.4,1.4"/>
<path stroke="#5588dd" d="M54.4,140l0.4,0.4 0.4,2.6 0.4,0.1 0.4-1.6 0.4,0.4 0.4-0.2 0.4-0.4 0.4,5.4 0.4-1.5 0.4,0.9 0.4-2.2 0.4,1.7 0.4,2 0.4,0.9 0.4-0.6 0.4,0.1 0.4-1.3 0.4-0.8 0.4-0.5 0.4-1 0.4-2.3 0.4,0.8 0.4,1.1 0.4-1.6 0.4,1.8 0.4-1 0.4-0.5 0.4,2.1 0.4,0.2 0.4,1.4 0.4-1.1 0.5-0.1 0.4-1.1 0.4,0.1 0.4-0.8 0.4,0.7 0.4,0.5 0.4,0.5 0.4-0.9 0.4,1 0.4-2.3 0.4,2 0.4-0.1 0.4-1.3 0.4,1.5 0.4-1.6 0.4,0.7 0.4-0.1 0.4,1.1 0.4-0.1 0.4-0.8 0.4-1.7 0.4-1 0.4,1.9 0.4,1.2 0.4-0.1 0.4-4.2 0.4,3.5 0.4-1.2 0.4,0 0.4,1.2 0.4,0.9 0.4-1.6 0.4-3.5 0.4,1.4 0.4,2.5 0.4-0.5 0.4-0.8 0.4,0.8 0.4-2.6 0.4-1.2 0.4,1.2 0.4-1 0.4-2.3 0.4,0.2 0.4,1.3 0.4-0.4 0.4-0.1 0.4-2.7 0.4,2 0.4-1.8 0.4,0.5 0.4-2.2 0.4-0.3 0.4,0.2 0.4-0.8 0.4-1.4 0.4-0.6 0.4,0.3 0.4-2.3 0.4-0.9 0.4,1.9 0.4,1.3 0.5-0.8 0.4,3 0.4,2.7 0.4,1.7 0.4-1.1 0.4,0.6 0.4-2.4 0.4,0.5 0.4,0.5 0.4-0.7 0.4-0.9 0.4,1.1 0.4,3.2 0.4,0.4 0.4,1.3 0.4,0 0.4,1.8 0.4,1.6 0.4,0.9 0.4,0.9 0.4,0.8 0.4,0.6 0.4-1.3 0.4,0.9 0.4,0.1 0.4-0.5 0.4,3.8 0.4-3.1 0.4,1.7 0.4,1.5 0.4,1.3 0.4-0.1 0.4,0.4 0.4,0.5 0.4,1.3 0.4-1.2 0.4,1.1 0.4,1.2 0.4-0.8 0.4-1.5 0.4-0.7 0.4,0.5 0.4,1 0.4,1.1 0.4-0.3 0.4,0.6 0.4,0.7 0.4-0.1 0.4,0.5 0.4-0.3 0.4,1.6 0.4,2.8 0.4-2 0.4,0 0.4-0.7 0.4-2.1 0.4,0 0.4,0.8 0.4-0.9 0.4-0.8 0.4,2.7 0.4-0.4 0.5-1 0.4,0.2 0.4-0.3 0.4,0.9 0.4,0.7 0.4,0.8 0.4-1.4 0.4-1.7 0.4,0.6 0.4-0.6 0.4-0.6 0.4-0.3 0.4,0.2 0.4-0.5 0.4-0.3 0.4-2.4 0.4,0.7 0.4-1.2 0.4-0.8 0.4-1.8 0.4,0 0.4-1.1 0.4,1 0.4-1.3 0.4,1.8 0.4-2.1 0.4-1.2 0.4,1 0.4-0.6 0.4,0.1 0.4,0.3 0.4-0.8 0.4,0.4 0.4-2.1 0.4-1.3 0.4-0.4 0.4-1.5 0.4-3.1 0.4,0.8 0.4-0.9 0.4-1.6 0.4-0.8 0.4-0.9 0.4,1.6 0.4-0.5 0.4,0 0.4-1.7 0.4,1.5 0.4,0.3 0.4-1.5 0.4,2.4 0.4-0.7 0.4-0.8 0.4-2 0.4-0.3 0.4,0.8 0.4,0.2 0.4,0.3 0.4,0.5 0.4-1 0.4-1.2 0.4-0.2 0.5,2.2 0.4-0.7 0.4,1.8 0.4,0.9 0.4-1.8 0.4,1.4 0.4-1.4 0.4-0.7 0.4-0.6 0.4,1.9 0.4,0.2 0.4-1 0.4-0.4 0.4,3.4 0.4-3.3 0.4-0.9 0.4,0.5 0.4-0.1 0.4,0.4 0.4-0.9 0.4,0.2 0.4,0.9 0.4,0 0.4-2.5 0.4-0.8 0.4,0.5 0.4-1.5 0.4,0.7 0.4-0.3 0.4,0 0.4,2 0.4,0.6 0.4-0.3 0.4,2.3 0.4,0.3 0.4-1.4 0.4,0.8 0.4,1.3 0.4,1.2 0.4-0.5 0.4-2.1 0.4-1.1 0.4,3 0.4-1.4 0.4,0.4 0.4-2.2 0.4,1.3 0.4-0.9 0.4,1 0.4,1.1 0.4,0.4 0.4,1.8 0.4-1.7 0.4-0.9 0.4-0.9 0.4,0.9 0.4-0.8 0.4-0.6 0.4,0.6 0.4-2.9 0.4,1.8 0.4-0.2 0.5-0.1 0.4-0.4 0.4,0.4 0.4-0.5 0.4,0.5 0.4,0.2 0.4-1.2 0.4,2 0.4-2.8 0.4,0.4 0.4-0.7 0.4-0.6 0.4,0.7 0.4-0.4 0.4-0.2 0.4,0.9 0.4-1.3 0.4,3.9 0.4-2.9 0.4,0.5 0.4-0.4 0.4,2.3 0.4-1.6 0.4,2.8 0.4,0 0.4-1.5 0.4,3.4 0.4-0.9 0.4,1 0.4,0.2 0.4,0.5 0.4-0.8 0.4,1.3 0.4,2.3 0.4-2.5 0.4,1.5 0.4-1.7 0.4,1.4 0.4,0.8 0.4-1.3 0.4,0.3 0.4-0.4 0.4,1.3 0.4,0 0.4,0.7 0.4-0.4 0.4,2.1 0.4-2.6 0.4,3.1 0.4-0.7 0.4-2.3 0.4,0 0.4,0 0.4,0.9 0.4,0.7 0.4-1.1 0.4-0.3 0.4,0.4 0.4,1 0.4-1.1 0.4,0.2 0.4-0.4 0.5-1.4 0.4,1 0.4,0.1 0.4-0.6 0.4,0.3 0.4-1.1 0.4,0.3 0.4,2.3 0.4-1.6 0.4,2.4 0.4,0.7 0.4-0.8 0.4,1.7 0.4-1.7 0.4,1.1 0.4-1.2 0.4,1.5 0.4-0.2 0.4,0.3 0.4-0.7 0.4,2 0.4-1 0.4,0.3 0.4-1.2 0.4-0.4 0.4,1.7 0.4,0.1 0.4,1.5 0.4-0.9 0.4-1.2 0.4,0.2 0.4-0.6 0.4,0.8 0.4-0.5 0.4,1.5 0.4,0.3 0.4-1.6 0.4-1.2 0.4-0.6 0.4,1.1 0.4-1.8 0.4,2.6 0.4-1.5 0.4,2.9 0.4-0.2 0.4-1.1 0.4,0.4 0.4,0.9 0.4-1.1 0.4-1.1 0.4,0.2 0.4-3 0.4,0.4 0.4,0.2 0.4-1.8 0.4-0.5 0.4,2 0.4-1.6 0.4-0.8 0.4,0.4 0.4-0.8 0.4,0.6 0.4-0.2 0.5,0.8 0.4-3.7 0.4,2.2 0.4,1.8 0.4-0.2 0.4-1.6 0.4,1.7 0.4-1.5 0.4,1.5 0.4-1.2 0.4-3 0.4,1.4 0.4,0.5 0.4,1.8 0.4-1 0.4-0.5 0.4,0.3 0.4,0.3 0.4-1.4 0.4,0.7 0.4,2.1 0.4-0.7 0.4-0.2 0.4,0.8 0.4-1.3 0.4,0.6 0.4,0.1 0.4,0.4 0.4,0.1 0.4,1 0.4,0.2 0.4-0.4 0.4-1.5 0.4-0.6 0.4,0 0.4,0.1 0.4,1.3 0.4-0.4 0.4-0.5 0.4,1.7 0.4,0 0.4,1.4 0.4-1.5 0.4-0.5 0.4,0.3 0.4-0.2 0.4,1.1 0.4-1.8 0.4,0.9 0.4,3.3 0.4-1.7 0.4,0.6 0.4,0.9 0.4-1.3 0.4,2.3 0.4-1.1 0.4-1.2 0.4-0.4 0.4-0.3 0.4-0.2 0.4-0.7 0.4,2.1 0.5-0.8 0.4,0.5 0.4,0.2 0.4-0.5 0.4-2.3 0.4,1.3 0.4-1.6 0.4-0.4 0.4-1 0.4,0.2 0.4,1.7 0.4,0 0.4,0.8 0.4-0.1 0.4-0.1 0.4-0.2 0.4-1.7 0.4,0.1 0.4,0.3 0.4,0.3 0.4-1.1 0.4,1.4 0.4,0.4 0.4-0.8 0.4-0.2 0.4,0.1 0.4,1.6 0.4-0.2 0.4,0.7 0.4-1.1 0.4,0.9 0.4-1 0.4,0.5 0.4,0.3 0.4-0.1 0.4,1.7 0.4-0.5 0.4,0.2 0.4-0.9 0.4-0.8 0.4-0.1 0.4,3.3 0.4-2.1 0.4,2.6 0.4-1.1 0.4,2.4 0.4,0.3 0.4,1.5 0.4,1.4 0.4,0.1 0.4-1 0.4,0 0.4,0.3 0.4-0.4 0.4,1.7 0.4,0.2 0.4,0.8 0.4,0.4 0.4-0.9 0.4,2.1 0.4,0 0.4,0.4 0.5-0.8 0.4-1.5 0.4,0.9 0.4-0.5 0.4,1 0.4-1.7 0.4,0.9 0.4,2.6 0.4-1.7 0.4,1.1 0.4-0.6 0.4-0.5 0.4,1.7 0.4,2.8 0.4,0.7 0.4,0.2 0.4-0.2 0.4-0.2 0.4,0.2 0.4-2.7 0.4-1.5 0.4,1.4 0.4,1.1 0.4-1.7 0.4,1.3 0.4,0 0.4,2.8 0.4-0.4 0.4,1.1 0.4,1.4 0.4-2.8 0.4,0.9 0.4-1.2 0.4,3 0.4,0.3 0.4-1.7 0.4-0.3 0.4-0.5 0.4,1.1 0.4-1 0.4,0 0.4,3.6 0.4-0.9 0.4,1.3 0.4-0.7 0.4,0.1 0.4-0.4 0.4,2.5 0.4-0.5 0.4,1.6 0.4-0.9 0.4,0.8 0.4,2 0.4,0 0.4,1.6 0.4,1.9 0.4,1.4 0.4,0.5 0.4,1.6 0.4-0.2 0.4-1 0.4,3.1 0.5-1.5 0.4-1.5 0.4-0.4 0.4-1 0.4-2.2 0.4-0.9 0.4-1.7 0.4,0.3 0.4-0.8 0.4-1.5 0.4-0.4 0.4,0.8 0.4-1 0.4-1.2 0.4-2.4 0.4,0.3 0.4-2.3 0.4-2 0.4-2.3 0.4-1.3 0.4-1.5 0.4-0.6 0.4,0.6 0.4-0.4 0.4-1.8 0.4-1.8 0.4-0.7 0.4,2.3 0.4-2 0.4-0.7 0.4-1.6 0.4,0.4 0.4,1.5 0.4,1.1 0.4-4.5 0.4,1.8 0.4-0.7 0.4-1.1 0.4,0.2 0.4,0.7 0.4,1.3 0.4,0.6 0.4-0.9 0.4-2.7 0.4,0.2 0.4-2.5 0.4-0.6 0.4-1.1 0.4-0.3 0.4-0.5 0.4,0.4 0.4,0.3 0.4-1 0.4-0.1 0.4,1.3 0.4,1.3 0.4,0.7 0.4,1.7 0.4,0.2 0.4-2.5 0.4,1.7 0.4-1 0.5,0.5 0.4,1.3 0.4-1.4 0.4-1.2 0.4,0.5 0.4,0.9 0.4,0.2 0.4,0 0.4-1.1"/>
<path stroke="#4cb080" d="M54.4,122.5l0.4,3.6 0.4-2.2 0.4,1.1 0.4-1 0.4,1.9 0.4,0.8 0.4,0.7 0.4,0.4 0.4,0.2 0.4,0.9 0.4,2 0.4-0.6 0.4,2.7 0.4-2.2 0.4,0.8 0.4-2 0.4,2.4 0.4,1.2 0.4,1.7 0.4,0.7 0.4,0.8 0.4,2.3 0.4-0.2 0.4,2 0.4,2.6 0.4-1.3 0.4,1.6 0.4,0.5 0.4-2.3 0.4,2.7 0.4-0.3 0.5,1.9 0.4-0.1 0.4,1.6 0.4,0.2 0.4,1.5 0.4-2.5 0.4,0.8 0.4,1 0.4-0.4 0.4-1.1 0.4,1.9 0.4,2 0.4-0.2 0.4-0.7 0.4,1.1 0.4-0.1 0.4,1 0.4,1.8 0.4-0.7 0.4,1.6 0.4-0.4 0.4,0 0.4-0.2 0.4-0.8 0.4,1.8 0.4-0.4 0.4-1.1 0.4-0.1 0.4,0.1 0.4-0.1 0.4,1.4 0.4,1.3 0.4-1.6 0.4,0.4 0.4-0.1 0.4-0.4 0.4,0.4 0.4,0.6 0.4,0.3 0.4,0.1 0.4-0.1 0.4-0.5 0.4,0.9 0.4-0.2 0.4-1.2 0.4,0.3 0.4-1.6 0.4,1.4 0.4-2.2 0.4,3.5 0.4-0.5 0.4,0.4 0.4-2.1 0.4,1.1 0.4-0.3 0.4-2.4 0.4,1.6 0.4-2.4 0.4,0.7 0.4-1.7 0.4-0.3 0.4-0.2 0.5,2 0.4,0.6 0.4-1.5 0.4,1.9 0.4-1.9 0.4-1.8 0.4,0.7 0.4-0.6 0.4,0.8 0.4-0.1 0.4,1.6 0.4-0.2 0.4-0.7 0.4-2.4 0.4,1.2 0.4,0.3 0.4-0.2 0.4,0.1 0.4,1.2 0.4,0.2 0.4-0.3 0.4-1.2 0.4-0.4 0.4,2 0.4-4.2 0.4,2.2 0.4,1 0.4-0.3 0.4,1.2 0.4-1.1 0.4,1.4 0.4-0.5 0.4-1.1 0.4-1 0.4,1.3 0.4-1.6 0.4,0.2 0.4,1.1 0.4-4 0.4,2.5 0.4-2.1 0.4,0.9 0.4-1.2 0.4,0.2 0.4,2.3 0.4-0.9 0.4,0.3 0.4-1.1 0.4,0 0.4,0.3 0.4-1.8 0.4-1.5 0.4,0.5 0.4,1.3 0.4-2.6 0.4,0.2 0.4-1.9 0.4,2.5 0.4-3.3 0.4,0.4 0.4,0.1 0.4-1.7 0.5-0.2 0.4-2.3 0.4,1.3 0.4-0.1 0.4,0.2 0.4-2.3 0.4,2.3 0.4-1.8 0.4-1.2 0.4,0.7 0.4,1 0.4-1.6 0.4-0.1 0.4,1.7 0.4-2.1 0.4,3 0.4-2.9 0.4,0.6 0.4,0.8 0.4-1.6 0.4-1.1 0.4,1.1 0.4,1.8 0.4-1.3 0.4,0.3 0.4,0.7 0.4-1.4 0.4-1.1 0.4-2 0.4,0.3 0.4-1.8 0.4,0.6 0.4-2 0.4,3.4 0.4-4.6 0.4,3.4 0.4,0.5 0.4-0.4 0.4-3.5 0.4,1.7 0.4-0.1 0.4,0.6 0.4-1.6 0.4,1.8 0.4-1.9 0.4-0.5 0.4-0.6 0.4-3.9 0.4,3.3 0.4,0 0.4,0.5 0.4-0.1 0.4-0.5 0.4,0.3 0.4-0.1 0.4-0.1 0.4,0.3 0.4,0.3 0.4-0.4 0.4-1 0.4,0.6 0.4-1.6 0.5-0.7 0.4-0.3 0.4,0.8 0.4,0.6 0.4-1.2 0.4,1.9 0.4-0.3 0.4,0.5 0.4-0.5 0.4,0.4 0.4-0.4 0.4,1.9 0.4,0.8 0.4-0.3 0.4-1.9 0.4-0.9 0.4,1.1 0.4,3.3 0.4-2.9 0.4,1.8 0.4-0.2 0.4-2.1 0.4-0.2 0.4-1.8 0.4,3.1 0.4-1.5 0.4,1.3 0.4,3.3 0.4-2.6 0.4,2.8 0.4-3.5 0.4,1.1 0.4-1.6 0.4,0.8 0.4,1.1 0.4,0.7 0.4-1.1 0.4,2.8 0.4,0 0.4-3.4 0.4-0.3 0.4,0 0.4,1.4 0.4-0.2 0.4,1.7 0.4-1.6 0.4,0.9 0.4-1 0.4,0.9 0.4-0.2 0.4-0.2 0.4,1.2 0.4-1.4 0.4,1.9 0.4-0.2 0.4,0.3 0.4-0.7 0.4-1 0.4,0.6 0.4-1.1 0.4-0.4 0.4-0.1 0.5-0.1 0.4,1.6 0.4,0 0.4-2.2 0.4-0.5 0.4,0.9 0.4,0.9 0.4,0.4 0.4,0 0.4-3.9 0.4-1.2 0.4,1.7 0.4-3.9 0.4,2.6 0.4-0.2 0.4-1.6 0.4,2.6 0.4-0.2 0.4-0.7 0.4,0.2 0.4-2.3 0.4-0.4 0.4,1.8 0.4,0.1 0.4-0.5 0.4,0 0.4,0.2 0.4,2.4 0.4,1.5 0.4-2.2 0.4-0.1 0.4,0.9 0.4-1 0.4-0.5 0.4,1.5 0.4-2.8 0.4-0.7 0.4-0.2 0.4,2.5 0.4-0.2 0.4,3.1 0.4-1.8 0.4-0.9 0.4,0.5 0.4,0.2 0.4,0.1 0.4,1.1 0.4,0.7 0.4-0.5 0.4-0.2 0.4,1.7 0.4,1.4 0.4-0.4 0.4-0.9 0.4,1.2 0.4,1.7 0.4-1.6 0.4-0.8 0.4,0.1 0.4,0.8 0.4-1 0.4,0.5 0.5,3.5 0.4,0.8 0.4,0.5 0.4,1.9 0.4,0.5 0.4-2.1 0.4-0.8 0.4,1.3 0.4,0.9 0.4,1 0.4,1.8 0.4-1.1 0.4,1.9 0.4,2.5 0.4-1.2 0.4,1.5 0.4-1.4 0.4,0.1 0.4,1.5 0.4,1.4 0.4,0.5 0.4-0.1 0.4,0 0.4,1.8 0.4-0.9 0.4,0 0.4,0.3 0.4,2.4 0.4,0.9 0.4,0.8 0.4-0.1 0.4-0.8 0.4,1.3 0.4,2.8 0.4,0 0.4-0.3 0.4-0.9 0.4-0.3 0.4,2.3 0.4,1.7 0.4,0.4 0.4-0.9 0.4,4.1 0.4,1.9 0.4,0 0.4,1.5 0.4-0.8 0.4,1.3 0.4,2.8 0.4-1 0.4,2.5 0.4,0.4 0.4,1.7 0.4-2.2 0.4-0.8 0.4-0.6 0.4-0.7 0.4-1.6 0.4-0.1 0.4,1.9 0.4-1.9 0.4-1.8 0.4,1.8 0.5-0.8 0.4-1.1 0.4-1 0.4,0.3 0.4,2.2 0.4-1.8 0.4-0.3 0.4-0.5 0.4-1.9 0.4,0.6 0.4,1 0.4-1.3 0.4,0.9 0.4,0.9 0.4-1.3 0.4,1.8 0.4-0.2 0.4,0 0.4,1.1 0.4,0.5 0.4-1.4 0.4,2.3 0.4-1.5 0.4,0.7 0.4,1.6 0.4-3.4 0.4,1.2 0.4,1.4 0.4-2 0.4,1.2 0.4,0.7 0.4,1.7 0.4-1.7 0.4-1.1 0.4,0.3 0.4,1.2 0.4-1 0.4,1 0.4-1.5 0.4,0.4 0.4,0.3 0.4,0 0.4,2.9 0.4-0.4 0.4,0.7 0.4,1.6 0.4,0.1 0.4,0.8 0.4-1.2 0.4-0.7 0.4,0.3 0.4-1.3 0.4-1.6 0.4-0.4 0.4-0.5 0.4-1.7 0.4,0.9 0.4,1.3 0.4-1.5 0.4-0.8 0.4-1.3 0.4,0 0.5-1.7 0.4,1.7 0.4-0.6 0.4-1.5 0.4-0.9 0.4,1.8 0.4,2.3 0.4,0.5 0.4-1.1 0.4-0.3 0.4,0.6 0.4-1.6 0.4,0 0.4-1.5 0.4-0.5 0.4,1.5 0.4-0.8 0.4,1.3 0.4-1.8 0.4,1.9 0.4-0.6 0.4-1.5 0.4-0.1 0.4-1 0.4,0.8 0.4-1.7 0.4,1.2 0.4-0.2 0.4,1.5 0.4-1.1 0.4,1.5 0.4,0.7 0.4-0.9 0.4-1.7 0.4,0.9 0.4,0.3 0.4,1.1 0.4-0.9 0.4,1.1 0.4,0.6 0.4-1.4 0.4,1.2 0.4-1 0.4-0.8 0.4,3.1 0.4-0.8 0.4-1 0.4,0.1 0.4-2.9 0.4,0.8 0.4-4.8 0.4,0.4 0.4-1.2 0.4-3.4 0.4-0.3 0.4,0.3 0.4-2.2 0.4,0.2 0.4-0.8 0.4-0.4 0.4-2.5 0.4,0.9 0.5-3.3 0.4-1.7 0.4-1.1 0.4-2.3 0.4,0.6 0.4-2.9 0.4-0.1 0.4-2.3 0.4,1 0.4-0.7 0.4-0.6 0.4,0 0.4-0.7 0.4,0.5 0.4-2.2 0.4,0 0.4,0 0.4-1.6 0.4,1.8 0.4-0.4 0.4,1.8 0.4-1.7 0.4,2.5 0.4,1.3 0.4,0.3 0.4-1 0.4,0.7 0.4,0.6 0.4-0.4 0.4,0.8 0.4,0.9 0.4-0.9 0.4,0.3 0.4-0.9 0.4-1.5 0.4-1.2 0.4,2 0.4,0.5 0.4-0.5 0.4-1.3 0.4-1.6 0.4,1.7 0.4,0 0.4,0.4 0.4-1.7 0.4-0.4 0.4-1.2 0.4,1.9 0.4,2.3 0.4-2 0.4-0.2 0.4-0.9 0.4,0.2 0.4-2.4 0.4,2.2 0.4,0.6 0.4,0.3 0.4,1.3 0.4,1.1 0.4-1.3 0.4,0.4 0.4-1.4 0.5,1.7 0.4,0.2 0.4,1.4 0.4,2.3 0.4-1.4 0.4-1.1 0.4,1.8 0.4-0.5 0.4,0 0.4-0.1 0.4,2.6 0.4-0.9 0.4,1.4 0.4-0.9 0.4,0.6 0.4-0.3 0.4,0.8 0.4-0.7 0.4,1.6 0.4,2.3 0.4,0.6 0.4-2.1 0.4,1.5 0.4,1.2 0.4,0.6 0.4,1.4 0.4,1.6 0.4-0.4 0.4,1.1 0.4,0.2 0.4-3 0.4,4.2 0.4-2.5 0.4-0.7 0.4,2.6 0.4,0.2 0.4,0.7 0.4,2.1 0.4-1.7 0.4-0.7 0.4,1.5 0.4,0.1 0.4-2.5 0.4,1.2 0.4-0.1 0.4,0.8 0.4,3.4 0.4-1.6 0.4,1.9 0.4,0.1 0.4,1.7 0.4-0.1 0.4-2 0.4,1.5 0.4,0.9 0.4,0.2 0.4,1.3 0.4-2.8 0.4,2 0.4,0.8 0.4-2.2 0.4,0.1 0.5,0.1 0.4,0 0.4-0.9 0.4,2.6 0.4,2.1 0.4,4.1 0.4-2 0.4,3.6 0.4-1"/>
<path stroke="#b488e8" d="M54.4,148.5l0.4,0 0.4-0.9 0.4-0.2 0.4,0.9 0.4-0.7 0.4,1.5 0.4-0.6 0.4,1.6 0.4,0.3 0.4,1.7 0.4,2.2 0.4,0.3 0.4-2.3 0.4,2.3 0.4-2.3 0.4,2 0.4-2.4 0.4-1.6 0.4,1.1 0.4-1.9 0.4,0.7 0.4-1.1 0.4-1.2 0.4,2 0.4-2.2 0.4-2 0.4,0 0.4,1.6 0.4,1.1 0.4,0.3 0.4-0.8 0.5,0.8 0.4-1.5 0.4-0.8 0.4,1.8 0.4-1.4 0.4,1.8 0.4,1.8 0.4-0.2 0.4,2.1 0.4-0.4 0.4-0.4 0.4,0 0.4,2 0.4-1.2 0.4,1.3 0.4-1.1 0.4-0.9 0.4,0 0.4-2.4 0.4,0.5 0.4,1.3 0.4-2.2 0.4,0.2 0.4,0.4 0.4-0.4 0.4-0.3 0.4,0.9 0.4,0.7 0.4,0.9 0.4-0.7 0.4-4.9 0.4,3.4 0.4-1.8 0.4,1.3 0.4,1.4 0.4-0.1 0.4,0.6 0.4-1 0.4-1.1 0.4,1 0.4-0.2 0.4-0.5 0.4-1.6 0.4,0 0.4,1.6 0.4,0 0.4-1.2 0.4-2.3 0.4,1.3 0.4,0 0.4-1.1 0.4,0.1 0.4-1.3 0.4-0.5 0.4,0 0.4,1.1 0.4-1 0.4,0.7 0.4,1.3 0.4,1.2 0.4-1.8 0.4-0.8 0.5,1.5 0.4-1.3 0.4-0.4 0.4-0.3 0.4-0.7 0.4-0.2 0.4-2.6 0.4,1 0.4,0.5 0.4,0.2 0.4,3.3 0.4-0.4 0.4-1.7 0.4,0.6 0.4,0.2 0.4-2.2 0.4,1.4 0.4,1.2 0.4-0.6 0.4,2.1 0.4-2.1 0.4,2.8 0.4-1.8 0.4-0.6 0.4-1.4 0.4,1 0.4,0 0.4-0.7 0.4-0.6 0.4,1.7 0.4,0.6 0.4-2.1 0.4-1.6 0.4,0.7 0.4,0.4 0.4-1.2 0.4,3.1 0.4-0.9 0.4-0.2 0.4,0.9 0.4,0 0.4-0.3 0.4,1.4 0.4-1.6 0.4,0.6 0.4-0.3 0.4-0.3 0.4,0.6 0.4-3.4 0.4,1 0.4,1 0.4-2.9 0.4,1.1 0.4-0.1 0.4-3.1 0.4,1.2 0.4,2.7 0.4-1.1 0.4,0.3 0.4,2.4 0.4-2.2 0.4,0 0.5,0.5 0.4,0.6 0.4,1.6 0.4-0.3 0.4-0.4 0.4-1.9 0.4-1.5 0.4,1.2 0.4,0 0.4-0.2 0.4-1 0.4-3.5 0.4-0.9 0.4,0.9 0.4-0.1 0.4-2.6 0.4,1.8 0.4,0.8 0.4-0.8 0.4,0.3 0.4,0 0.4-1.4 0.4,1.1 0.4-0.5 0.4-1.3 0.4-0.3 0.4,2.1 0.4-3.9 0.4-0.1 0.4,0.2 0.4-1.6 0.4,3.1 0.4-2 0.4-3.9 0.4,4.1 0.4-0.1 0.4-1.1 0.4-0.6 0.4-0.5 0.4-1.5 0.4,0.5 0.4-1.3 0.4,2.1 0.4-0.2 0.4-1.9 0.4-2 0.4,0.3 0.4-2 0.4-0.3 0.4,1.4 0.4,1 0.4-1.3 0.4-1.5 0.4,3 0.4-1.7 0.4,3.7 0.4-2.7 0.4,1.3 0.4,0 0.4,0.8 0.4,0.2 0.4,0.2 0.5-1 0.4-1.5 0.4,0.7 0.4-1.6 0.4,0.5 0.4-1.2 0.4,2.6 0.4-0.3 0.4-0.3 0.4-0.3 0.4-3.3 0.4-0.7 0.4,2.1 0.4-0.3 0.4,1 0.4-1.7 0.4,2.1 0.4,0.8 0.4,0.4 0.4,0.2 0.4,0.1 0.4,2.6 0.4-2.6 0.4-0.2 0.4,3.7 0.4-1.9 0.4-0.9 0.4,0.7 0.4,1.4 0.4,0.3 0.4-0.3 0.4-0.9 0.4-2.1 0.4-1.6 0.4,2.5 0.4-1.7 0.4-0.8 0.4,1.2 0.4,0.1 0.4,1.1 0.4-0.9 0.4,2.2 0.4,1.4 0.4,0.4 0.4,1.4 0.4-1.5 0.4,0.5 0.4-1.4 0.4,0.2 0.4,1.3 0.4-1.6 0.4,0.4 0.4-0.5 0.4,0.4 0.4,0.7 0.4,0.2 0.4,1.1 0.4-1.4 0.4,1 0.4-1.8 0.4,0.5 0.4-0.4 0.5-1.9 0.4-0.5 0.4-0.8 0.4,0.5 0.4-1 0.4,0.3 0.4,0.1 0.4-1.3 0.4,1.9 0.4-0.4 0.4-1.8 0.4,0.2 0.4,0.5 0.4-1.7 0.4,0.2 0.4,0.3 0.4-1.1 0.4,1.3 0.4,1.9 0.4-1.9 0.4,1.6 0.4,3.1 0.4-0.9 0.4-0.6 0.4-0.7 0.4-1.2 0.4,2 0.4-0.7 0.4,0.4 0.4,1.2 0.4-0.3 0.4,0.4 0.4-2.9 0.4,1.7 0.4-1.8 0.4,0.1 0.4,0.4 0.4,0.6 0.4,0.4 0.4-0.6 0.4,0.8 0.4-0.2 0.4,0.4 0.4,0 0.4-1.6 0.4-0.6 0.4-0.4 0.4,0.5 0.4,0.4 0.4,1 0.4-0.5 0.4,1.1 0.4-0.7 0.4,1.3 0.4,0.7 0.4,2.8 0.4-2.6 0.4,0.5 0.4,1 0.4,2.2 0.4-3 0.4,2.1 0.5,0.3 0.4-0.5 0.4,2 0.4-0.5 0.4,2.5 0.4-3.5 0.4,2.1 0.4,0.3 0.4-0.7 0.4,2.8 0.4-0.4 0.4-0.7 0.4,1.4 0.4-1 0.4,0.6 0.4,0.4 0.4-0.2 0.4,0.2 0.4,1.5 0.4-0.4 0.4-1.1 0.4-0.5 0.4-2.3 0.4,1.4 0.4,3.1 0.4-4.6 0.4,2.2 0.4,0.5 0.4-1 0.4-1.1 0.4,1 0.4,0.9 0.4,3 0.4,0.5 0.4,0.4 0.4,1.6 0.4,0.4 0.4-0.8 0.4,2.4 0.4-0.1 0.4,0.4 0.4,2.2 0.4-0.4 0.4-1.3 0.4-1 0.4-0.3 0.4-0.5 0.4,4.5 0.4-2.6 0.4,1.7 0.4-2 0.4,0 0.4,0.4 0.4,1.2 0.4,2.1 0.4-1.8 0.4,0.1 0.4,0.8 0.4-0.5 0.4,0.6 0.4,0.5 0.4,0.5 0.4,1.2 0.5-0.2 0.4-2.3 0.4-0.2 0.4-0.6 0.4,2.1 0.4-0.8 0.4,1.3 0.4-1.7 0.4,1.6 0.4-1.3 0.4-0.1 0.4,0.8 0.4,0.6 0.4,0.3 0.4,1.7 0.4,2.1 0.4-0.2 0.4-1.4 0.4-1.1 0.4,0.6 0.4,0.2 0.4-0.1 0.4,2.3 0.4-1.9 0.4,0.7 0.4,0.5 0.4,1 0.4-0.3 0.4,0.6 0.4-2 0.4-0.4 0.4-0.3 0.4-0.6 0.4,2.2 0.4-0.1 0.4,0.1 0.4-2.1 0.4,2.5 0.4-1.1 0.4,1.7 0.4-0.8 0.4,0.4 0.4,1.8 0.4-0.2 0.4,1.1 0.4-0.1 0.4-0.6 0.4,1.1 0.4,0.8 0.4-0.3 0.4,1.5 0.4-0.1 0.4-0.3 0.4,1.3 0.4-4.2 0.4,2.5 0.4-0.7 0.4,1.7 0.4-3 0.4,0.7 0.4-1.2 0.4-0.4 0.5,0.5 0.4-0.9 0.4,0.9 0.4,0.3 0.4-1.8 0.4,0.4 0.4-0.5 0.4,0.4 0.4,0.7 0.4-1.1 0.4-1.3 0.4,1.1 0.4-2.5 0.4,2.2 0.4-0.8 0.4,1.5 0.4-0.4 0.4,3.7 0.4-0.3 0.4-0.2 0.4-1.1 0.4-0.7 0.4-1.8 0.4,1.1 0.4-1.8 0.4,1 0.4,1.1 0.4,1 0.4-1.4 0.4,0.3 0.4,0.5 0.4,1.6 0.4-1.7 0.4-0.6 0.4-1.2 0.4,0.5 0.4-0.1 0.4-0.2 0.4,0.7 0.4,0 0.4-0.7 0.4-1.4 0.4-1.2 0.4,1.7 0.4-1.9 0.4-0.1 0.4-0.6 0.4-1.8 0.4,0.2 0.4-1 0.4,3.1 0.4-0.1 0.4-0.9 0.4-2.2 0.4,3 0.4-0.9 0.4-0.9 0.4,2.5 0.4-1.2 0.4,5.2 0.4-2.4 0.4-1.2 0.5-1.7 0.4,1.8 0.4-1.2 0.4,0.3 0.4-3 0.4-0.8 0.4,2.8 0.4-1.3 0.4,0.2 0.4,0.1 0.4-2.9 0.4,1.2 0.4,0.8 0.4-0.3 0.4-0.1 0.4-0.5 0.4,2.1 0.4-2.2 0.4-1.9 0.4,0.2 0.4,3.9 0.4-1.6 0.4-1.1 0.4,0.8 0.4-0.6 0.4-2.5 0.4-1.2 0.4,0.9 0.4-3.6 0.4,0.7 0.4-0.5 0.4,0.6 0.4-1 0.4-0.6 0.4,2.6 0.4,0.3 0.4,0 0.4-0.3 0.4-2 0.4,1.1 0.4-0.3 0.4,1 0.4,1 0.4-1.8 0.4,1.4 0.4-1.6 0.4-1 0.4-1.9 0.4-0.7 0.4-2.1 0.4,1.8 0.4-1.4 0.4-0.6 0.4,1.1 0.4,2.8 0.4-1.4 0.4,0.2 0.4,3.5 0.4-1.3 0.4,1.7 0.4,1.8 0.4-0.2 0.5,3.3 0.4,0.4 0.4,0 0.4,0.8 0.4,1.4 0.4-1.6 0.4,1.1 0.4-0.1 0.4-0.6 0.4,2.2 0.4,1.1 0.4-0.2 0.4,2.8 0.4-0.2 0.4,0.6 0.4-2.1 0.4,0.5 0.4,1.7 0.4-1.3 0.4,0.7 0.4,0.5 0.4,1.2 0.4,1.3 0.4-1.2 0.4-0.8 0.4,2.9 0.4-0.6 0.4,2.1 0.4,1.4 0.4,0.1 0.4,2.4 0.4-2.1 0.4-0.5 0.4-0.2 0.4,4 0.4,0.4 0.4-0.8 0.4,0 0.4,1.9 0.4,1 0.4-0.6 0.4,0.5 0.4,0 0.4,0.2 0.4,0.1 0.4,2.3 0.4-0.2 0.4,0.9 0.4,1.5 0.4-1.1 0.4,1.8 0.4-0.3 0.4,0.6 0.4,1.9 0.4,1.3 0.4,0.7 0.4-2.3 0.4,0.8 0.4,0.4 0.4-0.7 0.4,0.9 0.4-0.6 0.5,1.7 0.4,1.4 0.4-0.4 0.4-0.5 0.4-0.8 0.4,0.6 0.4,0.4 0.4,1.5 0.4-0.3"/>
<path stroke="#d8aa3a" d="M54.4,148.1l0.4-1 0.4,3.2 0.4,0.9 0.4-1.5 0.4,0.7 0.4,4.1 0.4,3 0.4,0.7 0.4,1.9 0.4-0.8 0.4-0.7 0.4-1.1 0.4,1.9 0.4-1 0.4-0.4 0.4-1.4 0.4-1.1 0.4-0.5 0.4,0.5 0.4-2 0.4-1.6 0.4-0.4 0.4,0.1 0.4-3.3 0.4,1.3 0.4-0.7 0.4-1.5 0.4,0.4 0.4,0.6 0.4-1.7 0.4,0.7 0.5-1.9 0.4,1.2 0.4,2.4 0.4-2.3 0.4,1.6 0.4-1.2 0.4-2.2 0.4,2.9 0.4-3.1 0.4-1.2 0.4,1 0.4-0.4 0.4-0.1 0.4,1.1 0.4-2.5 0.4,0 0.4-1.9 0.4-0.9 0.4-0.7 0.4,1.3 0.4-1.3 0.4-1.3 0.4-2.7 0.4-4.6 0.4,1.7 0.4-2.7 0.4,2.3 0.4,0.3 0.4-0.9 0.4-1.9 0.4,0 0.4-0.9 0.4-1.2 0.4-0.8 0.4-2.4 0.4-3 0.4,0.5 0.4-2.9 0.4,0.9 0.4-0.5 0.4,1 0.4-1.6 0.4-1.1 0.4,0.3 0.4,0.2 0.4,1.1 0.4,0.6 0.4-2.4 0.4-0.3 0.4-0.2 0.4,0 0.4-0.1 0.4-0.4 0.4,4.8 0.4-0.2 0.4,5.4 0.4-0.4 0.4,1 0.4-1.3 0.4,3 0.4-1.6 0.4,0.7 0.5,1.9 0.4,0.6 0.4,0 0.4-1.2 0.4,0.7 0.4,1.4 0.4-0.1 0.4,1.5 0.4-1 0.4,0.7 0.4-0.6 0.4,1.4 0.4,0.8 0.4,0.9 0.4-0.1 0.4,1.9 0.4-0.4 0.4,0.5 0.4,3.2 0.4-0.8 0.4,2.1 0.4-1 0.4-2.7 0.4,0.2 0.4-1.3 0.4-2.6 0.4,0.1 0.4-1.4 0.4,0 0.4-4.1 0.4-0.1 0.4-3.1 0.4-2.4 0.4,1.9 0.4-2.7 0.4,0.2 0.4,0.7 0.4-0.6 0.4,0.2 0.4,1.5 0.4,0.8 0.4,1.1 0.4-1.8 0.4-0.4 0.4,2.6 0.4-1 0.4,2.5 0.4,2.6 0.4,0.9 0.4,2.1 0.4,1.8 0.4,0.2 0.4,1.9 0.4-1.9 0.4,2.1 0.4,2.7 0.4-2 0.4,1.9 0.4-0.4 0.4,0.3 0.4-1.3 0.4-2 0.5-0.1 0.4-2.2 0.4,1.6 0.4-1.3 0.4,1.3 0.4-1.8 0.4-0.4 0.4-1.2 0.4-1.6 0.4,0.5 0.4-0.8 0.4-2.4 0.4,1.7 0.4,0 0.4-0.2 0.4-1.5 0.4-0.3 0.4-0.2 0.4,1.3 0.4-2.1 0.4-1.5 0.4,1.2 0.4-1.2 0.4-0.1 0.4-1 0.4,0.5 0.4-1.5 0.4,1.3 0.4-0.2 0.4-2 0.4,1.3 0.4-3.3 0.4-2.1 0.4,0 0.4-2.4 0.4-2.5 0.4-1.7 0.4-1.7 0.4,0.7 0.4-0.2 0.4-0.6 0.4-1.2 0.4,1 0.4,0 0.4-0.7 0.4,0 0.4,0.9 0.4,0.5 0.4,2.6 0.4,1 0.4-0.3 0.4,4.6 0.4,1.9 0.4,3 0.4-0.6 0.4,0 0.4,3.2 0.4,3.8 0.4-0.4 0.4-0.6 0.4,0.4 0.4-1.4 0.5-2.2 0.4-0.4 0.4-2.5 0.4,0 0.4-1.1 0.4-1.3 0.4-1.2 0.4-0.2 0.4-2 0.4-0.4 0.4-2.5 0.4,1.6 0.4-2.7 0.4-0.1 0.4-2.3 0.4,0.6 0.4,0.9 0.4,3.4 0.4,0.5 0.4-0.4 0.4,0.3 0.4,1 0.4,1.4 0.4,0.5 0.4-0.8 0.4,1 0.4,0.7 0.4,0.1 0.4-2.1 0.4,1.5 0.4-0.7 0.4,0 0.4-0.5 0.4-0.1 0.4-1.7 0.4-1.6 0.4-1 0.4-0.6 0.4-0.4 0.4,2 0.4,0.1 0.4,3 0.4-0.7 0.4,1.8 0.4,1.1 0.4,1.4 0.4,0.7 0.4-0.3 0.4,4.2 0.4,0.8 0.4-0.8 0.4-0.5 0.4,1.6 0.4-2.2 0.4,2 0.4-0.5 0.4-0.2 0.4-0.8 0.4,0 0.4,0.2 0.4-1.3 0.4-2.8 0.5,1.9 0.4-2.2 0.4,0.2 0.4-1.6 0.4,0.2 0.4,0 0.4-0.9 0.4-0.8 0.4,1.3 0.4-0.6 0.4-1 0.4-1.5 0.4,0.9 0.4-1.6 0.4-0.5 0.4-1.2 0.4-0.2 0.4,0.4 0.4-3.6 0.4,1.6 0.4-1.4 0.4-0.8 0.4-1.2 0.4-0.6 0.4,3.7 0.4-0.5 0.4-1 0.4-2.5 0.4-0.7 0.4,1.4 0.4-0.1 0.4,1.7 0.4-0.3 0.4-0.6 0.4-0.6 0.4,0.3 0.4,1.6 0.4-2.5 0.4,1.1 0.4,1.8 0.4,1.9 0.4-2.7 0.4,0.4 0.4,2.4 0.4,2.7 0.4,1.2 0.4-1.7 0.4,2.1 0.4-2.1 0.4,2.4 0.4-1.8 0.4,3.7 0.4-2.9 0.4,0.9 0.4,0.6 0.4-0.8 0.4,0.3 0.4,1.2 0.4-0.4 0.4,1.2 0.4-1 0.4,0.9 0.5,2.2 0.4-0.7 0.4-1.4 0.4,1.5 0.4,0.4 0.4,1.1 0.4-0.5 0.4,0.2 0.4,1.5 0.4,0.7 0.4,0 0.4,0.8 0.4,1.9 0.4-1.4 0.4,0.8 0.4,1 0.4-0.9 0.4-2 0.4,2.8 0.4-3.4 0.4,1.9 0.4-1.7 0.4,0.6 0.4-1.1 0.4-0.1 0.4-0.1 0.4,2.2 0.4-0.3 0.4-0.4 0.4-0.1 0.4,1.1 0.4-1.2 0.4-0.2 0.4-1.2 0.4,3.8 0.4-0.6 0.4-0.9 0.4-0.6 0.4-0.5 0.4,0.7 0.4-1.7 0.4,4.1 0.4,0.2 0.4-1 0.4,0.7 0.4,2.5 0.4-0.1 0.4-0.3 0.4,1.7 0.4,2.5 0.4,0.7 0.4,0.6 0.4,0.9 0.4-0.3 0.4-1.3 0.4,1.9 0.4,3 0.4-1.5 0.4,0.5 0.4,1.5 0.4,1.5 0.4-0.6 0.4,2.8 0.5-0.4 0.4-0.5 0.4-0.2 0.4-0.3 0.4,2.1 0.4,1 0.4,0.9 0.4,1.1 0.4-0.9 0.4-0.5 0.4,1.6 0.4,1.6 0.4-0.6 0.4-0.6 0.4,0.4 0.4,0.6 0.4,0.6 0.4-1.2 0.4,1.3 0.4,0.2 0.4,0.5 0.4-1.2 0.4,0.4 0.4-2 0.4-1.4 0.4,1.2 0.4-0.8 0.4-0.8 0.4,1.6 0.4,1.1 0.4-0.2 0.4,0.8 0.4,0.8 0.4-0.6 0.4,1.1 0.4-2.8 0.4,1.3 0.4-0.2 0.4-0.1 0.4-1.1 0.4-1.1 0.4,2.2 0.4-0.2 0.4-0.7 0.4,0.8 0.4-1 0.4,1.6 0.4,1.5 0.4,0.1 0.4,3.7 0.4-1.4 0.4,2.5 0.4,1.7 0.4-0.9 0.4,1.9 0.4-0.7 0.4,0.5 0.4-2.3 0.4,2.7 0.4,1.6 0.4,0.3 0.4-1.8 0.5,2.7 0.4,2.2 0.4-0.3 0.4,1.1 0.4-1.2 0.4-1.1 0.4,1.3 0.4,1.7 0.4,0.4 0.4,3 0.4-2.2 0.4,1.7 0.4,0.4 0.4,3 0.4,0 0.4,1.1 0.4-0.1 0.4-1.3 0.4,0.9 0.4-1 0.4-1 0.4,1.9 0.4-0.5 0.4-1.7 0.4,1.4 0.4,1.7 0.4,0.8 0.4-0.8 0.4,2.1 0.4-1.7 0.4-0.1 0.4-0.1 0.4,1.8 0.4-2.2 0.4,0.3 0.4-0.2 0.4,0.2 0.4,2.7 0.4-0.5 0.4-0.9 0.4-0.1 0.4-0.9 0.4,2.5 0.4-3.9 0.4,1.8 0.4,0.3 0.4,0.7 0.4,1.3 0.4-1.1 0.4-0.2 0.4-1 0.4,0.9 0.4-0.2 0.4-1.1 0.4,2.5 0.4,1.6 0.4,1.8 0.4,2.1 0.4,3.7 0.4,0.9 0.4,2.2 0.4-0.5 0.5,0.6 0.4-3 0.4-1.7 0.4-0.7 0.4-2.9 0.4-0.3 0.4-1.4 0.4,0.8 0.4-2.1 0.4-0.7 0.4,0 0.4,0.5 0.4-2.2 0.4,1 0.4-1.4 0.4-1.5 0.4-1.7 0.4,1.2 0.4-2.1 0.4-0.8 0.4-0.2 0.4,0 0.4-1.9 0.4,1.7 0.4-3.1 0.4-0.8 0.4-1.4 0.4-3.6 0.4-2.1 0.4-1.6 0.4-4.9 0.4,0.6 0.4-2.4 0.4-0.7 0.4-2.2 0.4-0.1 0.4-3.2 0.4-2.6 0.4,1.2 0.4-1.5 0.4-2 0.4-1 0.4,1.1 0.4-2 0.4-2.4 0.4,2.4 0.4-3 0.4,0.7 0.4-1.3 0.4-1.9 0.4-0.6 0.4-0.9 0.4-1.7 0.4,0.3 0.4,0.7 0.4-0.4 0.4-1 0.4-0.9 0.4,0.7 0.4,1.5 0.4-1 0.4,1 0.5,1 0.4-1.9 0.4,1.3 0.4,0.7 0.4-2.3 0.4,0.2 0.4,2.1 0.4-0.7 0.4,0.3 0.4-1 0.4,1.3 0.4-1.3 0.4-0.6 0.4,1.4 0.4,2.6 0.4-2 0.4,0.1 0.4,0.7 0.4,0.1 0.4-0.9 0.4-0.8 0.4,0.2 0.4,1.7 0.4,1.1 0.4-2.1 0.4,3.4 0.4-2.2 0.4,2.3 0.4,1.8 0.4,0.3 0.4,1.6 0.4,0.2 0.4,0.7 0.4,1.4 0.4,0.4 0.4-1 0.4,0.5 0.4,1.1 0.4,0.6 0.4,0.1 0.4,1.8 0.4,0.4 0.4-0.4 0.4,1.9 0.4,0.7 0.4,2.5 0.4-1.9 0.4,1.8 0.4,2.4 0.4-0.1 0.4,1.7 0.4,0.2 0.4,1 0.4,1.8 0.4,2.4 0.4,0.4 0.4-0.2 0.4,0.8 0.4,1.9 0.4,2.1 0.4-0.3 0.4-0.2 0.5,0.3 0.4,2.1 0.4,1 0.4,2.2 0.4-0.1 0.4,3.5 0.4,3.2 0.4,1.4 0.4,0.9"/>
<path stroke="#3cc8cc" d="M54.4,147.7l0.4-0.4 0.4,2.4 0.4-0.4 0.4,1.8 0.4,0.9 0.4,0 0.4-0.6 0.4,0.3 0.4,2.6 0.4-1.4 0.4,1.4 0.4-0.9 0.4-0.3 0.4,0.5 0.4-1.4 0.4-1 0.4-0.4 0.4-1.9 0.4-3.6 0.4-1.8 0.4-0.1 0.4-3.2 0.4-1.3 0.4-1.9 0.4,0.5 0.4,0.4 0.4,0.8 0.4-2 0.4-1.4 0.4,0.3 0.4-1.7 0.5,0.2 0.4-1.7 0.4-1.6 0.4-1.3 0.4-1.2 0.4-0.4 0.4,0.2 0.4-2.1 0.4-0.4 0.4-2 0.4,1.6 0.4,0 0.4,0.8 0.4-2.4 0.4-0.7 0.4,1 0.4-2.9 0.4,0.7 0.4,0.8 0.4-2.6 0.4-0.3 0.4,0.6 0.4-1.3 0.4,1.8 0.4-1.3 0.4,0.4 0.4,1 0.4,0.8 0.4-0.3 0.4-1.9 0.4-0.5 0.4-0.1 0.4-2.7 0.4-0.9 0.4-0.3 0.4-0.9 0.4,1.1 0.4-0.4 0.4-2 0.4,1.6 0.4-0.9 0.4,2.2 0.4-0.1 0.4-1.5 0.4,2.2 0.4,0.8 0.4-0.9 0.4,0.4 0.4,2.7 0.4-2.3 0.4,1.7 0.4-1 0.4-1.2 0.4,0.6 0.4,3 0.4-1 0.4,2.1 0.4-1.7 0.4-0.7 0.4-0.2 0.4-0.7 0.4,1.5 0.5,2 0.4,1.1 0.4,0.5 0.4,1.8 0.4-1.5 0.4,1.7 0.4,1.6 0.4-1.3 0.4,1.4 0.4-1.1 0.4-0.6 0.4,3 0.4-1.8 0.4-1.4 0.4,0.1 0.4,3.5 0.4-0.7 0.4,2.6 0.4-0.1 0.4,0.4 0.4-1 0.4-0.7 0.4,1.2 0.4-2.7 0.4,1.5 0.4-0.3 0.4,1.7 0.4,0.4 0.4-1 0.4-0.4 0.4,1.4 0.4,1.9 0.4-0.5 0.4,0.6 0.4,1.3 0.4,0 0.4,2.8 0.4,0.3 0.4,0.7 0.4,3.9 0.4-1.2 0.4,0.9 0.4,2.2 0.4-0.7 0.4,1.8 0.4,2.5 0.4-2.1 0.4,2.6 0.4,1.6 0.4,1 0.4,0.6 0.4,3 0.4-0.2 0.4,2.1 0.4,0.1 0.4,0.5 0.4-0.5 0.4,2 0.4-0.1 0.4,3.2 0.4,0.4 0.4,0.9 0.5-0.6 0.4,2 0.4,1.2 0.4,2.8 0.4,0.1 0.4,0.7 0.4-3 0.4,1.7 0.4,1.1 0.4,0.9 0.4-1.3 0.4-1.5 0.4-1.9 0.4,1.3 0.4-3.2 0.4-1.7 0.4,0.3 0.4-2 0.4-0.8 0.4-1 0.4-2.8 0.4-0.8 0.4-1.2 0.4-2.2 0.4-0.1 0.4-2.2 0.4-0.6 0.4,0.5 0.4,0.8 0.4-1.6 0.4-1.8 0.4-2 0.4-2.4 0.4,1.7 0.4-3 0.4-1.4 0.4,0 0.4-2.1 0.4-1.4 0.4,1.5 0.4-1.1 0.4-0.4 0.4-2.9 0.4-0.3 0.4-0.9 0.4-0.7 0.4-2.8 0.4-2.1 0.4-3.1 0.4,0.5 0.4,2.7 0.4,0.4 0.4,0.6 0.4-1.4 0.4-1.2 0.4,1.4 0.4-0.3 0.4-2.2 0.4,0.8 0.4-1.6 0.4-0.5 0.4,1.1 0.5-1.1 0.4-1 0.4,0.6 0.4-2.6 0.4-1.5 0.4-0.1 0.4-2.2 0.4-0.7 0.4-0.5 0.4,2.3 0.4-1.4 0.4,0.7 0.4-0.2 0.4,0.1 0.4,0.2 0.4-3.4 0.4-0.4 0.4-1 0.4-1.8 0.4-0.5 0.4,0 0.4-1.6 0.4-0.5 0.4-0.8 0.4,0.1 0.4,0.8 0.4,2.6 0.4-2.6 0.4,3 0.4-1.6 0.4-1.6 0.4,0.1 0.4,0.5 0.4,1.2 0.4-3.1 0.4,1.8 0.4,0 0.4-0.2 0.4-0.2 0.4,0.8 0.4,0.2 0.4-3.4 0.4,4.7 0.4-1.2 0.4-1.8 0.4,3.2 0.4-1.6 0.4-0.5 0.4,1 0.4,1.2 0.4,2.2 0.4,1.9 0.4,1.5 0.4,0.5 0.4,0.8 0.4-0.3 0.4-0.3 0.4,1 0.4-0.2 0.4,1.2 0.4,3 0.4,0.4 0.5-0.3 0.4,0.2 0.4,0.8 0.4,3.1 0.4,2.7 0.4,0 0.4-1.8 0.4,1.5 0.4,1.2 0.4,1 0.4-0.6 0.4-1.9 0.4,1.6 0.4,0.2 0.4-0.6 0.4,2.3 0.4,1.2 0.4,2.7 0.4,0.5 0.4,2.3 0.4,1.5 0.4-0.6 0.4,0.5 0.4,0.3 0.4,0 0.4,1.2 0.4-0.3 0.4,1.4 0.4-0.7 0.4-0.5 0.4,1.2 0.4-0.6 0.4-0.4 0.4,4.4 0.4-0.3 0.4,0.3 0.4,2.5 0.4-1.7 0.4,0.1 0.4-1.9 0.4-0.7 0.4,3 0.4,2.8 0.4,2.2 0.4,1.6 0.4,1.5 0.4-0.2 0.4,1 0.4-1.8 0.4,0.2 0.4,0.2 0.4-0.4 0.4,0 0.4,0.8 0.4,0 0.4-0.4 0.4-2.4 0.4,0.2 0.4-2.8 0.4,0.5 0.4,2.2 0.4,0.7 0.5-2.1 0.4,0.7 0.4-1.7 0.4-0.9 0.4-0.5 0.4,0.6 0.4-0.2 0.4-1 0.4-0.9 0.4,1.7 0.4-3 0.4,1.9 0.4-0.8 0.4-0.6 0.4,1.9 0.4-0.5 0.4-1.5 0.4,1.8 0.4-0.4 0.4-0.7 0.4,0 0.4-2 0.4-0.8 0.4,1.7 0.4-1.4 0.4,2.7 0.4-0.3 0.4-1.8 0.4,0.3 0.4-0.3 0.4,1.2 0.4-0.5 0.4-1.5 0.4,0.7 0.4-1.6 0.4,1.8 0.4-0.8 0.4-0.9 0.4-1.4 0.4-0.2 0.4,2.1 0.4-1.1 0.4,2.3 0.4-1 0.4,0 0.4,0.7 0.4-1.3 0.4,1.6 0.4,0.4 0.4,0.8 0.4,0.2 0.4,1.2 0.4-0.9 0.4-0.9 0.4,0.1 0.4-0.1 0.4,0.2 0.4-2.9 0.4,1.2 0.4-0.4 0.4-1.4 0.4,1.7 0.4-1.2 0.5,1.4 0.4-1.5 0.4-0.5 0.4-0.1 0.4,0.3 0.4-2 0.4,1.1 0.4-0.3 0.4,0.8 0.4-1.5 0.4,2.5 0.4-2.4 0.4,2.7 0.4-2 0.4-1.5 0.4,2.6 0.4-1.3 0.4,0 0.4-1.5 0.4-1.7 0.4-2 0.4-1 0.4-0.7 0.4,2.3 0.4-1.6 0.4-1.6 0.4-2 0.4,1.5 0.4,1.5 0.4,0.7 0.4,3.2 0.4,2.5 0.4,0.1 0.4,0.2 0.4-0.5 0.4,1.2 0.4,0.8 0.4,2.2 0.4,0 0.4,1.4 0.4,1.3 0.4,2.1 0.4,0.7 0.4-0.7 0.4,0.9 0.4,0.7 0.4-1 0.4-0.4 0.4,1.6 0.4-0.6 0.4,1.6 0.4,1.7 0.4,0.9 0.4-0.2 0.4-0.4 0.4-0.4 0.4,1 0.4,0 0.4,2 0.4-2.2 0.4,3.1 0.4,0.6 0.5-1.5 0.4-0.1 0.4,0.1 0.4-0.3 0.4-1.4 0.4-0.5 0.4,0.8 0.4-0.4 0.4,0 0.4-2.6 0.4,3.4 0.4-1.3 0.4-1 0.4,0 0.4,0.8 0.4-1.7 0.4-0.6 0.4-0.7 0.4,1.3 0.4,0.2 0.4,0 0.4-1.8 0.4,0.4 0.4-0.3 0.4-0.3 0.4-0.2 0.4-0.3 0.4,1.3 0.4-0.1 0.4-2.9 0.4,3 0.4-1 0.4-1.5 0.4-0.8 0.4,0.8 0.4-2.3 0.4-1.3 0.4,1.5 0.4,0.5 0.4-1.8 0.4-0.6 0.4,0.7 0.4,0 0.4,0.4 0.4-1.5 0.4,1.8 0.4,1.4 0.4-0.2 0.4-0.6 0.4,2.6 0.4-0.8 0.4,1.4 0.4,2.4 0.4-1.8 0.4,3 0.4,1.3 0.4,0.6 0.4,0.1 0.4,0.4 0.4-2.4 0.4-1.3 0.4-2.4 0.5-2.3 0.4-3.5 0.4-3.9 0.4-1.2 0.4,0.6 0.4-3.8 0.4-0.7 0.4,1.1 0.4-0.2 0.4-0.5 0.4,0.1 0.4,1.2 0.4,1.2 0.4-1.2 0.4,1.8 0.4,0 0.4,1.8 0.4-4 0.4,1.9 0.4-0.7 0.4,1.3 0.4,0.1 0.4-0.6 0.4,1.4 0.4,0.1 0.4,0.8 0.4,0.7 0.4,0.4 0.4-0.8 0.4-0.3 0.4,0.8 0.4,1 0.4,0.3 0.4,0.8 0.4-1.3 0.4,1.2 0.4-2.3 0.4,2.1 0.4-2.3 0.4,1.7 0.4-2.9 0.4,0.1 0.4,0.1 0.4-1.8 0.4,2.6 0.4-2.1 0.4,0.1 0.4,1.1 0.4,1 0.4-2.2 0.4,0.5 0.4,0 0.4-2 0.4-0.1 0.4,3.4 0.4,1.2 0.4-3.6 0.4,0.8 0.4,3.4 0.4-1.4 0.4,0.1 0.4,2.2 0.5-0.6 0.4,0.7 0.4-1 0.4,2.1 0.4-1.4 0.4,1.3 0.4-3 0.4,3.6 0.4,0 0.4-1.4 0.4,0.3 0.4,3.8 0.4,1.8 0.4-1.2 0.4,1.2 0.4-0.3 0.4,0.9 0.4,3.2 0.4-1.3 0.4,1.5 0.4-0.2 0.4-3.6 0.4-2 0.4-1.2 0.4,0.2 0.4-2.3 0.4-2.8 0.4-2.6 0.4-1 0.4,2.6 0.4,1.4 0.4-0.2 0.4,3.2 0.4-0.1 0.4,3.1 0.4-1.5 0.4,1.5 0.4,0.5 0.4,1.3 0.4,1.2 0.4-0.3 0.4,2 0.4-0.3 0.4,1.4 0.4-1.4 0.4,3.6 0.4,0.6 0.4,1.7 0.4,0.5 0.4,0.7 0.4-0.7 0.4,0.8 0.4-3.7 0.4,0.6 0.4-2.4 0.4-1.5 0.4-3.9 0.4-0.3 0.4,0.5 0.4-3.4 0.4-2.3 0.4-0.6 0.5-2.7 0.4,1.6 0.4-2.1 0.4-1.5 0.4,0.4 0.4-1.2 0.4,0.3 0.4-0.2 0.4-1.3"/>
<path stroke="#8a5c5c" d="M54.4,136.2l0.4,0.5 0.4-1 0.4,0.9 0.4-1.4 0.4,1.3 0.4,0.2 0.4-0.3 0.4-0.2 0.4,0.2 0.4-1.1 0.4-0.9 0.4-0.8 0.4-0.4 0.4,1.4 0.4,1.1 0.4-0.6 0.4,1.5 0.4-0.7 0.4-2.5 0.4,1.8 0.4,1.5 0.4,1.5 0.4-0.3 0.4-0.4 0.4,1 0.4-0.2 0.4,1.2 0.4,0.6 0.4-2 0.4,0 0.4,0.8 0.5-0.2 0.4-1.6 0.4,0.4 0.4-2.1 0.4-0.5 0.4-0.3 0.4-1.9 0.4-0.5 0.4-0.7 0.4-1.2 0.4,1.7 0.4-1.6 0.4-1.4 0.4-1 0.4-2.6 0.4-1.5 0.4-0.3 0.4-4.5 0.4,0.8 0.4,1.1 0.4-1 0.4-0.6 0.4-2.8 0.4,2.5 0.4-1.6 0.4-1.6 0.4-2.8 0.4,0.4 0.4,2.1 0.4-2.8 0.4-1.1 0.4,0.2 0.4,0.8 0.4,0.5 0.4,2.7 0.4-0.2 0.4,1.8 0.4,0 0.4,1.2 0.4,0.5 0.4,1.6 0.4-0.1 0.4-0.7 0.4,0.4 0.4-0.6 0.4,0.5 0.4,2.4 0.4,0 0.4-0.3 0.4,1.9 0.4,0.7 0.4-1.4 0.4,2.2 0.4-0.5 0.4-1.3 0.4-0.8 0.4,3 0.4,1.8 0.4,0.8 0.4,2.7 0.4,0.8 0.4-2.7 0.5-0.9 0.4,2.9 0.4,0.4 0.4,0.2 0.4-1.1 0.4,0.7 0.4-1.8 0.4-0.1 0.4,1.9 0.4,0.9 0.4,0 0.4-0.6 0.4-0.8 0.4,1.5 0.4,1.6 0.4-1.9 0.4,1 0.4-3.1 0.4,1.6 0.4-4.3 0.4-0.2 0.4-0.7 0.4,0.6 0.4-3.3 0.4-1 0.4-1.7 0.4-0.7 0.4,0.7 0.4-1 0.4-2.4 0.4,0.7 0.4-0.8 0.4,1.5 0.4-0.8 0.4-1.7 0.4,2.2 0.4,2.7 0.4,0.5 0.4,3.7 0.4,0 0.4,2.1 0.4,0.6 0.4,3.8 0.4,0.2 0.4,0.3 0.4,0 0.4,2.4 0.4-2.4 0.4,1.7 0.4-0.4 0.4,1 0.4,1.5 0.4,1 0.4,1.9 0.4,1.3 0.4-1.7 0.4,1.1 0.4,0.8 0.4-1.8 0.4,0.2 0.4,2.1 0.4-0.7 0.5-0.4 0.4-0.4 0.4,0.6 0.4,1.8 0.4-0.3 0.4-0.1 0.4,1.5 0.4,1.7 0.4-2.7 0.4-0.1 0.4-2 0.4-2.3 0.4,1.1 0.4,2.6 0.4-0.7 0.4,1.6 0.4-0.3 0.4-2.8 0.4,1 0.4-1.5 0.4,0 0.4-1.1 0.4,0.5 0.4,1.2 0.4,3.5 0.4-2.9 0.4,0.1 0.4-0.5 0.4-0.9 0.4,0.5 0.4-0.6 0.4-1.3 0.4-0.9 0.4,0 0.4-2.1 0.4-1.5 0.4-0.3 0.4,1.6 0.4,0.3 0.4,1.2 0.4-1.1 0.4-1.1 0.4-1.5 0.4-2.9 0.4,0.6 0.4-0.1 0.4-4.9 0.4-0.9 0.4-0.3 0.4-1.6 0.4,1.3 0.4,1 0.4,3.6 0.4,3 0.4,2 0.4,3.9 0.4,2.7 0.4,3.7 0.4,2.7 0.4,1.1 0.4,1.9 0.4,3 0.5,2 0.4-0.5 0.4,0 0.4,0.8 0.4-1.1 0.4-1 0.4,1.4 0.4-2.6 0.4-2.4 0.4,2.3 0.4-1.6 0.4,0.1 0.4,0.3 0.4-0.5 0.4,1.6 0.4,0.3 0.4,0.6 0.4-2.3 0.4,0.4 0.4-2.9 0.4-1 0.4-2.2 0.4-1.4 0.4-1.2 0.4,0.7 0.4-3.7 0.4-1.8 0.4-0.6 0.4,0.6 0.4-2.3 0.4-0.6 0.4-0.5 0.4-3.3 0.4,1.1 0.4,0.4 0.4-1.7 0.4-3.7 0.4-1.1 0.4-1.2 0.4,1.2 0.4-4 0.4-1 0.4-0.4 0.4,0.8 0.4-0.2 0.4-1.3 0.4,2.1 0.4-1 0.4,0.5 0.4-2.7 0.4-1.4 0.4,1.5 0.4-3.4 0.4-0.2 0.4-1.1 0.4,2.8 0.4-3.6 0.4-0.9 0.4-1.3 0.4,2.8 0.4-2.4 0.4,0.6 0.5-0.6 0.4-0.9 0.4-1.6 0.4-2.2 0.4-1 0.4,0.7 0.4,2.4 0.4-1.1 0.4-1.7 0.4-0.5 0.4-1.2 0.4-2.2 0.4-0.8 0.4-0.3 0.4-2.6 0.4,4 0.4-3.6 0.4-2.3 0.4,0.3 0.4-0.7 0.4-0.4 0.4-0.5 0.4,1 0.4,0.7 0.4-2 0.4,1.2 0.4-1.2 0.4-2.7 0.4,0.9 0.4-1.8 0.4-0.3 0.4-0.6 0.4,2.8 0.4-1.1 0.4,0.1 0.4-1.7 0.4-2.7 0.4-3.2 0.4-0.1 0.4-2.9 0.4-0.1 0.4-1.7 0.4-0.5 0.4,2 0.4-0.9 0.4-0.2 0.4-0.6 0.4,0.9 0.4,2.4 0.4-1.4 0.4-0.3 0.4,1.1 0.4,1.4 0.4-1.8 0.4,1.4 0.4,1.8 0.4,2.2 0.4,0.7 0.4,0.8 0.4,1.1 0.4,1.1 0.4-2.3 0.5,2.8 0.4,2.4 0.4-1 0.4,1.5 0.4,1.7 0.4,2.7 0.4-0.7 0.4-1 0.4,3.3 0.4-0.5 0.4-0.5 0.4,0.8 0.4-1.2 0.4,2.7 0.4,1.4 0.4,0 0.4,1.5 0.4,1.4 0.4-0.3 0.4,0 0.4,0.9 0.4,0.4 0.4,2.4 0.4,0.9 0.4-1.3 0.4-0.9 0.4,1 0.4,0.9 0.4,2.7 0.4,0.2 0.4,0.3 0.4,0.1 0.4,2.4 0.4,0.1 0.4-0.1 0.4,1.9 0.4-0.6 0.4,0.2 0.4,1.3 0.4,0.9 0.4,2.7 0.4,0.2 0.4,1 0.4,1.1 0.4-0.2 0.4,1.5 0.4,0.4 0.4,1.8 0.4,2.1 0.4,0.6 0.4,2 0.4,0.4 0.4,4.3 0.4,2.3 0.4,1.3 0.4,0.3 0.4-0.2 0.4,0.7 0.4,1 0.4,1.1 0.4-2 0.4,3.6 0.4,2.2 0.5,1.5 0.4,0.5 0.4,2.4 0.4,0.5 0.4,0.2 0.4,2.1 0.4,0.5 0.4,0.9 0.4,2.8 0.4-0.6 0.4-3.1 0.4,1.5 0.4,0.3 0.4,1.6 0.4-0.2 0.4-1 0.4,1.4 0.4-2.4 0.4,0.9 0.4,1 0.4,0.5 0.4-0.1 0.4-1 0.4-2.2 0.4,1.4 0.4,2.7 0.4,0.8 0.4-1.9 0.4,1.1 0.4-1.2 0.4,1 0.4,1 0.4,2.1 0.4-3.1 0.4,1.1 0.4,2.1 0.4,0.2 0.4,0.6 0.4-0.2 0.4,0.5 0.4-0.3 0.4,1 0.4-1.2 0.4,0.1 0.4,2.8 0.4-0.7 0.4-1.7 0.4,1.9 0.4,0.1 0.4,0.6 0.4,0.7 0.4-1.1 0.4,0.3 0.4,1.3 0.4,0.6 0.4-0.1 0.4,3.5 0.4,1.5 0.4-0.7 0.4-1.1 0.4-0.9 0.4-1.5 0.5,1.5 0.4-1.2 0.4,2.7 0.4-0.5 0.4,1 0.4,1.8 0.4-0.6 0.4-0.6 0.4-0.2 0.4-0.1 0.4,0.8 0.4,1.4 0.4,0 0.4-0.3 0.4-1.6 0.4,1 0.4,1.1 0.4,0 0.4-0.9 0.4-0.3 0.4-0.5 0.4,0.5 0.4,0.8 0.4-0.2 0.4,1.9 0.4,1.6 0.4,0.9 0.4-1.6 0.4,0.6 0.4,3.5 0.4,0.4 0.4-3.8 0.4,2 0.4-0.5 0.4,2 0.4,2.1 0.4-1.8 0.4,1.2 0.4,0 0.4,1.6 0.4-0.1 0.4-2.9 0.4,0.9 0.4-2.8 0.4,0.6 0.4,0.1 0.4-0.5 0.4-2.7 0.4,2.6 0.4-0.7 0.4-0.7 0.4,0.4 0.4,2.6 0.4-0.2 0.4-0.2 0.4,1 0.4,1 0.4,1 0.4-0.9 0.4,3.1 0.4,0.4 0.4-0.8 0.5,3.3 0.4-2.1 0.4-1.9 0.4-0.4 0.4-1 0.4-2.2 0.4-1.8 0.4-2.2 0.4-2.6 0.4-1.3 0.4-2.4 0.4,1.5 0.4-1.6 0.4-1.8 0.4,0.4 0.4-3.1 0.4,0.3 0.4-2.7 0.4-2.7 0.4,2.1 0.4-2.6 0.4-1.1 0.4-1.2 0.4-1.9 0.4-0.3 0.4-3.5 0.4-2.1 0.4-1.8 0.4-1.9 0.4-2.8 0.4-1.9 0.4-0.1 0.4-3.7 0.4,1.1 0.4-0.9 0.4,0.1 0.4-3.8 0.4-1.3 0.4-3.4 0.4-2 0.4,1.1 0.4-2.6 0.4,0 0.4-3.3 0.4-0.3 0.4-2 0.4,0.3 0.4,1.4 0.4,0.6 0.4-1.2 0.4-2.2 0.4,0.3 0.4-0.8 0.4-1.2 0.4-0.2 0.4-5.7 0.4-1.7 0.4-3 0.4-1.9 0.4-2.6 0.4,1.6 0.4-3.6 0.5-1.7 0.4,0.5 0.4-1.8 0.4,0 0.4-0.7 0.4,0.9 0.4-3 0.4-1.9 0.4-3 0.4,0.7 0.4-1.9 0.4,3.4 0.4-0.5 0.4,0.3 0.4,0.8 0.4-1.2 0.4,0.5 0.4,0.2 0.4,1.5 0.4,0 0.4,0.1 0.4,0.3 0.4,0.6 0.4,0.3 0.4,1.8 0.4-0.8 0.4-1.6 0.4,0 0.4,2.2 0.4-0.7 0.4,1.4 0.4-0.2 0.4,3.1 0.4-0.1 0.4,0.7 0.4,0.3 0.4,3.1 0.4,4.3 0.4,0.8 0.4,0.6 0.4,0.5 0.4,0.8 0.4,0.4 0.4,2.3 0.4,1.9 0.4,0.1 0.4,2.6 0.4,1.3 0.4-0.8 0.4,0.6 0.4-1.4 0.4-2.8 0.4-1.6 0.4-4.1 0.4-2.2 0.4-0.2 0.4,1.1 0.4-1.9 0.4-0.6 0.4-0.1 0.4-0.3 0.4-0.4 0.5,1.6 0.4-0.7 0.4-0.8 0.4,1.9 0.4-1.9 0.4,1.2 0.4,0.9 0.4,0 0.4-0.8"/></g>
<line x1="53.65" y1="140.6" x2="320.0" y2="140.6" stroke="#111" stroke-width="1.55" stroke-dasharray="3.6 3.755"/>
<rect x="136.0" y="16.80" width="19.95" height="229.50" fill="#d3d3d3" fill-opacity="0.55"/>
<path d="M50.4,33.5H54.4V247.0H320.0" fill="none" stroke="#555" stroke-width="1.45"/>
<path d="M50.4,33.5H54.4M50.4,69.1H54.4M50.4,104.6H54.4M50.4,140.2H54.4M50.4,175.8H54.4M50.4,211.3H54.4M50.4,246.8H54.4M54.40,247.0V251.0M72.67,247.0V251.0M90.94,247.0V251.0M109.21,247.0V251.0M127.48,247.0V251.0M145.75,247.0V251.0M164.02,247.0V251.0M182.29,247.0V251.0M200.56,247.0V251.0M218.83,247.0V251.0M237.10,247.0V251.0M255.37,247.0V251.0M273.64,247.0V251.0M291.91,247.0V251.0M310.18,247.0V251.0" stroke="#555" stroke-width="1.3" fill="none"/>
<text transform="translate(47,36.75) scale(1,1.06)" text-anchor="end" font-size="8.9">0.75</text>
<text transform="translate(47,72.30) scale(1,1.06)" text-anchor="end" font-size="8.9">0.50</text>
<text transform="translate(47,107.85) scale(1,1.06)" text-anchor="end" font-size="8.9">0.25</text>
<text transform="translate(47,143.40) scale(1,1.06)" text-anchor="end" font-size="8.9">0.00</text>
<text transform="translate(47,178.95) scale(1,1.06)" text-anchor="end" font-size="8.9">-0.25</text>
<text transform="translate(47,214.50) scale(1,1.06)" text-anchor="end" font-size="8.9">-0.50</text>
<text transform="translate(47,250.05) scale(1,1.06)" text-anchor="end" font-size="8.9">-0.75</text>
<text transform="translate(54.40,258.9) scale(0.5,0.54)" text-anchor="middle" font-size="12" style="stroke-width:0.45px">2003</text>
<text transform="translate(72.67,258.9) scale(0.5,0.54)" text-anchor="middle" font-size="12" style="stroke-width:0.45px">2004</text>
<text transform="translate(90.94,258.9) scale(0.5,0.54)" text-anchor="middle" font-size="12" style="stroke-width:0.45px">2005</text>
<text transform="translate(109.21,258.9) scale(0.5,0.54)" text-anchor="middle" font-size="12" style="stroke-width:0.45px">2006</text>
<text transform="translate(127.48,258.9) scale(0.5,0.54)" text-anchor="middle" font-size="12" style="stroke-width:0.45px">2007</text>
<text transform="translate(145.75,258.9) scale(0.5,0.54)" text-anchor="middle" font-size="12" style="stroke-width:0.45px">2008</text>
<text transform="translate(164.02,258.9) scale(0.5,0.54)" text-anchor="middle" font-size="12" style="stroke-width:0.45px">2009</text>
<text transform="translate(182.29,258.9) scale(0.5,0.54)" text-anchor="middle" font-size="12" style="stroke-width:0.45px">2010</text>
<text transform="translate(200.56,258.9) scale(0.5,0.54)" text-anchor="middle" font-size="12" style="stroke-width:0.45px">2011</text>
<text transform="translate(218.83,258.9) scale(0.5,0.54)" text-anchor="middle" font-size="12" style="stroke-width:0.45px">2012</text>
<text transform="translate(237.10,258.9) scale(0.5,0.54)" text-anchor="middle" font-size="12" style="stroke-width:0.45px">2013</text>
<text transform="translate(255.37,258.9) scale(0.5,0.54)" text-anchor="middle" font-size="12" style="stroke-width:0.45px">2014</text>
<text transform="translate(273.64,258.9) scale(0.5,0.54)" text-anchor="middle" font-size="12" style="stroke-width:0.45px">2015</text>
<text transform="translate(291.91,258.9) scale(0.5,0.54)" text-anchor="middle" font-size="12" style="stroke-width:0.45px">2016</text>
<text transform="translate(310.18,258.9) scale(0.5,0.54)" text-anchor="middle" font-size="12" style="stroke-width:0.45px">2017</text>
<text x="184.6" y="277.1" text-anchor="middle" font-size="18" class="big">date</text>
<text transform="translate(14.90,193.47) rotate(-90)" font-size="15.5" class="big">&#916;</text>
<text transform="translate(14.90,182.40) rotate(-90) scale(1.12,1)" font-size="15.5" class="big">&#961;</text>
<text transform="translate(19.70,172.60) rotate(-90)" font-size="12.1" class="big">DCCA</text>
<text transform="translate(14.90,132.90) rotate(-90)" font-size="18" class="big">(s = 32)</text>
<rect x="321.5" y="1.7" width="55.8" height="109.5" fill="#fff" stroke="#999" stroke-width="1"/>
<line x1="322.9" x2="342.3" y1="8.00" y2="8.00" stroke="#c4c4c4" stroke-width="1.6"/>
<text transform="translate(345,11.40) scale(1,1.07)" font-size="8.75" style="stroke-width:0.18px">CAC40</text>
<line x1="322.9" x2="342.3" y1="18.77" y2="18.77" stroke="#f0a4a4" stroke-width="1.6"/>
<text transform="translate(345,22.17) scale(1,1.07)" font-size="8.75" style="stroke-width:0.18px">TSX</text>
<line x1="322.9" x2="342.3" y1="29.54" y2="29.54" stroke="#a4c0ee" stroke-width="1.6"/>
<text transform="translate(345,32.94) scale(1,1.07)" font-size="8.75" style="stroke-width:0.18px">DAX</text>
<line x1="322.9" x2="342.3" y1="40.31" y2="40.31" stroke="#a4d8bc" stroke-width="1.6"/>
<text transform="translate(345,43.71) scale(1,1.07)" font-size="8.75" style="stroke-width:0.18px">MIB</text>
<line x1="322.9" x2="342.3" y1="51.08" y2="51.08" stroke="#dcc4f4" stroke-width="1.6"/>
<text transform="translate(345,54.48) scale(1,1.07)" font-size="8.75" style="stroke-width:0.18px">FTSE</text>
<line x1="322.9" x2="342.3" y1="61.85" y2="61.85" stroke="#f0d8a0" stroke-width="1.6"/>
<text transform="translate(345,65.25) scale(1,1.07)" font-size="8.75" style="stroke-width:0.18px">MOEX</text>
<line x1="322.9" x2="342.3" y1="72.62" y2="72.62" stroke="#a0e8e8" stroke-width="1.6"/>
<text transform="translate(345,76.02) scale(1,1.07)" font-size="8.75" style="stroke-width:0.18px">NIKKEI</text>
<line x1="322.9" x2="342.3" y1="83.39" y2="83.39" stroke="#d4b4b4" stroke-width="1.6"/>
<text transform="translate(345,86.79) scale(1,1.07)" font-size="8.75" style="stroke-width:0.18px">SSE</text>
<line x1="322.9" x2="342.3" y1="94.16" y2="94.16" stroke="#222" stroke-width="1.5" stroke-dasharray="3.5 4"/>
<text transform="translate(345,97.56) scale(1,1.07)" font-size="8.75" style="stroke-width:0.18px">UL 95%</text>
<line x1="322.9" x2="342.3" y1="104.93" y2="104.93" stroke="#222" stroke-width="1.5" stroke-dasharray="3.5 4"/>
<text transform="translate(345,108.33) scale(1,1.07)" font-size="8.75" style="stroke-width:0.18px">LL 95%</text>
</g>
<g transform="translate(0.00,581.90)">
<g fill="none" stroke-width="0.75" stroke-linejoin="round"><path stroke="#7a7a7a" d="M54.4,136.5l0.4,2.3 0.4,1.4 0.4,0.3 0.4,3.2 0.4-1.4 0.4,2.4 0.4-0.3 0.4,1.7 0.4,2.9 0.4-1.2 0.4,2 0.4-1.3 0.4-1.7 0.4,0.9 0.4-0.2 0.4,0.5 0.4,1 0.5,0.1 0.4,2 0.4,1.6 0.4-2.7 0.4-0.3 0.4,0.5 0.4,0.2 0.4-0.3 0.4,3.7 0.4-1.6 0.4-1.3 0.4,1.3 0.4,2 0.4-0.4 0.4,0 0.4,0.5 0.4,0.8 0.4-2.1 0.4,2.8 0.4-1.3 0.4-0.6 0.4,1.9 0.4,0.1 0.4,0.1 0.4,1.3 0.4-1.7 0.4,1.4 0.4-0.5 0.4-1.4 0.4-1.3 0.4,0.2 0.4,1.4 0.4-2.1 0.4-0.4 0.4,0.9 0.4-1.6 0.4-1.3 0.4,1 0.4-0.6 0.4-1.3 0.4,2 0.4-1.3 0.4,2 0.4,0.8 0.4-0.6 0.4-0.3 0.4,0.2 0.4,0.2 0.4,0.1 0.4,1.1 0.4-2 0.4,1 0.4-1.4 0.4-1.3 0.4-1.3 0.4,1.2 0.5,0.6 0.4,1.3 0.4-0.4 0.4-1.8 0.4,0.8 0.4,0.3 0.4,0.3 0.4,0.9 0.4-0.2 0.4-1.5 0.4-1.1 0.4-0.8 0.4,0.9 0.4,1.6 0.4-2.2 0.4-0.9 0.4,0.8 0.4,1.9 0.4-0.1 0.4-0.5 0.4,1.2 0.4-0.4 0.4,4.3 0.4,0.7 0.4-0.5 0.4-1.1 0.4,1.1 0.4-0.4 0.4-0.6 0.4-1 0.4,2.3 0.4,0.3 0.4,1.1 0.4,0.7 0.4,2.2 0.4-2 0.4,1.2 0.4,1.4 0.4,0.1 0.4-2.2 0.4-0.8 0.4-1.1 0.4,2.4 0.4-2.2 0.4,1.7 0.4,1.9 0.4,0.2 0.4-0.9 0.4,1.4 0.4-2.1 0.4-2.6 0.4,1.1 0.4-1.7 0.4-0.7 0.4,0 0.5-2.4 0.4-0.7 0.4-0.4 0.4,0.8 0.4,0.4 0.4-1.5 0.4-1.4 0.4-0.1 0.4,0.5 0.4,0.5 0.4-1.6 0.4-2.7 0.4,1.1 0.4,1.1 0.4,0.3 0.4-1.7 0.4,0.9 0.4,0.3 0.4-0.5 0.4-2.4 0.4,1.9 0.4-1.1 0.4,0.8 0.4-2.1 0.4,0.4 0.4-0.3 0.4,0.9 0.4-0.7 0.4,1.7 0.4-3.6 0.4-1.6 0.4,0.9 0.4-0.3 0.4,0.8 0.4-1 0.4-0.5 0.4-0.8 0.4-1.1 0.4-1.4 0.4-1.5 0.4-0.5 0.4-0.1 0.4-1.8 0.4-0.9 0.4-1.7 0.4,0.2 0.4-1.1 0.4-1.4 0.4,0.4 0.4,0.9 0.4-0.9 0.4-1.7 0.4-0.6 0.4,0 0.4-3.1 0.4-2.8 0.5-1.6 0.4,1.4 0.4-0.6 0.4-1 0.4-1.7 0.4-1.1 0.4-0.4 0.4,0.9 0.4,0.5 0.4-0.5 0.4-1.2 0.4-1.7 0.4-1.8 0.4-2.2 0.4,1.4 0.4,1.7 0.4-1 0.4-3 0.4,0.7 0.4,0.3 0.4-0.7 0.4,0.9 0.4,0.4 0.4-1.5 0.4,0.8 0.4-0.6 0.4-0.6 0.4-0.5 0.4,0.9 0.4,4.1 0.4-1.3 0.4-0.9 0.4,2.3 0.4-1.6 0.4,0.7 0.4-0.7 0.4,0.7 0.4-1 0.4,0.3 0.4,2 0.4,0.3 0.4,0.4 0.4-0.1 0.4-2.1 0.4,1.3 0.4,0.6 0.4,1.8 0.4-1.3 0.4,0.9 0.4,1 0.4-1 0.4,2.4 0.4,2 0.4,0.7 0.4-0.5 0.5,1.4 0.4,0.4 0.4,0.8 0.4-0.2 0.4,0 0.4,1.4 0.4,0.9 0.4,0 0.4,0 0.4-0.4 0.4-0.9 0.4,0.2 0.4,0.6 0.4,0 0.4-0.4 0.4,3 0.4,1.6 0.4-2.1 0.4,0.8 0.4-1.6 0.4,1.2 0.4,0.5 0.4,0.4 0.4-0.2 0.4,0.7 0.4,0.8 0.4,1.4 0.4-1.9 0.4-0.2 0.4,2.6 0.4-0.8 0.4,0.3 0.4-0.1 0.4,1.2 0.4,0.6 0.4-1.5 0.4,2.2 0.4-3.2 0.4,3 0.4-2.3 0.4,1.6 0.4-1.1 0.4,1.3 0.4-1.5 0.4,0.8 0.4-0.6 0.4-0.8 0.4,2 0.4,2.1 0.4-1.5 0.4,1.5 0.4-0.6 0.4,0.9 0.4,1.2 0.4-2.2 0.4,3 0.5-1.8 0.4,0.7 0.4,0.7 0.4,0.8 0.4,0.1 0.4-2.2 0.4,0.9 0.4,0.7 0.4,0.7 0.4-1.9 0.4-0.9 0.4,0.4 0.4-0.4 0.4-1.1 0.4,0.1 0.4,1.9 0.4,1.1 0.4-0.9 0.4-1.2 0.4,2 0.4,1.2 0.4-0.5 0.4,1.3 0.4,1.6 0.4-3 0.4,0.5 0.4,1.7 0.4-0.4 0.4,1.1 0.4-0.5 0.4,0.2 0.4,0.5 0.4-0.6 0.4,0.2 0.4-0.5 0.4,3 0.4-0.4 0.4,0.1 0.4,1 0.4-1.3 0.4,2.1 0.4,0.4 0.4-1.1 0.4,1.2 0.4,0.4 0.4,0.4 0.4-2.4 0.4,1.1 0.4-0.9 0.4,0 0.4,0.8 0.4-1.6 0.4,0.1 0.4,0.6 0.4,0.7 0.5-1 0.4,0.5 0.4-1.3 0.4,2.2 0.4,0 0.4,0.5 0.4-0.2 0.4,0.5 0.4,0.1 0.4-1 0.4-0.9 0.4,0.3 0.4,1.1 0.4-0.4 0.4-0.8 0.4-0.8 0.4,0.6 0.4,2.1 0.4-1.8 0.4,0.4 0.4-2 0.4,0.9 0.4,2.3 0.4-1.3 0.4,0.1 0.4-0.6 0.4,0.6 0.4-1.6 0.4,0.4 0.4-1.1 0.4,1.2 0.4-0.2 0.4-0.6 0.4-0.4 0.4-1 0.4,2.5 0.4-0.6 0.4,0.6 0.4-0.2 0.4,1.4 0.4-0.2 0.4,0.1 0.4-0.2 0.4,1.3 0.4,0 0.4-0.3 0.4,0.1 0.4,1 0.4,0.8 0.4-1.8 0.4,0.2 0.4,1.4 0.4-0.5 0.4-0.7 0.4-1.8 0.4-0.2 0.5-0.8 0.4,0.8 0.4,1.6 0.4-1.1 0.4,1.7 0.4,0.7 0.4,0.9 0.4,2 0.4,1.7 0.4-0.4 0.4-0.6 0.4,2.2 0.4,0.6 0.4,0 0.4,1.1 0.4-0.1 0.4,1.6 0.4-0.4 0.4-2.4 0.4,2 0.4-1.8 0.4,1.5 0.4-1.4 0.4,2.5 0.4,0.9 0.4-0.4 0.4,2.9 0.4,0.7 0.4-2.3 0.4,1 0.4-0.3 0.4-0.4 0.4-1.5 0.4,3 0.4,0.1 0.4,1.8 0.4-0.8 0.4-0.6 0.4,0.9 0.4,2.5 0.4-0.7 0.4,0.5 0.4-0.5 0.4-0.8 0.4-1.1 0.4,0.1 0.4,0 0.4,0.7 0.4,0.5 0.4,2.1 0.4,0.7 0.4-1 0.4-0.6 0.4-0.7 0.4-0.1 0.5,0.8 0.4,0.3 0.4,1.8 0.4,0.6 0.4-2.1 0.4,0.7 0.4-1.8 0.4,0.3 0.4-0.2 0.4,0.5 0.4,1.7 0.4-1.1 0.4,0.1 0.4,1.3 0.4-0.3 0.4,0.6 0.4,0.9 0.4,1.1 0.4-0.2 0.4,1.2 0.4-2.8 0.4-0.9 0.4-0.6 0.4-2.6 0.4,1.7 0.4,0 0.4,0.2 0.4,0.2 0.4-0.3 0.4-2.6 0.4,1.7 0.4-0.5 0.4-2.2 0.4,0.4 0.4-1.6 0.4,0.7 0.4-1.3 0.4,0.5 0.4-1.3 0.4,1.7 0.4-0.7 0.4,0.5 0.4,1.3 0.4,0.8 0.4-1.7 0.4,1.7 0.4-0.9 0.4-0.4 0.4-0.4 0.4-1.4 0.4-0.6 0.4,0.5 0.4-0.8 0.4-1.8 0.4-0.6 0.4-1.4 0.5-0.7 0.4-3.2 0.4,2.2 0.4-1.1 0.4-0.4 0.4,0.2 0.4-1.2 0.4,2 0.4,0 0.4-3.1 0.4,0.4 0.4,0.4 0.4-3.8 0.4-0.1 0.4-0.4 0.4-0.2 0.4-0.4 0.4-1.7 0.4-1.3 0.4-0.2 0.4-4.4 0.4,0 0.4,0.5 0.4-1.6 0.4-1.7 0.4-4.8 0.4,0.8 0.4,0.3 0.4-2.3 0.4,2.3 0.4-1.5 0.4,1.9 0.4-0.3 0.4-1.6 0.4-0.8 0.4-0.1 0.4-1.2 0.4-0.4 0.4,0.6 0.4-0.8 0.4-0.8 0.4-0.6 0.4,0.3 0.4-0.7 0.4-0.6 0.4-1.1 0.4,0.3 0.4,0.5 0.4,0.2 0.4,0.1 0.4-1.3 0.4-0.2 0.4,2 0.4-1 0.4,1.2 0.5,0.5 0.4,1.2 0.4,1 0.4,1 0.4-0.5 0.4-0.6 0.4,0.9 0.4,0.5 0.4,2.6 0.4-0.3 0.4-1.3 0.4,0.5 0.4,0 0.4,0.8 0.4,0.7 0.4,1.5 0.4-1.1 0.4,0.3 0.4,0.4 0.4-0.4 0.4-0.4 0.4,2 0.4-1.8 0.4,0.1 0.4,1.1 0.4,1.7 0.4-1.6 0.4,0.1 0.4-2.7 0.4,0.3 0.4-2.5 0.4,1.5 0.4,0.5 0.4,1.6 0.4-0.1 0.4-0.5 0.4,1.2 0.4,0.7 0.4-1.1 0.4,0.5 0.4,0.4 0.4,1.1 0.4-0.2 0.4,0.5 0.4,2.4 0.4,1 0.4,3.3 0.4-2.4 0.4,1.8 0.4,1 0.4-1 0.4,2.4 0.4-0.5 0.4,3.7 0.4,0 0.4,2.3 0.5,2.7 0.4-0.4 0.4,1.8 0.4-1.3 0.4,1.2 0.4,0.2 0.4,1 0.4,3.5 0.4,0.8 0.4,2.7 0.4-0.4 0.4,2.5 0.4,4.2 0.4-2.1 0.4,4.8 0.4-1.2 0.4-1.8 0.4-0.1 0.4,2.3 0.4-0.9 0.4-1.1 0.4,0.9 0.4,0.2 0.4-2.4 0.4,1.3 0.4,1.4 0.4-2.6 0.4,0.1 0.4-0.4 0.4,1.7"/>
<path stroke="#e86a6a" d="M54.4,133.6l0.4,1.7 0.4-0.7 0.4,0.4 0.4,5.3 0.4,2 0.4-0.4 0.4,2.3 0.4,4.1 0.4,0.4 0.4-0.7 0.4,1.4 0.4,1 0.4,0.4 0.4,0.6 0.4-2.5 0.4,1.5 0.4,1.4 0.5-0.7 0.4,1.3 0.4-0.3 0.4-2 0.4,2.5 0.4-0.9 0.4,0.6 0.4-0.3 0.4,3.1 0.4-1.5 0.4,0.6 0.4,0.7 0.4-1.2 0.4-0.5 0.4,1.3 0.4,1.1 0.4,0.1 0.4,0.7 0.4,2.2 0.4,0.3 0.4,1.3 0.4-2.1 0.4,3.7 0.4,0.2 0.4,0.4 0.4-2.2 0.4,0.8 0.4,2.1 0.4,0.2 0.4-0.3 0.4,1.4 0.4-0.1 0.4-0.6 0.4-0.4 0.4,0 0.4,0.6 0.4,0.3 0.4,2.4 0.4,0.1 0.4-1.5 0.4,1.1 0.4-0.8 0.4,0.2 0.4-1.5 0.4,1.1 0.4-2.9 0.4,0.8 0.4-0.7 0.4,0.5 0.4-0.6 0.4,2.4 0.4,0.1 0.4-0.6 0.4-0.1 0.4,0.3 0.4,1.1 0.5-2.2 0.4,1.5 0.4,0.5 0.4,0.1 0.4-1.3 0.4-1.4 0.4,0.4 0.4-0.1 0.4,0.9 0.4,0 0.4,0.1 0.4-0.7 0.4,0.8 0.4-1 0.4-2.1 0.4-0.4 0.4,1.3 0.4,0.6 0.4,0.2 0.4,1 0.4-0.6 0.4-0.7 0.4,0.3 0.4,0.6 0.4,2.2 0.4-1.1 0.4,1 0.4,1.1 0.4,1.8 0.4-1.5 0.4,1.7 0.4-0.2 0.4-1 0.4,1 0.4,0 0.4,1.3 0.4-2.7 0.4,0.8 0.4-0.9 0.4,0 0.4-1.6 0.4-0.9 0.4-1.6 0.4,0.9 0.4-0.6 0.4-1.2 0.4,1 0.4-1.1 0.4-1.1 0.4-0.5 0.4-1.4 0.4,0.7 0.4-2.2 0.4,2.4 0.4-0.4 0.5-0.5 0.4-2.9 0.4,1.2 0.4-1.8 0.4-0.5 0.4-0.4 0.4-1.9 0.4,0.6 0.4-1.3 0.4,0.7 0.4-0.2 0.4,1.4 0.4-2.2 0.4,0.8 0.4-1.8 0.4,0.2 0.4-0.7 0.4-1.2 0.4,1.2 0.4-1.2 0.4-2 0.4,0.6 0.4,0.8 0.4-0.7 0.4,0.4 0.4,1.2 0.4-1.2 0.4,1.7 0.4,0.9 0.4,0.5 0.4-0.7 0.4-0.8 0.4-2.3 0.4-0.8 0.4,0.8 0.4,0.2 0.4-3.3 0.4,0.5 0.4,1.1 0.4-0.7 0.4,0.2 0.4-1.5 0.4-0.2 0.4,0.5 0.4-0.4 0.4-1.9 0.4-0.5 0.4,0.8 0.4-1.7 0.4-2.6 0.4-1.5 0.4,0.9 0.4,2.5 0.4-1.2 0.4-0.1 0.4-1.9 0.5-3.1 0.4-1.4 0.4-0.6 0.4-1.9 0.4-2.2 0.4-2 0.4-1.1 0.4-0.1 0.4,0.1 0.4-0.3 0.4,0.8 0.4-0.5 0.4-0.7 0.4,0.7 0.4,0.3 0.4-1.5 0.4,2.1 0.4,0.2 0.4-1.4 0.4-1.4 0.4-0.5 0.4,0.4 0.4,1.2 0.4-1.9 0.4-1.9 0.4-0.3 0.4-0.6 0.4,1.6 0.4-0.9 0.4,0 0.4-1.4 0.4-0.4 0.4,0.1 0.4-0.6 0.4,1.6 0.4,0.2 0.4-2 0.4,0.4 0.4,0.2 0.4,2.3 0.4-1.3 0.4,1.3 0.4,0.5 0.4-0.8 0.4-1.6 0.4-1.4 0.4,1.8 0.4-0.8 0.4-1 0.4-0.8 0.4-0.1 0.4,0.5 0.4,1 0.4-0.1 0.4-1.7 0.5,2.9 0.4-1.6 0.4-0.2 0.4,0.9 0.4,0.7 0.4-0.5 0.4,0.6 0.4,0.6 0.4-1 0.4,0.8 0.4,0.1 0.4,0.4 0.4-1 0.4,3 0.4,0.2 0.4-1.4 0.4-0.8 0.4-0.2 0.4,0.4 0.4,1.1 0.4-1.1 0.4-0.4 0.4,2.1 0.4-1.9 0.4,3 0.4-1.3 0.4,0.3 0.4,1.7 0.4,0.6 0.4,0.6 0.4-0.5 0.4,1.7 0.4,1.2 0.4,1 0.4-0.7 0.4,0.9 0.4,0.5 0.4-1.1 0.4,0.6 0.4,0.5 0.4-1.3 0.4,1.7 0.4,1 0.4-1.1 0.4-0.9 0.4-0.9 0.4-0.8 0.4,0.5 0.4,0.4 0.4,0.5 0.4,0.1 0.4-1.2 0.4,0.7 0.4,0.4 0.4-2.1 0.4-0.3 0.5-1.8 0.4-0.5 0.4-0.1 0.4-0.7 0.4-0.8 0.4-0.2 0.4-1.6 0.4-0.9 0.4,0.8 0.4,0.3 0.4,1.6 0.4-0.8 0.4-0.1 0.4,1.1 0.4,1.4 0.4,0.9 0.4-1 0.4,2.2 0.4,1.3 0.4-2.5 0.4-0.8 0.4,0.7 0.4,0.9 0.4-1.1 0.4,1 0.4,1.3 0.4-1.9 0.4,0.9 0.4,1.4 0.4,0.1 0.4,2.5 0.4-0.4 0.4,1 0.4,0.5 0.4,1.2 0.4,2.3 0.4-0.3 0.4,2.9 0.4-1.5 0.4,2.6 0.4-1.3 0.4-1.3 0.4,0.8 0.4,0.6 0.4,0.7 0.4,2.7 0.4,0.2 0.4-1.2 0.4,1.5 0.4-1 0.4,2.2 0.4-0.6 0.4,1.7 0.4,0.2 0.4-0.6 0.5-1.7 0.4,0.4 0.4-0.6 0.4-0.2 0.4,1.4 0.4-0.1 0.4-1.8 0.4-0.5 0.4,0.7 0.4-1.8 0.4,2.4 0.4,1.2 0.4,0.9 0.4-0.8 0.4,2.1 0.4,0 0.4-1.5 0.4-0.4 0.4-0.9 0.4,0.9 0.4,0.8 0.4,0.4 0.4-0.8 0.4,1.7 0.4,1.3 0.4-1.2 0.4-0.1 0.4,2.6 0.4,0.1 0.4,0.1 0.4,1.2 0.4-1.3 0.4,1.5 0.4-2.1 0.4,4.2 0.4-1.4 0.4,1.4 0.4,1.7 0.4-0.1 0.4,1.8 0.4-3 0.4,0.6 0.4-0.5 0.4,0.7 0.4,0.8 0.4-1.1 0.4,0.2 0.4-0.1 0.4-2.4 0.4,1.1 0.4-2.4 0.4,1 0.4,0.4 0.4,1.8 0.4-2.9 0.4,0.6 0.5,2.3 0.4-3 0.4,0.2 0.4-2.2 0.4,0.7 0.4,1.1 0.4-1.3 0.4,0.7 0.4-1 0.4,0.3 0.4-0.9 0.4-1.9 0.4-1.2 0.4,1 0.4-0.5 0.4-0.6 0.4,0.8 0.4,0.2 0.4,0.9 0.4-0.6 0.4-0.4 0.4-0.5 0.4,1.6 0.4-2 0.4,0.6 0.4-2.5 0.4,0.2 0.4,0.6 0.4-0.7 0.4,2.1 0.4-0.4 0.4-1.5 0.4-0.5 0.4,3.2 0.4-1.1 0.4,2.1 0.4-0.6 0.4,0.9 0.4-2.1 0.4,0.6 0.4,1.3 0.4,0 0.4,0.3 0.4,0.1 0.4,1.5 0.4,0.8 0.4-0.1 0.4,0.3 0.4-0.4 0.4,0.5 0.4-0.2 0.4,1.4 0.4-0.3 0.4,1.8 0.4-3.1 0.5,1 0.4,1 0.4-0.2 0.4,0.4 0.4-0.2 0.4,0.1 0.4,1 0.4-1.4 0.4,1 0.4-1.1 0.4,0.2 0.4,1.3 0.4,2.9 0.4,0.4 0.4-1.1 0.4,1.4 0.4-0.3 0.4,0.5 0.4,0.7 0.4-1.9 0.4,2.3 0.4,0 0.4,0.3 0.4,2.9 0.4,0.3 0.4-0.4 0.4,1.7 0.4-1.7 0.4,0.7 0.4,1.1 0.4,0.5 0.4-0.2 0.4-1 0.4-1.7 0.4,3 0.4-3.1 0.4-0.9 0.4,0.7 0.4-1.3 0.4-1.6 0.4-0.4 0.4-0.7 0.4-0.7 0.4,0.5 0.4-0.6 0.4-1.1 0.4-0.8 0.4,3 0.4-3.1 0.4,1 0.4-0.8 0.4-0.4 0.4,0.8 0.4-0.6 0.4,0.3 0.4,0 0.5,0.1 0.4,0 0.4-0.9 0.4,0.2 0.4-0.2 0.4,0 0.4,0.1 0.4-1.8 0.4-0.3 0.4-0.1 0.4-1.8 0.4,0.4 0.4,0.4 0.4-1.7 0.4-0.9 0.4-0.3 0.4,0.2 0.4,0 0.4-0.5 0.4-4.1 0.4,1.6 0.4-0.9 0.4-1 0.4,0.4 0.4-1.3 0.4-1.3 0.4,0.6 0.4-0.8 0.4-2.8 0.4,0.7 0.4,1.6 0.4-1.3 0.4-0.3 0.4,0 0.4,0.1 0.4,0.5 0.4-3.5 0.4,1.5 0.4-2.5 0.4,2.2 0.4,0.8 0.4-1.4 0.4-1.2 0.4-0.4 0.4-1.1 0.4-0.4 0.4,0.2 0.4-0.4 0.4-0.6 0.4-2.3 0.4,1.3 0.4,0.4 0.4,1.2 0.4,0.9 0.4-0.1 0.5,1.4 0.4,0.6 0.4,0.9 0.4-1.4 0.4,1.8 0.4-0.3 0.4,2 0.4,1.2 0.4-0.7 0.4-2.8 0.4-0.3 0.4-0.3 0.4,0.5 0.4-2.2 0.4-0.5 0.4,0.6 0.4-1.1 0.4,1.1 0.4-2.1 0.4,0.7 0.4-1.2 0.4,1.2 0.4,0.5 0.4,0.7 0.4,2.2 0.4-0.7 0.4-0.9 0.4-0.3 0.4-0.1 0.4,0 0.4,0.5 0.4,0.5 0.4,1.7 0.4,0.4 0.4-0.2 0.4,0.2 0.4-0.3 0.4,2.1 0.4-0.4 0.4-1.4 0.4-0.2 0.4,1.6 0.4,0.4 0.4,2.1 0.4,1.5 0.4,2.2 0.4,0.1 0.4,2 0.4,2 0.4,2.8 0.4-1.7 0.4,2.6 0.4,0.1 0.4,1.4 0.4,0.4 0.4,2.2 0.5-2 0.4,0.3 0.4,1.6 0.4,1.6 0.4,0.4 0.4,1.5 0.4,0 0.4,2.8 0.4,0.1 0.4,0.4 0.4-0.9 0.4,0 0.4,0.4 0.4,0.9 0.4,1.3 0.4,0.4 0.4,0.2 0.4,1.5 0.4-1.1 0.4,0.2 0.4,2.6 0.4-2.5 0.4-0.1 0.4-0.4 0.4,0.7 0.4-1.5 0.4-2 0.4,1.8 0.4,1.4 0.4,0.5"/>
<path stroke="#5588dd" d="M54.4,141.1l0.4,0.2 0.4,0.7 0.4,0.7 0.4-0.3 0.4,0.6 0.4,1.8 0.4-0.6 0.4,0.4 0.4-0.4 0.4,1.2 0.4-0.5 0.4-1 0.4,0.7 0.4-0.8 0.4,1.2 0.4,3.9 0.4,1 0.5,0.7 0.4-0.3 0.4-0.6 0.4,0.8 0.4,0.3 0.4-1.8 0.4,0.5 0.4,1.7 0.4,0.6 0.4,0.5 0.4,0.1 0.4,2.2 0.4-1.6 0.4,0.2 0.4,1.5 0.4,2.6 0.4-2.6 0.4,3.6 0.4-2.2 0.4-1.5 0.4,0.4 0.4-1.1 0.4,0.1 0.4,2.2 0.4-1.2 0.4-0.3 0.4-0.4 0.4,0.8 0.4-1.2 0.4-0.3 0.4,0.5 0.4-2.2 0.4-1.2 0.4,1.8 0.4,1 0.4-3 0.4-0.9 0.4-0.7 0.4-1.5 0.4,0 0.4-2 0.4,1.6 0.4,0.1 0.4-0.7 0.4-1.3 0.4,1.6 0.4-1.9 0.4-1.5 0.4,0.4 0.4,2.2 0.4-2.2 0.4,1.5 0.4-2.8 0.4-2.3 0.4,1.1 0.4-1.7 0.5,0.5 0.4-1.5 0.4-0.8 0.4,0.1 0.4,1.1 0.4-2.4 0.4,0 0.4,0.3 0.4-0.2 0.4-3.6 0.4-0.6 0.4,0.7 0.4-2.2 0.4,0.2 0.4,0.1 0.4-1.2 0.4,0.9 0.4,0.5 0.4,0.1 0.4,0.3 0.4,1.6 0.4,0 0.4-0.3 0.4,0.5 0.4,0.9 0.4,0.9 0.4-1 0.4,0.7 0.4-1 0.4,0 0.4,0.6 0.4,2 0.4-1.6 0.4,1.4 0.4-1.5 0.4,1 0.4,1 0.4,0.3 0.4,2 0.4,0.3 0.4,1.1 0.4,1.1 0.4,1.2 0.4,0.2 0.4,2.9 0.4,0.4 0.4,0.3 0.4-1.5 0.4,0.9 0.4,1.5 0.4-1.6 0.4-0.5 0.4-1.8 0.4,1.2 0.4,0.4 0.5,0.3 0.4,0.4 0.4,1.6 0.4,0.2 0.4,0.9 0.4-0.5 0.4,1 0.4,0 0.4,1.4 0.4,0.8 0.4,1.1 0.4,0.1 0.4-1.8 0.4,2.5 0.4-1.8 0.4,1.3 0.4-0.6 0.4-1.7 0.4,0 0.4,1.2 0.4,0.5 0.4-1.9 0.4,0.2 0.4-1 0.4,1.1 0.4-0.1 0.4,2.1 0.4-0.7 0.4-0.2 0.4-1.8 0.4,2.9 0.4-1.8 0.4,0.9 0.4-0.8 0.4,2.1 0.4-0.2 0.4,1.5 0.4-2.2 0.4-0.6 0.4-0.5 0.4-1 0.4-1.8 0.4,0.7 0.4,0.2 0.4-2.2 0.4-0.9 0.4-4.2 0.4,1.4 0.4-2.8 0.4,1.7 0.4-2.3 0.4,0.3 0.4-1.5 0.4-1.2 0.4-0.9 0.4-1.7 0.5-2.5 0.4,1.7 0.4,0.4 0.4-1 0.4,0.5 0.4,0.6 0.4-2.9 0.4,0.4 0.4,1.2 0.4,0.2 0.4-0.7 0.4,1.3 0.4-0.6 0.4-1.7 0.4,1.3 0.4-0.4 0.4-0.1 0.4,1.2 0.4-2.1 0.4,1.7 0.4-3.5 0.4-0.2 0.4,1.3 0.4-2.7 0.4,0.6 0.4-1.7 0.4-0.6 0.4-0.4 0.4-0.9 0.4,0.4 0.4-1.2 0.4,0.6 0.4-1.7 0.4,2 0.4-2 0.4,0.5 0.4,0 0.4-0.4 0.4,1.1 0.4-0.2 0.4-1.1 0.4-1.8 0.4-0.2 0.4-1.5 0.4-0.6 0.4-0.4 0.4-1.7 0.4-0.4 0.4-0.3 0.4,1 0.4-4.1 0.4,3.2 0.4-2.4 0.4,1.4 0.4,0.2 0.5-2 0.4,1.7 0.4-0.5 0.4-1.6 0.4,1.7 0.4-1.5 0.4,1 0.4,1.7 0.4,2.9 0.4-1.1 0.4,1.4 0.4-0.1 0.4-0.9 0.4-0.7 0.4,0.9 0.4,1.7 0.4,0.5 0.4-0.6 0.4,3 0.4,0.9 0.4-1.2 0.4,2.3 0.4,0.4 0.4,0.6 0.4-0.2 0.4,2.8 0.4-2.5 0.4,2.3 0.4-0.4 0.4-1 0.4,2.2 0.4,0.2 0.4,1 0.4-0.2 0.4,2.2 0.4,0.4 0.4-1.2 0.4,1.2 0.4-1.3 0.4,3 0.4-0.1 0.4-0.7 0.4,2 0.4-0.3 0.4,0.5 0.4-1.6 0.4,1.9 0.4-0.7 0.4-0.1 0.4-0.6 0.4,1.5 0.4-0.5 0.4-0.6 0.4-0.8 0.4,1.8 0.4,1.4 0.5-0.3 0.4-1.2 0.4-1.3 0.4,2.3 0.4-2.6 0.4,0.6 0.4,0.4 0.4-3 0.4,0.1 0.4,3 0.4-2.4 0.4,0.6 0.4-1.1 0.4,2.6 0.4-0.4 0.4-0.2 0.4-2.2 0.4,0.1 0.4,0.3 0.4,1.1 0.4-0.1 0.4,1.5 0.4-0.8 0.4,0.4 0.4-0.5 0.4,1.7 0.4-0.3 0.4,2.8 0.4,1.7 0.4,1.5 0.4,1.3 0.4,0 0.4,0.6 0.4-0.1 0.4-0.3 0.4-0.3 0.4,0.7 0.4-0.1 0.4-1.8 0.4-1 0.4-1.3 0.4,1.7 0.4-0.3 0.4,0.1 0.4,0.6 0.4-1 0.4-0.8 0.4,0.3 0.4,0.4 0.4-1 0.4-0.2 0.4-0.4 0.4-1.8 0.4,0.9 0.4,0 0.5,0.1 0.4,1.3 0.4-0.8 0.4-1.2 0.4,1.3 0.4,0.5 0.4-0.4 0.4,1.3 0.4,2.1 0.4-1.1 0.4-1.1 0.4,2.1 0.4-1 0.4,0.9 0.4,0.6 0.4-0.1 0.4,0.3 0.4,0.3 0.4,0.7 0.4,0.4 0.4-0.4 0.4-2.7 0.4,0.3 0.4,0.8 0.4-0.4 0.4-0.1 0.4-1 0.4,0.2 0.4-0.3 0.4-0.4 0.4,0.4 0.4-0.6 0.4,0.3 0.4-1.8 0.4-0.7 0.4,0.4 0.4,0.5 0.4-1 0.4,2.8 0.4-1.7 0.4-0.1 0.4-0.2 0.4-2.9 0.4,1.2 0.4,0.3 0.4-2.5 0.4,1.4 0.4,0.3 0.4-0.7 0.4-1 0.4,1.4 0.4,0.7 0.4,0.4 0.4,0.3 0.4-1.1 0.4,0.1 0.5,0.1 0.4-0.1 0.4-1.7 0.4,0.7 0.4-0.2 0.4,0.8 0.4-0.7 0.4-0.2 0.4,0.1 0.4-0.8 0.4,1.1 0.4-0.3 0.4-1.4 0.4-1.5 0.4,2.1 0.4-1.4 0.4,0.7 0.4-1 0.4-1.3 0.4-0.7 0.4,1.3 0.4,1.5 0.4-1 0.4-1.5 0.4,2.3 0.4,2.3 0.4,0.4 0.4,0.2 0.4,0.2 0.4-1.1 0.4-0.7 0.4,1.1 0.4,1.3 0.4,1.3 0.4-0.7 0.4-0.3 0.4,3.2 0.4-1.7 0.4-1.8 0.4,2 0.4,0.3 0.4,1.3 0.4,1.8 0.4,0 0.4,0.2 0.4-0.5 0.4,0 0.4,0.1 0.4,1 0.4-2.3 0.4,1.1 0.4,1.7 0.4,0 0.4,0.6 0.4,1.1 0.5-0.1 0.4,1 0.4-1.1 0.4,0 0.4-1 0.4-2.4 0.4,3 0.4-0.3 0.4-0.3 0.4,0.3 0.4,1.5 0.4-0.5 0.4-1.1 0.4,0.2 0.4-0.2 0.4,2 0.4-0.5 0.4,0.9 0.4-1.7 0.4,0.2 0.4,1.4 0.4,0.7 0.4,0.4 0.4-0.1 0.4,1.3 0.4,1.9 0.4-1.3 0.4,0.8 0.4,1.1 0.4-3.6 0.4,0.6 0.4,1.3 0.4-1.1 0.4-3.1 0.4,2.2 0.4-0.2 0.4-1 0.4,0.2 0.4,1.3 0.4,0.6 0.4-1.6 0.4,1.1 0.4,0.5 0.4,1.5 0.4,0.9 0.4,0.5 0.4,1.1 0.4-0.4 0.4,0.5 0.4,2.3 0.4-1.1 0.4-0.1 0.4,1.1 0.4-2 0.4,2.6 0.4-1.5 0.5,2.3 0.4,2.4 0.4,1.9 0.4-1.2 0.4,0.8 0.4,2 0.4-1.8 0.4,1.6 0.4,0.7 0.4,2 0.4-0.2 0.4-2.3 0.4,0.6 0.4-1.4 0.4,0 0.4,1.4 0.4-1.5 0.4-0.6 0.4-1.9 0.4,1.2 0.4-1.3 0.4,0.4 0.4,0.4 0.4-1.6 0.4-1 0.4,1 0.4-0.1 0.4-1.4 0.4-0.1 0.4-1.6 0.4,0.5 0.4-3.6 0.4-0.1 0.4-0.9 0.4-2.4 0.4-1.2 0.4-2.2 0.4,0.6 0.4-0.8 0.4-1.2 0.4-0.8 0.4-0.9 0.4-0.1 0.4-1.5 0.4-3.3 0.4-1.8 0.4,0.4 0.4-0.6 0.4-2 0.4-0.3 0.4-2.1 0.4,2 0.4-1 0.4,0.9 0.4,1.1 0.5,1.1 0.4,1.1 0.4-0.1 0.4,1 0.4,1 0.4,1.2 0.4,0.5 0.4,0.2 0.4,0.2 0.4,1.5 0.4,2.6 0.4-0.7 0.4,3.6 0.4-0.6 0.4,1.4 0.4-1.4 0.4,1.8 0.4,0 0.4-0.6 0.4,0.5 0.4,0 0.4,1.3 0.4-0.5 0.4,3.1 0.4-0.4 0.4,1.1 0.4-0.1 0.4,0.6 0.4,1.1 0.4,0.1 0.4-2.3 0.4-2.3 0.4-1.5 0.4-1.1 0.4-1.7 0.4,0.3 0.4-2 0.4-0.8 0.4-0.8 0.4,0.6 0.4,0.7 0.4,0.8 0.4,1 0.4-1.3 0.4,1.3 0.4,1.6 0.4,2.2 0.4-1 0.4,2 0.4-0.5 0.4,0.9 0.4,0.7 0.4-0.4 0.4,0.7 0.4,1.3 0.4,0.9 0.5,1.2 0.4,1.2 0.4,0.8 0.4,1.1 0.4-0.7 0.4-1.1 0.4,2.5 0.4-1.6 0.4,0.9 0.4,0.3 0.4,0.7 0.4,1 0.4,0 0.4-0.9 0.4,0.8 0.4,0 0.4-1.1 0.4-0.5 0.4,1.8 0.4-1.7 0.4,0 0.4-2.8 0.4,0.6 0.4,1.8 0.4,1.6 0.4-1 0.4-0.8 0.4-1.5 0.4,2.7 0.4-1.4"/>
<path stroke="#4cb080" d="M54.4,131.1l0.4,0.3 0.4,5.2 0.4,0.2 0.4,1 0.4,3.1 0.4,1.4 0.4,2.2 0.4,2.9 0.4,2.2 0.4-0.6 0.4,0.6 0.4,2.3 0.4,0.4 0.4,1.4 0.4,0.4 0.4-0.5 0.4,0.4 0.5,0.4 0.4,1.9 0.4,1.5 0.4,1.2 0.4,1.7 0.4-0.8 0.4-0.5 0.4,0.6 0.4,0.1 0.4,0.9 0.4,1.2 0.4,2.3 0.4-0.5 0.4,3.5 0.4,0.1 0.4-0.7 0.4-2.9 0.4,2.4 0.4,1 0.4-1.4 0.4-0.2 0.4-2.1 0.4,0.7 0.4,0.1 0.4,1 0.4,1.3 0.4-0.9 0.4-1.1 0.4-0.4 0.4,0.4 0.4,2 0.4-0.1 0.4,0.2 0.4,0.5 0.4,1.2 0.4,1.7 0.4-2.5 0.4-0.1 0.4-0.3 0.4-0.6 0.4,1.9 0.4,0.6 0.4-0.7 0.4,0.4 0.4,0.6 0.4-1.9 0.4-0.1 0.4,0.9 0.4-1.9 0.4,0.3 0.4-0.4 0.4,0.1 0.4-2.2 0.4,0 0.4-1.3 0.4,0 0.5-3 0.4-0.5 0.4-1.3 0.4,1.1 0.4,0.4 0.4-0.5 0.4-1.2 0.4-1.8 0.4,0.5 0.4,0.2 0.4,0 0.4-2.7 0.4-1.3 0.4-0.4 0.4-0.8 0.4,0 0.4-0.7 0.4,1.1 0.4,0.2 0.4,0.8 0.4-1.8 0.4,0.5 0.4,0.9 0.4-0.4 0.4,0.2 0.4,0.8 0.4-0.4 0.4-1.3 0.4,0.2 0.4,0.2 0.4-2.1 0.4-0.1 0.4-1 0.4-1.1 0.4-0.1 0.4,0.6 0.4,0 0.4,0.5 0.4-1.6 0.4-1.4 0.4,0.9 0.4-1.5 0.4-0.2 0.4,1.3 0.4-2.1 0.4-0.7 0.4-0.2 0.4,0 0.4,0.5 0.4-1.2 0.4,0.4 0.4-1.2 0.4,1 0.4-0.8 0.4-3.1 0.5,0.5 0.4-0.8 0.4-0.9 0.4-0.6 0.4-1.7 0.4,1.1 0.4-0.2 0.4-3.8 0.4,0.2 0.4-1.2 0.4-1.6 0.4-1.4 0.4-0.4 0.4-3.5 0.4,1 0.4,0.9 0.4-1.8 0.4-0.8 0.4,0.4 0.4-1.3 0.4-1.3 0.4-0.7 0.4-0.3 0.4-0.6 0.4-2.1 0.4,1.9 0.4,0.1 0.4-0.6 0.4-0.6 0.4,0.1 0.4,0.5 0.4-1.5 0.4,1.9 0.4,0.6 0.4-0.3 0.4-3.3 0.4,0.8 0.4,2 0.4-0.2 0.4-1.4 0.4,0.7 0.4-0.6 0.4-0.3 0.4,0.8 0.4-0.8 0.4,2.5 0.4-1.8 0.4,0.7 0.4,0.2 0.4-2 0.4,0.8 0.4-1.7 0.4,0.5 0.4,0.2 0.4-1.1 0.4-1.9 0.5,1.2 0.4,0.6 0.4-0.6 0.4-1.2 0.4,1 0.4-1.7 0.4-0.1 0.4-0.5 0.4-2 0.4,1 0.4-3 0.4-0.9 0.4,1.2 0.4-0.7 0.4,0.6 0.4,0.1 0.4,0.8 0.4-0.1 0.4,0.6 0.4-0.3 0.4,3.1 0.4,0.1 0.4-0.9 0.4,0.4 0.4-2 0.4,1.5 0.4-0.5 0.4,1.7 0.4,1.9 0.4,0.3 0.4-0.1 0.4,0.2 0.4,1.5 0.4-1.6 0.4,0.7 0.4,0.8 0.4,0.4 0.4-0.1 0.4-0.9 0.4-0.2 0.4-1.7 0.4,0.7 0.4,1.2 0.4-0.9 0.4-1 0.4-0.6 0.4-1.4 0.4,1 0.4-1.4 0.4,0.5 0.4,2.4 0.4,3.3 0.4-0.4 0.4-0.3 0.4,3.5 0.5,1.4 0.4,0.3 0.4-0.4 0.4,0.4 0.4-0.4 0.4,1.2 0.4,0 0.4-1.2 0.4-2.1 0.4,1.2 0.4-1.8 0.4,0.5 0.4,1.1 0.4,0.1 0.4-0.8 0.4-0.7 0.4-2.1 0.4,3 0.4-0.2 0.4-0.2 0.4,3.8 0.4-1.6 0.4,0.9 0.4-0.8 0.4,1.2 0.4,0.8 0.4-0.6 0.4,0.8 0.4,2.4 0.4,2.1 0.4,0.3 0.4,0 0.4,3.1 0.4,0.4 0.4,1.3 0.4-0.5 0.4,0.3 0.4-1.2 0.4-0.7 0.4,1.2 0.4-1.3 0.4,1.3 0.4,0.7 0.4,1.4 0.4-1.6 0.4-0.2 0.4-0.4 0.4-0.1 0.4,0.8 0.4,1 0.4-1.4 0.4,3.7 0.4-0.1 0.4-0.1 0.4,0.9 0.4-2.8 0.5,0.6 0.4,0.1 0.4,0.7 0.4-0.1 0.4-0.4 0.4,1.3 0.4-0.7 0.4,0.3 0.4,0.1 0.4,0.7 0.4-0.5 0.4-0.5 0.4-0.8 0.4-1.5 0.4-1 0.4-0.5 0.4-1.4 0.4,2.3 0.4-1.1 0.4-0.2 0.4,0.7 0.4,0.2 0.4,2.6 0.4,0.2 0.4,0 0.4,1.5 0.4-0.8 0.4-0.8 0.4,1.9 0.4-0.2 0.4,0.3 0.4,0.9 0.4,1.1 0.4-1.5 0.4,2.1 0.4-0.7 0.4,2.4 0.4-0.7 0.4-0.7 0.4-0.6 0.4,0.7 0.4-0.9 0.4,3.7 0.4-0.7 0.4,1.7 0.4-0.1 0.4-0.3 0.4-1.2 0.4,0.5 0.4,1.5 0.4-1 0.4,1.8 0.4-1.1 0.4-0.4 0.4-1.5 0.5,2.4 0.4-1.1 0.4,1.3 0.4,1 0.4-1.7 0.4,0.8 0.4,0.3 0.4,1.7 0.4,0.1 0.4,1.4 0.4,1.1 0.4-1.3 0.4,0.8 0.4,3.3 0.4-1.4 0.4,0.5 0.4,1.6 0.4-0.8 0.4-0.8 0.4,0.6 0.4,2 0.4-0.1 0.4,1.4 0.4,0.2 0.4,1.6 0.4-0.5 0.4,1 0.4,1.8 0.4-0.2 0.4,0.1 0.4,2 0.4-0.1 0.4,1.2 0.4-1.1 0.4,2.1 0.4,1.3 0.4,0.2 0.4,1 0.4,0.2 0.4,2.1 0.4,0.6 0.4,0.1 0.4-2.2 0.4,1.5 0.4,0.2 0.4-2.2 0.4,0.6 0.4,0.1 0.4-2.5 0.4,0.8 0.4-0.4 0.4,0.4 0.4-1.4 0.4-0.4 0.4-0.9 0.4-1.1 0.5-0.5 0.4,0 0.4-0.5 0.4,2.6 0.4-3.1 0.4-0.1 0.4,1.4 0.4-0.1 0.4,2.9 0.4-2.3 0.4,0.1 0.4-1.9 0.4,2.5 0.4-0.5 0.4-0.8 0.4,2.3 0.4-1 0.4,1.3 0.4-0.4 0.4,0.5 0.4-1.1 0.4,0.6 0.4,0.8 0.4,0.7 0.4,0.1 0.4,0 0.4-2.2 0.4,1.3 0.4-0.7 0.4,1 0.4,0.1 0.4,0.6 0.4-1.1 0.4-0.4 0.4,1.8 0.4,0.6 0.4,0.3 0.4,0.4 0.4,0.3 0.4-0.3 0.4,0.5 0.4,2.8 0.4-0.4 0.4,1 0.4,0 0.4-1.3 0.4-1 0.4,1.4 0.4,0.5 0.4-0.6 0.4,0 0.4-0.9 0.4,0.6 0.4-1.3 0.4,0.7 0.5-2.9 0.4,1.1 0.4,0.2 0.4-1.5 0.4,0.1 0.4,2.2 0.4-3 0.4,1.8 0.4-2.1 0.4-1.1 0.4-0.6 0.4-0.9 0.4-0.7 0.4,0.6 0.4-2.7 0.4-0.1 0.4-1 0.4-0.9 0.4,0.2 0.4,0.9 0.4,1.3 0.4-0.2 0.4,0.2 0.4,1.7 0.4,1.5 0.4-1.3 0.4-0.5 0.4,0.5 0.4-0.7 0.4-1 0.4,0.3 0.4,0.9 0.4-1.2 0.4,0.4 0.4,0 0.4-1.3 0.4-1.6 0.4,1.7 0.4-1.3 0.4,0 0.4,0.1 0.4,0.8 0.4-0.3 0.4,0.3 0.4-0.9 0.4-0.7 0.4-1.8 0.4-2 0.4,2 0.4-1.2 0.4,1.4 0.4-1.4 0.4,1.3 0.4-1.2 0.4,0.2 0.4,0.8 0.5-1.3 0.4,1.1 0.4-0.6 0.4,0 0.4-1.5 0.4,2.2 0.4-2 0.4-0.7 0.4-0.9 0.4-2.5 0.4-2.7 0.4-2 0.4-1.3 0.4-2 0.4-1.6 0.4-1.2 0.4-1.8 0.4-1.2 0.4-1.4 0.4-0.4 0.4-4.5 0.4-0.1 0.4-0.2 0.4-3.7 0.4-1.2 0.4,1.2 0.4-3.5 0.4,0.6 0.4-1.6 0.4-1.1 0.4,0.3 0.4-0.1 0.4-1.8 0.4-0.3 0.4,1.4 0.4-2.3 0.4-0.4 0.4-0.8 0.4,1.7 0.4-1.5 0.4,1.2 0.4-0.5 0.4-0.2 0.4-0.3 0.4-1.2 0.4-1.5 0.4-1.6 0.4-0.7 0.4-0.4 0.4,0.4 0.4-1.2 0.4,0.4 0.4-1 0.4-2.1 0.4,1.6 0.5,2 0.4-0.2 0.4,0.5 0.4,0.3 0.4,1.8 0.4-0.5 0.4-1 0.4-1.3 0.4,0.1 0.4,1.9 0.4,1.4 0.4,1.8 0.4,0.9 0.4-0.5 0.4-0.4 0.4-0.4 0.4-0.4 0.4,2.9 0.4,0.2 0.4-1 0.4,0.7 0.4,1.6 0.4,2.4 0.4-0.8 0.4,2.1 0.4-0.2 0.4,2.4 0.4,2.1 0.4-2.5 0.4,0.4 0.4,0 0.4-1.1 0.4-1 0.4-0.4 0.4-0.5 0.4,0.2 0.4,2.2 0.4,0.2 0.4,1.1 0.4,0 0.4,1.5 0.4,0.5 0.4,2.3 0.4,2 0.4,2.1 0.4,2.9 0.4,2.9 0.4,3.5 0.4-1.4 0.4,4.8 0.4,1.3 0.4-2.3 0.4,2.8 0.4,2.1 0.4,3.1 0.4,1.4 0.5,1.8 0.4,0.4 0.4,0.5 0.4,2.3 0.4,0.8 0.4-1.9 0.4-0.5 0.4,3.3 0.4,1.1 0.4,2.9 0.4,2 0.4,2.4 0.4,0.6 0.4,0.7 0.4,2 0.4,1.4 0.4,3.2 0.4-1.1 0.4,0.5 0.4,1.6 0.4-0.3 0.4-0.5 0.4-0.1 0.4-0.9 0.4,1.6 0.4-0.1 0.4,1.9 0.4,0.3 0.4,0.7 0.4,1"/>
<path stroke="#b488e8" d="M54.4,159.5l0.4-2.4 0.4,1.5 0.4-0.6 0.4,1.2 0.4,0.3 0.4-1.7 0.4,2.3 0.4,1.2 0.4-3.1 0.4,3.3 0.4,0.6 0.4-0.5 0.4-0.2 0.4-1.2 0.4,0.5 0.4-1.1 0.4-2.2 0.5-0.1 0.4,1 0.4-0.8 0.4-0.7 0.4,1.8 0.4,0.2 0.4,1.1 0.4-0.6 0.4,0.3 0.4-2 0.4,1.5 0.4-2.4 0.4-0.7 0.4,1.9 0.4-1.5 0.4,1.7 0.4,1.1 0.4-1.3 0.4,0.4 0.4,0.8 0.4-0.8 0.4,1.6 0.4-0.6 0.4,1.7 0.4,0.5 0.4,1.7 0.4-0.7 0.4,0 0.4-0.4 0.4,2.4 0.4-1 0.4,1.1 0.4,0.8 0.4,1.5 0.4-0.8 0.4,0.6 0.4,1.6 0.4-1.5 0.4,0.4 0.4-0.1 0.4,0.1 0.4-3.2 0.4,1.2 0.4-0.5 0.4-1.2 0.4-1 0.4,0.3 0.4,0 0.4,0.2 0.4,0.4 0.4-0.3 0.4-1.8 0.4,0.1 0.4-1.1 0.4,1.2 0.4-4.7 0.5-1.5 0.4-1.3 0.4-0.7 0.4,1 0.4-0.1 0.4-1.4 0.4,0.4 0.4,0 0.4,1.3 0.4-2.4 0.4,1.1 0.4,0.1 0.4-1.1 0.4,0.1 0.4-1.4 0.4-0.2 0.4-1.3 0.4,1.7 0.4-3.2 0.4,1.4 0.4-0.2 0.4-0.9 0.4-0.7 0.4-0.7 0.4-1.3 0.4,1.7 0.4-0.9 0.4,0 0.4-0.5 0.4-0.8 0.4-3.1 0.4,2 0.4,0.5 0.4-2.5 0.4,2.3 0.4-2.2 0.4-0.6 0.4,1.5 0.4,1.2 0.4-1.1 0.4-0.1 0.4,1.5 0.4-1.5 0.4-2.5 0.4,0.2 0.4-0.4 0.4,1.4 0.4,0.1 0.4-1.5 0.4-0.6 0.4-0.7 0.4-0.5 0.4-2.1 0.4-0.5 0.4-1.7 0.5-0.6 0.4,2.1 0.4-0.8 0.4-1 0.4-1.7 0.4,1.3 0.4-1.7 0.4,0.7 0.4-1.5 0.4,1.6 0.4-1.7 0.4-0.1 0.4-2 0.4,1.3 0.4-0.8 0.4-0.5 0.4-0.5 0.4-0.2 0.4-1.7 0.4,0 0.4,1.2 0.4,0.4 0.4-2.3 0.4,0.8 0.4,0 0.4-0.5 0.4,0.9 0.4-0.6 0.4-0.4 0.4,0.6 0.4,0.6 0.4-1.9 0.4,0.5 0.4-1 0.4,0.7 0.4-0.5 0.4-1 0.4,1.1 0.4-1.6 0.4,0.5 0.4-1.7 0.4-1.6 0.4-0.9 0.4,0.2 0.4-0.2 0.4,0.8 0.4-0.1 0.4,0.6 0.4-0.8 0.4,1.6 0.4-2.5 0.4-2.5 0.4,1.7 0.4-0.1 0.4-0.1 0.4,2.5 0.5-1.4 0.4,0.4 0.4-3.3 0.4,1.5 0.4,0.8 0.4-1.1 0.4-2.1 0.4,1.1 0.4,1.7 0.4-2 0.4-1 0.4-1.3 0.4,2.3 0.4,1.2 0.4-0.5 0.4,1.4 0.4,0.7 0.4,2.1 0.4-2.6 0.4-1.2 0.4,3 0.4-1.7 0.4,1.4 0.4,0.6 0.4,0.9 0.4,0.5 0.4-0.5 0.4-0.2 0.4-0.9 0.4,0.8 0.4-1.4 0.4-0.8 0.4,1.8 0.4-2.2 0.4-2 0.4-0.6 0.4-0.7 0.4,1 0.4-1.4 0.4,1.2 0.4-1.8 0.4-0.3 0.4,1.8 0.4-0.6 0.4-0.5 0.4,1.4 0.4,0.1 0.4,1.8 0.4,1.5 0.4,0 0.4,2.1 0.4-0.4 0.4-0.4 0.4,0.7 0.4-0.9 0.5,0.8 0.4,0.5 0.4,0.5 0.4-0.1 0.4,1.1 0.4-1.3 0.4,0.2 0.4-1.2 0.4-0.4 0.4,0.4 0.4-0.3 0.4-0.7 0.4,2.8 0.4-0.9 0.4-1.1 0.4,1 0.4,1.2 0.4-0.1 0.4-1.5 0.4-0.8 0.4,1.2 0.4,0.3 0.4-1 0.4,1.7 0.4-1.2 0.4,0.6 0.4,2.1 0.4-1.1 0.4-0.3 0.4-0.8 0.4,1.4 0.4-1.7 0.4,1.5 0.4,0.2 0.4,0.6 0.4,1.1 0.4,1.5 0.4-1.6 0.4,0.5 0.4-0.5 0.4-0.6 0.4,2.3 0.4-0.5 0.4,2.1 0.4-3.8 0.4,2.6 0.4,2.2 0.4-1.8 0.4,0.2 0.4-1.1 0.4,0.3 0.4-0.6 0.4-0.6 0.4,1.2 0.4,0.4 0.4,1.3 0.5-1.2 0.4,0.1 0.4-1.1 0.4-1.3 0.4,0 0.4,0.8 0.4,0.6 0.4,1.3 0.4-1.8 0.4,3 0.4-1 0.4,1 0.4,3.7 0.4-3.4 0.4,1.4 0.4,0.2 0.4,2.1 0.4-0.3 0.4,0.3 0.4,0.6 0.4-2.9 0.4,0.5 0.4,0.6 0.4-0.2 0.4-0.4 0.4,2.1 0.4,2.3 0.4-2.3 0.4-1 0.4,1.3 0.4-2 0.4,2.6 0.4,0.5 0.4-0.9 0.4,0.2 0.4,0.6 0.4,2.1 0.4-2 0.4,0.1 0.4-1.4 0.4,2.1 0.4,2.2 0.4-3.4 0.4,0.1 0.4-1.1 0.4,0.8 0.4,1.7 0.4,0 0.4-1 0.4,1.1 0.4,1.4 0.4-0.5 0.4,0.5 0.4-1.2 0.4-1.1 0.5,0.9 0.4-1.7 0.4,1.5 0.4-0.2 0.4-0.7 0.4,0.6 0.4-0.7 0.4,0.6 0.4,0.3 0.4,1.1 0.4-1 0.4-1.1 0.4,0.7 0.4,0 0.4-0.2 0.4,1.4 0.4-1 0.4-0.1 0.4,0.3 0.4,0.9 0.4,1.2 0.4-2.3 0.4,2.4 0.4,0.1 0.4,0.5 0.4-0.8 0.4,1.3 0.4-1.6 0.4,2 0.4,0.8 0.4,0.4 0.4-1.2 0.4,1.5 0.4-1.6 0.4,1 0.4-0.1 0.4-0.6 0.4,2.3 0.4,0.1 0.4-2.1 0.4,2.9 0.4,1.6 0.4-0.6 0.4,0.4 0.4-0.2 0.4-0.8 0.4,1.7 0.4,0.6 0.4-0.7 0.4-0.5 0.4,0.5 0.4-0.5 0.4,0.2 0.4,0.8 0.4,1.1 0.4-0.1 0.5-1.5 0.4,0.3 0.4,2.7 0.4-0.3 0.4-1.1 0.4,1.4 0.4,1.3 0.4-0.6 0.4-0.1 0.4,0.5 0.4-0.1 0.4-0.4 0.4,1.4 0.4,1.5 0.4-0.2 0.4,0.4 0.4-1.9 0.4,2.1 0.4,0.8 0.4-1.5 0.4,0.1 0.4,1.6 0.4,0.3 0.4-0.1 0.4,1.2 0.4,0.7 0.4-1.8 0.4,1.3 0.4,0.9 0.4-1.1 0.4,0.4 0.4,0.1 0.4,0.2 0.4-0.6 0.4,0.2 0.4,0.1 0.4,0.9 0.4,1 0.4,0.1 0.4,1.3 0.4,2.2 0.4,0.3 0.4-1.2 0.4-0.6 0.4,0.2 0.4,0.8 0.4,0.9 0.4,1.2 0.4,0.2 0.4,1.9 0.4,0.3 0.4,0 0.4,2.1 0.4-0.7 0.4,2.5 0.5-2 0.4-0.4 0.4,0.4 0.4,0.2 0.4,0.7 0.4,0.1 0.4,2.7 0.4,0.1 0.4-1.6 0.4,0.7 0.4-0.9 0.4,0.1 0.4-2.2 0.4,1.5 0.4-2.2 0.4,1 0.4-0.7 0.4,0.4 0.4,0.9 0.4-1.1 0.4,0.6 0.4,0.4 0.4,0.1 0.4-2 0.4,0.2 0.4,0 0.4,1.1 0.4,1.3 0.4-0.1 0.4-1.6 0.4,0.1 0.4-1.1 0.4,0.7 0.4,1.4 0.4-3 0.4,0.2 0.4,1.5 0.4,1.2 0.4-3.2 0.4-0.7 0.4,0.7 0.4-1.4 0.4,1.1 0.4-1 0.4,0.1 0.4-0.1 0.4,0.4 0.4-2.3 0.4-0.4 0.4-0.8 0.4-0.6 0.4,0.7 0.4-1.8 0.4-0.8 0.4,0.7 0.4,1.3 0.5,0.2 0.4-1.8 0.4,1.1 0.4-1 0.4-1 0.4,0.5 0.4-1 0.4,0.7 0.4-1.8 0.4-1.2 0.4-2 0.4-0.8 0.4,2.1 0.4-3.2 0.4-0.6 0.4-1.3 0.4,0.3 0.4-1.9 0.4,0 0.4-1.3 0.4-2.9 0.4-0.6 0.4-0.9 0.4-2.6 0.4,0.1 0.4-2 0.4-1 0.4-2 0.4-0.9 0.4,1.4 0.4-0.1 0.4-0.1 0.4,0.3 0.4-4.2 0.4,0.5 0.4,0.6 0.4-1.4 0.4-3 0.4,2.8 0.4-0.4 0.4-0.1 0.4,1.5 0.4-2.3 0.4-3.1 0.4,0.8 0.4,0.7 0.4-3.2 0.4,0.4 0.4,1.3 0.4-2.7 0.4,0.7 0.4,0.4 0.4,0.1 0.4,1.3 0.4,1.8 0.5-0.9 0.4,0.3 0.4-0.7 0.4,2.3 0.4,0.2 0.4,0.3 0.4-0.1 0.4-0.1 0.4-0.4 0.4-0.5 0.4,3.1 0.4,1.9 0.4,1.4 0.4,0.5 0.4-0.8 0.4,2.6 0.4,0.3 0.4,0.6 0.4,0 0.4,1.5 0.4,2.2 0.4-0.1 0.4,0 0.4,4.7 0.4-0.8 0.4,0.3 0.4,1 0.4,2 0.4-1.1 0.4,0.2 0.4,1.9 0.4-0.5 0.4,2.5 0.4,0.9 0.4,0.7 0.4-1 0.4,1.2 0.4,1.2 0.4-0.1 0.4-1.2 0.4,1.2 0.4,0.7 0.4,1.8 0.4,1.6 0.4,1.1 0.4,1.2 0.4,0.5 0.4,1.7 0.4,1.8 0.4-1 0.4,0.6 0.4,1.6 0.4,0.5 0.4,0.9 0.4,1.7 0.4,0.7 0.5,1.4 0.4,2.7 0.4-0.6 0.4,2 0.4,1.5 0.4-1.4 0.4-0.1 0.4,2.1 0.4-0.5 0.4,1.8 0.4-1.1 0.4,3.2 0.4-0.6 0.4,0.5 0.4,1 0.4,2.1 0.4-0.9 0.4,2.8 0.4,1 0.4,0.1 0.4,0.1 0.4,1 0.4-0.8 0.4-1.1 0.4,1.6 0.4-1.2 0.4,3.2 0.4-2.4 0.4,1.2 0.4-1.8"/>
<path stroke="#d8aa3a" d="M54.4,158.6l0.4-0.2 0.4,1.1 0.4,1.1 0.4-2.4 0.4,1.6 0.4,0.8 0.4-2 0.4-3.9 0.4,0.5 0.4,0.6 0.4-0.4 0.4,0.2 0.4-1 0.4,0.5 0.4-1.6 0.4,0.3 0.4,1 0.5-1.3 0.4,0 0.4-1.6 0.4-0.5 0.4,0.5 0.4-2 0.4-0.7 0.4,1.6 0.4,0.8 0.4,1.9 0.4-2.2 0.4-1.2 0.4,0.1 0.4-0.3 0.4,0.1 0.4-2 0.4-0.3 0.4,1.1 0.4-2.6 0.4-0.3 0.4,0.5 0.4-1.4 0.4-0.3 0.4-0.2 0.4-2.2 0.4,1 0.4-0.2 0.4,1.6 0.4-3.3 0.4,0.3 0.4-0.1 0.4-1 0.4-2 0.4-2.5 0.4,2 0.4-1 0.4,0 0.4,0.2 0.4-1.5 0.4,0.7 0.4,2.6 0.4-0.4 0.4-1.2 0.4,2.1 0.4,0.8 0.4-1 0.4,0.2 0.4,0.7 0.4-0.3 0.4-0.4 0.4-2.5 0.4,0.9 0.4,0.8 0.4-0.6 0.4,3.5 0.4-1.9 0.5,1.5 0.4-0.6 0.4,0.6 0.4,1.5 0.4-0.9 0.4,0.3 0.4-1.2 0.4,0.2 0.4,0 0.4,1.4 0.4-2 0.4,0.1 0.4-0.8 0.4,1.6 0.4,1.3 0.4-1.5 0.4,1.2 0.4,0.9 0.4-0.1 0.4-0.8 0.4-2.4 0.4,2.5 0.4,0.2 0.4,2.2 0.4,2.5 0.4,0.1 0.4,0 0.4,2 0.4,0 0.4,3 0.4-0.1 0.4,1.5 0.4-0.3 0.4-0.9 0.4-0.2 0.4-1.2 0.4-0.2 0.4-1.1 0.4,0.5 0.4-0.7 0.4-0.5 0.4-3.3 0.4-0.2 0.4-0.4 0.4-0.9 0.4-0.8 0.4,3.7 0.4-3.8 0.4,0.6 0.4-2.1 0.4,0 0.4,0.4 0.4-1.8 0.4,0 0.4,1.1 0.5,0.8 0.4,0.6 0.4,0.2 0.4,0.4 0.4,1.1 0.4,2.1 0.4,0.7 0.4,0.4 0.4,1 0.4-1.9 0.4-0.2 0.4-1.8 0.4,0.6 0.4-1 0.4,1.7 0.4-2 0.4-0.5 0.4-0.2 0.4-0.3 0.4,0.2 0.4-1.9 0.4-1.5 0.4,0.6 0.4,1.3 0.4,0.9 0.4-0.5 0.4-0.7 0.4,1.6 0.4-1.4 0.4-1.6 0.4,1.1 0.4-0.9 0.4,0.6 0.4-0.3 0.4-0.5 0.4,1.3 0.4-0.5 0.4-1.3 0.4,2.4 0.4,2.2 0.4-1.3 0.4-0.3 0.4,1.9 0.4-2.6 0.4-1.6 0.4-2.4 0.4-2.6 0.4-2.2 0.4-3.2 0.4-0.7 0.4-1.4 0.4-3.2 0.4-2.3 0.4,1.2 0.4-1.7 0.4-1.8 0.5-0.9 0.4-0.1 0.4-1.8 0.4-1.3 0.4-1.4 0.4-1 0.4-2.3 0.4-1.1 0.4-0.2 0.4,1.4 0.4-3.2 0.4,1 0.4,1.4 0.4-0.3 0.4,0.3 0.4-1.3 0.4-1.4 0.4-0.2 0.4-1 0.4-1.1 0.4,1.2 0.4,0 0.4-1 0.4,1.5 0.4-0.1 0.4,1.2 0.4,0.1 0.4,0.9 0.4,1.7 0.4-2.1 0.4,0.9 0.4-1.7 0.4-1.8 0.4,1.9 0.4,1.5 0.4-1.2 0.4,0 0.4,1.1 0.4,0.7 0.4,1 0.4,0 0.4,1.8 0.4-0.9 0.4-0.1 0.4,1.1 0.4-1 0.4,0 0.4,1.8 0.4-1.3 0.4-1.3 0.4-2.5 0.4,1 0.4-0.2 0.4,0 0.4-3.1 0.5,0.3 0.4,2.2 0.4-1.3 0.4-1.4 0.4,0.8 0.4,1.1 0.4-1.1 0.4-1.3 0.4-2.5 0.4,0.6 0.4,2.6 0.4,0.6 0.4,0 0.4,1.9 0.4-0.7 0.4,0 0.4,0.5 0.4-2 0.4,0.1 0.4,1.9 0.4-1.4 0.4,0.2 0.4,1.3 0.4-1.5 0.4,2.2 0.4-1.5 0.4-1.2 0.4,1.9 0.4-3.1 0.4,2.5 0.4-1 0.4,0.9 0.4,2.3 0.4,3.3 0.4,2.5 0.4,3.3 0.4,2.1 0.4-0.8 0.4,1.6 0.4-0.2 0.4,0.6 0.4-0.6 0.4,3 0.4-1 0.4-0.1 0.4,1.4 0.4,0.2 0.4-0.1 0.4-1.7 0.4-2.2 0.4-2.6 0.4-3.5 0.4,0.4 0.4-3.2 0.4-4 0.4,1.8 0.5-0.6 0.4-1.7 0.4-4.4 0.4-3.9 0.4-2.8 0.4,2.5 0.4,0.1 0.4,0.5 0.4,2.4 0.4-2.1 0.4,0.3 0.4-0.6 0.4,1.7 0.4,1.2 0.4-0.8 0.4-1.2 0.4,1.5 0.4-0.5 0.4-1 0.4,0.2 0.4,0.5 0.4-2 0.4,1.5 0.4-0.7 0.4,0.7 0.4,0 0.4,1.5 0.4,0.5 0.4,3.1 0.4-0.6 0.4,1.5 0.4-0.5 0.4-1.5 0.4,0.2 0.4,1.2 0.4-0.1 0.4,1.6 0.4,2.7 0.4-0.4 0.4,3.6 0.4,2 0.4,1.4 0.4,0.1 0.4,3.5 0.4,0.6 0.4,5.1 0.4-0.1 0.4,0.4 0.4,0 0.4,1.4 0.4-0.7 0.4,1.6 0.4,0.7 0.4-1.1 0.4,1.3 0.5,1.1 0.4-1.8 0.4-1.3 0.4,1.1 0.4,0.5 0.4-2.7 0.4-1.1 0.4,1.5 0.4,0.9 0.4-2.2 0.4-0.6 0.4,1.1 0.4-0.4 0.4-1.1 0.4-0.9 0.4-2.4 0.4,0.8 0.4,0.1 0.4-2.9 0.4,2.5 0.4-0.3 0.4-1.5 0.4,0.1 0.4,0.6 0.4,1.4 0.4-0.7 0.4,0.8 0.4,0.7 0.4,1.4 0.4,1.2 0.4-0.1 0.4,2.1 0.4,2.7 0.4-0.5 0.4,1.6 0.4,0.6 0.4,2 0.4,2.6 0.4,2.1 0.4-0.8 0.4,0.2 0.4,0.2 0.4,0.9 0.4,1 0.4,0.5 0.4,0.1 0.4,1.4 0.4,1.2 0.4,0.9 0.4-0.6 0.4-1.9 0.4-0.1 0.4,1.4 0.4-0.1 0.4,0 0.4-2.3 0.5,1.6 0.4,0 0.4-1.3 0.4,0.6 0.4-1.8 0.4-0.2 0.4-1.1 0.4-0.3 0.4-0.5 0.4-1.6 0.4-0.2 0.4,1.3 0.4-1.2 0.4-1.5 0.4,2.4 0.4-4 0.4-0.1 0.4,0.3 0.4-0.4 0.4-2.6 0.4,0.8 0.4-2.2 0.4,2.1 0.4-2.2 0.4-2.1 0.4-0.4 0.4-2.8 0.4,1.1 0.4,0.8 0.4-0.2 0.4-1.8 0.4,1.2 0.4-0.2 0.4-0.5 0.4-0.6 0.4,0.8 0.4,3.1 0.4,0.7 0.4,1.2 0.4,1.2 0.4,0.4 0.4,2.1 0.4,0.1 0.4,1.3 0.4,2.9 0.4,1.1 0.4-0.5 0.4,1.3 0.4,2.6 0.4-1.5 0.4,2.9 0.4-1.9 0.4,3.4 0.4,3.4 0.4,3.1 0.5,0.2 0.4,2.6 0.4,3.3 0.4-0.4 0.4,2.3 0.4-0.6 0.4,3.1 0.4,3.9 0.4,2.3 0.4,1.1 0.4,1.8 0.4,1.7 0.4-1.3 0.4,1 0.4,0.9 0.4-0.6 0.4,2.4 0.4-1.5 0.4,0.8 0.4-0.4 0.4-0.5 0.4,0.8 0.4,0 0.4-1.5 0.4,0.3 0.4,0.9 0.4-0.2 0.4,1.3 0.4-0.5 0.4-1.2 0.4-0.4 0.4,0.9 0.4-1.6 0.4,0.6 0.4-1.9 0.4,1.2 0.4,2.6 0.4-1.6 0.4,1 0.4,1.6 0.4,1 0.4-0.1 0.4,0 0.4-0.1 0.4,1.4 0.4,0.8 0.4-0.8 0.4,0.1 0.4,3.1 0.4-0.6 0.4-0.6 0.4,0.2 0.4-0.5 0.4,3.7 0.4-1.8 0.4,0.5 0.5-0.1 0.4-0.8 0.4-0.7 0.4-0.7 0.4,1.2 0.4,1.2 0.4,1.2 0.4,0.1 0.4,0 0.4-0.1 0.4-0.2 0.4-1.6 0.4-1.6 0.4,0.9 0.4-1.6 0.4-1.4 0.4,0.8 0.4,0.5 0.4-1.2 0.4-2.8 0.4,0.3 0.4,1.1 0.4-4 0.4-2.5 0.4,3.1 0.4-2.2 0.4-0.4 0.4-2.6 0.4,0.1 0.4-2.7 0.4-0.6 0.4-2 0.4-3.5 0.4-2.5 0.4-3.5 0.4-1.7 0.4-1.9 0.4-3.5 0.4-2.8 0.4-5.2 0.4-3 0.4-3.9 0.4-3.5 0.4-2.7 0.4-1 0.4,0.1 0.4-1.9 0.4-0.8 0.4-1.9 0.4-3.2 0.4,0.4 0.4,0.6 0.4-1.5 0.4,1.5 0.4,0.5 0.5-1.1 0.4,1.5 0.4-0.5 0.4,0.3 0.4,2.9 0.4-1.2 0.4,2.4 0.4-0.5 0.4-0.6 0.4,1.9 0.4,2 0.4,1.2 0.4-0.6 0.4,1.5 0.4,1.1 0.4-1 0.4,1 0.4,0 0.4,2.1 0.4,1.3 0.4,1.8 0.4,1.2 0.4-3.6 0.4,0.7 0.4,1.6 0.4,2.5 0.4-1.6 0.4,1.6 0.4-0.7 0.4,0.6 0.4-0.7 0.4,1.3 0.4-0.2 0.4,0.6 0.4,1.6 0.4-0.2 0.4,1.6 0.4-0.3 0.4,0.9 0.4-0.8 0.4,2 0.4,1.2 0.4,1.1 0.4-0.3 0.4-0.3 0.4,2.8 0.4-1.1 0.4,0.5 0.4-1.2 0.4-1.1 0.4,1 0.4,1.5 0.4-0.7 0.4,0.8 0.4,1.7 0.4-1 0.5,3.5 0.4-0.7 0.4-0.9 0.4,0.8 0.4,2 0.4,2.1 0.4,0.4 0.4,1.8 0.4,2.4 0.4,1.8 0.4,1.1 0.4,4 0.4,0.5 0.4,2.4 0.4,0.7 0.4,2.8 0.4,1.1 0.4,0.1 0.4,2.2 0.4,1.5 0.4,2.2 0.4-0.1 0.4,0.1 0.4,2.6 0.4-0.6 0.4-0.1 0.4,1.7 0.4,2 0.4-0.8 0.4,0.7"/>
<path stroke="#3cc8cc" d="M54.4,152.2l0.4,0.7 0.4,3.4 0.4,0.7 0.4,2.7 0.4,1.7 0.4,0.7 0.4,2 0.4,0.9 0.4,2.9 0.4,0.6 0.4,1.2 0.4-2.1 0.4,2.2 0.4,0.1 0.4,1.4 0.4,1 0.4,0 0.5,1.6 0.4,0.1 0.4-0.6 0.4-0.9 0.4-0.3 0.4-2.1 0.4-0.4 0.4-0.4 0.4-1.3 0.4-2.1 0.4-1.8 0.4-0.3 0.4-0.6 0.4-2.7 0.4-0.6 0.4-3.4 0.4-0.5 0.4,1.5 0.4-2.3 0.4-4.1 0.4,2.5 0.4-0.4 0.4-0.4 0.4-0.8 0.4-0.3 0.4-2.1 0.4,0.7 0.4-2.4 0.4,0 0.4-1.9 0.4-1.1 0.4-0.1 0.4-0.5 0.4-1.1 0.4-2.2 0.4-0.2 0.4-2.8 0.4-0.2 0.4-1 0.4-3.7 0.4,0.6 0.4-2.2 0.4,0.1 0.4-1.1 0.4,0.1 0.4-2.1 0.4-0.2 0.4,0 0.4-2 0.4,0.4 0.4-1.7 0.4,1.2 0.4-1.1 0.4,1.2 0.4-3.6 0.4,2.4 0.5-0.7 0.4,1.5 0.4,0.9 0.4,0.5 0.4-2.2 0.4,0.5 0.4-0.1 0.4,0.7 0.4-0.6 0.4,0.2 0.4,0.4 0.4,0.5 0.4-1.5 0.4,0.3 0.4-3.3 0.4,1.3 0.4-3.1 0.4,2 0.4,0.8 0.4-1.1 0.4-0.2 0.4,2.5 0.4-2.5 0.4-0.5 0.4-0.8 0.4,0.5 0.4,0.2 0.4-1.9 0.4,2 0.4-0.2 0.4,0 0.4-1 0.4-1.8 0.4-1.7 0.4,1.5 0.4-2.3 0.4-0.2 0.4-0.2 0.4-0.8 0.4-1.3 0.4,2.2 0.4,2.8 0.4,1.1 0.4-1.2 0.4,3.7 0.4,1 0.4,0.4 0.4,0.5 0.4-0.9 0.4,0.2 0.4,0 0.4,1.5 0.4-0.3 0.4,1.6 0.4,0.1 0.5,1 0.4,0.3 0.4,2.2 0.4-0.3 0.4,0.7 0.4,1.9 0.4-2.5 0.4,0.6 0.4,1.4 0.4-0.4 0.4,1 0.4-1.3 0.4,1.5 0.4-1 0.4,0.9 0.4,0.6 0.4-1 0.4,2.2 0.4-0.6 0.4-0.3 0.4,2 0.4,1.9 0.4-0.2 0.4,3 0.4,0.2 0.4-0.2 0.4,0.3 0.4-1 0.4,0.2 0.4-0.2 0.4,1.3 0.4,0.7 0.4-1.6 0.4,0.5 0.4,1.1 0.4,1 0.4-0.4 0.4,1.9 0.4-3.1 0.4-3.7 0.4-0.1 0.4-0.7 0.4-0.3 0.4,0 0.4-2.2 0.4-2.1 0.4-0.5 0.4-0.3 0.4,0.2 0.4,0.7 0.4-1.5 0.4-0.6 0.4-2.4 0.4-0.7 0.4-5.6 0.4,1.8 0.5,0 0.4-2.1 0.4,2.3 0.4-0.3 0.4-1.8 0.4-1.4 0.4,1.6 0.4-0.6 0.4-1.1 0.4-0.6 0.4-2.3 0.4,0.8 0.4,0.5 0.4-0.9 0.4-0.1 0.4-1.3 0.4-0.4 0.4,1.8 0.4-1.6 0.4,0.4 0.4-0.1 0.4-0.9 0.4-1.7 0.4,1.4 0.4,2.7 0.4-1.2 0.4-1.6 0.4-0.1 0.4-0.4 0.4-0.7 0.4-0.7 0.4,0.8 0.4,1.6 0.4-1.7 0.4-1.7 0.4,0 0.4,1.3 0.4,0 0.4-1.8 0.4,0 0.4-1.4 0.4-0.8 0.4,2.5 0.4,0.8 0.4-0.1 0.4-3.2 0.4,0.9 0.4,1.1 0.4-2.3 0.4,1.1 0.4,0.2 0.4-2 0.4-0.2 0.4-2 0.4,2.1 0.5-0.1 0.4-2.1 0.4,2.3 0.4-0.3 0.4,1.2 0.4-0.6 0.4-0.8 0.4-0.9 0.4-1.7 0.4,1.8 0.4-1.2 0.4,0.3 0.4-1.1 0.4,2.2 0.4,0.4 0.4,0.7 0.4-0.4 0.4,1.9 0.4,1.3 0.4-0.5 0.4,3 0.4,1.5 0.4,1.6 0.4-0.3 0.4,3.3 0.4-0.2 0.4,1.1 0.4,0.5 0.4,0.8 0.4,1 0.4-2.4 0.4,3.5 0.4-0.3 0.4,1.2 0.4-0.1 0.4-0.6 0.4,0.4 0.4-1.1 0.4,3.5 0.4,0.5 0.4,0.2 0.4,0.1 0.4-0.6 0.4,0.3 0.4,0.5 0.4-1.6 0.4,1.3 0.4,1.1 0.4,0.9 0.4-0.1 0.4,1.7 0.4-1.3 0.4-0.8 0.4,0.5 0.4,1.3 0.4-0.3 0.5-1.9 0.4,3.2 0.4-0.2 0.4-2.3 0.4-0.4 0.4,1.9 0.4,1.4 0.4-1.6 0.4-0.8 0.4,0.9 0.4,0.5 0.4,0.5 0.4-0.1 0.4,1.4 0.4,0 0.4,1.3 0.4,0.8 0.4,1.2 0.4,1.9 0.4-1.6 0.4,0.3 0.4,0.4 0.4-0.1 0.4-0.4 0.4-0.2 0.4,3.2 0.4,2.5 0.4,5.2 0.4,3.5 0.4,2 0.4-1 0.4,0.3 0.4-1.1 0.4-0.3 0.4-3.4 0.4,1.4 0.4,0.6 0.4,0.9 0.4-1 0.4,0.1 0.4-0.2 0.4,3.5 0.4-1.7 0.4,0.6 0.4,3.4 0.4,0.2 0.4-0.3 0.4,2.1 0.4,0.2 0.4,4.3 0.4-2.7 0.4,0.8 0.4,0.2 0.4-3.5 0.4-2.4 0.5-3.8 0.4-2 0.4-2.4 0.4-0.9 0.4-2.1 0.4-2.3 0.4-1.4 0.4-2.4 0.4,2.3 0.4-1 0.4,1.2 0.4-0.5 0.4-0.2 0.4,0.9 0.4-2.7 0.4,1.6 0.4,1.9 0.4-0.8 0.4,0 0.4-0.5 0.4,0.3 0.4,1.1 0.4-1.9 0.4-1.2 0.4,0.4 0.4-2 0.4,0.3 0.4,2.1 0.4-1 0.4,1.2 0.4,0.7 0.4,3.2 0.4-0.8 0.4-1.5 0.4,1.9 0.4-0.4 0.4,1.7 0.4-0.7 0.4,1.9 0.4,0.7 0.4-3.1 0.4-0.1 0.4,1.8 0.4-1.1 0.4,1.3 0.4,0.1 0.4,0.4 0.4-0.7 0.4,0.8 0.4-0.7 0.4,0.6 0.4-0.1 0.4,0.8 0.4-3.8 0.4,3.4 0.4-0.1 0.5-1.9 0.4,0.3 0.4-0.7 0.4-1.6 0.4,0.2 0.4-2 0.4,1.5 0.4,0.3 0.4,0.2 0.4-2.4 0.4,1.7 0.4-1.6 0.4,1.2 0.4-0.5 0.4-0.4 0.4,0.2 0.4-0.4 0.4-1.3 0.4,2.4 0.4-0.5 0.4,1.8 0.4,2.5 0.4,1.2 0.4,2.2 0.4,1.9 0.4,0.1 0.4,2.3 0.4-0.8 0.4,2.1 0.4,1.2 0.4,0.3 0.4,0.6 0.4,1.7 0.4-1.6 0.4,3.2 0.4,0.4 0.4,0.8 0.4-0.2 0.4-0.2 0.4,0.3 0.4-0.7 0.4,0 0.4,1.4 0.4,2.9 0.4,2.1 0.4-0.5 0.4,2.8 0.4-0.5 0.4,1.7 0.4,0.1 0.4,1 0.4,0 0.4,0.1 0.4-2.1 0.4,0.5 0.5-0.3 0.4,0.7 0.4-0.4 0.4-1 0.4,1.2 0.4,1.2 0.4-0.5 0.4,0 0.4-0.9 0.4,0.2 0.4-1.3 0.4,0.7 0.4-1.9 0.4,1.4 0.4-1.9 0.4-0.7 0.4,2.7 0.4-0.8 0.4-0.6 0.4-0.2 0.4-1.3 0.4-1.9 0.4-1 0.4-3.5 0.4-0.5 0.4-1.3 0.4-0.4 0.4-2 0.4,1.7 0.4,0.9 0.4-1.3 0.4,2.3 0.4-1 0.4-1.4 0.4,0.5 0.4,0.8 0.4-0.7 0.4-1.6 0.4,0.5 0.4-0.6 0.4-1.4 0.4-0.4 0.4,1.5 0.4,1.1 0.4-1.4 0.4-0.2 0.4-2.2 0.4-0.5 0.4-1.4 0.4,1.1 0.4-1.5 0.4-1.3 0.4,1.8 0.4,0.8 0.4-1.3 0.4,1.7 0.5-0.6 0.4,1.5 0.4-1.8 0.4,1.5 0.4-0.2 0.4,0.6 0.4,0.4 0.4-2.6 0.4-0.8 0.4,0.4 0.4-2 0.4-0.1 0.4-0.7 0.4-1 0.4,0.3 0.4-2 0.4-0.7 0.4-1.3 0.4-2.5 0.4,0.3 0.4,1.1 0.4-2.2 0.4-2.8 0.4-1.4 0.4-0.1 0.4,0 0.4-3 0.4-2.5 0.4,2.1 0.4-0.4 0.4,0.1 0.4-0.5 0.4,2.4 0.4,1.4 0.4-3 0.4-1.4 0.4,0.9 0.4,0.6 0.4,1.8 0.4,2 0.4-1 0.4-0.1 0.4,0.1 0.4-0.5 0.4,1.2 0.4-1.8 0.4-0.7 0.4,0.8 0.4,0 0.4,0.2 0.4,1.1 0.4-0.5 0.4-2.3 0.4-0.3 0.4-2.2 0.5,0.2 0.4,1.3 0.4-0.8 0.4-0.1 0.4,0.9 0.4-0.8 0.4-0.1 0.4-0.4 0.4,0.6 0.4,1.7 0.4-1 0.4,0.5 0.4,1.4 0.4,0.6 0.4-0.9 0.4,0.7 0.4,1.2 0.4,1.7 0.4-1.5 0.4-1.5 0.4,0.9 0.4-0.7 0.4,0.4 0.4,1.4 0.4-0.6 0.4,1.2 0.4,0.7 0.4-0.9 0.4,0.4 0.4,0.1 0.4-1.4 0.4,0.4 0.4-0.6 0.4-1.5 0.4,1.2 0.4-0.2 0.4-2.5 0.4,3 0.4-0.9 0.4,2 0.4-0.3 0.4-0.4 0.4,1.6 0.4,2.3 0.4,2.4 0.4,0 0.4,0.6 0.4,3.8 0.4-0.1 0.4-0.8 0.4,1.5 0.4,2.1 0.4,0.6 0.4-0.7 0.4,1.5 0.4,3 0.5,1.6 0.4,1.7 0.4-0.1 0.4,1.1 0.4,1.4 0.4,1 0.4,0.7 0.4-0.3 0.4,0.3 0.4,0.2 0.4,1.4 0.4,2.1 0.4,1.4 0.4-0.4 0.4,0 0.4-1.3 0.4-1.3 0.4-0.7 0.4-1.6 0.4-3.7 0.4,0.8 0.4-0.7 0.4,0.4 0.4-1.6 0.4-2.9 0.4,0.2 0.4-1.8 0.4-0.2 0.4,0.8 0.4-0.5"/>
<path stroke="#8a5c5c" d="M54.4,159.1l0.4,0.1 0.4-0.8 0.4,0.8 0.4-3.4 0.4-0.4 0.4-1 0.4,0 0.4-1.4 0.4,1.9 0.4-0.3 0.4-1.1 0.4-2.7 0.4,1 0.4-0.9 0.4-2.7 0.4-1.5 0.4,0.8 0.5-1.4 0.4-2.4 0.4,0.6 0.4-0.9 0.4,0 0.4-1.2 0.4,0.6 0.4,1.7 0.4-2.1 0.4-1.8 0.4-2.4 0.4,2.3 0.4-0.8 0.4,0.2 0.4,0.6 0.4-2.7 0.4-0.5 0.4-1.3 0.4,2.6 0.4-0.6 0.4-0.8 0.4,2.5 0.4-2.1 0.4-1.1 0.4-2.1 0.4-1.6 0.4,0.5 0.4-1.6 0.4-1.1 0.4-2.2 0.4-2.2 0.4-3.1 0.4-4.3 0.4-1.7 0.4-0.7 0.4,0.1 0.4-1.8 0.4-1.3 0.4-2.7 0.4,0 0.4-0.4 0.4-2 0.4-1.2 0.4,0.2 0.4,0.9 0.4-0.2 0.4,1.3 0.4,0.8 0.4,1.4 0.4-3.7 0.4,0.6 0.4-1.1 0.4-0.9 0.4,2.7 0.4,1.1 0.4,0.3 0.5,3.4 0.4,0.2 0.4,1.1 0.4,2 0.4-0.7 0.4,1.3 0.4-0.9 0.4,3.8 0.4-0.1 0.4,0.6 0.4,1.4 0.4,0.2 0.4-1.2 0.4,2.1 0.4-0.9 0.4-1.9 0.4-0.5 0.4-1.1 0.4,0.9 0.4-0.4 0.4,0.1 0.4-0.8 0.4,0.4 0.4,0 0.4,1.3 0.4,2.5 0.4,3.5 0.4,2.8 0.4,0 0.4,2 0.4,2 0.4,2.8 0.4,1.7 0.4-0.5 0.4,1.1 0.4,1.2 0.4,1.1 0.4-0.7 0.4,0.8 0.4,1.2 0.4,2.7 0.4-0.5 0.4,1 0.4,1.3 0.4,0.1 0.4,0.2 0.4,2.2 0.4-0.5 0.4,0 0.4,0 0.4-1.5 0.4,0.5 0.4,2.5 0.4,0.2 0.4-2 0.5,3.1 0.4,2.7 0.4-1 0.4,0.5 0.4-1 0.4,3.2 0.4,1.3 0.4,2.4 0.4,1.6 0.4,2.1 0.4-0.6 0.4,2.5 0.4-1.2 0.4,1.3 0.4,3.9 0.4-0.8 0.4,0.6 0.4,1.4 0.4-2.4 0.4,0.5 0.4-1.1 0.4-3.5 0.4-0.6 0.4-2.3 0.4-0.2 0.4-1.1 0.4,1.2 0.4-1.2 0.4,0.1 0.4,1.3 0.4-2 0.4-1.6 0.4,1.1 0.4-1.3 0.4,0.9 0.4,4.3 0.4,1.2 0.4,2.6 0.4,1.4 0.4,1.5 0.4-0.2 0.4,0.4 0.4-1.5 0.4-1.1 0.4-0.6 0.4-2.6 0.4-4.8 0.4-5.2 0.4-3.7 0.4-5.2 0.4-4.1 0.4-0.1 0.4-2.2 0.4-1.8 0.4-3.4 0.4-0.6 0.5-2.2 0.4-2.6 0.4,1.6 0.4-0.8 0.4-1 0.4-0.7 0.4-1.6 0.4-1.8 0.4,0.8 0.4,0.8 0.4-0.7 0.4-0.2 0.4-1.6 0.4-1.3 0.4,1 0.4,0 0.4,0 0.4-1.7 0.4-0.4 0.4-0.5 0.4,1 0.4-2.3 0.4-0.6 0.4-0.8 0.4,0.9 0.4-1.8 0.4,2.1 0.4,0.9 0.4-0.8 0.4,0.7 0.4,1.4 0.4,1.2 0.4-0.5 0.4-1.3 0.4,0.7 0.4,2.3 0.4,0.3 0.4,0.4 0.4-4.8 0.4-0.9 0.4,2.5 0.4-2.7 0.4-1.7 0.4,0.1 0.4-1.9 0.4-0.4 0.4-0.2 0.4,0.2 0.4,1 0.4,0.9 0.4,0.9 0.4,0 0.4,0.8 0.4,0.3 0.4,1.6 0.5,0.8 0.4,1.4 0.4-0.9 0.4-0.2 0.4-1.9 0.4,1.7 0.4,0.4 0.4-2.5 0.4,0.7 0.4-0.6 0.4-1.2 0.4-0.5 0.4,1.9 0.4-0.2 0.4-0.6 0.4,1.4 0.4,1.8 0.4-0.9 0.4,2.2 0.4-0.9 0.4,1 0.4,0.3 0.4,1.9 0.4,2.3 0.4-0.5 0.4,0.5 0.4-0.2 0.4-2.5 0.4,2.4 0.4-1 0.4-3.2 0.4,2.2 0.4-2.5 0.4,0.4 0.4-1.2 0.4,0.7 0.4,0.3 0.4,0.2 0.4-1.8 0.4,2.6 0.4-0.5 0.4-0.5 0.4,2.1 0.4-0.5 0.4-1 0.4,0.2 0.4,0.2 0.4-1.5 0.4,1.5 0.4,0.1 0.4-2.5 0.4,0.4 0.4-0.5 0.4,0.2 0.4-3.1 0.4,1.3 0.5-1.2 0.4-2 0.4,1.5 0.4-3.6 0.4-1 0.4-1.6 0.4,0.5 0.4,0.2 0.4-1.2 0.4-0.9 0.4-2.6 0.4-0.7 0.4-0.7 0.4,3.2 0.4-0.4 0.4-1.4 0.4-1.3 0.4,2.3 0.4-1.4 0.4,0 0.4-0.1 0.4-1.9 0.4,1.3 0.4-2.3 0.4-0.4 0.4,1.9 0.4-2 0.4-0.4 0.4,1 0.4-1.8 0.4-0.1 0.4-1.6 0.4,0 0.4,1.2 0.4-1.7 0.4-1.1 0.4-1 0.4-0.2 0.4-1.6 0.4,1.1 0.4-1.7 0.4-1 0.4-1.6 0.4,3.1 0.4-1.8 0.4,1 0.4-3.3 0.4-0.4 0.4,1.9 0.4-1.8 0.4,0.8 0.4,1.6 0.4-2.1 0.4,2.2 0.4-0.9 0.5-1.7 0.4-0.3 0.4,1.1 0.4-1.2 0.4-2.6 0.4-2 0.4,1.1 0.4-1.4 0.4,0 0.4,0.7 0.4-0.1 0.4-1 0.4,0.7 0.4-1.4 0.4-0.5 0.4,0.1 0.4,1.7 0.4-1 0.4-1.8 0.4,1.1 0.4,2 0.4-0.8 0.4,0.2 0.4-1.6 0.4,0.4 0.4,2.8 0.4,1.6 0.4,0.7 0.4,4.9 0.4,1.6 0.4,3.3 0.4,2.8 0.4,3.8 0.4,2.1 0.4,2.5 0.4,1.4 0.4-0.9 0.4,3.9 0.4,1.4 0.4,3.2 0.4-0.3 0.4,2.5 0.4,2.6 0.4-0.3 0.4,1 0.4,1.3 0.4,0.2 0.4,1.1 0.4,2.6 0.4,3.1 0.4,1.4 0.4,1.2 0.4,1 0.4,0.7 0.4,0.1 0.4,1 0.5-1 0.4,2.1 0.4,0.4 0.4-0.4 0.4,1.9 0.4-1.4 0.4,0 0.4,2.9 0.4,0.2 0.4,0.5 0.4,0.8 0.4,0.7 0.4,1.8 0.4-1.4 0.4,1.8 0.4,1.5 0.4,1 0.4,0 0.4-2.4 0.4,1.6 0.4,0.9 0.4-0.9 0.4,2.5 0.4,0.1 0.4-0.9 0.4-0.6 0.4,3.8 0.4,1.1 0.4-1.3 0.4,1.9 0.4-0.8 0.4,3.2 0.4,0.3 0.4,1.9 0.4,0.8 0.4,2.1 0.4,0.9 0.4,1.4 0.4,0.2 0.4,3.6 0.4,2.4 0.4,4.3 0.4,0.5 0.4,2.6 0.4,1.6 0.4-0.6 0.4,3.4 0.4,1.8 0.4,0.9 0.4,3.4 0.4,0.4 0.4-0.4 0.4,2.6 0.4-0.4 0.4,2 0.5-2.2 0.4,2.5 0.4-0.2 0.4,0.2 0.4-1.3 0.4-1.7 0.4,0.8 0.4-0.1 0.4-0.3 0.4,0.4 0.4,0.3 0.4,0.5 0.4-3 0.4,1.7 0.4-1 0.4-3.1 0.4-1.3 0.4-1.7 0.4-4 0.4-0.5 0.4-2 0.4-0.3 0.4,0.5 0.4,1.7 0.4-0.6 0.4,1.2 0.4,1.4 0.4,2.5 0.4,0.8 0.4,0 0.4,0.9 0.4,1.4 0.4,0.5 0.4,0.8 0.4-0.8 0.4,0.6 0.4,2.5 0.4-0.5 0.4-0.4 0.4-1.3 0.4,2.8 0.4-0.1 0.4,1.8 0.4,2.3 0.4,0.7 0.4-0.3 0.4,3.3 0.4,0.1 0.4,1.3 0.4-1.4 0.4,0.2 0.4,0.5 0.4,2 0.4,1.7 0.4-1.6 0.4,2.7 0.5,0 0.4,2.8 0.4,2.8 0.4-0.7 0.4,0 0.4,2.3 0.4-0.2 0.4,0.7 0.4-3.9 0.4-0.1 0.4-3.5 0.4-0.4 0.4-0.2 0.4-1.3 0.4-2.9 0.4-3.9 0.4-4.2 0.4-2.5 0.4-1.4 0.4-2.7 0.4-5 0.4-3.2 0.4-2.4 0.4-2.5 0.4-1.1 0.4-4.9 0.4-3.3 0.4-2.5 0.4-2.5 0.4-3.3 0.4-1.2 0.4-3 0.4-2.2 0.4-5.4 0.4-3.6 0.4-2.2 0.4-3.6 0.4-3.3 0.4-1.6 0.4-0.5 0.4-2.4 0.4-0.2 0.4-3.2 0.4-1.4 0.4-1.5 0.4-2.6 0.4-1.6 0.4,0.1 0.4-1.3 0.4-2.3 0.4-0.5 0.4-0.6 0.4,0.1 0.4-2.5 0.4-1 0.5-2.2 0.4-2.1 0.4-0.7 0.4-1.8 0.4,0.1 0.4-3.7 0.4,0.1 0.4-1.1 0.4-1.2 0.4-0.7 0.4-4.7 0.4-2.2 0.4-2.4 0.4,0.3 0.4-3.3 0.4-1.5 0.4-1.2 0.4,0.6 0.4-1.7 0.4-1.5 0.4-1.8 0.4,2 0.4-4.1 0.4-2.7 0.4,0.1 0.4-1 0.4-2.6 0.4,0.4 0.4-0.6 0.4,1.3 0.4-1.1 0.4-3 0.4-0.5 0.4-0.9 0.4-1.3 0.4-1.6 0.4,0 0.4,0.4 0.4-2.3 0.4-1.3 0.4-1.5 0.4,0.1 0.4-0.3 0.4-1.7 0.4,0.8 0.4,0 0.4,1.7 0.4-2 0.4,1.5 0.4,2.8 0.4-2.1 0.4,3.3 0.4,2.1 0.4,1.3 0.4,2.9 0.4,3.4 0.5,1.2 0.4,2.5 0.4,2.3 0.4,1 0.4,5.9 0.4,4 0.4,2.8 0.4,2.4 0.4,3.6 0.4,3.9 0.4,6.2 0.4,5.1 0.4,3.7 0.4,1.5 0.4-1.3 0.4-2.6 0.4-2.7 0.4-1.3 0.4-0.7 0.4-2.4 0.4-1.9 0.4,0.1 0.4,1.8 0.4,0.2 0.4,1 0.4,2 0.4,2.6 0.4-0.8 0.4,3.8 0.4,2"/></g>
<line x1="53.65" y1="140.6" x2="320.0" y2="140.6" stroke="#111" stroke-width="1.55" stroke-dasharray="3.6 3.755"/>
<rect x="136.0" y="17.10" width="19.95" height="229.20" fill="#d3d3d3" fill-opacity="0.55"/>
<path d="M50.4,33.5H54.4V247.0H320.0" fill="none" stroke="#555" stroke-width="1.45"/>
<path d="M50.4,33.5H54.4M50.4,69.1H54.4M50.4,104.6H54.4M50.4,140.2H54.4M50.4,175.8H54.4M50.4,211.3H54.4M50.4,246.8H54.4M54.40,247.0V251.0M72.67,247.0V251.0M90.94,247.0V251.0M109.21,247.0V251.0M127.48,247.0V251.0M145.75,247.0V251.0M164.02,247.0V251.0M182.29,247.0V251.0M200.56,247.0V251.0M218.83,247.0V251.0M237.10,247.0V251.0M255.37,247.0V251.0M273.64,247.0V251.0M291.91,247.0V251.0M310.18,247.0V251.0" stroke="#555" stroke-width="1.3" fill="none"/>
<text transform="translate(47,36.75) scale(1,1.06)" text-anchor="end" font-size="8.9">0.75</text>
<text transform="translate(47,72.30) scale(1,1.06)" text-anchor="end" font-size="8.9">0.50</text>
<text transform="translate(47,107.85) scale(1,1.06)" text-anchor="end" font-size="8.9">0.25</text>
<text transform="translate(47,143.40) scale(1,1.06)" text-anchor="end" font-size="8.9">0.00</text>
<text transform="translate(47,178.95) scale(1,1.06)" text-anchor="end" font-size="8.9">-0.25</text>
<text transform="translate(47,214.50) scale(1,1.06)" text-anchor="end" font-size="8.9">-0.50</text>
<text transform="translate(47,250.05) scale(1,1.06)" text-anchor="end" font-size="8.9">-0.75</text>
<text transform="translate(54.40,258.9) scale(0.5,0.54)" text-anchor="middle" font-size="12" style="stroke-width:0.45px">2003</text>
<text transform="translate(72.67,258.9) scale(0.5,0.54)" text-anchor="middle" font-size="12" style="stroke-width:0.45px">2004</text>
<text transform="translate(90.94,258.9) scale(0.5,0.54)" text-anchor="middle" font-size="12" style="stroke-width:0.45px">2005</text>
<text transform="translate(109.21,258.9) scale(0.5,0.54)" text-anchor="middle" font-size="12" style="stroke-width:0.45px">2006</text>
<text transform="translate(127.48,258.9) scale(0.5,0.54)" text-anchor="middle" font-size="12" style="stroke-width:0.45px">2007</text>
<text transform="translate(145.75,258.9) scale(0.5,0.54)" text-anchor="middle" font-size="12" style="stroke-width:0.45px">2008</text>
<text transform="translate(164.02,258.9) scale(0.5,0.54)" text-anchor="middle" font-size="12" style="stroke-width:0.45px">2009</text>
<text transform="translate(182.29,258.9) scale(0.5,0.54)" text-anchor="middle" font-size="12" style="stroke-width:0.45px">2010</text>
<text transform="translate(200.56,258.9) scale(0.5,0.54)" text-anchor="middle" font-size="12" style="stroke-width:0.45px">2011</text>
<text transform="translate(218.83,258.9) scale(0.5,0.54)" text-anchor="middle" font-size="12" style="stroke-width:0.45px">2012</text>
<text transform="translate(237.10,258.9) scale(0.5,0.54)" text-anchor="middle" font-size="12" style="stroke-width:0.45px">2013</text>
<text transform="translate(255.37,258.9) scale(0.5,0.54)" text-anchor="middle" font-size="12" style="stroke-width:0.45px">2014</text>
<text transform="translate(273.64,258.9) scale(0.5,0.54)" text-anchor="middle" font-size="12" style="stroke-width:0.45px">2015</text>
<text transform="translate(291.91,258.9) scale(0.5,0.54)" text-anchor="middle" font-size="12" style="stroke-width:0.45px">2016</text>
<text transform="translate(310.18,258.9) scale(0.5,0.54)" text-anchor="middle" font-size="12" style="stroke-width:0.45px">2017</text>
<text x="186.9" y="276.6" text-anchor="middle" font-size="18" class="big">date</text>
<text transform="translate(13.90,191.77) rotate(-90)" font-size="15.5" class="big">&#916;</text>
<text transform="translate(13.90,180.70) rotate(-90) scale(1.12,1)" font-size="15.5" class="big">&#961;</text>
<text transform="translate(18.70,170.90) rotate(-90)" font-size="12.1" class="big">DCCA</text>
<text transform="translate(13.90,131.20) rotate(-90)" font-size="18" class="big">(s = 64)</text>
<rect x="321.5" y="1.7" width="55.8" height="109.5" fill="#fff" stroke="#999" stroke-width="1"/>
<line x1="322.9" x2="342.3" y1="8.00" y2="8.00" stroke="#c4c4c4" stroke-width="1.6"/>
<text transform="translate(345,11.40) scale(1,1.07)" font-size="8.75" style="stroke-width:0.18px">CAC40</text>
<line x1="322.9" x2="342.3" y1="18.77" y2="18.77" stroke="#f0a4a4" stroke-width="1.6"/>
<text transform="translate(345,22.17) scale(1,1.07)" font-size="8.75" style="stroke-width:0.18px">TSX</text>
<line x1="322.9" x2="342.3" y1="29.54" y2="29.54" stroke="#a4c0ee" stroke-width="1.6"/>
<text transform="translate(345,32.94) scale(1,1.07)" font-size="8.75" style="stroke-width:0.18px">DAX</text>
<line x1="322.9" x2="342.3" y1="40.31" y2="40.31" stroke="#a4d8bc" stroke-width="1.6"/>
<text transform="translate(345,43.71) scale(1,1.07)" font-size="8.75" style="stroke-width:0.18px">MIB</text>
<line x1="322.9" x2="342.3" y1="51.08" y2="51.08" stroke="#dcc4f4" stroke-width="1.6"/>
<text transform="translate(345,54.48) scale(1,1.07)" font-size="8.75" style="stroke-width:0.18px">FTSE</text>
<line x1="322.9" x2="342.3" y1="61.85" y2="61.85" stroke="#f0d8a0" stroke-width="1.6"/>
<text transform="translate(345,65.25) scale(1,1.07)" font-size="8.75" style="stroke-width:0.18px">MOEX</text>
<line x1="322.9" x2="342.3" y1="72.62" y2="72.62" stroke="#a0e8e8" stroke-width="1.6"/>
<text transform="translate(345,76.02) scale(1,1.07)" font-size="8.75" style="stroke-width:0.18px">NIKKEI</text>
<line x1="322.9" x2="342.3" y1="83.39" y2="83.39" stroke="#d4b4b4" stroke-width="1.6"/>
<text transform="translate(345,86.79) scale(1,1.07)" font-size="8.75" style="stroke-width:0.18px">SSE</text>
<line x1="322.9" x2="342.3" y1="94.16" y2="94.16" stroke="#222" stroke-width="1.5" stroke-dasharray="3.5 4"/>
<text transform="translate(345,97.56) scale(1,1.07)" font-size="8.75" style="stroke-width:0.18px">UL 95%</text>
<line x1="322.9" x2="342.3" y1="104.93" y2="104.93" stroke="#222" stroke-width="1.5" stroke-dasharray="3.5 4"/>
<text transform="translate(345,108.33) scale(1,1.07)" font-size="8.75" style="stroke-width:0.18px">LL 95%</text>
</g>
<g transform="translate(406.20,581.90)">
<g fill="none" stroke-width="0.75" stroke-linejoin="round"><path stroke="#7a7a7a" d="M54.2,139.3l0.4-0.5 0.4,2.4 0.4-0.2 0.4,1.5 0.4,0.1 0.4-3.5 0.4,3.4 0.4,1.7 0.4-0.6 0.4,1.8 0.4-2.1 0.4,0.9 0.4-0.2 0.4,1.7 0.4,1 0.4-1.6 0.4,1.3 0.4,3 0.5-0.6 0.4-1.1 0.4,0.3 0.4,1.5 0.4-0.5 0.4-0.4 0.4-0.2 0.4,1.7 0.4,1.1 0.4-0.4 0.4,0.3 0.4-1.8 0.4,3.1 0.4-1.6 0.4-0.6 0.4-0.3 0.4-0.4 0.4,1.1 0.4,0.5 0.4-1.2 0.4-0.2 0.4,1 0.4,1.6 0.4,1.7 0.4,1.5 0.4-1.4 0.4,1.5 0.4-0.7 0.4,3.3 0.4-1.5 0.4-0.1 0.4,0.6 0.4-0.2 0.4,2.1 0.4,1.7 0.4,1.8 0.4-1 0.4,0.1 0.4,1.5 0.4-0.2 0.4-2.9 0.4,2.4 0.4,1.2 0.4,0.3 0.4,0.3 0.4,0 0.4,0.2 0.4,0.5 0.4,0.9 0.4,0.3 0.4-2.2 0.4-0.2 0.4,1.7 0.4,1.3 0.4-0.8 0.5-1.5 0.4-0.6 0.4-0.2 0.4,1.5 0.4-2.6 0.4-1.2 0.4-0.5 0.4,0.2 0.4,1.8 0.4-2.1 0.4-0.3 0.4-0.8 0.4-1.7 0.4,0.6 0.4-0.4 0.4-1.5 0.4,2.3 0.4,1 0.4,0.9 0.4-3.9 0.4,0.9 0.4,1.7 0.4,1 0.4,1.8 0.4-2.4 0.4-1 0.4,3.3 0.4-0.8 0.4,1.5 0.4,0.7 0.4,0 0.4,2.3 0.4-0.2 0.4,0.9 0.4,1.7 0.4,0.1 0.4-0.1 0.4,1.2 0.4,0.4 0.4-0.1 0.4-2.4 0.4,0 0.4-1.2 0.4-0.7 0.4-1.3 0.4-1.5 0.4-3.2 0.4-0.6 0.4,1.2 0.4-1.5 0.4,0.2 0.4-2 0.4,0.1 0.4-0.4 0.4-0.6 0.4-0.9 0.5-1.2 0.4-0.9 0.4-2.9 0.4-1.1 0.4-0.8 0.4,0 0.4,0.6 0.4-2.5 0.4-0.8 0.4-0.8 0.4,0.2 0.4-1.3 0.4-1.5 0.4-1.1 0.4-0.1 0.4-3.4 0.4-1.5 0.4,2.1 0.4-2.2 0.4-1.8 0.4-1.4 0.4-0.7 0.4-0.8 0.4-1.7 0.4-2 0.4,0.9 0.4-0.4 0.4-2.6 0.4-0.9 0.4-1.6 0.4,0.7 0.4,0.3 0.4-2.2 0.4-0.7 0.4-0.2 0.4-0.6 0.4-1.1 0.4,0.2 0.4,0 0.4-1.1 0.4-3.2 0.4-0.1 0.4-0.8 0.4-1.4 0.4,0.2 0.4-1.2 0.4,3 0.4-1.3 0.4-0.9 0.4-1 0.4-0.2 0.4-1.4 0.4,0 0.4,0.4 0.4-2.6 0.5,0.4 0.4-0.1 0.4-0.7 0.4,1.5 0.4-1 0.4,0.9 0.4-1.8 0.4-0.2 0.4,0 0.4-2.2 0.4-0.3 0.4-0.3 0.4-0.9 0.4,1.9 0.4,0.7 0.4-1.6 0.4-3.3 0.4,0.1 0.4-2 0.4-1.2 0.4-1.7 0.4,1.5 0.4,0.3 0.4,0 0.4-0.4 0.4,1.6 0.4,2.3 0.4,0.4 0.4,0.6 0.4,1.8 0.4,1.6 0.4-1.8 0.4-1.4 0.4,2.3 0.4,2.1 0.4-2.3 0.4-0.7 0.4-1.6 0.4-0.4 0.4,0.7 0.4,0.9 0.4,2.4 0.4-2.6 0.4-0.9 0.4,0.4 0.4,1.3 0.4-0.8 0.4,1.4 0.4-0.6 0.4,1.3 0.4,1 0.4,2.2 0.4,0.4 0.4,1.7 0.4-2.5 0.4,1.1 0.5,1.1 0.4,2.2 0.4-2.1 0.4,2.5 0.4,0 0.4-0.1 0.4,2.5 0.4-1.8 0.4,1 0.4,1.2 0.4,0.5 0.4,0.7 0.4,1.4 0.4,1.2 0.4,3.1 0.4,0.3 0.4-0.3 0.4,1.4 0.4-0.4 0.4-0.4 0.4,0.4 0.4,0.2 0.4,0.9 0.4,1.1 0.4,1.9 0.4,0.2 0.4,1.1 0.4,1.4 0.4-0.5 0.4,1.5 0.4,0.1 0.4,1.6 0.4,0.7 0.4-0.3 0.4,1.7 0.4,0.1 0.4-0.1 0.4,0.7 0.4,0.2 0.4,0.5 0.4-1.7 0.4-1.4 0.4,2.2 0.4-2.2 0.4,0.4 0.4,3.3 0.4-1.3 0.4,0.4 0.4,0.7 0.4,3.3 0.4-0.9 0.4-0.2 0.4,0.2 0.4-1 0.4,0.4 0.5,0.8 0.4,0.7 0.4,0.1 0.4,2.4 0.4,0 0.4-1.7 0.4,2.2 0.4-0.4 0.4,0.8 0.4-1.7 0.4,0.8 0.4,0.3 0.4,1.1 0.4-1 0.4,0.4 0.4,0.8 0.4-0.8 0.4-0.8 0.4,1.1 0.4,1.4 0.4,0.3 0.4,0.5 0.4,0.9 0.4-0.7 0.4,0.5 0.4,0.1 0.4,1.9 0.4-0.7 0.4,0.4 0.4,1.4 0.4-1.7 0.4-0.6 0.4-0.8 0.4,1.9 0.4,0.6 0.4-1.5 0.4,1.3 0.4-1.3 0.4,1.8 0.4-1 0.4-0.2 0.4,2.9 0.4-2.1 0.4,1.5 0.4,1.9 0.4,0.7 0.4,1.2 0.4,0.4 0.4,0.4 0.4,0.2 0.4,1.1 0.4-2.5 0.4-1.8 0.4,0.4 0.4,0.2 0.4-0.4 0.5-0.6 0.4-1.1 0.4-1.3 0.4-1.2 0.4-0.1 0.4-1.8 0.4-0.1 0.4,1.7 0.4-1.4 0.4-1.4 0.4,0.2 0.4,0.8 0.4,1.2 0.4-2.7 0.4,0.5 0.4,0 0.4-0.3 0.4,0.5 0.4,0.7 0.4-1.3 0.4-2.5 0.4,1.7 0.4-1.1 0.4,0 0.4,2.3 0.4,2.4 0.4-1 0.4-1.1 0.4,1.7 0.4-0.7 0.4,0.6 0.4-0.9 0.4-2.3 0.4,2.2 0.4-2 0.4,1.1 0.4-1.3 0.4,0.4 0.4,1.7 0.4-0.2 0.4,0.5 0.4-1.7 0.4,2.6 0.4,0.1 0.4,1.2 0.4-2.3 0.4,0.5 0.4-2.1 0.4,0.3 0.4-0.4 0.4,1.1 0.4,1.1 0.4,0.1 0.4-0.2 0.4,0.7 0.5-1.6 0.4,1.6 0.4-0.2 0.4,2.1 0.4-2.3 0.4-0.8 0.4-0.8 0.4,0.5 0.4-1 0.4,0.1 0.4,0.8 0.4,1 0.4,0.7 0.4,1.1 0.4,0.4 0.4-1.6 0.4,0.9 0.4-1.8 0.4-0.4 0.4,3.4 0.4,2.9 0.4-2.4 0.4-1.1 0.4,3 0.4,0.6 0.4,0.3 0.4,1.6 0.4-0.5 0.4,2.5 0.4-3.1 0.4,3.8 0.4,1.1 0.4,2 0.4,1.2 0.4,1.5 0.4,3.8 0.4-0.4 0.4,1.8 0.4,0.2 0.4-0.8 0.4,2 0.4,2.5 0.4,0 0.4,0.9 0.4,0.1 0.4,0.4 0.4,0.7 0.4,0.8 0.4,0.2 0.4,3.5 0.4,1.9 0.4-0.3 0.4,1.2 0.4,0.3 0.4,1.2 0.4,0.4 0.5-0.2 0.4,2.1 0.4,0.3 0.4,1.1 0.4-0.7 0.4-1.5 0.4,1.9 0.4,1.4 0.4-0.6 0.4-0.4 0.4-0.3 0.4,0.3 0.4-1.2 0.4,3.2 0.4-0.2 0.4-0.5 0.4,1.3 0.4-1.3 0.4,1.4 0.4,2.1 0.4,0.1 0.4-2.4 0.4,1.4 0.4,0 0.4-0.5 0.4,1.1 0.4-1.3 0.4,0.7 0.4,1.1 0.4-0.8 0.4,0.6 0.4,1.6 0.4,0.4 0.4-1.9 0.4-1 0.4,0.6 0.4-3.4 0.4,3 0.4-0.5 0.4-0.6 0.4,1.3 0.4-0.2 0.4,1.4 0.4,0 0.4-2.5 0.4,1.1 0.4,0.5 0.4-0.9 0.4,2.6 0.4-2 0.4-0.8 0.4,1.4 0.4-1.2 0.4-1.1 0.4-1 0.5-3.6 0.4,1 0.4-1.7 0.4,0.5 0.4-2.2 0.4-0.3 0.4-0.8 0.4-3.3 0.4,0.8 0.4-1.3 0.4-0.4 0.4-1.6 0.4-0.7 0.4-0.5 0.4,0.6 0.4-0.1 0.4-1.5 0.4-1.8 0.4-1.9 0.4,0.5 0.4-3.1 0.4-2.2 0.4-2.8 0.4-1 0.4-2.6 0.4-3.3 0.4-3 0.4-1.8 0.4,0.4 0.4-1.4 0.4-2.2 0.4-4.2 0.4-2.6 0.4-2.9 0.4-1.8 0.4-1.3 0.4-2.8 0.4-2.8 0.4-0.6 0.4-0.6 0.4-2 0.4-3.1 0.4,0.4 0.4-4.1 0.4-3.7 0.4-1.5 0.4-0.2 0.4-4.4 0.4-2 0.4-1.5 0.4,1.6 0.4-1.2 0.4-1.1 0.4-1.8 0.4,1.2 0.4-0.7 0.5,1.1 0.4-1.8 0.4-2 0.4-1.5 0.4,0.4 0.4-1.5 0.4-0.7 0.4-2 0.4,0.7 0.4,1 0.4,0.5 0.4,1 0.4-1.4 0.4-0.9 0.4-0.8 0.4,1 0.4-2.3 0.4,2.1 0.4,0.3 0.4-2.6 0.4,1.2 0.4-1 0.4-1.1 0.4,0.7 0.4-0.5 0.4-2.1 0.4-0.5 0.4,1.8 0.4-1.9 0.4,1.2 0.4,1.2 0.4,0.8 0.4,2.6 0.4-1.4 0.4,1.9 0.4-0.2 0.4-0.6 0.4,0.1 0.4,0.9 0.4,1.9 0.4,2.4 0.4,1.9 0.4,0.2 0.4,1.9 0.4,2.4 0.4,0.6 0.4-0.1 0.4,2.4 0.4,0.8 0.4,1 0.4-1.7 0.4,2.2 0.4,2.5 0.4,3.7 0.4,1.7 0.5,3.6 0.4,1 0.4,2.4 0.4,3.4 0.4-0.1 0.4,0.4 0.4,2 0.4,2.9 0.4,2 0.4,0.8 0.4,3.4 0.4,1.3 0.4,4.6 0.4,1.7 0.4-0.5 0.4,0.9 0.4,2.3 0.4,0.5 0.4,2.1 0.4,3.6 0.4,1 0.4,4.9 0.4,1.1 0.4,0.8 0.4-0.2 0.4,0.4 0.4-0.3 0.4,1.4 0.4,0.3 0.4-0.1"/>
<path stroke="#e86a6a" d="M54.2,145.3l0.4-0.7 0.4,0.2 0.4,2 0.4,1.5 0.4,2 0.4,0.9 0.4-0.4 0.4,1.2 0.4,0.1 0.4-0.3 0.4,1 0.4-0.5 0.4,1 0.4-2 0.4-0.8 0.4-0.8 0.4-0.1 0.4,3.6 0.5-1.2 0.4,1.2 0.4-1.2 0.4,1.5 0.4,1.6 0.4-0.4 0.4-1.7 0.4,2.9 0.4,1.3 0.4-0.5 0.4-1.4 0.4,0.9 0.4-0.8 0.4-0.8 0.4,1.5 0.4,2.5 0.4-1.1 0.4-0.9 0.4,1 0.4-0.1 0.4-1.6 0.4,0.7 0.4-0.8 0.4,1.5 0.4,1.8 0.4,1.4 0.4,2.4 0.4-1.1 0.4,1.5 0.4-0.3 0.4-0.1 0.4,0.9 0.4-0.7 0.4-0.1 0.4-0.9 0.4,2.6 0.4-2.2 0.4-2 0.4,2.1 0.4,1.5 0.4-0.7 0.4,0.3 0.4,0.4 0.4-2.3 0.4,1.9 0.4,0.5 0.4,0.9 0.4,2.1 0.4-2.8 0.4-0.2 0.4-1.2 0.4,1.1 0.4-1.7 0.4-0.9 0.4-1.1 0.5,1.6 0.4-0.2 0.4,0 0.4-0.4 0.4-1.5 0.4,1.9 0.4-0.6 0.4,0.5 0.4,1.8 0.4-0.3 0.4-2 0.4,3 0.4-2.7 0.4,2.4 0.4-0.3 0.4,2.7 0.4-0.8 0.4,3.1 0.4-1.2 0.4,1.3 0.4,1 0.4,0.5 0.4-0.1 0.4-0.5 0.4-0.2 0.4-1.2 0.4,0.1 0.4,1.5 0.4-0.3 0.4-1.4 0.4,0.2 0.4,0.2 0.4-1.3 0.4,1.1 0.4-2.6 0.4-1.7 0.4,1.8 0.4-2.6 0.4,0.9 0.4-2.8 0.4-2 0.4,0.4 0.4-2.8 0.4-1.7 0.4,0 0.4,0.2 0.4,0.4 0.4-1.2 0.4,0.9 0.4-2.2 0.4-0.1 0.4-0.1 0.4-1 0.4-0.2 0.4-0.7 0.4-1.2 0.5,0.4 0.4-1.1 0.4-0.7 0.4,0.4 0.4,0.4 0.4-0.9 0.4,0.1 0.4,0.6 0.4,3 0.4,2.4 0.4-4.1 0.4,0.5 0.4-0.7 0.4,1.7 0.4-1.2 0.4-1 0.4,0 0.4-3 0.4,1.4 0.4-1.6 0.4-1.8 0.4-1.4 0.4,1 0.4-1.8 0.4,2.6 0.4-2.2 0.4,1.3 0.4-0.6 0.4,0.2 0.4,1.7 0.4,1.8 0.4-0.5 0.4-0.9 0.4,1.8 0.4,0.1 0.4-0.2 0.4,0.8 0.4-0.1 0.4-1.3 0.4-0.8 0.4-2.7 0.4-0.3 0.4-1 0.4-3.3 0.4,0.4 0.4-1.5 0.4-0.8 0.4-2.3 0.4,0.6 0.4,1 0.4-2.9 0.4-2.2 0.4-0.5 0.4-1.8 0.4-0.3 0.5-2.9 0.4-1.2 0.4-0.3 0.4-0.2 0.4-2.5 0.4,1.3 0.4-1.4 0.4-1.5 0.4,1.3 0.4-1.6 0.4-1.7 0.4-2.2 0.4-0.2 0.4-0.1 0.4-0.4 0.4-1.9 0.4,0 0.4,1 0.4-0.1 0.4,1.9 0.4-0.9 0.4-0.2 0.4,0.6 0.4-0.2 0.4-0.6 0.4-0.4 0.4,1.5 0.4,0.9 0.4,1.7 0.4,0.3 0.4-2.6 0.4,1 0.4,0.6 0.4,0.5 0.4,1.3 0.4,0.5 0.4,0.8 0.4,0.4 0.4-0.6 0.4,0.2 0.4-1.3 0.4,1.8 0.4,0.9 0.4,0.1 0.4,0.2 0.4,1.2 0.4,0.8 0.4-1 0.4,0.2 0.4-0.2 0.4-0.8 0.4,0 0.4-1.8 0.4-0.3 0.4-2.5 0.4,0.5 0.5-0.8 0.4-1.1 0.4-0.3 0.4,0.9 0.4-1.6 0.4,1.1 0.4,1.8 0.4,0.3 0.4-0.8 0.4-1.6 0.4,1 0.4-0.7 0.4-0.5 0.4-0.7 0.4,0.6 0.4,0.3 0.4,2.3 0.4-1.3 0.4,0.7 0.4,2.6 0.4-1 0.4-1.1 0.4,1.5 0.4-0.5 0.4,1.3 0.4-0.9 0.4-1.8 0.4,0.6 0.4,2.5 0.4-0.6 0.4,1 0.4,1.3 0.4,1.2 0.4,0.6 0.4-2.3 0.4,1.1 0.4-1.6 0.4,0.8 0.4-1.6 0.4-1.4 0.4,0.5 0.4-1 0.4,1.4 0.4,0.5 0.4-2.2 0.4,0.6 0.4-0.6 0.4,0.7 0.4,2 0.4,0.7 0.4-0.4 0.4-1.6 0.4,0.2 0.4,1.8 0.4-2.1 0.5,1.4 0.4,2 0.4-2.1 0.4,1.8 0.4,0.4 0.4,0.2 0.4-1.7 0.4,0.2 0.4-1.2 0.4,0.2 0.4-0.1 0.4,0.9 0.4-1.2 0.4,1.2 0.4,0.7 0.4-0.9 0.4-0.5 0.4,1.2 0.4-0.9 0.4,1.6 0.4,0.7 0.4,0.3 0.4,1.1 0.4,1 0.4-0.7 0.4,0 0.4,0.7 0.4-0.4 0.4,1.7 0.4-0.3 0.4,1.5 0.4-0.6 0.4,0.6 0.4,1.1 0.4-1.8 0.4,2.3 0.4-0.5 0.4,2.4 0.4-0.4 0.4,0.8 0.4,0.5 0.4,1.9 0.4-1.4 0.4,1.3 0.4,1.3 0.4,0.5 0.4,0.8 0.4-0.1 0.4,3.1 0.4-1.3 0.4,2.3 0.4-0.5 0.4-1.2 0.4,0.6 0.4-0.4 0.4,1.4 0.5,1.9 0.4-1.9 0.4,1.3 0.4-0.1 0.4,0.4 0.4,1 0.4-0.3 0.4,0.5 0.4,1.8 0.4-2.9 0.4-0.1 0.4,1 0.4-2 0.4-1.6 0.4,1.4 0.4,0.1 0.4,3.6 0.4-1.1 0.4,1.4 0.4-2 0.4,2.3 0.4-0.6 0.4,1.8 0.4-1.7 0.4,1.9 0.4,0.2 0.4-0.7 0.4,2 0.4-0.8 0.4,0 0.4-0.2 0.4-1.3 0.4,1.1 0.4-1.5 0.4,1.5 0.4,0.6 0.4,2.7 0.4-0.3 0.4-0.7 0.4,2.8 0.4-2.4 0.4-0.2 0.4,1.2 0.4-0.1 0.4-1 0.4-0.6 0.4-1.7 0.4,2.2 0.4-1.4 0.4-2.8 0.4,0.7 0.4-0.9 0.4-2.1 0.4,0.7 0.4,1.2 0.5-0.7 0.4-2.5 0.4-0.9 0.4-1 0.4,1.6 0.4-0.6 0.4,0.5 0.4-0.6 0.4-0.8 0.4,0.2 0.4-2.1 0.4,1.2 0.4-0.6 0.4-2.2 0.4,0.8 0.4-0.6 0.4,1.1 0.4,0 0.4-2.1 0.4-0.2 0.4,0.1 0.4,1.9 0.4,0.4 0.4,0.3 0.4,1.6 0.4,1.5 0.4-2.9 0.4-0.3 0.4,0 0.4,2.4 0.4,1.3 0.4-2 0.4,0 0.4,0.7 0.4,1.4 0.4,1.4 0.4-1.2 0.4,0.1 0.4,0.6 0.4-1 0.4,0.6 0.4-0.3 0.4,0.8 0.4,3 0.4-1.2 0.4,0.8 0.4,1.7 0.4-0.4 0.4,1 0.4-0.2 0.4,1 0.4,0.6 0.4-0.3 0.4,2 0.4,0.8 0.4,3.3 0.5-0.6 0.4-1.2 0.4,1.3 0.4,3.1 0.4,0.8 0.4-2.9 0.4,0.8 0.4,3.5 0.4-1 0.4,2.7 0.4-0.1 0.4,2.1 0.4-1.1 0.4-1.3 0.4,0.8 0.4,3.6 0.4-1.6 0.4,0.4 0.4,1.1 0.4,0.5 0.4,2.2 0.4,3.3 0.4-0.7 0.4,2.2 0.4,2 0.4,1.9 0.4,0.5 0.4,0 0.4,0.9 0.4,0 0.4,2.4 0.4-0.2 0.4,0.9 0.4,5.2 0.4,0.7 0.4,1.2 0.4,0.7 0.4-0.4 0.4,3.3 0.4-1.9 0.4,2 0.4,1.1 0.4-0.3 0.4-1.7 0.4,2.4 0.4,0.8 0.4-0.4 0.4-0.1 0.4,1.1 0.4,0.7 0.4-1.8 0.4,0.2 0.4-0.1 0.4-0.4 0.4-2.5 0.5,0.2 0.4,2 0.4-2.6 0.4-1.1 0.4,0.9 0.4-0.1 0.4-1.4 0.4-0.5 0.4-1.8 0.4,1.1 0.4-3.9 0.4-0.7 0.4-2.2 0.4-3.2 0.4-3 0.4,2.2 0.4-1.5 0.4-2.5 0.4-1.5 0.4-2.9 0.4,0.3 0.4-0.7 0.4-1.2 0.4-1.7 0.4-0.9 0.4-1.5 0.4-0.7 0.4-1.4 0.4,1 0.4-4.3 0.4,1 0.4-3.9 0.4-1 0.4-5.4 0.4-2.2 0.4,0.7 0.4-3.2 0.4-1 0.4-3.8 0.4,0.1 0.4,0 0.4-2.8 0.4,1.1 0.4-4.9 0.4-1.9 0.4-2.4 0.4-1.5 0.4-1.8 0.4-2 0.4-1.5 0.4-1.1 0.4-0.5 0.4-1.3 0.4,0.7 0.4-1 0.4-2.7 0.5-2.5 0.4-1.3 0.4,0.4 0.4-1.6 0.4,1.4 0.4-3.5 0.4,0.9 0.4-1.4 0.4-0.3 0.4-1.6 0.4-3.1 0.4,0.4 0.4-1.3 0.4-2.2 0.4-0.8 0.4-0.7 0.4,2.1 0.4-2.1 0.4,2.3 0.4-3.6 0.4-1 0.4-0.9 0.4,1.5 0.4-2.2 0.4-0.6 0.4-1.5 0.4,0.3 0.4-0.6 0.4-1.3 0.4,0.5 0.4,1 0.4-1.6 0.4,1.4 0.4-0.3 0.4,0.4 0.4,1.7 0.4-1.5 0.4,2.3 0.4,2.1 0.4-1.6 0.4,0.4 0.4,1.8 0.4-0.8 0.4,1.4 0.4,3.4 0.4-3 0.4,0.8 0.4,1.4 0.4,0 0.4,0.5 0.4,1.8 0.4,2.1 0.4,1.5 0.4,4 0.4,1.1 0.5,0.7 0.4,2.7 0.4,1.4 0.4,0.8 0.4-1.3 0.4,1.8 0.4,0.9 0.4-0.4 0.4,1.7 0.4,3.5 0.4,1.6 0.4,3.5 0.4,0.4 0.4,3.3 0.4-0.2 0.4,3.3 0.4,0.8 0.4,1 0.4-0.5 0.4,2.6 0.4,3.1 0.4,2.4 0.4-0.2 0.4,1.9 0.4,2 0.4,3.7 0.4,4.6 0.4,2.7 0.4,5.1 0.4,1.5"/>
<path stroke="#5588dd" d="M54.2,145.1l0.4-1.3 0.4-0.3 0.4-0.7 0.4,1.2 0.4,1.8 0.4,0.2 0.4,1.8 0.4-0.1 0.4,1 0.4-1.7 0.4,1.6 0.4,0.6 0.4-0.4 0.4,1.5 0.4-1.4 0.4,0.9 0.4,1 0.4-0.5 0.5,3.7 0.4-2 0.4,2.9 0.4-2 0.4,1.1 0.4-0.1 0.4,0.4 0.4-2.1 0.4,0.2 0.4,0.1 0.4,4 0.4-1.1 0.4,0.1 0.4,0.6 0.4,1.5 0.4,0.3 0.4,0.7 0.4-3.7 0.4,1.7 0.4-0.3 0.4,1.7 0.4,0.1 0.4,0.8 0.4-1.9 0.4,1.7 0.4,0 0.4,0.7 0.4-0.3 0.4-1.6 0.4,0.5 0.4-0.9 0.4-2.8 0.4,3.4 0.4-2.4 0.4,0.8 0.4,0.6 0.4-1.8 0.4,1.3 0.4-1.2 0.4-0.5 0.4-3.1 0.4-0.4 0.4,0.8 0.4,0.4 0.4,0.5 0.4-0.2 0.4,1.2 0.4-1.6 0.4-0.2 0.4,1 0.4-1.6 0.4,0 0.4-0.9 0.4-1.2 0.4,2.1 0.5-2.5 0.4,0.8 0.4-1.7 0.4-0.7 0.4-2.5 0.4-0.5 0.4,0 0.4,2 0.4-3.5 0.4-2 0.4,0.8 0.4,1.3 0.4-1 0.4-1 0.4-0.2 0.4-1.1 0.4,0.5 0.4,1.7 0.4-1.2 0.4,0.8 0.4-0.2 0.4,1.5 0.4-0.6 0.4,1.4 0.4-2.1 0.4,1.6 0.4,0.4 0.4-1.6 0.4-1.1 0.4,1.7 0.4,2.4 0.4-1.4 0.4,1.1 0.4,0.8 0.4,0.9 0.4,0.8 0.4,0.8 0.4-1.3 0.4,1 0.4-1.3 0.4-0.1 0.4-1.9 0.4-1 0.4,0.1 0.4-1.7 0.4,1.5 0.4,1 0.4-1.5 0.4,1.3 0.4,0.2 0.4-1.3 0.4,1 0.4,0.6 0.4-1.1 0.4-0.1 0.4-1.8 0.5-0.4 0.4-0.1 0.4-0.7 0.4,0.7 0.4-2.2 0.4,0.4 0.4-0.6 0.4-0.1 0.4,1 0.4-0.3 0.4,1.9 0.4-1.8 0.4,2.3 0.4-1.6 0.4,0.7 0.4-1.3 0.4-1.7 0.4,2.1 0.4,0.6 0.4-2.1 0.4,1.6 0.4-1.6 0.4,0.8 0.4,1.1 0.4-1.2 0.4-0.2 0.4-0.1 0.4,1.1 0.4,1.2 0.4,0.2 0.4,0.4 0.4,0.8 0.4-1.4 0.4,1.1 0.4,1.3 0.4-3.8 0.4,0.6 0.4-1.4 0.4-0.4 0.4-1.1 0.4,1.7 0.4,0.6 0.4-1.3 0.4,0.7 0.4,1 0.4,1.5 0.4-1.8 0.4-1 0.4,0.4 0.4-1.8 0.4-0.4 0.4,1.5 0.4-1.8 0.4-2.6 0.4,1.3 0.5-1.1 0.4-1.7 0.4,0.5 0.4,1.8 0.4-0.9 0.4,0.8 0.4-1 0.4,0.8 0.4,2 0.4,0.9 0.4,0.3 0.4,0.8 0.4,0.6 0.4-1 0.4-1.4 0.4-0.5 0.4-1.4 0.4-1 0.4,0.7 0.4,0.3 0.4-0.5 0.4-1.5 0.4,0 0.4,1.5 0.4-2 0.4,1.1 0.4-0.1 0.4-0.8 0.4-1.1 0.4,0.4 0.4,0.2 0.4,0.3 0.4-1.1 0.4,3 0.4,0.3 0.4-2.8 0.4-2.1 0.4,2.5 0.4-1 0.4,0 0.4-1.1 0.4-0.2 0.4-0.8 0.4,0.9 0.4-1.8 0.4,1 0.4,1.2 0.4-0.1 0.4,0.1 0.4,1.2 0.4-1.7 0.4-0.5 0.4-1.8 0.4,2 0.4-0.8 0.4,1.8 0.5-0.4 0.4,0.5 0.4-1 0.4,2 0.4-0.6 0.4-1.2 0.4,0.8 0.4-1.5 0.4-1.3 0.4,1.8 0.4-0.2 0.4-1.1 0.4,0.7 0.4,2.3 0.4-0.2 0.4,1 0.4,1.7 0.4-0.1 0.4,0.4 0.4,1.9 0.4,1.4 0.4-1.7 0.4,0.5 0.4,0.7 0.4,1.5 0.4-0.9 0.4-0.3 0.4,1 0.4,1.6 0.4,1.7 0.4-0.6 0.4-1 0.4-0.9 0.4-0.1 0.4,0.9 0.4-0.6 0.4-0.5 0.4-0.7 0.4,1.1 0.4,0.2 0.4,0.6 0.4,0.1 0.4,1.9 0.4-1.1 0.4,0.7 0.4-0.8 0.4,0.9 0.4-1.4 0.4-0.7 0.4-0.3 0.4,2.4 0.4-3.6 0.4,0.7 0.4-2.2 0.4,1.2 0.5-0.1 0.4-2.1 0.4,1.5 0.4-4 0.4,5.1 0.4-0.3 0.4-0.6 0.4,2.3 0.4-1.6 0.4,0.5 0.4-0.2 0.4,0.5 0.4-0.3 0.4,1.4 0.4-0.8 0.4,1 0.4,1.7 0.4,0.2 0.4-0.9 0.4,1 0.4-0.5 0.4-0.7 0.4-1 0.4,0.8 0.4-0.2 0.4,3.1 0.4,0.5 0.4,4.2 0.4,0.5 0.4-1.2 0.4,1.6 0.4-0.5 0.4-1.2 0.4,1.3 0.4,0.1 0.4-0.3 0.4,0.5 0.4,1.2 0.4-0.4 0.4-1.1 0.4,1.9 0.4-0.7 0.4,1.1 0.4-1 0.4-1.4 0.4,3 0.4-1.6 0.4,1.5 0.4-1.4 0.4,1.1 0.4,0.7 0.4,0.5 0.4-1.2 0.4,1.3 0.4-2 0.4,1.5 0.5-2 0.4-2.1 0.4-1.3 0.4-1.1 0.4-1.2 0.4,1.1 0.4,0.9 0.4-0.7 0.4,1.4 0.4,1 0.4,0.5 0.4-2.3 0.4-0.5 0.4,0.8 0.4,0.3 0.4-0.4 0.4-1.4 0.4,0.7 0.4-1.9 0.4,1.5 0.4-2.7 0.4,3.6 0.4-1 0.4-0.9 0.4,0.8 0.4-1 0.4,1.2 0.4-0.6 0.4-0.4 0.4-0.9 0.4-0.4 0.4,1.4 0.4-1 0.4-1.2 0.4-1.2 0.4,2.5 0.4-4.1 0.4,1.9 0.4-0.9 0.4,1.8 0.4,0.3 0.4-2.6 0.4,0.6 0.4-3.4 0.4,1.1 0.4-0.8 0.4-1.4 0.4-1 0.4-2.3 0.4,0.4 0.4,1 0.4-1 0.4-0.8 0.4,0 0.4-0.2 0.5-0.2 0.4-1.4 0.4,0.9 0.4,0.2 0.4-1.3 0.4-2 0.4,0.6 0.4,1.4 0.4-0.1 0.4-1 0.4,0.1 0.4-0.4 0.4-1.4 0.4-1.4 0.4,0.4 0.4,1.3 0.4-0.9 0.4,1.8 0.4,0.5 0.4,1.8 0.4-0.7 0.4,1.9 0.4,1.4 0.4,1.7 0.4-1.6 0.4,0.2 0.4,0.1 0.4-1.2 0.4-1 0.4,0.1 0.4,1.6 0.4-0.2 0.4-1.8 0.4-1.1 0.4,1.7 0.4,1.9 0.4-1.7 0.4-0.7 0.4-0.8 0.4,1.5 0.4,1.3 0.4-0.2 0.4-1 0.4,1 0.4,0.5 0.4,1.6 0.4,1.1 0.4,0.5 0.4,0.2 0.4,1.8 0.4,1.4 0.4,1.8 0.4,0.3 0.4,0.3 0.4,1.2 0.4,0.9 0.5,0.8 0.4,0.7 0.4,0 0.4,1.5 0.4,1.4 0.4,0.7 0.4,0.2 0.4,0.5 0.4,2.1 0.4,0 0.4,0.8 0.4,1.3 0.4-1.5 0.4,0.6 0.4-0.1 0.4,1.4 0.4,0.7 0.4,1.3 0.4,1.2 0.4,2.9 0.4-0.8 0.4,1.2 0.4-0.5 0.4,1.8 0.4-1.2 0.4,1.9 0.4,0.3 0.4,0 0.4,0.2 0.4-2.3 0.4,1.1 0.4,1.2 0.4-1.5 0.4,0.8 0.4,0.9 0.4,1.3 0.4-1.4 0.4,1.2 0.4-1.6 0.4,0.4 0.4,0.4 0.4,1.9 0.4-0.3 0.4,0.3 0.4,2.2 0.4,1.1 0.4,1.3 0.4,0.6 0.4,0.2 0.4-0.9 0.4-0.2 0.4,0.7 0.4,1.1 0.4-1 0.4,1.2 0.5,0.6 0.4,1.3 0.4,1.1 0.4-1 0.4,0.8 0.4-1 0.4,0.9 0.4,2 0.4,0.4 0.4,2 0.4,1 0.4-2.8 0.4-1.2 0.4-0.6 0.4-1.7 0.4-0.3 0.4-1.6 0.4-2.5 0.4-2 0.4-1.1 0.4-0.3 0.4-1.6 0.4-1.2 0.4-0.6 0.4-0.8 0.4-2.7 0.4-3.2 0.4,0.5 0.4-2.5 0.4-1.1 0.4-3.7 0.4,0 0.4-2.4 0.4-2.1 0.4-0.2 0.4-0.3 0.4-2.2 0.4-0.2 0.4-1.4 0.4,0 0.4-0.3 0.4-0.6 0.4-1.7 0.4,0.4 0.4-2.8 0.4,2.4 0.4-1.4 0.4-0.8 0.4,0.4 0.4-0.9 0.4-0.9 0.4-0.2 0.4-0.2 0.4,0.7 0.4-1.7 0.4,1.4 0.5-2.1 0.4,0.8 0.4-0.2 0.4-1.3 0.4-0.2 0.4-2.6 0.4,1.9 0.4-0.8 0.4-2.5 0.4,1.8 0.4,0.6 0.4,0 0.4,0.6 0.4,0.1 0.4,0.5 0.4-1.5 0.4-0.1 0.4-2.1 0.4,0.1 0.4,0.5 0.4-0.5 0.4,0.3 0.4-1.7 0.4-0.5 0.4-3.5 0.4,0.8 0.4-2.2 0.4,0.9 0.4-0.5 0.4-1.7 0.4-0.8 0.4,0.1 0.4-0.8 0.4,1.7 0.4,0.8 0.4,0.2 0.4,1.3 0.4-0.2 0.4,2.5 0.4-0.3 0.4,2 0.4-2.5 0.4-0.3 0.4-0.1 0.4,1.4 0.4-0.1 0.4,4.2 0.4,3.2 0.4,2 0.4,2.6 0.4,1.9 0.4,2.2 0.4-1.2 0.4,1.6 0.4,2 0.5,0.9 0.4,0.7 0.4,0.6 0.4,4.2 0.4,4 0.4,0.6 0.4,2.3 0.4,1.5 0.4,3.1 0.4,0.2 0.4,1.2 0.4,0.7 0.4,1.1 0.4,1.4 0.4,1.2 0.4,2.3 0.4,0.5 0.4,0.5 0.4,3.4 0.4,1.6 0.4-0.7 0.4-0.1 0.4,2.6 0.4,0.4 0.4,0.3 0.4,0.7 0.4-0.1 0.4-1.2 0.4,0.8 0.4-2.7"/>
<path stroke="#4cb080" d="M54.2,127.8l0.4,2.8 0.4,2.1 0.4,0.8 0.4,3.3 0.4,1.3 0.4,0.1 0.4,2.1 0.4,1.3 0.4,2 0.4-3.2 0.4,0.9 0.4,3.9 0.4,1.2 0.4,2.9 0.4,0.8 0.4,1.3 0.4,0.4 0.4,0.6 0.5,0 0.4,2.2 0.4,0.1 0.4,1.4 0.4,1 0.4,0.8 0.4-1 0.4,1.5 0.4,0.3 0.4-0.9 0.4,0.8 0.4-0.1 0.4,0.3 0.4,1 0.4-1.9 0.4,2.2 0.4,1.3 0.4-0.4 0.4,0.6 0.4-1.4 0.4,1.2 0.4,2.6 0.4-0.7 0.4,0.8 0.4,0.5 0.4-2.1 0.4-0.1 0.4,1.8 0.4,0.1 0.4,0.1 0.4-0.2 0.4,0.8 0.4,1.3 0.4-0.4 0.4-0.1 0.4,1.6 0.4-0.8 0.4-0.9 0.4,3.4 0.4,1.6 0.4-1 0.4,2.2 0.4-2.1 0.4,1.9 0.4-0.6 0.4-1 0.4,1 0.4,1 0.4,0.9 0.4-0.8 0.4,0.3 0.4,1.2 0.4,0 0.4-0.8 0.4,1 0.5-1.3 0.4-2.2 0.4,0.3 0.4,0.6 0.4-2.3 0.4-0.9 0.4-0.1 0.4-1.2 0.4-0.3 0.4-0.5 0.4-1.8 0.4-2.2 0.4,0.3 0.4,1.6 0.4-2.9 0.4-0.6 0.4-1.2 0.4-1.9 0.4,1.7 0.4-1.2 0.4,0.2 0.4-0.7 0.4,0.3 0.4,1.5 0.4-1.7 0.4,0.6 0.4-0.2 0.4,1.3 0.4,0.2 0.4-0.9 0.4-0.5 0.4,2 0.4-2.1 0.4-0.3 0.4,0.1 0.4-1.8 0.4-1.6 0.4-2.1 0.4,1.2 0.4-1.7 0.4-1.1 0.4-0.8 0.4,0.5 0.4-1.7 0.4-0.4 0.4-0.5 0.4-0.7 0.4-1.3 0.4-1.6 0.4,0.6 0.4-2.6 0.4-0.8 0.4,0 0.4-1.8 0.4-1.8 0.4-0.6 0.5,1.6 0.4,0.3 0.4,0.5 0.4-2.1 0.4-3.5 0.4,0.2 0.4-0.8 0.4-0.1 0.4-1.3 0.4-0.2 0.4,0.2 0.4-1.5 0.4,1.4 0.4-3.3 0.4,1.2 0.4-1.5 0.4-1.8 0.4,0.4 0.4-0.7 0.4-0.9 0.4,1 0.4-0.8 0.4,0.4 0.4-2.6 0.4-0.3 0.4-2.2 0.4-1.8 0.4,1 0.4-1.7 0.4-0.3 0.4-1.1 0.4-1.8 0.4-0.3 0.4-0.8 0.4,0.6 0.4,0.9 0.4-0.1 0.4,1 0.4-1.7 0.4,1.1 0.4-0.2 0.4-0.4 0.4,1.9 0.4-2.2 0.4,1.7 0.4-1.4 0.4,1.2 0.4-2.5 0.4-1.6 0.4,0.9 0.4,0 0.4,0.2 0.4-1.1 0.4-0.6 0.4-1.1 0.5,0.5 0.4,0.6 0.4-1.3 0.4-0.4 0.4-1 0.4-0.1 0.4,0.1 0.4,0.5 0.4,1.4 0.4,0.4 0.4,0.1 0.4-1.4 0.4-1.1 0.4-0.4 0.4,1 0.4,0.3 0.4,0.3 0.4-0.5 0.4,0.1 0.4,0.9 0.4-1.2 0.4,3 0.4-0.8 0.4,1.4 0.4,0.4 0.4,0.3 0.4,0.5 0.4-1.7 0.4,2.3 0.4,0.5 0.4-0.3 0.4-1.1 0.4,0.9 0.4,1.5 0.4,1 0.4,0.9 0.4,0.7 0.4-0.9 0.4-0.5 0.4,3.8 0.4,0.4 0.4,2.1 0.4-0.8 0.4,1.2 0.4-1.5 0.4,1.3 0.4-1.3 0.4,1.1 0.4,1.6 0.4-0.7 0.4,0.9 0.4-2 0.4,0.8 0.4,1.4 0.4-0.4 0.4,1.4 0.5,1.7 0.4,0.6 0.4,0.7 0.4-0.3 0.4,2.1 0.4,0.7 0.4-1 0.4-0.4 0.4,0.2 0.4-0.4 0.4,1.4 0.4,1.1 0.4-1.2 0.4,1.2 0.4-0.4 0.4,0.8 0.4,2 0.4-0.9 0.4-0.6 0.4,0.7 0.4,0.3 0.4,0.9 0.4-0.4 0.4,0.6 0.4,0 0.4,0.8 0.4-0.5 0.4,2.1 0.4-1.4 0.4,0.1 0.4-0.6 0.4-0.7 0.4,0.2 0.4-0.5 0.4,1 0.4,1.5 0.4-0.4 0.4,0.1 0.4,0.5 0.4,0.2 0.4-0.1 0.4,0.9 0.4,2.3 0.4-1.2 0.4,0.6 0.4-0.1 0.4,1.4 0.4,0.9 0.4-1.3 0.4-0.7 0.4-0.4 0.4,0 0.4,0 0.4-0.1 0.4-0.7 0.5-0.5 0.4-0.4 0.4,0.3 0.4,0.7 0.4,0.1 0.4,0.9 0.4-1.8 0.4,0 0.4-0.6 0.4,1.1 0.4,1.2 0.4,2.4 0.4-1.1 0.4,0.7 0.4,0 0.4,0.6 0.4-0.3 0.4-1.3 0.4-0.3 0.4,2.1 0.4-3.4 0.4,2.7 0.4,1.8 0.4-0.6 0.4,0.7 0.4-1.7 0.4,1.8 0.4,0.2 0.4,2 0.4,3 0.4,1.3 0.4,1.1 0.4,1.7 0.4-1.1 0.4,2.9 0.4,1 0.4,1.4 0.4,1.4 0.4,0.4 0.4,0.9 0.4,1.7 0.4,0.4 0.4-0.1 0.4,1.3 0.4-0.4 0.4,2.5 0.4-0.3 0.4,2.3 0.4-1.4 0.4,1.2 0.4-0.8 0.4-0.5 0.4,1.5 0.4,0.4 0.4-1.9 0.4,0.9 0.5,0.9 0.4,0.1 0.4,0.1 0.4,0.3 0.4-0.8 0.4,0.1 0.4-1.2 0.4,0.3 0.4,1.4 0.4,0.4 0.4,0.6 0.4-0.1 0.4-1.3 0.4,0.7 0.4-1.4 0.4,0.9 0.4,0.8 0.4-2.3 0.4,1.5 0.4-0.5 0.4,1.9 0.4-0.1 0.4,3.1 0.4-1.1 0.4,0.5 0.4-1.6 0.4,0.5 0.4-1.4 0.4,1.2 0.4-2.5 0.4-1.1 0.4-0.8 0.4,1.6 0.4-1.5 0.4-0.4 0.4,0.6 0.4-0.9 0.4,1.1 0.4,0.1 0.4-1.7 0.4,3.2 0.4-2.3 0.4,0.5 0.4-0.9 0.4-0.9 0.4-1.1 0.4-1 0.4-3.7 0.4,2 0.4-2.7 0.4,1.3 0.4,0.5 0.4-3.8 0.4,1.8 0.4-5 0.5,0.5 0.4-2.5 0.4-0.6 0.4-0.7 0.4,2.1 0.4-1.2 0.4,0 0.4-2 0.4-0.1 0.4-1.3 0.4-1.8 0.4,1.8 0.4-0.3 0.4-3.7 0.4-1 0.4,1.6 0.4-2.8 0.4-0.2 0.4-0.7 0.4,0.2 0.4,0.8 0.4,1.1 0.4-1.1 0.4,1.9 0.4-2.1 0.4,0.7 0.4,0.9 0.4,0 0.4,0.8 0.4-1.7 0.4,3.6 0.4-1.2 0.4,0.1 0.4,2.4 0.4,0.3 0.4,0.2 0.4,2.5 0.4,2.7 0.4-1.4 0.4,1.1 0.4,2.8 0.4,1 0.4-0.2 0.4,2.5 0.4-2.4 0.4,2.3 0.4,1.1 0.4-1.7 0.4,0.7 0.4,3.5 0.4,0.4 0.4,0.5 0.4-0.5 0.4,1.1 0.4,1.9 0.4,0.9 0.5-0.4 0.4,3 0.4,0.7 0.4-1.6 0.4,0.4 0.4,3.4 0.4-1 0.4-1.5 0.4,0.4 0.4,3.4 0.4,1.2 0.4-0.2 0.4,1.5 0.4,2.4 0.4,1.6 0.4,2.2 0.4-0.7 0.4,2.1 0.4,1 0.4,1 0.4-1.3 0.4,0.9 0.4,0.3 0.4,0 0.4,1.7 0.4,0.9 0.4-0.2 0.4,0.2 0.4,0.4 0.4-0.6 0.4,1.1 0.4,2.8 0.4-0.4 0.4,0.7 0.4,2.3 0.4,1 0.4,2 0.4,2.8 0.4-1.7 0.4,0.5 0.4,0.8 0.4-1 0.4,1.2 0.4,0.2 0.4-0.3 0.4-0.4 0.4,2.7 0.4-1.7 0.4,0.6 0.4,1.4 0.4-0.2 0.4-1.8 0.4-1.3 0.4-0.9 0.4-0.5 0.5,1.1 0.4,0.3 0.4-1.1 0.4,0.8 0.4-1.4 0.4-0.4 0.4-1 0.4-2.6 0.4-0.6 0.4-2 0.4-1.3 0.4-4.3 0.4-1.9 0.4-1.3 0.4-2.8 0.4-2 0.4-0.9 0.4-0.2 0.4-2.4 0.4-3.3 0.4,0.7 0.4-5.1 0.4-2.6 0.4-2.2 0.4-3.9 0.4-1.9 0.4,1.7 0.4-4.2 0.4-2.3 0.4-1.8 0.4-2 0.4-3.7 0.4-1 0.4-7.3 0.4-4.1 0.4-3.6 0.4-0.8 0.4-3 0.4-0.1 0.4-2.1 0.4-2.6 0.4-0.2 0.4-1.5 0.4-1.8 0.4-4.9 0.4-2.3 0.4-2.7 0.4-2.1 0.4-1.7 0.4-2.2 0.4,0.1 0.4-1.5 0.4-1.1 0.4-1.2 0.4-0.3 0.4-1.9 0.5-1.7 0.4-3 0.4-0.8 0.4-0.2 0.4-0.9 0.4-0.4 0.4,1 0.4-0.9 0.4-1.2 0.4-2.9 0.4-0.6 0.4-0.4 0.4-1.2 0.4,1.3 0.4-1.9 0.4-0.3 0.4-1.4 0.4,0.5 0.4-0.4 0.4,1.5 0.4,2.4 0.4-0.1 0.4-0.8 0.4,0.2 0.4-0.3 0.4-1.4 0.4-0.5 0.4-1.3 0.4-0.8 0.4,0.6 0.4,1.3 0.4,0.2 0.4,0.1 0.4,1.5 0.4,0.2 0.4-0.3 0.4,1.7 0.4-1.1 0.4,3.4 0.4-0.8 0.4,3.9 0.4,0.5 0.4,1.1 0.4,3.3 0.4,1.5 0.4,2.2 0.4,0.2 0.4,3.2 0.4,2.5 0.4,2.2 0.4,1.7 0.4,3 0.4,3.4 0.4,1.5 0.4-0.7 0.5,1.9 0.4,3 0.4,5.6 0.4,2.8 0.4,5.9 0.4,2.3 0.4,1.8 0.4,3.2 0.4,2.3 0.4,1.3 0.4,4.7 0.4,3.5 0.4,4.8 0.4,6.3 0.4,3.4 0.4,1.8 0.4-0.3 0.4,0.4 0.4,3.6 0.4,2.2 0.4,3.9 0.4,3.2 0.4,4.7 0.4,1.3 0.4,1.6 0.4-2.7 0.4,1.6 0.4,2.4 0.4-2.4 0.4,1.1"/>
<path stroke="#b488e8" d="M54.2,141.7l0.4,0.6 0.4,1.3 0.4,0.1 0.4-0.9 0.4,1.4 0.4-2.2 0.4,3.4 0.4,2.1 0.4,2.4 0.4,0.6 0.4-1.5 0.4,1.3 0.4,1 0.4,0.3 0.4,1.2 0.4-0.7 0.4,0.1 0.4-0.4 0.5-0.5 0.4,1.8 0.4,0.2 0.4-2 0.4-0.7 0.4,1.7 0.4-0.1 0.4,0 0.4,2.4 0.4-1.6 0.4-1.4 0.4-0.3 0.4,1.6 0.4-0.9 0.4-1.2 0.4,2.1 0.4,2.3 0.4,0.1 0.4,1.1 0.4-1 0.4,0.7 0.4-1 0.4,1.6 0.4,0 0.4,0.7 0.4-0.9 0.4,2.7 0.4-2.8 0.4,3.4 0.4-1.2 0.4,2.9 0.4,1.5 0.4,0.1 0.4,0.3 0.4,0.2 0.4-0.4 0.4-0.5 0.4,1.1 0.4,0.3 0.4,1.8 0.4,1 0.4,2.4 0.4-1.2 0.4,1.1 0.4-0.4 0.4,2.6 0.4-2.5 0.4,0.6 0.4,0.5 0.4-0.1 0.4-0.4 0.4-0.9 0.4,1 0.4-0.6 0.4-1.3 0.5-1.3 0.4,0.9 0.4-0.4 0.4-0.2 0.4-1 0.4-1.8 0.4-2.8 0.4,0.8 0.4-0.3 0.4-1.9 0.4,0.1 0.4,0.6 0.4-0.3 0.4-1.4 0.4-1.1 0.4-2.2 0.4-1.2 0.4,0.5 0.4-2.7 0.4,1.9 0.4,0.5 0.4-2.7 0.4-1 0.4,1.2 0.4-0.4 0.4,0.5 0.4-2.7 0.4-0.4 0.4,1.3 0.4-1.6 0.4,0.6 0.4-0.4 0.4-1.5 0.4-0.3 0.4,2 0.4-0.9 0.4-1.5 0.4,0.2 0.4-2.4 0.4,1.1 0.4-1.5 0.4,0.5 0.4-0.6 0.4-0.9 0.4,0 0.4-0.6 0.4-2.7 0.4-0.7 0.4-1.8 0.4-0.1 0.4-2.4 0.4-0.3 0.4,0 0.4,2 0.4-1.9 0.4-2.8 0.5,1.2 0.4-2.4 0.4-0.8 0.4-2.9 0.4-1.5 0.4-0.8 0.4-2.4 0.4,0.3 0.4-1.4 0.4,1 0.4-0.1 0.4-0.3 0.4-0.7 0.4-4 0.4,1.2 0.4-1.6 0.4,0.6 0.4-1.6 0.4,1.2 0.4-0.4 0.4-1.7 0.4,1.3 0.4,1 0.4-1.8 0.4-1.3 0.4,2.2 0.4-1.7 0.4-1.1 0.4-0.8 0.4-1.1 0.4,0.3 0.4-0.1 0.4,0.5 0.4-0.9 0.4,1.6 0.4-1.9 0.4,1 0.4,1.5 0.4,0.1 0.4-1.7 0.4,1.1 0.4,0 0.4,0.6 0.4-0.3 0.4,0.5 0.4,0.4 0.4-0.5 0.4-0.7 0.4,0.3 0.4,0 0.4,2.4 0.4,0.8 0.4-1.3 0.4,0.5 0.4,0.5 0.5,1 0.4,1.8 0.4-2.3 0.4,0.7 0.4,0.8 0.4,0.3 0.4,0.9 0.4-1.9 0.4,0.5 0.4-2.2 0.4,0.2 0.4-0.5 0.4,1.7 0.4,0.2 0.4-1.3 0.4,1.2 0.4-1.2 0.4,0 0.4,0 0.4-0.1 0.4,1.7 0.4,0 0.4-0.5 0.4-2.3 0.4,0.6 0.4,3.1 0.4-3.5 0.4,3.6 0.4,1.1 0.4-0.1 0.4-0.1 0.4,2.5 0.4,0.1 0.4-0.8 0.4,0.2 0.4-1.3 0.4,0.5 0.4,0.6 0.4,0.6 0.4,1.8 0.4-0.6 0.4,0.6 0.4,0.2 0.4-2.4 0.4,2.4 0.4-1.2 0.4,2.2 0.4,0.6 0.4,1.6 0.4-1.2 0.4-2.8 0.4,2.9 0.4-2.7 0.4,1.5 0.4,0.3 0.4-1.3 0.5,0.1 0.4,0.9 0.4,1.7 0.4,0.2 0.4,1.1 0.4-0.5 0.4,0.5 0.4,0.4 0.4,0.5 0.4,0.5 0.4-0.3 0.4,0.4 0.4,0.1 0.4,1.7 0.4-1 0.4-1.5 0.4,1.1 0.4,0.3 0.4-0.9 0.4-0.4 0.4,2.5 0.4-0.4 0.4-1.5 0.4,1.3 0.4-1.2 0.4,1 0.4-1.6 0.4,1.4 0.4-0.4 0.4,1 0.4-1.9 0.4,1.8 0.4-1.5 0.4,1.6 0.4,0.3 0.4,0.8 0.4,1.2 0.4,0.2 0.4-0.4 0.4,2.5 0.4,0.1 0.4,1.3 0.4-1.4 0.4-0.3 0.4,0.1 0.4-0.8 0.4,1.3 0.4-0.8 0.4-0.4 0.4,1.2 0.4-0.7 0.4-0.4 0.4-0.2 0.4,0.7 0.4-0.2 0.5,0.7 0.4,0.8 0.4,0.4 0.4,1 0.4-1.7 0.4,0.7 0.4-1 0.4,1.7 0.4-0.5 0.4,0.3 0.4,0.4 0.4,0.5 0.4,0 0.4-2.8 0.4-0.4 0.4,0.7 0.4-0.8 0.4-0.6 0.4,2.8 0.4,1.6 0.4-0.4 0.4,0.3 0.4,1.4 0.4-1.6 0.4-1.4 0.4,0.9 0.4-0.2 0.4-1 0.4-1.7 0.4,1.1 0.4,0.7 0.4-1 0.4,0.3 0.4,2.6 0.4,1.9 0.4-1.2 0.4-2 0.4,2.6 0.4-0.9 0.4-0.2 0.4,1.3 0.4-1.3 0.4,0.9 0.4,1.3 0.4-0.2 0.4,2 0.4,1.1 0.4-0.2 0.4-2.2 0.4,0.8 0.4,1.6 0.4-1.2 0.4-0.4 0.4-0.1 0.4,0.9 0.4,1.5 0.5,1.7 0.4-0.6 0.4,1.9 0.4,0.3 0.4,0.2 0.4-0.5 0.4-2 0.4,0.7 0.4-0.8 0.4,0 0.4-1.2 0.4,0.9 0.4,1.2 0.4,2.5 0.4,1.1 0.4-1.7 0.4-0.8 0.4,3 0.4-0.5 0.4-3.7 0.4,2.1 0.4,0.4 0.4-1.5 0.4,1.9 0.4-1.2 0.4-2.6 0.4-1.1 0.4-1 0.4,2 0.4-0.1 0.4,1.2 0.4,0 0.4-0.4 0.4,1.2 0.4,1.7 0.4,1.9 0.4-2.9 0.4,2.7 0.4,0.6 0.4,0.4 0.4,1.3 0.4-0.3 0.4-0.3 0.4,1.8 0.4-2.1 0.4,0.3 0.4,0.3 0.4-2 0.4,2.6 0.4,1.7 0.4-1.4 0.4-0.1 0.4,0.1 0.4,0.7 0.4-0.3 0.5-1.3 0.4,3.3 0.4-0.1 0.4,1.1 0.4-0.9 0.4,0.4 0.4-0.5 0.4,0.4 0.4-0.8 0.4,0.7 0.4-0.1 0.4-2 0.4,1.8 0.4,1.1 0.4,0.1 0.4,0.5 0.4-3.9 0.4,2.2 0.4-1.3 0.4,0.9 0.4-0.5 0.4-1 0.4,0.1 0.4,1.7 0.4-1.1 0.4,2.2 0.4-0.5 0.4-0.4 0.4,2.1 0.4-0.7 0.4-0.2 0.4-0.9 0.4,1.1 0.4,0.1 0.4,1.8 0.4-0.2 0.4-1 0.4,0.1 0.4-0.3 0.4,2.4 0.4-2.9 0.4,1.6 0.4-1.2 0.4,0 0.4,0.1 0.4-2.1 0.4,0.1 0.4,2.1 0.4-1.8 0.4-1 0.4-0.3 0.4,0.1 0.4,0.5 0.4,0.9 0.4-0.3 0.4-1.1 0.5-0.6 0.4-0.2 0.4,0.6 0.4-2.2 0.4,1.1 0.4,0.5 0.4-0.6 0.4,0.8 0.4,2.5 0.4-0.1 0.4-0.6 0.4-0.1 0.4,2.2 0.4,0 0.4,1.1 0.4-0.6 0.4,0.9 0.4,0.9 0.4-0.7 0.4,0.5 0.4-0.6 0.4,1.5 0.4,1.1 0.4,2.3 0.4-1 0.4-0.2 0.4,1.4 0.4-0.5 0.4,0 0.4,0.3 0.4-1.5 0.4-0.1 0.4,0.5 0.4,1.7 0.4-1.1 0.4,1.3 0.4-0.7 0.4,0 0.4-1.1 0.4,0.8 0.4,3.7 0.4-1.3 0.4,0.3 0.4-0.8 0.4,0.2 0.4-0.3 0.4,0.5 0.4,0.7 0.4-0.9 0.4-0.3 0.4,0 0.4-0.8 0.4,0 0.4-1 0.4,2.6 0.5-0.9 0.4,0 0.4,0.6 0.4,1.5 0.4,0.3 0.4,0.5 0.4-2.6 0.4,0.7 0.4-2.2 0.4-0.9 0.4-1.7 0.4-0.1 0.4-1.5 0.4-1.4 0.4,0.5 0.4-1.3 0.4-1.6 0.4-1.2 0.4,1.4 0.4-0.5 0.4-1 0.4-1.5 0.4-0.5 0.4-3.4 0.4,0.9 0.4-1.1 0.4,1.4 0.4-2.1 0.4-2.2 0.4-0.5 0.4-1.5 0.4-1.2 0.4-0.6 0.4-2.7 0.4-0.8 0.4-1.5 0.4-1.8 0.4-1.3 0.4,0.7 0.4-0.4 0.4,0 0.4,0.5 0.4-1 0.4-1.4 0.4,0.2 0.4-0.8 0.4-2 0.4,0.2 0.4,0.6 0.4-0.5 0.4,0.2 0.4-2.4 0.4,0.2 0.4-1.3 0.4-1.4 0.4-1.8 0.5-0.6 0.4-1.1 0.4-3 0.4,1.1 0.4,0.1 0.4-0.4 0.4-0.3 0.4-0.6 0.4,0.5 0.4,0.6 0.4-0.9 0.4-2.5 0.4-0.4 0.4,2 0.4-0.2 0.4-0.4 0.4,0.9 0.4,1.3 0.4,1.3 0.4,0.4 0.4,0.9 0.4-1.4 0.4,1.1 0.4,0.9 0.4,1.2 0.4,0 0.4,1 0.4,1.8 0.4-0.1 0.4,3.3 0.4-1.3 0.4-0.3 0.4-1.2 0.4,0.9 0.4,2.8 0.4-1.8 0.4,1.7 0.4,3 0.4,0.5 0.4,4.2 0.4,0.3 0.4-0.4 0.4,0.4 0.4-0.9 0.4,1 0.4,1.4 0.4,2.2 0.4,0.3 0.4,2.9 0.4,1.6 0.4-0.8 0.4,4.1 0.4,1.6 0.4-0.1 0.4,1.9 0.5-2.5 0.4,3.8 0.4,1.2 0.4,3.9 0.4,0.2 0.4,1.9 0.4,0.6 0.4,3.3 0.4,1.8 0.4,0.5 0.4,1.3 0.4,0.1 0.4,1.1 0.4,0 0.4,1.7 0.4,1.1 0.4,0.2 0.4,1.6 0.4-1.3 0.4,2 0.4,0 0.4,3.2 0.4-0.5 0.4-0.4 0.4,0.9 0.4,0.6 0.4,0.2 0.4,0.2 0.4,1.3 0.4-0.4"/>
<path stroke="#d8aa3a" d="M54.2,159.8l0.4-1.8 0.4,0.4 0.4,0.4 0.4-0.4 0.4-0.2 0.4,1.5 0.4,0.6 0.4-0.1 0.4,2.6 0.4,0.7 0.4,1.1 0.4,1.4 0.4,0.7 0.4,1.9 0.4,1.5 0.4-0.2 0.4,0.1 0.4,0 0.5,1.6 0.4,0.1 0.4,3.7 0.4,2.1 0.4,2.1 0.4-1 0.4,0.5 0.4,0.2 0.4,0 0.4-1.8 0.4-1 0.4,1 0.4-1.7 0.4-0.8 0.4-0.3 0.4,0.4 0.4-1.7 0.4,0.5 0.4,1.5 0.4-0.4 0.4-0.4 0.4,2.8 0.4,1.3 0.4,2.9 0.4,2.8 0.4,0 0.4,1.5 0.4,1 0.4,3.3 0.4,1.5 0.4,0.6 0.4,0.8 0.4,1.3 0.4,1.4 0.4,0.4 0.4,1 0.4-0.4 0.4-1.1 0.4-0.8 0.4-0.9 0.4,2.1 0.4,1.9 0.4,2.4 0.4,3.3 0.4-0.2 0.4-0.9 0.4,3.8 0.4,1.1 0.4-1.8 0.4-2.5 0.4-2.5 0.4,1.1 0.4-2.3 0.4-3.2 0.4-2.8 0.5,1.8 0.4-1.2 0.4,0.8 0.4-1.4 0.4-1.7 0.4-1.5 0.4-1.6 0.4,1.4 0.4-1.6 0.4-0.5 0.4-1.3 0.4-0.3 0.4-0.6 0.4-0.7 0.4-0.6 0.4,1.2 0.4-0.8 0.4-0.4 0.4-0.9 0.4-0.2 0.4,3.8 0.4-1.7 0.4,0.9 0.4,0.5 0.4,0.2 0.4,2 0.4-3.4 0.4-0.1 0.4,1.8 0.4,0.7 0.4-1.8 0.4-1 0.4-1.1 0.4-1.6 0.4,1.4 0.4-1 0.4-0.3 0.4-0.1 0.4-1 0.4-1.3 0.4-2.2 0.4,0 0.4,1.6 0.4-0.6 0.4,0.4 0.4-1.2 0.4-0.4 0.4-0.4 0.4-2.5 0.4-4.3 0.4,0.3 0.4-2.9 0.4,0.2 0.4-2 0.4-0.6 0.4-3.1 0.5-3.2 0.4-1.4 0.4-5.5 0.4-1.1 0.4-0.8 0.4-0.7 0.4,0.2 0.4,1.7 0.4-0.1 0.4-2.2 0.4-1 0.4,0.4 0.4-2.6 0.4,1.1 0.4-0.9 0.4-1.6 0.4,0.5 0.4-2.2 0.4-1.6 0.4,0.2 0.4-1.7 0.4-0.6 0.4,0 0.4,0.4 0.4-0.9 0.4-2.6 0.4,1.6 0.4-4 0.4-0.7 0.4,0.3 0.4-1.5 0.4-0.5 0.4-1.1 0.4,0.7 0.4-1.1 0.4,0.6 0.4,0.6 0.4-0.6 0.4-1 0.4-0.5 0.4-0.5 0.4,1.3 0.4-1.2 0.4-1.4 0.4-1.7 0.4-0.6 0.4-1.1 0.4-1.1 0.4,1.4 0.4-4.8 0.4-1.4 0.4-1.8 0.4,1.4 0.4,0 0.4-0.3 0.5,0.2 0.4,0.9 0.4-2 0.4-1.7 0.4,0.7 0.4-0.4 0.4-2.3 0.4-0.6 0.4-0.8 0.4-1.2 0.4-1.1 0.4-2.9 0.4,0.1 0.4-2.5 0.4-2.1 0.4-0.2 0.4,0.6 0.4-1.2 0.4-0.4 0.4-2.4 0.4,0 0.4-2.8 0.4-0.4 0.4-2 0.4-0.3 0.4-0.5 0.4,3.9 0.4,0.3 0.4,0.6 0.4,1.1 0.4,1.8 0.4,2.3 0.4,1.4 0.4,2.5 0.4,3.3 0.4,2.2 0.4,1.8 0.4,2.4 0.4-1.3 0.4-1 0.4,2.1 0.4,1.1 0.4-0.2 0.4-1.8 0.4,1.4 0.4,0 0.4-0.3 0.4-1.3 0.4-1.9 0.4,0.9 0.4-2.1 0.4-0.7 0.4-3.2 0.4,0.7 0.4-4.2 0.4,0.9 0.5-3.6 0.4-1.3 0.4-2.3 0.4-2.2 0.4-1.2 0.4,2 0.4-1.3 0.4,2 0.4-0.8 0.4,2.2 0.4,0.2 0.4,0.2 0.4,1.8 0.4,1 0.4-3.1 0.4,1.5 0.4,0.4 0.4,1.3 0.4,0.5 0.4-0.2 0.4-0.3 0.4-0.2 0.4,0.2 0.4-2.4 0.4-0.3 0.4,0.4 0.4-0.9 0.4-1.2 0.4,0.3 0.4-0.6 0.4-0.1 0.4-2.1 0.4,0.6 0.4-0.5 0.4-0.4 0.4,1.6 0.4,1.9 0.4,1.7 0.4-1.1 0.4,3 0.4-0.3 0.4,1 0.4,0.5 0.4-1.4 0.4,0.1 0.4,0.4 0.4,0.9 0.4,0.4 0.4,1 0.4,2.3 0.4-0.5 0.4-0.8 0.4,0.1 0.4,0.5 0.4-1.4 0.5,0.4 0.4-2.6 0.4-2 0.4-2.1 0.4-1.5 0.4-2.2 0.4,0 0.4,1.8 0.4-1.5 0.4,1 0.4,1.7 0.4-0.8 0.4,1.1 0.4-2.4 0.4-1.3 0.4,1.1 0.4-0.8 0.4,1.2 0.4-0.7 0.4-0.1 0.4-0.8 0.4-0.7 0.4-1.3 0.4,0 0.4-1.6 0.4,0.7 0.4,2.5 0.4-3 0.4,0.2 0.4,0.2 0.4-0.2 0.4-0.8 0.4,0.6 0.4,1.6 0.4,2.2 0.4,0.3 0.4,6.3 0.4,2.9 0.4,2.3 0.4-0.1 0.4-0.5 0.4,2.9 0.4,1.1 0.4,2.4 0.4,1.3 0.4,0.4 0.4,0.1 0.4-1.3 0.4,0.1 0.4,1 0.4,0.7 0.4,0.3 0.4,2.5 0.4-0.8 0.4,2.2 0.4-0.8 0.5,0.5 0.4,1.4 0.4-1.9 0.4,3.1 0.4-2 0.4,0.2 0.4,0.9 0.4,0 0.4-0.8 0.4,0.6 0.4-2.7 0.4,0.7 0.4,1.5 0.4,0.4 0.4-1.1 0.4-0.2 0.4-2.1 0.4,2.5 0.4,0 0.4,0.8 0.4-0.5 0.4,1.2 0.4-0.3 0.4,0.2 0.4-0.1 0.4,1.2 0.4-0.2 0.4-0.3 0.4,0.7 0.4-0.1 0.4,0.7 0.4,1.2 0.4-1.3 0.4,2 0.4-0.7 0.4-1 0.4,1.6 0.4,0.2 0.4-0.7 0.4,1.2 0.4,0.2 0.4,0.5 0.4,0.6 0.4,1.9 0.4-0.9 0.4,0.1 0.4,0.4 0.4,0.4 0.4,1.4 0.4-0.1 0.4-0.6 0.4-1.2 0.4,1.2 0.4-1.2 0.4-0.1 0.5,1.4 0.4-0.6 0.4,1.4 0.4-0.7 0.4-0.7 0.4-1.4 0.4,1.3 0.4,0.4 0.4-0.6 0.4,2.3 0.4,0.6 0.4,1.2 0.4-0.9 0.4,0.4 0.4-0.3 0.4,0.5 0.4-0.8 0.4,0.4 0.4,0 0.4,3.5 0.4,0.3 0.4,3.6 0.4-0.7 0.4-1.4 0.4-0.2 0.4,0.3 0.4,2.7 0.4,1 0.4,1.1 0.4,2.4 0.4-1.4 0.4,2.7 0.4,0.9 0.4,2.2 0.4-1.3 0.4,3.4 0.4,2.2 0.4-1.6 0.4,3.9 0.4,1.3 0.4,0.2 0.4,0.5 0.4,1.9 0.4,1.4 0.4,0.9 0.4-0.6 0.4,2.3 0.4,1.1 0.4,0.2 0.4,0.4 0.4,2.8 0.4,1.2 0.4,0.8 0.4,1.7 0.4,1 0.4,0.2 0.5-0.3 0.4,0.5 0.4,3.2 0.4,2.1 0.4,3.1 0.4,1.5 0.4,1.5 0.4,0.1 0.4,2.1 0.4,2.4 0.4-1.3 0.4,0.1 0.4,2.3 0.4,0.7 0.4,0.7 0.4,1.1 0.4,0.7 0.4,3.3 0.4,3.3 0.4,1 0.4,2 0.4,0 0.4-1.2 0.4,0.6 0.4,0.3 0.4,0 0.4,2.8 0.4-2 0.4-0.3 0.4,0.8 0.4-0.8 0.4-0.6 0.4-1.7 0.4-0.5 0.4,0.5 0.4-0.3 0.4-1.7 0.4-1.6 0.4-0.9 0.4,0.6 0.4-0.2 0.4-2.9 0.4,0.3 0.4-0.7 0.4-0.5 0.4,0.5 0.4-2 0.4,1.8 0.4,1.6 0.4-1.3 0.4-0.9 0.4-0.3 0.4,1 0.4-1.3 0.4-0.6 0.5,0.9 0.4-1.9 0.4-0.7 0.4-0.3 0.4,1.3 0.4,0.6 0.4-0.9 0.4-2.7 0.4-0.6 0.4,0.6 0.4-3.6 0.4,0.7 0.4-0.8 0.4,0.1 0.4-0.6 0.4-3.7 0.4-2.8 0.4-1.4 0.4-2.1 0.4-1.4 0.4-4 0.4,1.6 0.4-2.1 0.4-1.2 0.4-2.5 0.4-2.7 0.4-1.2 0.4-4.7 0.4-1.8 0.4-0.6 0.4-3.2 0.4-3.4 0.4-2.6 0.4-0.3 0.4-1 0.4-2.6 0.4-3.2 0.4-3.5 0.4-3.3 0.4-1.5 0.4-5.8 0.4-0.9 0.4-1 0.4-2 0.4,0.3 0.4-0.4 0.4-3.2 0.4-0.8 0.4-3.6 0.4,0.5 0.4-2 0.4,1.1 0.4-1.1 0.4-0.5 0.4-0.2 0.4-0.5 0.5,0.3 0.4-1 0.4-0.5 0.4,2.4 0.4-1.7 0.4,2.2 0.4,0.4 0.4,3.1 0.4-0.2 0.4,1.5 0.4,2.9 0.4-0.8 0.4,0.8 0.4,1.2 0.4-0.2 0.4,0.8 0.4,0.3 0.4,1.4 0.4,1 0.4-0.8 0.4-0.4 0.4,0.4 0.4,0.2 0.4,1.8 0.4-2.1 0.4,0.3 0.4,0.9 0.4-2.2 0.4-0.2 0.4,1.2 0.4,2.5 0.4-0.5 0.4,1.3 0.4,0.4 0.4,0.1 0.4,1.2 0.4-1.3 0.4,2.4 0.4-1.5 0.4,1.2 0.4,0.4 0.4-0.8 0.4,1.9 0.4,2.9 0.4-2.1 0.4,3.6 0.4,2.5 0.4-2.7 0.4,0.7 0.4,2 0.4,0.7 0.4,1.8 0.4,2.4 0.4,3.5 0.4,2.3 0.5,2.6 0.4,2.2 0.4,5.1 0.4,0.8 0.4,2 0.4-0.3 0.4,1.2 0.4,0.4 0.4,0.9 0.4,4.1 0.4,1.5 0.4,2.4 0.4,0.5 0.4,2.8 0.4,3 0.4-0.1 0.4,0.3 0.4-2 0.4,0.4 0.4,2.9 0.4-0.7 0.4,0 0.4,0.2 0.4,2.2 0.4-1.1 0.4-1.6 0.4-0.5 0.4-1.7 0.4-2.9 0.4,0.2"/>
<path stroke="#3cc8cc" d="M54.2,143.2l0.4,2 0.4,5.9 0.4,6.8 0.4,5.3 0.4,4.5 0.4,1.9 0.4,3.8 0.4,1.7 0.4,2.6 0.4,3.6 0.4,2 0.4,3.5 0.4,1 0.4,0.4 0.4-1.5 0.4-2.6 0.4,1.8 0.4-2.3 0.5-2.7 0.4-1.1 0.4,0.4 0.4,0.5 0.4-0.4 0.4,0.7 0.4-1.2 0.4,1.7 0.4,1.9 0.4-1.1 0.4-0.2 0.4-0.1 0.4,1.8 0.4-0.2 0.4-1.5 0.4-2.6 0.4-0.9 0.4-1.6 0.4-1.9 0.4,0.4 0.4-2 0.4,0.8 0.4-0.4 0.4,3.8 0.4,0.4 0.4,3.1 0.4-1 0.4,2.1 0.4,0.7 0.4-1.6 0.4,2 0.4,1.7 0.4,0.1 0.4,0.6 0.4,0 0.4-2.5 0.4,1.4 0.4-1.8 0.4,0 0.4-1.6 0.4-0.5 0.4-1.8 0.4-2.8 0.4-3 0.4,0.6 0.4-1.2 0.4-2.9 0.4,0.4 0.4-1 0.4,0.1 0.4-1.8 0.4,0.4 0.4-0.1 0.4-3.1 0.4,0.1 0.5-2.5 0.4-0.2 0.4-1.3 0.4-1.1 0.4-1.2 0.4,0 0.4-1.1 0.4-1.1 0.4-2 0.4-2.4 0.4-0.9 0.4-1.9 0.4-3.4 0.4,0 0.4-1.2 0.4-0.2 0.4-1.2 0.4-1.2 0.4,0.1 0.4-0.9 0.4-1.1 0.4-2.2 0.4-0.4 0.4-1.9 0.4,1 0.4-0.6 0.4-1.3 0.4-0.4 0.4-1.4 0.4-1.4 0.4-1.3 0.4-1.6 0.4,0.8 0.4,0.1 0.4-3.4 0.4-0.6 0.4-3.3 0.4,0.6 0.4-3.9 0.4-1.1 0.4-2.5 0.4-0.7 0.4-2.2 0.4,0.8 0.4-1.7 0.4-4.3 0.4-1.8 0.4-1.8 0.4-2.9 0.4-2.1 0.4-2.3 0.4,0.7 0.4,1.1 0.4-1.4 0.4-2.3 0.4-0.6 0.5-0.8 0.4,3 0.4,0.9 0.4,4 0.4,2 0.4,2.5 0.4-2 0.4,2.1 0.4-0.5 0.4,0.6 0.4-1.7 0.4-1.8 0.4,0.6 0.4-0.1 0.4-1.1 0.4,0.3 0.4,1 0.4-3.3 0.4,2.5 0.4-1.8 0.4,0.7 0.4-0.4 0.4,0.3 0.4,0.5 0.4-1.1 0.4,0.9 0.4-0.6 0.4-1.2 0.4,0 0.4,0.3 0.4-0.1 0.4,0.7 0.4,2 0.4-2.7 0.4,0.9 0.4-1.6 0.4,0.7 0.4-0.5 0.4,0.5 0.4-0.5 0.4,1 0.4-0.5 0.4-0.1 0.4-0.4 0.4-0.1 0.4,0.4 0.4,1.8 0.4-1.5 0.4,0.1 0.4,0.9 0.4,0.6 0.4-0.4 0.4,0.8 0.4,0.2 0.4,0.6 0.5-0.3 0.4-1.9 0.4,1.8 0.4-0.4 0.4-2 0.4,1.3 0.4-0.2 0.4,1 0.4-0.2 0.4,1.1 0.4,0.3 0.4-0.6 0.4-0.1 0.4,0.4 0.4,1.6 0.4,0.7 0.4,0 0.4-0.9 0.4,0.6 0.4,2.5 0.4,1.3 0.4-0.4 0.4,2.5 0.4,0.5 0.4,0.6 0.4-0.3 0.4,1.4 0.4-0.8 0.4,1.4 0.4,1.2 0.4,1.8 0.4-1.6 0.4,2 0.4,0.9 0.4-0.2 0.4,1.5 0.4-0.6 0.4,1.5 0.4,0.1 0.4,1.3 0.4,0.3 0.4,2.5 0.4-1.1 0.4,1.8 0.4-1.1 0.4,0 0.4,1.4 0.4-0.1 0.4-2.3 0.4-0.5 0.4,1.8 0.4-3.3 0.4,0.6 0.4-0.7 0.4-1.1 0.4-0.5 0.5-2.3 0.4,0.2 0.4-1.7 0.4-1 0.4-3.2 0.4-0.8 0.4-1.5 0.4-1 0.4,0.6 0.4-1 0.4,1.8 0.4-0.4 0.4-0.3 0.4,1.9 0.4,0.6 0.4,1.3 0.4,0.8 0.4,1.1 0.4,0.2 0.4,0.5 0.4,0.3 0.4-0.4 0.4,0.5 0.4,3.7 0.4,2 0.4,1.2 0.4,1.3 0.4,0.7 0.4-0.1 0.4,5.4 0.4-0.8 0.4,0.3 0.4,3.7 0.4,1.3 0.4-0.2 0.4,2.7 0.4-0.4 0.4,0.5 0.4,1.6 0.4,0.8 0.4,0.9 0.4,1 0.4-1.3 0.4,1.5 0.4-2.4 0.4,1.6 0.4,0.8 0.4-1.2 0.4,2 0.4-1.3 0.4-0.2 0.4-0.7 0.4-0.5 0.4-0.3 0.4-0.9 0.5-0.9 0.4-0.9 0.4,0.3 0.4,0.7 0.4,2.4 0.4,1.1 0.4,0.9 0.4,0.8 0.4-2 0.4-0.2 0.4,2.4 0.4,0.9 0.4-1.1 0.4,1.3 0.4-1 0.4,1.5 0.4,1.8 0.4-1 0.4,2.7 0.4,0.7 0.4,2.9 0.4,1.9 0.4,1.4 0.4-0.4 0.4,0.5 0.4,2.4 0.4,1.3 0.4-0.9 0.4,0.4 0.4,0.7 0.4,1.5 0.4-0.2 0.4,0.5 0.4-0.8 0.4,0.8 0.4-2.6 0.4,0.3 0.4,0.2 0.4-2.8 0.4-0.2 0.4,0.5 0.4,0.6 0.4-3.5 0.4-0.6 0.4-0.8 0.4-1.8 0.4-1.6 0.4,0.8 0.4-2.6 0.4-0.3 0.4-1 0.4,0.7 0.4,0.7 0.4,0.6 0.4-2.4 0.4-1.1 0.5-0.4 0.4,0.1 0.4-2.2 0.4-0.3 0.4-2.1 0.4-1 0.4-1.5 0.4-0.2 0.4-0.9 0.4-0.2 0.4-1.4 0.4,0 0.4-2 0.4-0.6 0.4,0.9 0.4-1.4 0.4-0.8 0.4-1.3 0.4-0.4 0.4,0.5 0.4-3.4 0.4,2.8 0.4-2.5 0.4,0.6 0.4-1.5 0.4,0.2 0.4,0.4 0.4,0.4 0.4,0.4 0.4,0.1 0.4,1.4 0.4-1 0.4,0.5 0.4-2.5 0.4,0.8 0.4,1.4 0.4-1.9 0.4-0.6 0.4-0.2 0.4-0.8 0.4,0.1 0.4-0.5 0.4,1.2 0.4,0.7 0.4-2.1 0.4,1.9 0.4,0.5 0.4-0.1 0.4-0.4 0.4-0.5 0.4,0.6 0.4-0.6 0.4,0.1 0.4-1.2 0.4-1.2 0.5,0.4 0.4-0.9 0.4,0.3 0.4-2 0.4,1.9 0.4-1.3 0.4,2.6 0.4,1.6 0.4-0.4 0.4-0.5 0.4,2.4 0.4,0.2 0.4-0.2 0.4,0.9 0.4,0.5 0.4,2.5 0.4,0.3 0.4,1.4 0.4,2.3 0.4,0.6 0.4,2 0.4-0.2 0.4,1.2 0.4,2 0.4-1.3 0.4,1.3 0.4,0.2 0.4,2.6 0.4,1.8 0.4,0.9 0.4-0.5 0.4,0.8 0.4,2.6 0.4,1.9 0.4,2 0.4,1.1 0.4-1 0.4-1.7 0.4,4.5 0.4,3.3 0.4,0.6 0.4,0.9 0.4-0.5 0.4,2.6 0.4,1.1 0.4,0.7 0.4,0.3 0.4,2.7 0.4,1 0.4,1.4 0.4,1.5 0.4,1.9 0.4,2 0.4,0.5 0.4,1.1 0.4,2.8 0.5,1.4 0.4-1.5 0.4-1.1 0.4,0.1 0.4,1.7 0.4,1.6 0.4-0.5 0.4,3.6 0.4,0.9 0.4,0.4 0.4,1.5 0.4-1.2 0.4,1.6 0.4-4.3 0.4,0.2 0.4-2.2 0.4-3.1 0.4,0.8 0.4-3.2 0.4-1.5 0.4-0.7 0.4-2.3 0.4-0.7 0.4-1.8 0.4-0.8 0.4,0.8 0.4-0.6 0.4-1.6 0.4,0.6 0.4-1.4 0.4,1.6 0.4-1.7 0.4,0 0.4,0.3 0.4-0.9 0.4-0.8 0.4,0.5 0.4-2 0.4-0.7 0.4-0.5 0.4-0.5 0.4-1 0.4-1.2 0.4-1.1 0.4,2 0.4,0.7 0.4-0.6 0.4-0.8 0.4-0.1 0.4-0.7 0.4,0.5 0.4,0.4 0.4-0.5 0.4,0.1 0.4-2.6 0.5-0.2 0.4-0.6 0.4,0 0.4-0.4 0.4,0.4 0.4,0.1 0.4-0.5 0.4-1.3 0.4-1.1 0.4,1 0.4-1.2 0.4,1.1 0.4-2 0.4-0.7 0.4-0.9 0.4-0.3 0.4-0.9 0.4,0.7 0.4-0.8 0.4-2.3 0.4-0.1 0.4-0.9 0.4-2.6 0.4,0.3 0.4,0.8 0.4-1.9 0.4-1.3 0.4,1 0.4-2.7 0.4-2 0.4-0.2 0.4-2.1 0.4,0.2 0.4-1.2 0.4-1.4 0.4-1.7 0.4-1.2 0.4-5.1 0.4,1.2 0.4-2.9 0.4-1.1 0.4-3.9 0.4-3.8 0.4,0.7 0.4,0.5 0.4-0.5 0.4-1.3 0.4,0.3 0.4-1.3 0.4-0.4 0.4-1.6 0.4,0.1 0.4,2 0.4,0.9 0.4-0.2 0.4,3.9 0.5,2.1 0.4,1.3 0.4,2.4 0.4,0.5 0.4,0.7 0.4,1.3 0.4-0.1 0.4,0.5 0.4,1.2 0.4,0.9 0.4,0 0.4,2.4 0.4,3.1 0.4,0 0.4-0.5 0.4-1.8 0.4,2.1 0.4-0.4 0.4,2.8 0.4-0.4 0.4,2.7 0.4,0.2 0.4-0.1 0.4-0.1 0.4,2.6 0.4-1.6 0.4,1.3 0.4,0.9 0.4,0.5 0.4-0.6 0.4-0.1 0.4-1.1 0.4,0.7 0.4,0.1 0.4,0.5 0.4,2.1 0.4,1.5 0.4,1.1 0.4-0.2 0.4,1.3 0.4,1.5 0.4,2.3 0.4,2 0.4,1.8 0.4,0.3 0.4-2 0.4,1.2 0.4,2.1 0.4,3 0.4,1.1 0.4,1.7 0.4,1.1 0.4,1.9 0.4,1.1 0.4-0.4 0.5,0.4 0.4,1.5 0.4,1.9 0.4-1.3 0.4,3.4 0.4-2.8 0.4,2.2 0.4,3.2 0.4-1.2 0.4,3.2 0.4-0.4 0.4-0.4 0.4,1.6 0.4,0.8 0.4,0.8 0.4,0.5 0.4,0.7 0.4,0.9 0.4-1.5 0.4,2.3 0.4-3.5 0.4-0.8 0.4-3.3 0.4-1.8 0.4-0.6 0.4-3.7 0.4-2.1 0.4-1.8 0.4-2.9 0.4-4"/>
<path stroke="#8a5c5c" d="M54.2,216l0.4-0.7 0.4-1.7 0.4-4.3 0.4-1.4 0.4-3.5 0.4-1.7 0.4-3 0.4-0.9 0.4-0.4 0.4-3.8 0.4-3.8 0.4-4.2 0.4-3.2 0.4-5.2 0.4-2.8 0.4-4.9 0.4-0.1 0.4-1.5 0.5-3.7 0.4-1.9 0.4-5.9 0.4-3.2 0.4-4 0.4-2.1 0.4-2.4 0.4-0.8 0.4-3.7 0.4-0.5 0.4-1.8 0.4-1.8 0.4-1.4 0.4-0.1 0.4-3.1 0.4-0.8 0.4-1.3 0.4-2 0.4-0.8 0.4-0.8 0.4-2.4 0.4-0.5 0.4-3.1 0.4-0.8 0.4-1.1 0.4-0.3 0.4-2.4 0.4-2 0.4-1.3 0.4-0.6 0.4-2.8 0.4-2.7 0.4-3.6 0.4-1.4 0.4-3.5 0.4-1.5 0.4-1.3 0.4-0.5 0.4-3.3 0.4-0.8 0.4-0.9 0.4-1.3 0.4-0.1 0.4-1.6 0.4,1.2 0.4,0.5 0.4-0.2 0.4-3.4 0.4,0.9 0.4-3.6 0.4-1.8 0.4,0.1 0.4-1.2 0.4,0.1 0.4,1.1 0.5,0.3 0.4,0.4 0.4,1.9 0.4-0.6 0.4,2.9 0.4,1.8 0.4,5.2 0.4-0.1 0.4,4.3 0.4-1.5 0.4,1.6 0.4,0.9 0.4,1.8 0.4,1 0.4,3.1 0.4-0.3 0.4-0.4 0.4,0.1 0.4,2.9 0.4-1.3 0.4-1.3 0.4-2.2 0.4,0.2 0.4-0.5 0.4-2.4 0.4,1.3 0.4-0.4 0.4,4 0.4,0 0.4,2.7 0.4,3.6 0.4,1.7 0.4,2.5 0.4,0.5 0.4,4.4 0.4,5 0.4,3.1 0.4,1.6 0.4,6.2 0.4,5.7 0.4,5.1 0.4,3.7 0.4,3.1 0.4,3.6 0.4,4 0.4,5.1 0.4,4.2 0.4,3.1 0.4,1.5 0.4,4.4 0.4,2.4 0.4,4.3 0.4,5.3 0.4-0.1 0.4-0.7 0.4,1.5 0.5,2.5 0.4,1.4 0.4-1 0.4,1.8 0.4,0.4 0.4,1 0.4-1 0.4,2.1 0.4,1.5 0.4,2.6 0.4,0.5 0.4,0.2 0.4,0.6 0.4,1.7 0.4-1.3 0.4-1 0.4,0.3 0.4,1.2 0.4,1.5 0.4-1.2 0.4-1.7 0.4-2.1 0.4,1.8 0.4-3.5 0.4,0.2 0.4-1.5 0.4-2.2 0.4,0.6 0.4,1.6 0.4-3.1 0.4-1.8 0.4-0.1 0.4-2.2 0.4-1.8 0.4-3.2 0.4-0.5 0.4-3.6 0.4-0.1 0.4-2.3 0.4-1.2 0.4-0.4 0.4-0.9 0.4-1.6 0.4-3.2 0.4,0.5 0.4-4.1 0.4-2 0.4-2.3 0.4-2.9 0.4-4.2 0.4-3.5 0.4-2.1 0.4-1.4 0.4,0.1 0.4-5 0.5-1 0.4-3 0.4-3 0.4,1.2 0.4-1.7 0.4-2.4 0.4-2.1 0.4-1.9 0.4-2 0.4-2.8 0.4-1.1 0.4,0.3 0.4-2.8 0.4-1.9 0.4-5 0.4-1.9 0.4-5.9 0.4-2.5 0.4-3.9 0.4,0.3 0.4-2.6 0.4-3.8 0.4,0.5 0.4,1.8 0.4,2.2 0.4,0.7 0.4,0.8 0.4,1.8 0.4,2 0.4-1.1 0.4,0.5 0.4-1.1 0.4-0.7 0.4,0.2 0.4-0.4 0.4-2.2 0.4,0.1 0.4,0.9 0.4-1.1 0.4,2.1 0.4-0.9 0.4,1.4 0.4-0.1 0.4,0.2 0.4,0.2 0.4,1.3 0.4-0.6 0.4,1 0.4,0.4 0.4-1.3 0.4,2.1 0.4,2.4 0.4-0.4 0.4-1.4 0.4,1.8 0.4,1.3 0.5,0.5 0.4,0.3 0.4,0.1 0.4,2.5 0.4,0.3 0.4,0.7 0.4,1.3 0.4-0.7 0.4,0.6 0.4,0 0.4,0.6 0.4,1.8 0.4,1 0.4,0.2 0.4,0.3 0.4,1.8 0.4,3.6 0.4-2.6 0.4-0.7 0.4,2.5 0.4,4.3 0.4,1.9 0.4,4 0.4-1.2 0.4-0.1 0.4,2 0.4,2.7 0.4,1.7 0.4,2.8 0.4,2.9 0.4,1.5 0.4,1 0.4,0.9 0.4,0.2 0.4,0 0.4,1.7 0.4,0 0.4,0.5 0.4,2.6 0.4-0.8 0.4-0.2 0.4,2.6 0.4-1.5 0.4,2.8 0.4-0.6 0.4-2 0.4,4.2 0.4,0.6 0.4-0.1 0.4,0.7 0.4-1.4 0.4,0.5 0.4,1.7 0.4,1.1 0.4,1.6 0.5-2.2 0.4-3.4 0.4-0.8 0.4-1.3 0.4-1.2 0.4-2.7 0.4-1.4 0.4-3 0.4-2.6 0.4-0.4 0.4-1 0.4-1.9 0.4-1.4 0.4-2.5 0.4-1 0.4-1 0.4-0.9 0.4-1.7 0.4,0.2 0.4-3.2 0.4-1.6 0.4-3.9 0.4-1.2 0.4-2.5 0.4-0.2 0.4-2 0.4,1.2 0.4-0.9 0.4-3.2 0.4-1.4 0.4,1.9 0.4-3.6 0.4-1.2 0.4-0.5 0.4-1.6 0.4-2 0.4-2.1 0.4-0.5 0.4-1.6 0.4,0.7 0.4,1 0.4-3.5 0.4-0.6 0.4-2.3 0.4-2.1 0.4-0.9 0.4-2.5 0.4-0.5 0.4-0.8 0.4,1.4 0.4-2.3 0.4,0.3 0.4,0.2 0.4-4.1 0.4,3 0.4,0.3 0.5-3.2 0.4,0.5 0.4-3.4 0.4-0.4 0.4-2.7 0.4,0.7 0.4,0.9 0.4-2.4 0.4-1.5 0.4-1.5 0.4-1.2 0.4,0.1 0.4,1 0.4-1.1 0.4,1.8 0.4-1.7 0.4,1 0.4-0.3 0.4-0.8 0.4,0 0.4-1 0.4,0.7 0.4,0.9 0.4-0.6 0.4,2.2 0.4,0.8 0.4-1.3 0.4,0.6 0.4,0.3 0.4,2.5 0.4,2 0.4,2.6 0.4,0.3 0.4,3.4 0.4-1.2 0.4,3.5 0.4,0.1 0.4,1.5 0.4,4 0.4,0.5 0.4,3.1 0.4-1.9 0.4,1 0.4,0.3 0.4,3.4 0.4,0.8 0.4,3.6 0.4,1.8 0.4,4 0.4-1 0.4,3.9 0.4,1.6 0.4,1.6 0.4,0.1 0.4,0.6 0.5,2 0.4-0.1 0.4,1.5 0.4,0 0.4,3.9 0.4-0.7 0.4,1.2 0.4,0 0.4,0.2 0.4-0.3 0.4,0.6 0.4-1.2 0.4,1.6 0.4,1 0.4,1.6 0.4,2.2 0.4,0 0.4,0.2 0.4,3.1 0.4-1 0.4,0.2 0.4,0.1 0.4,0.8 0.4,2.8 0.4,0.9 0.4,2.1 0.4,1 0.4,3.1 0.4,2.6 0.4-1.5 0.4,1.5 0.4,4.1 0.4,2.7 0.4,2.3 0.4,3.4 0.4,3.1 0.4,0.2 0.4,2.4 0.4,0.2 0.4,2.7 0.4-1 0.4,3.3 0.4,1 0.4,0.8 0.4,2.8 0.4-0.4 0.4,2.6 0.4,1.4 0.4,2.5 0.4,1 0.4,1.6 0.4,1.9 0.4,1.7 0.4,2.4 0.4-0.6 0.4,2.5 0.5,1.6 0.4,1.4 0.4-0.9 0.4,0 0.4-0.1 0.4-0.7 0.4-1.5 0.4-1.7 0.4,0.9 0.4-2.7 0.4-2.8 0.4-0.8 0.4,0 0.4-3.7 0.4-1.6 0.4-1.1 0.4-1.1 0.4-0.2 0.4,4.4 0.4,3.2 0.4,3.6 0.4,2.3 0.4,1.4 0.4,3.4 0.4,1.9 0.4-0.7 0.4,0.3 0.4,3.8 0.4,1.3 0.4-0.6 0.4,1.3 0.4-0.4 0.4-0.6 0.4,0.1 0.4,2.2 0.4,0.3 0.4,0.6 0.4,1.8 0.4,0.4 0.4,0.7 0.4,0.5 0.4,2.7 0.4-2.2 0.4,1.2 0.4,0 0.4-1 0.4-1.2 0.4,0.7 0.4-1.2 0.4,2.3 0.4-0.4 0.4,0.8 0.4,2.9 0.4-3.4 0.4,2.2 0.5-2.2 0.4,0.2 0.4-1.2 0.4,0.7 0.4-2.2 0.4-0.2 0.4,1.1 0.4-2.7 0.4-0.7 0.4-3.1 0.4-0.6 0.4-4.5 0.4-1.7 0.4-0.1 0.4,0 0.4-3.4 0.4-2.7 0.4-3.2 0.4-4.6 0.4-3.3 0.4-4.2 0.4-2.6 0.4-0.3 0.4-2.4 0.4-4.4 0.4-3 0.4-4.9 0.4-3.8 0.4-5.8 0.4-2.9 0.4-1.5 0.4-1.6 0.4-3.7 0.4-3.6 0.4-4.2 0.4-5.2 0.4-2.2 0.4-5.5 0.4-2 0.4-2.2 0.4-3.3 0.4,0.1 0.4-4.4 0.4-4.7 0.4-1.7 0.4-5.2 0.4,0.4 0.4-1.9 0.4,0.2 0.4-2.2 0.4-1.8 0.4-2.4 0.4-1.7 0.4-0.7 0.4,0.2 0.4-1.4 0.5-0.2 0.4-0.7 0.4-3.6 0.4-0.9 0.4-3.6 0.4,0.3 0.4-1.2 0.4-2.1 0.4-1.5 0.4-0.3 0.4-2.6 0.4-3.8 0.4-3.3 0.4-1.9 0.4-2 0.4-0.2 0.4-2.7 0.4,2.1 0.4-3.1 0.4,0 0.4-2.9 0.4,2.4 0.4-0.5 0.4,0.1 0.4-1.5 0.4-2.6 0.4,1.1 0.4-1 0.4-1 0.4,0.7 0.4-0.8 0.4-0.6 0.4,2.7 0.4-1.4 0.4,2.1 0.4,0.5 0.4,0 0.4,1.1 0.4-1.3 0.4,1.9 0.4,0.3 0.4-1.5 0.4,1 0.4,2.2 0.4,2 0.4-0.4 0.4,4 0.4,0.2 0.4-0.7 0.4,2.2 0.4,3.9 0.4,4.5 0.4,3.7 0.4,4.1 0.4,1 0.5,1.8 0.4,4.1 0.4,3 0.4,4.7 0.4,4.4 0.4,0.9 0.4,4.1 0.4,6.5 0.4,5.3 0.4,5.6 0.4,3.5 0.4,2.2 0.4,5.7 0.4,5.7 0.4,2.5 0.4,3.9 0.4,0.1 0.4-1.6 0.4-1.4 0.4-0.6 0.4-0.6 0.4,0.5 0.4,0.6 0.4-1.4 0.4-0.7 0.4,1.1 0.4-0.2 0.4-1.7 0.4,0.9 0.4,1.4"/></g>
<line x1="53.65" y1="140.6" x2="320.0" y2="140.6" stroke="#111" stroke-width="1.55" stroke-dasharray="3.6 3.755"/>
<rect x="136.0" y="17.10" width="19.95" height="229.20" fill="#d3d3d3" fill-opacity="0.55"/>
<path d="M50.4,33.5H54.4V247.0H320.0" fill="none" stroke="#555" stroke-width="1.45"/>
<path d="M50.4,33.5H54.4M50.4,69.1H54.4M50.4,104.6H54.4M50.4,140.2H54.4M50.4,175.8H54.4M50.4,211.3H54.4M50.4,246.8H54.4M54.40,247.0V251.0M72.67,247.0V251.0M90.94,247.0V251.0M109.21,247.0V251.0M127.48,247.0V251.0M145.75,247.0V251.0M164.02,247.0V251.0M182.29,247.0V251.0M200.56,247.0V251.0M218.83,247.0V251.0M237.10,247.0V251.0M255.37,247.0V251.0M273.64,247.0V251.0M291.91,247.0V251.0M310.18,247.0V251.0" stroke="#555" stroke-width="1.3" fill="none"/>
<text transform="translate(47,36.75) scale(1,1.06)" text-anchor="end" font-size="8.9">0.75</text>
<text transform="translate(47,72.30) scale(1,1.06)" text-anchor="end" font-size="8.9">0.50</text>
<text transform="translate(47,107.85) scale(1,1.06)" text-anchor="end" font-size="8.9">0.25</text>
<text transform="translate(47,143.40) scale(1,1.06)" text-anchor="end" font-size="8.9">0.00</text>
<text transform="translate(47,178.95) scale(1,1.06)" text-anchor="end" font-size="8.9">-0.25</text>
<text transform="translate(47,214.50) scale(1,1.06)" text-anchor="end" font-size="8.9">-0.50</text>
<text transform="translate(47,250.05) scale(1,1.06)" text-anchor="end" font-size="8.9">-0.75</text>
<text transform="translate(54.40,258.9) scale(0.5,0.54)" text-anchor="middle" font-size="12" style="stroke-width:0.45px">2003</text>
<text transform="translate(72.67,258.9) scale(0.5,0.54)" text-anchor="middle" font-size="12" style="stroke-width:0.45px">2004</text>
<text transform="translate(90.94,258.9) scale(0.5,0.54)" text-anchor="middle" font-size="12" style="stroke-width:0.45px">2005</text>
<text transform="translate(109.21,258.9) scale(0.5,0.54)" text-anchor="middle" font-size="12" style="stroke-width:0.45px">2006</text>
<text transform="translate(127.48,258.9) scale(0.5,0.54)" text-anchor="middle" font-size="12" style="stroke-width:0.45px">2007</text>
<text transform="translate(145.75,258.9) scale(0.5,0.54)" text-anchor="middle" font-size="12" style="stroke-width:0.45px">2008</text>
<text transform="translate(164.02,258.9) scale(0.5,0.54)" text-anchor="middle" font-size="12" style="stroke-width:0.45px">2009</text>
<text transform="translate(182.29,258.9) scale(0.5,0.54)" text-anchor="middle" font-size="12" style="stroke-width:0.45px">2010</text>
<text transform="translate(200.56,258.9) scale(0.5,0.54)" text-anchor="middle" font-size="12" style="stroke-width:0.45px">2011</text>
<text transform="translate(218.83,258.9) scale(0.5,0.54)" text-anchor="middle" font-size="12" style="stroke-width:0.45px">2012</text>
<text transform="translate(237.10,258.9) scale(0.5,0.54)" text-anchor="middle" font-size="12" style="stroke-width:0.45px">2013</text>
<text transform="translate(255.37,258.9) scale(0.5,0.54)" text-anchor="middle" font-size="12" style="stroke-width:0.45px">2014</text>
<text transform="translate(273.64,258.9) scale(0.5,0.54)" text-anchor="middle" font-size="12" style="stroke-width:0.45px">2015</text>
<text transform="translate(291.91,258.9) scale(0.5,0.54)" text-anchor="middle" font-size="12" style="stroke-width:0.45px">2016</text>
<text transform="translate(310.18,258.9) scale(0.5,0.54)" text-anchor="middle" font-size="12" style="stroke-width:0.45px">2017</text>
<text x="187.1" y="276.9" text-anchor="middle" font-size="18" class="big">date</text>
<text transform="translate(14.50,196.37) rotate(-90)" font-size="15.5" class="big">&#916;</text>
<text transform="translate(14.50,185.30) rotate(-90) scale(1.12,1)" font-size="15.5" class="big">&#961;</text>
<text transform="translate(19.30,175.50) rotate(-90)" font-size="12.1" class="big">DCCA</text>
<text transform="translate(14.50,135.80) rotate(-90)" font-size="18" class="big">(s = 128)</text>
<rect x="321.5" y="1.7" width="55.8" height="109.5" fill="#fff" stroke="#999" stroke-width="1"/>
<line x1="322.9" x2="342.3" y1="8.00" y2="8.00" stroke="#c4c4c4" stroke-width="1.6"/>
<text transform="translate(345,11.40) scale(1,1.07)" font-size="8.75" style="stroke-width:0.18px">CAC40</text>
<line x1="322.9" x2="342.3" y1="18.77" y2="18.77" stroke="#f0a4a4" stroke-width="1.6"/>
<text transform="translate(345,22.17) scale(1,1.07)" font-size="8.75" style="stroke-width:0.18px">TSX</text>
<line x1="322.9" x2="342.3" y1="29.54" y2="29.54" stroke="#a4c0ee" stroke-width="1.6"/>
<text transform="translate(345,32.94) scale(1,1.07)" font-size="8.75" style="stroke-width:0.18px">DAX</text>
<line x1="322.9" x2="342.3" y1="40.31" y2="40.31" stroke="#a4d8bc" stroke-width="1.6"/>
<text transform="translate(345,43.71) scale(1,1.07)" font-size="8.75" style="stroke-width:0.18px">MIB</text>
<line x1="322.9" x2="342.3" y1="51.08" y2="51.08" stroke="#dcc4f4" stroke-width="1.6"/>
<text transform="translate(345,54.48) scale(1,1.07)" font-size="8.75" style="stroke-width:0.18px">FTSE</text>
<line x1="322.9" x2="342.3" y1="61.85" y2="61.85" stroke="#f0d8a0" stroke-width="1.6"/>
<text transform="translate(345,65.25) scale(1,1.07)" font-size="8.75" style="stroke-width:0.18px">MOEX</text>
<line x1="322.9" x2="342.3" y1="72.62" y2="72.62" stroke="#a0e8e8" stroke-width="1.6"/>
<text transform="translate(345,76.02) scale(1,1.07)" font-size="8.75" style="stroke-width:0.18px">NIKKEI</text>
<line x1="322.9" x2="342.3" y1="83.39" y2="83.39" stroke="#d4b4b4" stroke-width="1.6"/>
<text transform="translate(345,86.79) scale(1,1.07)" font-size="8.75" style="stroke-width:0.18px">SSE</text>
<line x1="322.9" x2="342.3" y1="94.16" y2="94.16" stroke="#222" stroke-width="1.5" stroke-dasharray="3.5 4"/>
<text transform="translate(345,97.56) scale(1,1.07)" font-size="8.75" style="stroke-width:0.18px">UL 95%</text>
<line x1="322.9" x2="342.3" y1="104.93" y2="104.93" stroke="#222" stroke-width="1.5" stroke-dasharray="3.5 4"/>
<text transform="translate(345,108.33) scale(1,1.07)" font-size="8.75" style="stroke-width:0.18px">LL 95%</text>
</g>
</svg></body></html>
